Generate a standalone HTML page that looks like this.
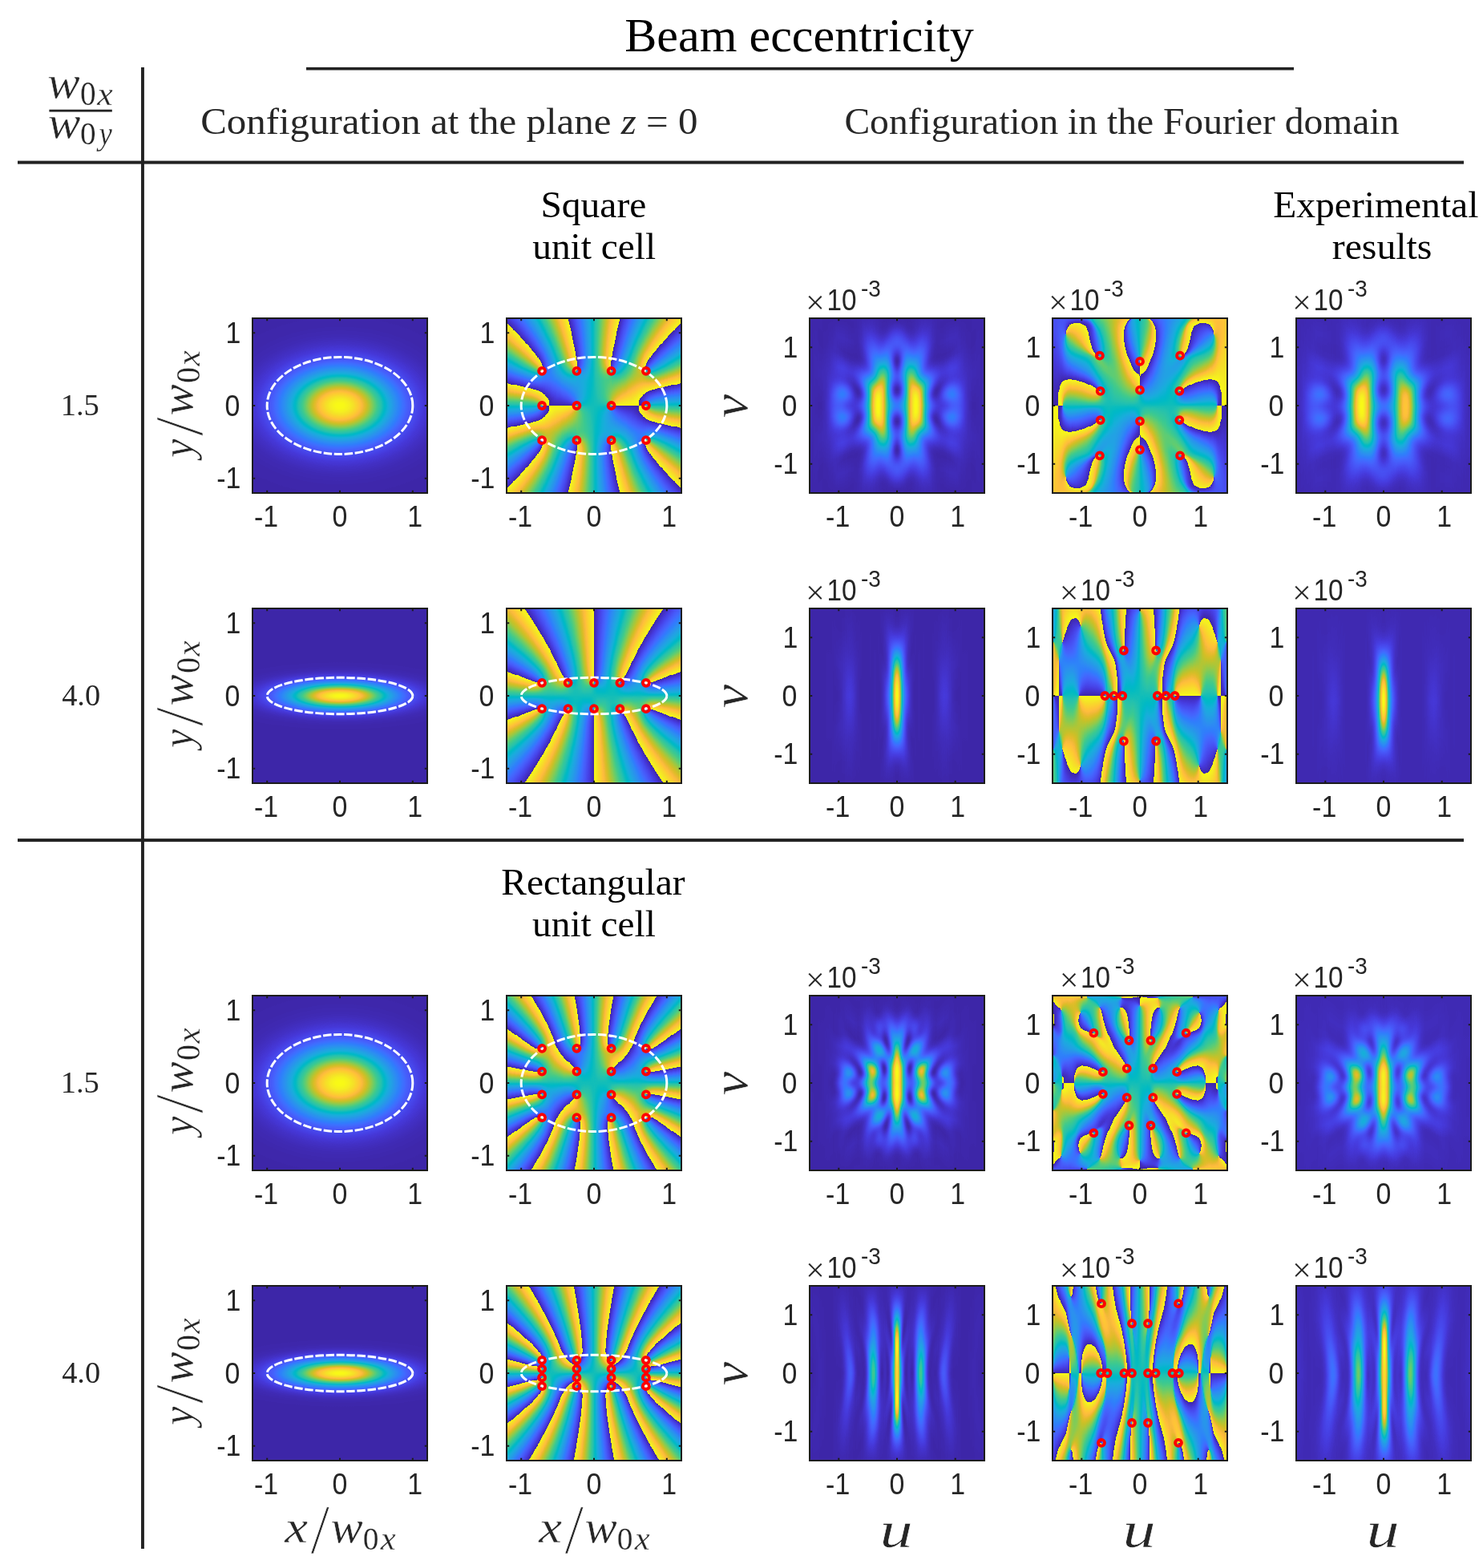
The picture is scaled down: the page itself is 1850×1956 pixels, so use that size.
<!DOCTYPE html><html><head><meta charset="utf-8"><title>Beam eccentricity</title><style>html,body{margin:0;padding:0;background:#fff}body{width:1850px;height:1956px;position:relative;overflow:hidden}.m{position:absolute;width:220px;height:220px;overflow:hidden;filter:url(#pa);background:#000}.m b{position:absolute;inset:0}.w{position:absolute;width:232px;height:232px}.m i{position:absolute;background-repeat:no-repeat}.v i{inset:0 1px;background-size:1px 50%;background-position:100% 0,0 100%,0 0,100% 100%;background-image:linear-gradient(0deg,var(--s)),linear-gradient(var(--s)),linear-gradient(0deg,var(--s)),linear-gradient(var(--s))}.h i{inset:1px 0;background-size:50% 1px;background-position:100% 0,0 100%,0 0,100% 100%;background-image:linear-gradient(90deg,var(--s)),linear-gradient(-90deg,var(--s)),linear-gradient(-90deg,var(--s)),linear-gradient(90deg,var(--s))}.m>i,.w>i{inset:0}.P i{background-color:#fff;background-blend-mode:normal,normal,difference,difference}#o{position:absolute;left:0;top:0}text{white-space:pre}</style></head><body><svg width="0" height="0" style="position:absolute"><filter id="pa" color-interpolation-filters="sRGB" x="0" y="0" width="1" height="1"><feColorMatrix values="0.94118 0.05882 0 0 0 0.94118 0.05882 0 0 0 0.94118 0.05882 0 0 0 0 0 0 1 0"/><feComponentTransfer><feFuncR type="table" tableValues=".242 .25 .258 .265 .271 .275 .278 .28 .281 .281 .28 .276 .27 .26 .244 .221 .196 .183 .179 .176 .169 .154 .146 .138 .125 .111 .095 .069 .03 .004 .007 .043 .096 .141 .172 .194 .216 .247 .291 .341 .391 .446 .504 .562 .617 .672 .724 .774 .82 .863 .903 .939 .973 .996 .997 .995 .989 .979 .968 .961 .96 .963 .969 .977"/><feFuncG type="table" tableValues=".15 .165 .182 .198 .215 .234 .256 .278 .301 .323 .345 .367 .389 .412 .436 .46 .485 .507 .529 .55 .57 .59 .609 .628 .646 .663 .68 .695 .708 .72 .731 .741 .75 .758 .767 .776 .784 .792 .797 .801 .803 .802 .799 .794 .788 .779 .77 .76 .75 .741 .733 .729 .73 .743 .766 .789 .814 .839 .864 .889 .913 .937 .961 .984"/><feFuncB type="table" tableValues=".66 .708 .751 .795 .836 .871 .899 .922 .941 .958 .972 .983 .991 .995 .999 .997 .989 .98 .968 .952 .936 .922 .908 .897 .888 .876 .86 .839 .816 .792 .766 .739 .712 .684 .655 .625 .592 .557 .519 .479 .435 .391 .348 .304 .261 .223 .191 .165 .153 .16 .177 .21 .239 .237 .22 .203 .189 .177 .164 .154 .142 .127 .106 .081"/></feComponentTransfer></filter></svg><div class="m" style="left:314px;top:396px"><b style="background:radial-gradient(181.67px 121.11px,#ff0 0%,#fd0 3.125%,#f70 6.375%,#ec0 9.75%,#dc0 13.5%,#c50 17.88%,#990 25.25%,#6c0 32.75%,#510 37.88%,#3c0 42.62%,#2a0 47.38%,#1d0 52.25%,#120 57.63%,#0a0 63.75%,#040 71.5%,#010 83.12%,#000 100%)"></b></div><div class="m P v" style="left:631px;top:396px"><i style="--s:#7f0,#000 30Q,#ff0 0,#ee0 34Q,#990 56Q,#5d0 74Q,#2b0 92Q,#000 111Q,#ff0 0,#fc0 112Q,#f30 116Q"><i style="--s:#7f0,#000 30Q,#ff0 0,#ed0 34Q,#970 56Q,#5b0 74Q,#290 92Q,#000 110Q,#ff0 0,#f90 112Q,#f10 116Q"><i style="--s:#7f0,#000 30Q,#ff0 0,#f00 33Q,#990 55Q,#620 71Q,#2e0 89Q,#000 108Q,#ff0 0,#fb0 110Q,#ef0 116Q"><i style="--s:#7f0,#000 29Q,#ff0 0,#ef0 33Q,#970 55Q,#600 71Q,#2b0 89Q,#000 107Q,#ff0 0,#f90 110Q,#ec0 116Q"><i style="--s:#7f0,#000 29Q,#ff0 0,#ed0 33Q,#950 55Q,#5d0 71Q,#290 89Q,#000 106Q,#ff0 0,#f60 110Q,#ea0 116Q"><i style="--s:#7f0,#000 29Q,#ff0 0,#ec0 33Q,#930 55Q,#5b0 71Q,#290 88Q,#000 105Q,#ff0 0,#fa0 107Q,#e70 116Q"><i style="--s:#7f0,#000 28Q,#ff0 0,#ef0 32Q,#990 53Q,#5c0 70Q,#290 87Q,#000 104Q,#ff0 0,#fa0 106Q,#e50 116Q"><i style="--s:#7f0,#000 28Q,#ff0 0,#ee0 32Q,#970 53Q,#5d0 69Q,#290 86Q,#000 103Q,#ff0 0,#f90 105Q,#e20 116Q"><i style="--s:#7f0,#000 28Q,#ff0 0,#f10 31Q,#990 52Q,#5e0 68Q,#2c0 84Q,#000 102Q,#ff0 0,#fb0 103Q,#e00 116Q"><i style="--s:#7f0,#000 28Q,#ff0 0,#f00 31Q,#960 52Q,#5b0 68Q,#2a0 84Q,#000 100Q,#ff0 0,#fb0 102Q,#dd0 116Q"><i style="--s:#7f0,#000 27Q,#ff0 0,#f30 30Q,#940 52Q,#590 68Q,#270 84Q,#000 99Q,#ff0 0,#f80 102Q,#db0 116Q"><i style="--s:#7f0,#000 27Q,#ff0 0,#f20 30Q,#920 52Q,#590 67Q,#270 83Q,#000 98Q,#ff0 0,#f80 101Q,#d80 116Q"><i style="--s:#7f0,#000 27Q,#ff0 0,#f50 29Q,#940 51Q,#5a0 66Q,#2a0 81Q,#000 97Q,#ff0 0,#fa0 99Q,#d60 116Q"><i style="--s:#7f0,#000 27Q,#ff0 0,#f90 28Q,#920 51Q,#580 66Q,#270 81Q,#000 96Q,#ff0 0,#fa0 98Q,#d30 116Q"><i style="--s:#7f0,#000 26Q,#ff0 0,#fc0 27Q,#900 51Q,#550 66Q,#240 81Q,#000 95Q,#ff0 0,#f70 98Q,#d00 116Q"><i style="--s:#7f0,#010 26Q,#000 0,#ff0 0,#8d0 51Q,#560 65Q,#250 80Q,#000 94Q,#ff0 0,#f60 97Q,#ce0 116Q"><i style="--s:#7f0,#040 25Q,#000 26Q,#ff0 0,#8b0 51Q,#530 65Q,#250 79Q,#000 93Q,#ff0 0,#f60 96Q,#cb0 116Q"><i style="--s:#7f0,#080 24Q,#000 26Q,#ff0 0,#890 51Q,#500 65Q,#220 79Q,#000 92Q,#ff0 0,#f30 96Q,#c80 116Q"><i style="--s:#7f0,#0c0 23Q,#000 25Q,#ff0 0,#860 51Q,#510 64Q,#220 78Q,#000 90Q,#ff0 0,#f50 94Q,#cb0 113Q,#c50 116Q"><i style="--s:#7f0,#0f0 22Q,#000 25Q,#ff0 0,#840 51Q,#4e0 64Q,#1f0 78Q,#000 89Q,#ff0 0,#f20 94Q,#c80 113Q,#c30 116Q"><i style="--s:#7f0,#130 21Q,#000 25Q,#ff0 0,#7d0 52Q,#470 65Q,#180 79Q,#000 88Q,#ff0 0,#ed0 95Q,#c20 115Q,#c00 116Q"><i style="--s:#7f0,#170 20Q,#000 25Q,#ff0 0,#7a0 52Q,#480 64Q,#1b0 77Q,#000 87Q,#ff0 0,#ee0 93Q,#c50 112Q,#bd0 116Q"><i style="--s:#7f0,#1b0 19Q,#000 24Q,#ff0 0,#730 53Q,#410 65Q,#150 78Q,#000 86Q,#ff0 0,#e90 94Q,#c00 113Q,#ba0 116Q"><i style="--s:#7f0,#240 17Q,#000 24Q,#ff0 0,#700 53Q,#3e0 65Q,#120 78Q,#000 85Q,#ff0 0,#e60 94Q,#bd0 113Q,#b70 116Q"><i style="--s:#7f0,#280 16Q,#000 24Q,#ff0 0,#640 55Q,#3a0 65Q,#0f0 78Q,#000 83Q,#ff0 0,#e30 94Q,#ba0 113Q,#b40 116Q"><i style="--s:#7f0,#2c0 15Q,#000 24Q,#ff0 0,#610 55Q,#370 65Q,#0b0 78Q,#000 82Q,#ff0 0,#df0 94Q,#b70 113Q,#b10 116Q"><i style="--s:#7f0,#310 14Q,#000 23Q,#ff0 0,#9b0 43Q,#590 56Q,#300 66Q,#050 79Q,#000 81Q,#ff0 0,#da0 95Q,#b00 115Q,#af0 116Q"><i style="--s:#7f0,#350 13Q,#000 23Q,#ff0 0,#a40 41Q,#5a0 55Q,#340 64Q,#0a0 76Q,#000 80Q,#ff0 0,#e30 90Q,#b70 110Q,#ac0 116Q"><i style="--s:#7f0,#390 12Q,#000 23Q,#ff0 0,#a70 40Q,#610 53Q,#340 63Q,#0a0 75Q,#000 79Q,#ff0 0,#e20 89Q,#b80 108Q,#a90 116Q"><i style="--s:#7f0,#3d0 11Q,#000 23Q,#ff0 0,#ea0 27Q,#a00 41Q,#5d0 53Q,#340 62Q,#100 72Q,#000 77Q,#ff0 0,#e30 87Q,#bb0 105Q,#a60 116Q"><i style="--s:#7f0,#420 10Q,#000 23Q,#ff0 0,#fd0 0,#af0 38Q,#5a0 53Q,#300 62Q,#0c0 72Q,#000 76Q,#ff0 0,#e00 87Q,#b70 105Q,#a30 116Q"><i style="--s:#7f0,#410 10Q,#010 22Q,#000 0,#ff0 0,#b40 37Q,#560 53Q,#2c0 62Q,#080 72Q,#000 75Q,#ff0 0,#dd0 87Q,#b40 105Q,#a00 116Q"><i style="--s:#7f0,#450 9Q,#0a0 20Q,#000 22Q,#ff0 0,#be0 35Q,#7c0 46Q,#480 55Q,#280 62Q,#040 72Q,#000 73Q,#ff0 0,#d90 87Q,#af0 106Q,#9d0 116Q"><i style="--s:#7f0,#4a0 8Q,#1d0 16Q,#000 22Q,#ff0 0,#bd0 35Q,#860 44Q,#540 52Q,#2c0 60Q,#0a0 69Q,#000 72Q,#ff0 0,#e00 83Q,#b60 101Q,#990 116Q"><i style="--s:#7f0,#480 8Q,#1b0 16Q,#000 21Q,#ff0 0,#c10 34Q,#920 42Q,#560 51Q,#310 58Q,#100 66Q,#000 71Q,#ff0 0,#e70 79Q,#bd0 96Q,#960 116Q"><i style="--s:#7f0,#4c0 7Q,#240 14Q,#000 21Q,#ff0 0,#c10 34Q,#970 41Q,#510 51Q,#2c0 58Q,#0c0 66Q,#000 70Q,#ff0 0,#e30 79Q,#b90 96Q,#930 116Q"><i style="--s:#7f0,#510 6Q,#2c0 12Q,#000 21Q,#ff0 0,#ec0 25Q,#bb0 35Q,#960 41Q,#4d0 51Q,#2c0 57Q,#0f0 64Q,#000 69Q,#ff0 0,#e70 76Q,#bf0 92Q,#970 112Q,#900 116Q"><i style="--s:#7f0,#560 5Q,#350 10Q,#070 19Q,#000 21Q,#ff0 0,#c00 34Q,#9c0 40Q,#760 45Q,#4f0 50Q,#2b0 56Q,#0e0 63Q,#000 67Q,#ff0 0,#e60 75Q,#c00 90Q,#950 111Q,#8d0 116Q"><i style="--s:#7f0,#530 5Q,#380 9Q,#140 16Q,#000 20Q,#ff0 0,#bf0 34Q,#9c0 40Q,#7d0 44Q,#510 49Q,#360 53Q,#180 59Q,#000 66Q,#ff0 0,#f70 68Q,#cf0 82Q,#a70 100Q,#8a0 116Q"><i style="--s:#7f0,#580 4Q,#420 7Q,#250 12Q,#000 20Q,#ff0 0,#e40 26Q,#ba0 35Q,#9d0 40Q,#850 43Q,#4c0 49Q,#360 52Q,#170 58Q,#000 64Q,#ff0 0,#f80 66Q,#d00 80Q,#a70 98Q,#860 116Q"><i style="--s:#7f0,#5e0 3Q,#450 6Q,#2c0 10Q,#000 20Q,#ff0 0,#fd0 0,#c00 34Q,#9e0 40Q,#860 43Q,#4f0 48Q,#360 51Q,#1a0 56Q,#000 63Q,#ff0 0,#fe0 0,#d60 76Q,#ae0 93Q,#870 114Q,#830 116Q"><i style="--s:#7f0,#5a0 3Q,#480 5Q,#340 8Q,#110 15Q,#000 19Q,#ff0 0,#bb0 35Q,#a00 40Q,#910 42Q,#7c0 44Q,#490 48Q,#360 50Q,#220 53Q,#040 60Q,#000 61Q,#ff0 0,#e00 71Q,#b50 88Q,#8d0 108Q,#800 116Q"><i style="--s:#7f0,#5f0 2Q,#530 3Q,#420 5Q,#2a0 9Q,#000 19Q,#ff0 0,#f90 20Q,#b30 37Q,#9c0 41Q,#8b0 43Q,#7f0 44Q,#5e0 46Q,#4d0 47Q,#400 48Q,#2d0 50Q,#1a0 53Q,#000 60Q,#ff0 0,#fa0 61Q,#d00 75Q,#a60 93Q,#800 114Q,#7d0 116Q"><i style="--s:#7d0,#560 2Q,#4a0 3Q,#3b0 5Q,#210 10Q,#000 18Q,#ff0 0,#cd0 31Q,#a60 40Q,#9a0 42Q,#910 43Q,#850 44Q,#720 45Q,#590 46Q,#430 47Q,#330 48Q,#290 49Q,#170 52Q,#000 58Q,#ff0 0,#f70 60Q,#cc0 75Q,#a30 93Q,#7d0 114Q,#790 116Q"><i style="--s:#6f0,#460 2Q,#3e0 3Q,#2e0 6Q,#000 18Q,#ff0 0,#ee0 22Q,#a60 41Q,#9b0 43Q,#920 44Q,#810 45Q,#4e0 46Q,#2e0 47Q,#220 48Q,#110 51Q,#000 56Q,#ff0 0,#eb0 62Q,#be0 79Q,#950 98Q,#760 116Q"><i style="--s:#1f0,#300 2Q,#2d0 4Q,#000 17Q,#ff0 0,#b20 39Q,#a80 43Q,#a80 44Q,#af0 45Q,#f00 46Q,#ff0 47Q,#000 0,#080 0,#0b0 48Q,#000 53Q,#000 0,#ff0 0,#c30 75Q,#990 94Q,#730 116Q"><i style="--s:#050,#1e0 2Q,#220 3Q,#220 5Q,#150 10Q,#000 16Q,#ff0 0,#c00 35Q,#b20 41Q,#b30 43Q,#b80 44Q,#c50 45Q,#dc0 46Q,#ee0 47Q,#f70 48Q,#fb0 50Q,#f00 56Q,#b30 80Q,#8a0 100Q,#6f0 116Q"><i style="--s:#010,#130 2Q,#180 3Q,#1a0 5Q,#130 9Q,#000 15Q,#ff0 0,#c10 35Q,#b70 40Q,#b80 42Q,#bb0 43Q,#c00 44Q,#ca0 45Q,#e20 47Q,#e90 48Q,#ef0 50Q,#eb0 55Q,#a40 85Q,#7c0 106Q,#6c0 116Q"><i style="--s:#000,#0d0 2Q,#130 4Q,#130 7Q,#050 13Q,#000 15Q,#ff0 0,#c70 33Q,#bb0 39Q,#bc0 42Q,#c30 44Q,#da0 47Q,#e30 49Q,#e70 52Q,#db0 59Q,#9d0 86Q,#770 107Q,#690 116Q"><i style="--s:#000,#0c0 3Q,#0f0 6Q,#090 10Q,#000 13Q,#ff0 0,#e60 22Q,#c50 34Q,#bd0 39Q,#be0 42Q,#c40 44Q,#d80 48Q,#de0 51Q,#db0 56Q,#bf0 69Q,#8d0 92Q,#680 114Q,#650 116Q"><i style="--s:#000,#0a0 4Q,#0a0 7Q,#010 12Q,#000 0,#ff0 0,#c70 33Q,#be0 39Q,#bf0 42Q,#c70 45Q,#d40 49Q,#d80 52Q,#d10 58Q,#890 92Q,#630 115Q,#620 116Q"><i style="--s:#000,#070 5Q,#040 9Q,#000 11Q,#ff0 0,#f10 17Q,#c90 32Q,#be0 39Q,#c10 43Q,#cf0 49Q,#d10 53Q,#c60 61Q,#850 92Q,#600 115Q,#5e0 116Q"><i style="--s:#000,#040 5Q,#000 10Q,#ff0 0,#ff0 0,#e70 20Q,#c60 33Q,#be0 39Q,#c00 43Q,#ca0 50Q,#c80 56Q,#b60 66Q,#7f0 93Q,#5b0 116Q"><i style="--s:#000,#020 6Q,#000 7Q,#ff0 0,#f80 12Q,#c60 33Q,#bd0 40Q,#c00 45Q,#c50 51Q,#c00 58Q,#9c0 76Q,#710 99Q,#570 116Q"><i style="--s:#000,#000 0,#ff0 0,#fe0 7Q,#f20 14Q,#c50 33Q,#bc0 40Q,#bf0 47Q,#bf0 53Q,#b40 62Q,#760 94Q,#540 116Q"><i style="--s:#000,#000 0,#ff0 0,#fc0 7Q,#ee0 15Q,#c40 33Q,#bb0 40Q,#ba0 53Q,#ae0 62Q,#700 95Q,#500 116Q"><i style="--s:#000,#000 0,#ff0 0,#f90 8Q,#e70 17Q,#c30 33Q,#b90 41Q,#b50 53Q,#a70 63Q,#6c0 95Q,#4d0 116Q"><i style="--s:#000,#000 0,#ff0 0,#f60 9Q,#dc0 21Q,#c00 34Q,#b60 42Q,#ae0 55Q,#9d0 66Q,#680 95Q,#490 116Q"><i style="--s:#000,#000 0,#ff0 0,#f20 10Q,#be0 34Q,#b30 43Q,#a80 56Q,#8e0 71Q,#610 97Q,#460 116Q"><i style="--s:#000,#000 0,#ff0 0,#ef0 11Q,#bd0 34Q,#b00 44Q,#a20 57Q,#5d0 97Q,#420 116Q"><i style="--s:#000,#000 0,#ff0 0,#eb0 12Q,#bb0 34Q,#ab0 46Q,#980 60Q,#5c0 95Q,#3f0 116Q"><i style="--s:#000,#000 0,#ff0 0,#e60 14Q,#b80 35Q,#900 62Q,#590 94Q,#3b0 116Q"><i style="--s:#000,#000 0,#ff0 0,#e00 16Q,#b20 37Q,#860 65Q,#550 94Q,#370 116Q"><i style="--s:#000,#000 0,#ff0 0,#d50 20Q,#ad0 39Q,#6d0 76Q,#470 101Q,#340 116Q"><i style="--s:#000,#000 0,#ff0 0,#a80 40Q,#580 86Q,#340 113Q,#300 116Q"><i style="--s:#000,#000 0,#ff0 0,#a40 41Q,#5f0 79Q,#3b0 104Q,#2c0 116Q"><i style="--s:#000,#000 0,#ff0 0,#a10 41Q,#6b0 69Q,#420 95Q,#290 116Q"><i style="--s:#ff0,#a80 37Q,#750 61Q,#4e0 84Q,#2b0 111Q,#250 116Q"><i style="--s:#ff0,#c10 25Q,#740 59Q,#4f0 80Q,#2c0 106Q,#210 116Q"><i style="--s:#ff0,#cb0 20Q,#6f0 59Q,#4e0 78Q,#2b0 104Q,#1e0 116Q"><i style="--s:#ff0,#d30 16Q,#940 42Q,#6c0 58Q,#4d0 75Q,#2b0 100Q,#1a0 116Q"><i style="--s:#ff0,#d70 14Q,#970 40Q,#6a0 57Q,#4f0 71Q,#2c0 96Q,#160 116Q"><i style="--s:#ff0,#da0 12Q,#980 39Q,#670 56Q,#4f0 68Q,#2f0 90Q,#130 116Q"><i style="--s:#ff0,#dc0 11Q,#980 38Q,#650 55Q,#4d0 66Q,#300 86Q,#100 115Q,#0f0 116Q"><i style="--s:#ff0,#dd0 10Q,#b80 25Q,#970 38Q,#600 55Q,#4a0 65Q,#2d0 84Q,#0e0 113Q,#0b0 116Q"><i style="--s:#ff0,#de0 9Q,#bf0 21Q,#9e0 35Q,#7c0 45Q,#5b0 55Q,#460 64Q,#2b0 82Q,#0c0 111Q,#070 116Q"><i style="--s:#ff0,#dd0 9Q,#c00 20Q,#9f0 34Q,#810 43Q,#5b0 53Q,#450 62Q,#2d0 77Q,#0e0 104Q,#030 116Q"><i style="--s:#ff0,#de0 8Q,#c70 16Q,#9d0 34Q,#820 42Q,#5a0 52Q,#440 60Q,#2f0 72Q,#100 98Q,#000 116Q,#ff0 0,#ff0 0"><i style="--s:#ff0,#e00 7Q,#ca0 14Q,#9c0 34Q,#850 41Q,#580 51Q,#420 58Q,#2f0 68Q,#140 90Q,#000 111Q,#ff0 0,#fb0 116Q"><i style="--s:#ff0,#e20 6Q,#cd0 12Q,#9b0 34Q,#830 41Q,#530 51Q,#3d0 58Q,#2a0 68Q,#0f0 90Q,#000 107Q,#ff0 0,#f70 116Q"><i style="--s:#ff0,#df0 6Q,#ce0 11Q,#b20 23Q,#9a0 34Q,#860 40Q,#6d0 45Q,#520 50Q,#3c0 56Q,#2b0 64Q,#130 82Q,#000 103Q,#ff0 0,#f50 114Q,#f30 116Q"><i style="--s:#ff0,#e10 5Q,#ce0 10Q,#b60 20Q,#990 34Q,#850 40Q,#700 44Q,#4c0 50Q,#380 55Q,#280 62Q,#130 78Q,#000 98Q,#ff0 0,#f50 108Q,#ef0 116Q"><i style="--s:#ff0,#e40 4Q,#d10 8Q,#c10 14Q,#990 34Q,#850 40Q,#750 43Q,#4b0 49Q,#3c0 52Q,#2a0 58Q,#190 68Q,#000 92Q,#ff0 0,#fd0 94Q,#eb0 116Q"><i style="--s:#ff0,#e00 4Q,#d10 7Q,#c20 12Q,#980 34Q,#850 40Q,#740 43Q,#4b0 48Q,#390 51Q,#280 56Q,#190 64Q,#020 85Q,#000 87Q,#ff0 0,#e80 116Q"><i style="--s:#ff0,#e20 3Q,#d60 5Q,#ca0 8Q,#b90 15Q,#980 34Q,#870 40Q,#750 43Q,#630 45Q,#440 48Q,#360 50Q,#290 53Q,#190 60Q,#040 77Q,#000 82Q,#ff0 0,#e80 110Q,#e40 116Q"><i style="--s:#fe0,#e60 2Q,#dc0 3Q,#d00 5Q,#c20 9Q,#ae0 20Q,#960 35Q,#890 40Q,#7f0 42Q,#6e0 44Q,#460 47Q,#3b0 48Q,#2d0 50Q,#210 53Q,#110 61Q,#000 77Q,#ff0 0,#fa0 82Q,#e00 116Q"><i style="--s:#fd0,#dd0 2Q,#d40 3Q,#c90 5Q,#be0 9Q,#a50 25Q,#910 38Q,#880 41Q,#7c0 43Q,#720 44Q,#630 45Q,#3c0 47Q,#2f0 48Q,#270 49Q,#1a0 52Q,#0c0 60Q,#000 72Q,#ff0 0,#f30 84Q,#dc0 116Q"><i style="--s:#f50,#cf0 2Q,#c80 3Q,#c10 5Q,#b30 13Q,#910 39Q,#890 42Q,#850 43Q,#7d0 44Q,#6c0 45Q,#450 46Q,#2a0 47Q,#1e0 48Q,#150 50Q,#070 58Q,#000 66Q,#ff0 0,#ec0 86Q,#d80 116Q"><i style="--s:#b30,#ba0 2Q,#b20 11Q,#910 43Q,#910 44Q,#950 45Q,#f70 46Q,#ff0 47Q,#000 0,#060 0,#050 53Q,#000 59Q,#ff0 0,#e20 94Q,#d40 116Q"><i style="--s:#860,#a60 2Q,#ac0 3Q,#b00 5Q,#ae0 11Q,#970 38Q,#990 42Q,#9c0 43Q,#a30 44Q,#b20 45Q,#d00 46Q,#e70 47Q,#f20 48Q,#f90 50Q,#f90 57Q,#d60 106Q,#d00 116Q"><i style="--s:#810,#9a0 2Q,#a10 3Q,#a80 5Q,#ab0 9Q,#a00 25Q,#990 37Q,#9c0 41Q,#a40 43Q,#ac0 44Q,#b80 45Q,#d80 47Q,#e20 48Q,#ec0 50Q,#f10 55Q,#ea0 69Q,#ce0 113Q,#cc0 116Q"><i style="--s:#800,#930 2Q,#9e0 4Q,#a50 7Q,#a60 13Q,#990 34Q,#9d0 40Q,#a30 42Q,#af0 44Q,#ce0 47Q,#dd0 49Q,#e70 52Q,#e90 59Q,#c90 116Q"><i style="--s:#800,#940 3Q,#9f0 6Q,#a30 10Q,#9f0 22Q,#990 34Q,#9f0 40Q,#aa0 43Q,#c00 46Q,#cf0 48Q,#d80 50Q,#e00 53Q,#e20 60Q,#c50 116Q"><i style="--s:#800,#940 4Q,#9c0 7Q,#a00 12Q,#990 34Q,#a00 40Q,#aa0 43Q,#cc0 49Q,#d60 52Q,#dc0 58Q,#d80 71Q,#c10 116Q"><i style="--s:#800,#910 4Q,#9a0 8Q,#9d0 14Q,#980 33Q,#9e0 39Q,#a60 42Q,#c60 49Q,#d10 53Q,#d60 60Q,#cf0 78Q,#bd0 116Q"><i style="--s:#800,#910 5Q,#990 10Q,#9a0 20Q,#980 33Q,#9d0 39Q,#a80 43Q,#c30 50Q,#ce0 56Q,#cf0 64Q,#b90 116Q"><i style="--s:#800,#910 6Q,#970 12Q,#970 33Q,#9e0 40Q,#ad0 45Q,#c00 51Q,#c80 57Q,#c90 67Q,#b50 116Q"><i style="--s:#800,#8e0 6Q,#950 12Q,#960 34Q,#9f0 41Q,#ba0 51Q,#c20 58Q,#c30 69Q,#b10 116Q"><i style="--s:#800,#8e0 7Q,#930 14Q,#940 33Q,#9c0 40Q,#b60 52Q,#bd0 60Q,#bb0 76Q,#ad0 116Q"><i style="--s:#800,#8d0 8Q,#920 17Q,#930 33Q,#9b0 41Q,#b10 52Q,#b80 61Q,#b40 80Q,#a90 116Q"><i style="--s:#800,#8d0 9Q,#900 20Q,#920 34Q,#9c0 43Q,#ad0 53Q,#b20 63Q,#ab0 95Q,#a50 116Q"><i style="--s:#800,#8c0 10Q,#8e0 25Q,#920 37Q,#a10 48Q,#ac0 58Q,#ac0 71Q,#a10 116Q"><i style="--s:#800,#8a0 11Q,#8f0 35Q,#9c0 47Q,#a60 58Q,#a70 74Q,#9d0 116Q"><i style="--s:#800,#890 12Q,#8e0 37Q,#a00 57Q,#a20 72Q,#990 116Q"><i style="--s:#800,#880 13Q,#8c0 37Q,#9c0 58Q,#9c0 78Q,#950 116Q"><i style="--s:#800,#870 15Q,#8a0 38Q,#970 59Q,#950 87Q,#910 116Q"><i style="--s:#800,#850 17Q,#890 40Q,#920 61Q,#8d0 116Q"><i style="--s:#800,#840 22Q,#880 44Q,#8d0 65Q,#890 116Q"><i style="--s:#800,#860 52Q,#860 106Q,#850 116Q"><i style="--s:#800,#820 100Q,#810 116Q"></i></i></i></i></i></i></i></i></i></i></i></i></i></i></i></i></i></i></i></i></i></i></i></i></i></i></i></i></i></i></i></i></i></i></i></i></i></i></i></i></i></i></i></i></i></i></i></i></i></i></i></i></i></i></i></i></i></i></i></i></i></i></i></i></i></i></i></i></i></i></i></i></i></i></i></i></i></i></i></i></i></i></i></i></i></i></i></i></i></i></i></i></i></i></i></i></i></i></i></i></i></i></i></i></i></i></i></i></i></i></div><div class="m v" style="left:1009px;top:396px"><i style="--s:#020,#010 116Q"><i style="--s:#030,#010 116Q"><i style="--s:#030,#010 116Q"><i style="--s:#030,#010 116Q"><i style="--s:#020,#010 100Q,#010 116Q"><i style="--s:#020,#020 75Q,#010 116Q"><i style="--s:#020,#020 59Q,#010 116Q"><i style="--s:#020,#030 53Q,#010 116Q"><i style="--s:#010,#030 49Q,#010 116Q"><i style="--s:#010,#030 47Q,#010 115Q,#010 116Q"><i style="--s:#010,#030 45Q,#010 101Q,#010 116Q"><i style="--s:#000,#040 44Q,#010 94Q,#010 116Q"><i style="--s:#000,#040 43Q,#000 89Q,#010 116Q"><i style="--s:#000,#040 43Q,#000 86Q,#010 116Q"><i style="--s:#000,#030 26Q,#040 45Q,#000 83Q,#010 116Q"><i style="--s:#000,#030 25Q,#040 43Q,#000 82Q,#010 116Q"><i style="--s:#010,#030 25Q,#050 43Q,#000 80Q,#010 116Q"><i style="--s:#020,#040 25Q,#050 43Q,#000 79Q,#000 116Q"><i style="--s:#030,#050 26Q,#050 44Q,#010 78Q,#000 116Q"><i style="--s:#040,#060 30Q,#050 48Q,#010 80Q,#000 116Q"><i style="--s:#060,#060 44Q,#010 79Q,#000 116Q"><i style="--s:#080,#060 45Q,#010 81Q,#000 116Q"><i style="--s:#0a0,#070 48Q,#010 83Q,#000 116Q"><i style="--s:#0d0,#0a0 29Q,#010 86Q,#000 116Q"><i style="--s:#0f0,#0d0 21Q,#080 47Q,#020 84Q,#000 116Q"><i style="--s:#120,#110 17Q,#0a0 40Q,#040 68Q,#000 115Q,#000 116Q"><i style="--s:#150,#150 16Q,#0b0 38Q,#070 62Q,#030 83Q,#000 116Q"><i style="--s:#190,#190 15Q,#110 27Q,#0c0 38Q,#080 60Q,#030 79Q,#000 116Q"><i style="--s:#1c0,#1d0 14Q,#170 23Q,#0e0 34Q,#0c0 45Q,#0a0 59Q,#040 77Q,#000 116Q"><i style="--s:#1f0,#210 14Q,#1b0 22Q,#100 33Q,#0d0 42Q,#0b0 57Q,#040 75Q,#010 104Q,#000 116Q"><i style="--s:#220,#250 14Q,#200 21Q,#110 33Q,#0e0 41Q,#0d0 55Q,#050 75Q,#020 100Q,#000 116Q"><i style="--s:#240,#290 14Q,#250 20Q,#120 33Q,#0e0 40Q,#0e0 55Q,#050 74Q,#030 98Q,#000 116Q"><i style="--s:#270,#2b0 9Q,#2d0 14Q,#280 20Q,#150 32Q,#100 38Q,#100 48Q,#0e0 57Q,#060 71Q,#050 85Q,#020 101Q,#000 116Q"><i style="--s:#290,#2c0 7Q,#300 13Q,#2f0 17Q,#270 23Q,#160 32Q,#100 38Q,#110 46Q,#100 55Q,#060 71Q,#050 83Q,#040 97Q,#000 115Q,#000 116Q"><i style="--s:#2a0,#2e0 6Q,#340 13Q,#330 17Q,#2c0 22Q,#180 31Q,#110 37Q,#110 43Q,#120 52Q,#0c0 61Q,#050 71Q,#050 82Q,#050 95Q,#000 114Q,#000 116Q"><i style="--s:#2c0,#2f0 5Q,#360 12Q,#370 16Q,#310 21Q,#190 31Q,#140 35Q,#110 41Q,#130 51Q,#0f0 59Q,#060 69Q,#040 78Q,#050 93Q,#000 114Q,#000 116Q"><i style="--s:#2c0,#300 5Q,#390 12Q,#3a0 16Q,#330 21Q,#1a0 31Q,#140 35Q,#120 41Q,#140 51Q,#0f0 59Q,#060 69Q,#040 78Q,#060 92Q,#000 114Q,#000 116Q"><i style="--s:#2d0,#2f0 4Q,#3b0 12Q,#3d0 15Q,#3a0 19Q,#310 23Q,#1d0 30Q,#160 34Q,#120 39Q,#150 51Q,#0f0 59Q,#060 68Q,#040 76Q,#060 92Q,#000 114Q,#000 116Q"><i style="--s:#2d0,#300 4Q,#3d0 12Q,#3f0 15Q,#3c0 19Q,#320 23Q,#1e0 30Q,#160 34Q,#120 39Q,#150 50Q,#110 57Q,#050 68Q,#030 76Q,#060 90Q,#000 114Q,#000 116Q"><i style="--s:#2c0,#2f0 4Q,#3f0 12Q,#410 15Q,#3d0 19Q,#330 23Q,#1e0 30Q,#160 34Q,#130 39Q,#150 50Q,#100 57Q,#050 67Q,#030 74Q,#060 90Q,#000 113Q,#000 116Q"><i style="--s:#2b0,#2f0 4Q,#3f0 12Q,#420 15Q,#3e0 19Q,#370 22Q,#1d0 30Q,#150 34Q,#130 39Q,#160 49Q,#120 55Q,#050 67Q,#020 74Q,#060 90Q,#000 113Q,#000 116Q"><i style="--s:#2a0,#2e0 4Q,#400 12Q,#420 15Q,#3f0 19Q,#370 22Q,#1d0 30Q,#160 33Q,#120 38Q,#160 49Q,#120 55Q,#050 66Q,#020 72Q,#060 89Q,#000 113Q,#000 116Q"><i style="--s:#280,#2c0 4Q,#3f0 12Q,#420 15Q,#3e0 19Q,#360 22Q,#1f0 29Q,#180 32Q,#130 35Q,#130 40Q,#160 48Q,#130 53Q,#040 66Q,#020 72Q,#060 89Q,#000 113Q,#000 116Q"><i style="--s:#260,#2b0 4Q,#3e0 12Q,#410 15Q,#3d0 19Q,#350 22Q,#1e0 29Q,#160 32Q,#130 35Q,#130 41Q,#150 48Q,#130 53Q,#040 65Q,#010 71Q,#060 88Q,#000 113Q,#000 116Q"><i style="--s:#240,#290 4Q,#3d0 12Q,#400 15Q,#3c0 19Q,#340 22Q,#1c0 29Q,#150 32Q,#120 35Q,#130 41Q,#150 48Q,#120 53Q,#030 65Q,#010 71Q,#060 88Q,#000 112Q,#000 116Q"><i style="--s:#220,#250 3Q,#2e0 7Q,#390 11Q,#3d0 14Q,#3d0 17Q,#340 21Q,#1a0 29Q,#140 32Q,#110 37Q,#140 47Q,#120 52Q,#030 64Q,#010 70Q,#050 88Q,#000 112Q,#000 116Q"><i style="--s:#200,#220 3Q,#2c0 7Q,#360 11Q,#3a0 14Q,#3a0 17Q,#310 21Q,#180 29Q,#120 32Q,#100 37Q,#140 46Q,#120 51Q,#030 64Q,#010 70Q,#050 87Q,#000 112Q,#000 116Q"><i style="--s:#1d0,#220 4Q,#330 11Q,#370 14Q,#360 17Q,#2e0 21Q,#180 28Q,#120 31Q,#0f0 35Q,#130 46Q,#110 51Q,#030 63Q,#010 69Q,#050 86Q,#000 112Q,#000 116Q"><i style="--s:#1b0,#200 4Q,#300 11Q,#330 14Q,#320 17Q,#2a0 21Q,#160 28Q,#100 31Q,#0e0 35Q,#130 45Q,#110 50Q,#020 63Q,#000 69Q,#050 86Q,#000 111Q,#000 116Q"><i style="--s:#190,#1d0 4Q,#2c0 11Q,#2f0 14Q,#2e0 17Q,#230 22Q,#130 28Q,#0e0 31Q,#0d0 35Q,#120 45Q,#100 50Q,#030 62Q,#000 68Q,#040 85Q,#000 110Q,#000 116Q"><i style="--s:#170,#1b0 4Q,#290 11Q,#2b0 14Q,#290 17Q,#1e0 22Q,#120 27Q,#0d0 31Q,#0d0 35Q,#120 44Q,#100 49Q,#020 62Q,#000 68Q,#040 85Q,#000 110Q,#000 116Q"><i style="--s:#160,#190 4Q,#250 11Q,#260 14Q,#240 17Q,#0f0 27Q,#0b0 31Q,#0e0 37Q,#120 44Q,#100 49Q,#020 61Q,#000 67Q,#040 84Q,#000 108Q,#000 116Q"><i style="--s:#140,#190 5Q,#210 11Q,#210 14Q,#1b0 19Q,#0e0 26Q,#0a0 30Q,#0c0 35Q,#120 43Q,#100 48Q,#020 61Q,#000 67Q,#030 84Q,#000 108Q,#000 116Q"><i style="--s:#130,#170 5Q,#1c0 11Q,#1c0 15Q,#110 22Q,#0a0 27Q,#090 31Q,#120 42Q,#110 47Q,#020 60Q,#000 66Q,#030 84Q,#000 107Q,#010 116Q"><i style="--s:#120,#160 7Q,#180 12Q,#160 16Q,#090 25Q,#080 29Q,#0d0 35Q,#120 42Q,#110 47Q,#020 60Q,#000 66Q,#030 84Q,#000 107Q,#010 116Q"><i style="--s:#120,#150 11Q,#110 16Q,#070 24Q,#060 28Q,#0c0 34Q,#130 41Q,#120 45Q,#0b0 52Q,#020 60Q,#000 67Q,#030 83Q,#000 107Q,#010 116Q"><i style="--s:#120,#120 10Q,#0c0 16Q,#050 23Q,#050 27Q,#0c0 33Q,#140 40Q,#140 44Q,#0d0 50Q,#020 59Q,#000 65Q,#020 84Q,#010 108Q,#010 116Q"><i style="--s:#120,#0f0 9Q,#040 21Q,#040 25Q,#090 30Q,#140 38Q,#160 42Q,#120 47Q,#030 58Q,#000 64Q,#020 85Q,#010 114Q,#010 116Q"><i style="--s:#120,#0f0 7Q,#030 19Q,#020 23Q,#060 27Q,#160 37Q,#170 41Q,#150 45Q,#030 58Q,#000 64Q,#020 86Q,#010 116Q"><i style="--s:#130,#100 6Q,#020 17Q,#010 22Q,#060 26Q,#160 35Q,#1a0 40Q,#170 44Q,#040 57Q,#000 63Q,#020 88Q,#010 116Q"><i style="--s:#140,#110 5Q,#020 15Q,#000 20Q,#040 24Q,#180 34Q,#1c0 39Q,#1a0 43Q,#0f0 50Q,#040 57Q,#000 63Q,#020 78Q,#020 116Q"><i style="--s:#160,#120 5Q,#030 14Q,#010 19Q,#030 22Q,#0d0 27Q,#1a0 33Q,#1f0 38Q,#1d0 42Q,#130 48Q,#050 56Q,#010 62Q,#010 71Q,#030 87Q,#020 116Q"><i style="--s:#190,#160 4Q,#050 13Q,#020 16Q,#030 20Q,#0a0 24Q,#1d0 32Q,#220 37Q,#200 41Q,#180 46Q,#070 55Q,#020 60Q,#010 67Q,#040 85Q,#020 116Q"><i style="--s:#1c0,#190 4Q,#070 13Q,#040 16Q,#070 20Q,#0f0 24Q,#200 31Q,#250 34Q,#260 38Q,#210 42Q,#0a0 53Q,#030 59Q,#010 65Q,#050 85Q,#020 116Q"><i style="--s:#200,#1c0 4Q,#0b0 12Q,#080 15Q,#0a0 19Q,#120 23Q,#240 30Q,#290 33Q,#2a0 37Q,#250 41Q,#0c0 52Q,#040 58Q,#020 64Q,#070 84Q,#020 116Q"><i style="--s:#250,#210 4Q,#100 12Q,#0d0 15Q,#100 19Q,#190 23Q,#290 29Q,#2e0 32Q,#2f0 35Q,#2b0 39Q,#200 44Q,#0f0 51Q,#060 57Q,#030 62Q,#060 72Q,#080 84Q,#020 116Q"><i style="--s:#2b0,#270 4Q,#160 12Q,#130 15Q,#170 19Q,#210 23Q,#2e0 28Q,#330 31Q,#350 34Q,#300 38Q,#250 43Q,#120 50Q,#080 56Q,#050 61Q,#060 69Q,#0a0 82Q,#060 100Q,#030 116Q"><i style="--s:#310,#2d0 4Q,#1f0 11Q,#1b0 14Q,#1d0 17Q,#270 22Q,#360 28Q,#3a0 31Q,#3a0 34Q,#340 38Q,#260 43Q,#150 49Q,#0a0 55Q,#060 60Q,#080 68Q,#0c0 80Q,#0a0 93Q,#030 116Q"><i style="--s:#390,#350 4Q,#270 11Q,#250 14Q,#260 17Q,#310 22Q,#3d0 27Q,#410 30Q,#400 33Q,#3a0 37Q,#2b0 42Q,#180 48Q,#0f0 52Q,#0a0 57Q,#090 62Q,#0f0 78Q,#0d0 88Q,#040 112Q,#030 116Q"><i style="--s:#420,#3e0 4Q,#310 11Q,#2f0 14Q,#310 17Q,#460 27Q,#480 30Q,#460 33Q,#3e0 37Q,#1c0 47Q,#130 51Q,#0c0 56Q,#0b0 61Q,#120 77Q,#100 86Q,#050 110Q,#030 116Q"><i style="--s:#4c0,#490 4Q,#3d0 11Q,#3b0 14Q,#3e0 17Q,#4f0 26Q,#510 29Q,#4e0 32Q,#470 35Q,#210 46Q,#160 50Q,#0f0 55Q,#0e0 60Q,#150 76Q,#120 85Q,#060 107Q,#030 116Q"><i style="--s:#580,#540 4Q,#4a0 11Q,#490 14Q,#4e0 19Q,#580 25Q,#590 28Q,#560 31Q,#4f0 34Q,#350 41Q,#220 46Q,#180 50Q,#120 55Q,#120 60Q,#180 74Q,#160 82Q,#070 105Q,#030 116Q"><i style="--s:#640,#600 5Q,#580 11Q,#570 14Q,#5c0 19Q,#620 24Q,#630 27Q,#5f0 30Q,#580 33Q,#400 39Q,#2b0 44Q,#1f0 48Q,#180 52Q,#160 58Q,#1c0 72Q,#190 81Q,#080 104Q,#030 116Q"><i style="--s:#710,#6d0 5Q,#670 11Q,#660 15Q,#6e0 24Q,#6d0 27Q,#670 30Q,#5d0 33Q,#310 43Q,#240 47Q,#1d0 51Q,#1a0 56Q,#1e0 65Q,#1f0 74Q,#1b0 82Q,#090 102Q,#030 116Q,#030 0"><i style="--s:#7f0,#7c0 5Q,#760 11Q,#760 15Q,#7a0 23Q,#770 26Q,#710 29Q,#660 32Q,#380 42Q,#2a0 46Q,#230 49Q,#1f0 53Q,#200 60Q,#230 69Q,#210 77Q,#150 89Q,#090 102Q,#040 115Q,#030 116Q"><i style="--s:#8e0,#8a0 6Q,#860 12Q,#860 22Q,#830 25Q,#7c0 28Q,#710 31Q,#3f0 41Q,#340 44Q,#2b0 47Q,#250 51Q,#240 57Q,#280 68Q,#240 76Q,#170 88Q,#0a0 101Q,#040 114Q,#030 116Q"><i style="--s:#9d0,#990 7Q,#950 13Q,#930 21Q,#8f0 24Q,#870 27Q,#7b0 30Q,#480 40Q,#3b0 43Q,#320 46Q,#2d0 49Q,#2a0 53Q,#2c0 67Q,#280 75Q,#180 88Q,#0b0 100Q,#040 112Q,#030 116Q"><i style="--s:#ac0,#a80 8Q,#a10 20Q,#9c0 23Q,#930 26Q,#870 29Q,#510 39Q,#440 42Q,#3a0 45Q,#340 48Q,#300 52Q,#300 66Q,#2b0 74Q,#0f0 96Q,#070 106Q,#030 116Q"><i style="--s:#bb0,#b70 8Q,#af0 19Q,#a90 22Q,#a00 25Q,#920 28Q,#710 34Q,#550 39Q,#490 42Q,#400 45Q,#390 49Q,#360 55Q,#350 65Q,#2f0 72Q,#110 94Q,#080 104Q,#030 116Q"><i style="--s:#c90,#c50 9Q,#bf0 16Q,#b60 21Q,#ac0 24Q,#9f0 27Q,#820 32Q,#600 38Q,#520 41Q,#480 44Q,#420 47Q,#3d0 52Q,#390 64Q,#320 71Q,#110 93Q,#090 102Q,#030 115Q,#030 116Q"><i style="--s:#d60,#d20 9Q,#cd0 15Q,#c30 20Q,#b90 23Q,#ab0 26Q,#8e0 31Q,#6b0 37Q,#5d0 40Q,#520 43Q,#490 47Q,#440 52Q,#3c0 64Q,#320 72Q,#160 89Q,#0a0 99Q,#040 110Q,#030 116Q"><i style="--s:#e20,#df0 8Q,#d90 14Q,#cf0 19Q,#c50 22Q,#b70 25Q,#9a0 30Q,#7c0 35Q,#680 39Q,#5c0 42Q,#520 46Q,#4c0 51Q,#400 63Q,#330 72Q,#160 88Q,#0b0 98Q,#050 108Q,#030 116Q"><i style="--s:#ec0,#e90 8Q,#e40 13Q,#dd0 17Q,#d00 21Q,#c30 24Q,#ad0 28Q,#830 35Q,#6b0 40Q,#5f0 44Q,#550 49Q,#430 63Q,#190 86Q,#0c0 96Q,#050 106Q,#020 116Q"><i style="--s:#f40,#f20 8Q,#ec0 13Q,#e40 17Q,#d70 21Q,#c40 25Q,#8a0 35Q,#730 40Q,#670 44Q,#5b0 50Q,#450 63Q,#1c0 83Q,#0e0 93Q,#060 102Q,#020 116Q,#020 0"><i style="--s:#fa0,#f80 8Q,#f20 13Q,#ea0 17Q,#dc0 21Q,#c90 25Q,#960 34Q,#7f0 39Q,#720 43Q,#630 49Q,#440 64Q,#210 80Q,#120 89Q,#080 98Q,#030 108Q,#020 116Q"><i style="--s:#fe0,#fc0 8Q,#f60 13Q,#ee0 17Q,#dc0 22Q,#c90 26Q,#9e0 34Q,#870 39Q,#770 44Q,#2a0 75Q,#180 84Q,#0c0 93Q,#050 102Q,#020 116Q"><i style="--s:#ff0,#fd0 9Q,#f70 14Q,#ea0 19Q,#db0 23Q,#be0 29Q,#a00 35Q,#880 41Q,#700 49Q,#350 70Q,#1e0 80Q,#110 88Q,#070 97Q,#030 107Q,#020 116Q"><i style="--s:#fe0,#fc0 9Q,#f70 14Q,#eb0 19Q,#dd0 23Q,#bd0 30Q,#9a0 38Q,#7f0 46Q,#430 65Q,#280 75Q,#160 84Q,#0a0 93Q,#040 101Q,#010 116Q"><i style="--s:#fb0,#f90 9Q,#f40 14Q,#ea0 19Q,#de0 23Q,#c10 30Q,#9d0 39Q,#4f0 61Q,#340 70Q,#1d0 80Q,#0f0 88Q,#050 97Q,#020 107Q,#010 116Q"><i style="--s:#f50,#f30 10Q,#ef0 15Q,#e30 21Q,#d30 26Q,#500 61Q,#370 69Q,#1e0 79Q,#100 87Q,#060 95Q,#020 104Q,#010 116Q"><i style="--s:#ee0,#ec0 11Q,#e80 16Q,#dd0 22Q,#cc0 28Q,#9e0 41Q,#540 60Q,#3b0 68Q,#210 78Q,#110 86Q,#070 94Q,#020 102Q,#010 116Q"><i style="--s:#e40,#e30 12Q,#dc0 19Q,#d10 25Q,#be0 32Q,#a00 41Q,#700 53Q,#4e0 62Q,#360 70Q,#1d0 80Q,#0e0 88Q,#050 96Q,#010 104Q,#010 116Q"><i style="--s:#da0,#d80 13Q,#d30 20Q,#c90 26Q,#b90 33Q,#a40 40Q,#850 48Q,#590 59Q,#420 66Q,#270 76Q,#130 85Q,#080 93Q,#020 100Q,#000 112Q,#010 116Q"><i style="--s:#ce0,#cc0 14Q,#c60 23Q,#bb0 30Q,#ab0 37Q,#980 43Q,#5a0 59Q,#400 67Q,#230 78Q,#120 86Q,#070 94Q,#020 101Q,#000 113Q,#000 116Q"><i style="--s:#c10,#bf0 15Q,#b80 26Q,#b00 32Q,#a40 38Q,#950 43Q,#560 60Q,#3e0 68Q,#200 80Q,#100 88Q,#060 96Q,#010 104Q,#000 116Q"><i style="--s:#b40,#b00 16Q,#aa0 29Q,#a30 35Q,#960 41Q,#830 47Q,#560 60Q,#3e0 68Q,#1d0 82Q,#0e0 90Q,#040 98Q,#010 106Q,#000 116Q"><i style="--s:#a60,#a30 10Q,#9e0 22Q,#9c0 32Q,#950 38Q,#8a0 43Q,#750 50Q,#510 61Q,#3a0 70Q,#190 85Q,#0a0 94Q,#030 101Q,#000 111Q,#000 116Q"><i style="--s:#990,#960 7Q,#8f0 17Q,#8e0 26Q,#8e0 34Q,#890 40Q,#7e0 45Q,#600 55Q,#4a0 63Q,#2d0 76Q,#110 90Q,#060 98Q,#010 105Q,#000 116Q"><i style="--s:#8c0,#890 6Q,#7e0 16Q,#7c0 23Q,#810 34Q,#7f0 40Q,#760 45Q,#640 52Q,#490 62Q,#350 72Q,#0e0 93Q,#050 100Q,#010 108Q,#000 116Q"><i style="--s:#800,#7d0 5Q,#6d0 16Q,#6a0 22Q,#6e0 28Q,#740 35Q,#740 40Q,#6f0 44Q,#650 49Q,#470 61Q,#380 69Q,#220 83Q,#0b0 96Q,#040 103Q,#000 112Q,#000 116Q"><i style="--s:#740,#720 4Q,#690 9Q,#5d0 15Q,#590 20Q,#590 24Q,#620 31Q,#680 37Q,#680 41Q,#640 45Q,#570 51Q,#420 60Q,#370 67Q,#280 80Q,#0a0 98Q,#030 105Q,#000 114Q,#000 116Q"><i style="--s:#6a0,#670 4Q,#5c0 9Q,#4e0 15Q,#480 20Q,#490 24Q,#500 29Q,#5a0 35Q,#5e0 40Q,#5b0 44Q,#520 49Q,#3c0 59Q,#340 65Q,#2a0 79Q,#1e0 87Q,#0a0 99Q,#030 106Q,#000 115Q,#000 116Q"><i style="--s:#600,#5d0 4Q,#530 8Q,#3f0 15Q,#390 19Q,#380 22Q,#3c0 26Q,#4e0 35Q,#530 40Q,#500 44Q,#480 49Q,#350 58Q,#2f0 63Q,#2c0 71Q,#2a0 79Q,#230 85Q,#0a0 100Q,#020 107Q,#000 116Q"><i style="--s:#580,#540 4Q,#490 8Q,#350 14Q,#2e0 17Q,#2a0 21Q,#2c0 24Q,#330 28Q,#430 35Q,#480 39Q,#480 42Q,#430 46Q,#2c0 57Q,#270 62Q,#270 68Q,#2a0 78Q,#270 83Q,#1d0 90Q,#090 101Q,#030 107Q,#000 116Q,#000 0"><i style="--s:#510,#4e0 3Q,#470 6Q,#2a0 14Q,#220 17Q,#1e0 21Q,#200 24Q,#280 28Q,#380 34Q,#3e0 38Q,#3f0 41Q,#3b0 45Q,#240 56Q,#1f0 60Q,#1f0 65Q,#290 77Q,#280 82Q,#230 87Q,#090 102Q,#020 108Q,#000 116Q"><i style="--s:#4b0,#480 3Q,#400 6Q,#210 14Q,#180 17Q,#140 21Q,#160 24Q,#200 28Q,#300 34Q,#360 38Q,#370 41Q,#330 44Q,#240 51Q,#180 57Q,#160 61Q,#180 65Q,#270 77Q,#280 82Q,#240 87Q,#080 103Q,#010 110Q,#000 116Q"><i style="--s:#470,#430 3Q,#3b0 6Q,#190 14Q,#100 17Q,#0c0 21Q,#0f0 24Q,#190 28Q,#2a0 34Q,#300 38Q,#300 41Q,#2c0 44Q,#120 55Q,#0e0 59Q,#100 63Q,#170 68Q,#250 76Q,#280 80Q,#280 84Q,#220 89Q,#090 103Q,#020 110Q,#000 116Q"><i style="--s:#430,#400 3Q,#370 6Q,#140 14Q,#0a0 17Q,#060 21Q,#090 24Q,#140 28Q,#230 33Q,#2a0 37Q,#2b0 40Q,#280 43Q,#1c0 48Q,#0f0 53Q,#080 58Q,#080 61Q,#0d0 65Q,#230 76Q,#280 80Q,#280 84Q,#230 89Q,#090 103Q,#020 110Q,#000 116Q"><i style="--s:#410,#3d0 3Q,#340 6Q,#100 14Q,#070 17Q,#020 21Q,#060 24Q,#100 28Q,#200 33Q,#270 37Q,#270 40Q,#240 43Q,#170 48Q,#0a0 53Q,#040 57Q,#030 60Q,#070 64Q,#150 70Q,#240 77Q,#280 81Q,#280 85Q,#220 90Q,#090 103Q,#020 110Q,#000 116Q"><i style="--s:#400,#3c0 3Q,#330 6Q,#0e0 14Q,#050 17Q,#000 21Q,#040 24Q,#0f0 28Q,#1e0 33Q,#250 37Q,#260 40Q,#210 43Q,#140 48Q,#070 53Q,#010 57Q,#010 60Q,#040 63Q,#0e0 68Q,#220 76Q,#280 80Q,#290 84Q,#260 88Q,#170 96Q,#080 104Q,#010 111Q,#000 116Q"></i></i></i></i></i></i></i></i></i></i></i></i></i></i></i></i></i></i></i></i></i></i></i></i></i></i></i></i></i></i></i></i></i></i></i></i></i></i></i></i></i></i></i></i></i></i></i></i></i></i></i></i></i></i></i></i></i></i></i></i></i></i></i></i></i></i></i></i></i></i></i></i></i></i></i></i></i></i></i></i></i></i></i></i></i></i></i></i></i></i></i></i></i></i></i></i></i></i></i></i></i></i></i></i></i></i></i></i></i></i></div><div class="m P v" style="left:1312px;top:396px"><i style="--s:#000,#000 0,#ff0 0,#fb0 23Q,#ee0 57Q,#e40 98Q,#df0 116Q"><i style="--s:#000,#000 0,#ff0 0,#fa0 24Q,#ed0 61Q,#de0 116Q"><i style="--s:#000,#000 0,#ff0 0,#f90 26Q,#e40 86Q,#dd0 116Q"><i style="--s:#000,#000 0,#ff0 0,#f90 27Q,#de0 101Q,#dd0 116Q"><i style="--s:#000,#000 0,#ff0 0,#f80 28Q,#dd0 97Q,#dc0 116Q"><i style="--s:#000,#000 0,#ff0 0,#f90 26Q,#dc0 93Q,#dc0 116Q"><i style="--s:#000,#000 0,#ff0 0,#fb0 23Q,#db0 89Q,#db0 113Q,#db0 116Q"><i style="--s:#000,#000 0,#ff0 0,#fd0 20Q,#e60 63Q,#da0 87Q,#d90 108Q,#da0 116Q"><i style="--s:#000,#010 15Q,#000 18Q,#ff0 0,#f20 43Q,#d90 82Q,#d70 100Q,#da0 116Q"><i style="--s:#000,#040 12Q,#000 21Q,#ff0 0,#fb0 29Q,#d70 79Q,#d50 94Q,#da0 116Q"><i style="--s:#000,#080 9Q,#050 20Q,#000 26Q,#ff0 0,#d40 77Q,#d20 89Q,#d90 116Q"><i style="--s:#000,#0c0 6Q,#0e0 12Q,#010 28Q,#000 29Q,#ff0 0,#d10 75Q,#ce0 85Q,#d90 112Q,#d90 116Q"><i style="--s:#000,#100 3Q,#170 6Q,#170 11Q,#000 31Q,#ff0 0,#cc0 74Q,#c80 83Q,#d00 95Q,#d80 107Q,#d80 116Q"><i style="--s:#200,#330 2Q,#320 4Q,#0b0 24Q,#000 32Q,#ff0 0,#c50 74Q,#c10 82Q,#c60 89Q,#d60 101Q,#d90 112Q,#d80 116Q"><i style="--s:#7f0,#600 3Q,#4a0 6Q,#360 10Q,#200 17Q,#060 29Q,#000 33Q,#ff0 0,#bb0 75Q,#b70 82Q,#bb0 87Q,#d30 98Q,#d90 105Q,#d80 116Q"><i style="--s:#7f0,#530 7Q,#3a0 12Q,#1e0 20Q,#060 30Q,#000 33Q,#ff0 0,#c40 65Q,#ae0 77Q,#aa0 83Q,#ae0 87Q,#b80 90Q,#d10 96Q,#d90 100Q,#dc0 107Q,#d70 116Q"><i style="--s:#7f0,#430 12Q,#230 20Q,#0a0 29Q,#000 34Q,#ff0 0,#c20 63Q,#a10 78Q,#990 84Q,#9a0 87Q,#9f0 89Q,#a30 90Q,#bd0 93Q,#cf0 95Q,#d90 97Q,#df0 100Q,#de0 107Q,#d70 116Q"><i style="--s:#800,#370 16Q,#180 25Q,#000 34Q,#ff0 0,#f60 38Q,#c10 61Q,#910 80Q,#800 89Q,#800 92Q,#890 93Q,#af0 94Q,#e50 95Q,#eb0 96Q,#eb0 99Q,#d70 116Q"><i style="--s:#800,#280 21Q,#080 31Q,#000 34Q,#ff0 0,#b90 62Q,#6f0 88Q,#5b0 92Q,#520 93Q,#460 94Q,#360 95Q,#140 97Q,#090 98Q,#000 99Q,#ff0 0,#fb0 100Q,#ed0 104Q,#d60 116Q"><i style="--s:#800,#240 23Q,#010 34Q,#000 0,#ff0 0,#b40 62Q,#670 87Q,#510 92Q,#3b0 95Q,#0d0 100Q,#000 102Q,#ff0 0,#fa0 103Q,#e80 108Q,#d60 116Q"><i style="--s:#800,#1b0 26Q,#000 35Q,#ff0 0,#ef0 40Q,#a90 64Q,#5c0 88Q,#410 94Q,#270 98Q,#050 103Q,#000 104Q,#ff0 0,#f10 107Q,#d80 115Q,#d60 116Q"><i style="--s:#800,#120 29Q,#000 35Q,#ff0 0,#d90 47Q,#920 70Q,#500 90Q,#300 97Q,#000 105Q,#ff0 0,#fb0 106Q,#e20 112Q,#d60 116Q"><i style="--s:#7f0,#050 33Q,#000 35Q,#ff0 0,#b20 59Q,#410 93Q,#220 100Q,#000 107Q,#ff0 0,#ed0 110Q,#d50 116Q"><i style="--s:#7f0,#000 35Q,#ff0 0,#e80 41Q,#3f0 93Q,#1f0 101Q,#000 107Q,#ff0 0,#dd0 114Q,#d50 116Q"><i style="--s:#7f0,#000 35Q,#ff0 0,#d50 46Q,#730 76Q,#240 100Q,#090 106Q,#000 108Q,#ff0 0,#d90 115Q,#d50 116Q"><i style="--s:#7f0,#000 34Q,#ff0 0,#f50 37Q,#c60 50Q,#780 74Q,#460 89Q,#210 101Q,#0c0 106Q,#000 108Q,#ff0 0,#d40 116Q"><i style="--s:#7f0,#360 20Q,#000 34Q,#ff0 0,#fc0 35Q,#ca0 48Q,#800 71Q,#4c0 86Q,#1d0 102Q,#090 107Q,#000 108Q,#ff0 0,#d40 116Q"><i style="--s:#7f0,#430 16Q,#0d0 31Q,#000 34Q,#ff0 0,#cb0 47Q,#7e0 71Q,#4c0 85Q,#190 103Q,#050 108Q,#000 109Q,#ff0 0,#d30 116Q"><i style="--s:#7f0,#4a0 14Q,#100 30Q,#000 34Q,#ff0 0,#cd0 46Q,#a00 60Q,#7c0 71Q,#4c0 84Q,#290 97Q,#120 105Q,#000 109Q,#ff0 0,#fa0 110Q,#d20 116Q"><i style="--s:#7f0,#4d0 13Q,#140 29Q,#000 34Q,#ff0 0,#cb0 46Q,#a10 59Q,#7d0 70Q,#4c0 83Q,#2e0 94Q,#150 104Q,#070 108Q,#000 109Q,#ff0 0,#ef0 112Q,#d10 116Q"><i style="--s:#7f0,#500 12Q,#130 29Q,#000 34Q,#ff0 0,#c90 46Q,#a30 58Q,#7f0 69Q,#490 83Q,#2e0 93Q,#150 104Q,#070 108Q,#000 109Q,#ff0 0,#ef0 112Q,#d10 116Q"><i style="--s:#7f0,#4f0 12Q,#130 29Q,#000 33Q,#ff0 0,#cb0 45Q,#aa0 55Q,#850 67Q,#490 82Q,#330 90Q,#110 105Q,#000 109Q,#ff0 0,#fc0 110Q,#e80 113Q,#cf0 116Q"><i style="--s:#7f0,#520 11Q,#120 29Q,#000 33Q,#ff0 0,#c90 45Q,#a80 55Q,#840 67Q,#460 82Q,#320 89Q,#100 105Q,#000 109Q,#ff0 0,#fc0 110Q,#e80 113Q,#ce0 116Q"><i style="--s:#7f0,#550 10Q,#110 29Q,#000 33Q,#ff0 0,#c70 45Q,#ac0 53Q,#860 66Q,#640 74Q,#460 81Q,#320 88Q,#0f0 105Q,#000 109Q,#ff0 0,#fc0 110Q,#e80 113Q,#cd0 116Q"><i style="--s:#7f0,#540 10Q,#100 29Q,#000 32Q,#ff0 0,#c90 44Q,#ae0 52Q,#880 65Q,#700 71Q,#470 80Q,#330 86Q,#1a0 99Q,#0b0 106Q,#000 109Q,#ff0 0,#fb0 110Q,#ef0 112Q,#d40 115Q,#cb0 116Q"><i style="--s:#7f0,#570 9Q,#0f0 29Q,#000 32Q,#ff0 0,#de0 39Q,#c30 45Q,#a90 53Q,#870 65Q,#6e0 71Q,#470 79Q,#350 84Q,#220 93Q,#0c0 105Q,#000 109Q,#ff0 0,#fa0 110Q,#ee0 112Q,#dd0 114Q,#c90 116Q"><i style="--s:#7f0,#560 9Q,#0e0 29Q,#000 32Q,#ff0 0,#e10 38Q,#c50 44Q,#ad0 51Q,#850 65Q,#700 70Q,#430 79Q,#320 84Q,#1f0 93Q,#0b0 105Q,#000 108Q,#ff0 0,#fa0 110Q,#ed0 112Q,#db0 114Q,#c70 116Q"><i style="--s:#7f0,#590 8Q,#310 19Q,#0d0 29Q,#000 32Q,#ff0 0,#df0 38Q,#c30 44Q,#ab0 51Q,#870 64Q,#730 69Q,#430 78Q,#310 83Q,#1e0 92Q,#090 105Q,#000 108Q,#ff0 0,#f80 110Q,#ec0 112Q,#d90 114Q,#c40 116Q"><i style="--s:#7f0,#580 8Q,#370 17Q,#0f0 28Q,#000 31Q,#ff0 0,#ed0 35Q,#c50 43Q,#ac0 50Q,#860 64Q,#710 69Q,#3e0 78Q,#300 82Q,#200 89Q,#080 105Q,#000 107Q,#ff0 0,#f70 110Q,#ea0 112Q,#d70 114Q,#c10 116Q"><i style="--s:#7f0,#570 8Q,#350 17Q,#0e0 28Q,#000 31Q,#ff0 0,#eb0 35Q,#c30 43Q,#ad0 49Q,#840 64Q,#740 68Q,#3e0 77Q,#2e0 81Q,#200 87Q,#060 105Q,#000 107Q,#ff0 0,#f50 110Q,#e90 112Q,#d50 114Q,#be0 116Q"><i style="--s:#7f0,#5b0 7Q,#3b0 15Q,#110 27Q,#000 31Q,#ff0 0,#f40 33Q,#c50 42Q,#ae0 48Q,#830 64Q,#720 68Q,#3e0 76Q,#300 79Q,#220 84Q,#110 95Q,#040 105Q,#000 106Q,#ff0 0,#f40 110Q,#e60 112Q,#d10 114Q,#ba0 116Q"><i style="--s:#7f0,#5a0 7Q,#3e0 14Q,#0f0 27Q,#000 30Q,#ff0 0,#f10 33Q,#c70 41Q,#af0 47Q,#810 64Q,#6f0 68Q,#380 76Q,#2b0 79Q,#1e0 84Q,#0e0 96Q,#020 105Q,#000 106Q,#ff0 0,#fa0 108Q,#eb0 111Q,#e30 112Q,#cd0 114Q,#b60 116Q"><i style="--s:#7f0,#590 7Q,#3c0 14Q,#0d0 27Q,#000 30Q,#ff0 0,#ef0 33Q,#c40 41Q,#ad0 47Q,#830 63Q,#720 67Q,#5e0 70Q,#380 75Q,#290 78Q,#1b0 83Q,#0d0 94Q,#000 105Q,#ff0 0,#ff0 0,#f70 108Q,#e90 111Q,#e00 112Q,#c80 114Q,#b10 116Q"><i style="--s:#7f0,#580 7Q,#3b0 14Q,#0c0 27Q,#000 29Q,#ff0 0,#ed0 33Q,#c10 41Q,#ae0 46Q,#910 57Q,#7d0 64Q,#6f0 67Q,#590 70Q,#370 74Q,#270 77Q,#1b0 81Q,#0e0 89Q,#000 103Q,#ff0 0,#fe0 104Q,#f50 108Q,#e50 111Q,#dc0 112Q,#c20 114Q,#b60 115Q,#ac0 116Q"><i style="--s:#7f0,#5c0 6Q,#410 12Q,#0e0 26Q,#000 29Q,#ff0 0,#f00 32Q,#c20 40Q,#ae0 45Q,#980 53Q,#7f0 63Q,#720 66Q,#650 68Q,#3f0 72Q,#290 75Q,#1d0 78Q,#120 83Q,#030 98Q,#000 100Q,#ff0 0,#f90 105Q,#f20 108Q,#e10 111Q,#d60 112Q,#af0 115Q,#a60 116Q"><i style="--s:#7f0,#5b0 6Q,#400 12Q,#0c0 26Q,#000 28Q,#ff0 0,#f20 31Q,#bf0 40Q,#ab0 45Q,#910 55Q,#7c0 63Q,#6f0 66Q,#600 68Q,#360 72Q,#220 75Q,#170 78Q,#0c0 84Q,#000 97Q,#ff0 0,#f80 104Q,#f20 107Q,#e40 110Q,#db0 111Q,#ce0 112Q,#b20 114Q,#a70 115Q,#9f0 116Q"><i style="--s:#7f0,#5b0 6Q,#3f0 12Q,#0a0 26Q,#000 28Q,#ff0 0,#ef0 31Q,#c00 39Q,#ab0 44Q,#950 52Q,#7d0 62Q,#710 65Q,#630 67Q,#4e0 69Q,#360 71Q,#1f0 74Q,#140 77Q,#090 83Q,#000 92Q,#ff0 0,#f50 104Q,#ee0 107Q,#dd0 110Q,#d20 111Q,#a80 114Q,#9f0 115Q,#990 116Q"><i style="--s:#7f0,#5a0 6Q,#3e0 12Q,#0c0 25Q,#000 27Q,#ff0 0,#f20 30Q,#bc0 39Q,#a80 44Q,#920 52Q,#7a0 62Q,#6d0 65Q,#5d0 67Q,#370 70Q,#2c0 71Q,#170 74Q,#0d0 77Q,#030 84Q,#000 87Q,#ff0 0,#f20 103Q,#ec0 106Q,#e40 108Q,#d40 110Q,#c60 111Q,#a80 113Q,#9e0 114Q,#970 115Q,#920 116Q"><i style="--s:#7f0,#590 6Q,#3d0 12Q,#0a0 25Q,#000 27Q,#ff0 0,#ee0 30Q,#bd0 38Q,#a70 43Q,#930 50Q,#7a0 61Q,#6e0 64Q,#600 66Q,#560 67Q,#390 69Q,#2b0 70Q,#210 71Q,#100 74Q,#050 78Q,#000 83Q,#ff0 0,#fa0 87Q,#ef0 102Q,#e60 106Q,#dc0 108Q,#c60 110Q,#a70 112Q,#9c0 113Q,#940 114Q,#8c0 116Q"><i style="--s:#7f0,#590 6Q,#3c0 12Q,#070 25Q,#000 26Q,#ff0 0,#ea0 30Q,#bd0 37Q,#ab0 41Q,#970 47Q,#760 61Q,#6a0 64Q,#630 65Q,#590 66Q,#4c0 67Q,#2c0 69Q,#200 70Q,#110 72Q,#030 76Q,#000 79Q,#ff0 0,#f90 83Q,#e90 102Q,#e20 105Q,#d80 107Q,#d00 108Q,#a50 111Q,#990 112Q,#910 113Q,#890 115Q,#860 116Q"><i style="--s:#7f0,#580 6Q,#3b0 12Q,#090 24Q,#000 26Q,#ff0 0,#ec0 29Q,#b80 37Q,#a20 42Q,#8e0 49Q,#720 61Q,#6a0 63Q,#650 64Q,#5c0 65Q,#510 66Q,#2f0 68Q,#200 69Q,#150 70Q,#090 72Q,#000 75Q,#ff0 0,#fb0 77Q,#ef0 88Q,#e40 101Q,#dc0 104Q,#d20 106Q,#c90 107Q,#a10 110Q,#960 111Q,#8e0 112Q,#850 114Q,#810 116Q"><i style="--s:#7f0,#580 6Q,#3a0 12Q,#0b0 23Q,#000 25Q,#ff0 0,#ee0 28Q,#be0 35Q,#a50 40Q,#920 46Q,#6e0 61Q,#650 63Q,#5f0 64Q,#550 65Q,#460 66Q,#220 68Q,#150 69Q,#060 71Q,#000 73Q,#ff0 0,#f70 76Q,#eb0 86Q,#df0 99Q,#d80 102Q,#d00 104Q,#c90 105Q,#c00 106Q,#920 110Q,#8b0 111Q,#820 113Q,#7c0 116Q"><i style="--s:#7f0,#580 6Q,#3a0 12Q,#080 23Q,#000 24Q,#ff0 0,#ef0 27Q,#bd0 34Q,#a40 39Q,#900 45Q,#6d0 60Q,#600 63Q,#580 64Q,#4c0 65Q,#270 67Q,#170 68Q,#0b0 69Q,#000 71Q,#ff0 0,#fe0 0,#f10 76Q,#e20 89Q,#d70 98Q,#cf0 101Q,#c60 103Q,#b60 105Q,#970 108Q,#830 111Q,#7b0 114Q,#780 116Q"><i style="--s:#7f0,#580 6Q,#350 13Q,#0b0 22Q,#000 24Q,#ff0 0,#f10 26Q,#c30 32Q,#a70 37Q,#940 42Q,#7b0 52Q,#680 60Q,#600 62Q,#5a0 63Q,#510 64Q,#440 65Q,#1b0 67Q,#0d0 68Q,#030 69Q,#000 70Q,#ff0 0,#f70 71Q,#e90 77Q,#d10 96Q,#c60 100Q,#bb0 102Q,#a30 105Q,#920 107Q,#810 110Q,#780 113Q,#740 116Q"><i style="--s:#7f0,#530 7Q,#0d0 21Q,#000 23Q,#ff0 0,#f20 25Q,#c20 31Q,#aa0 35Q,#930 41Q,#790 51Q,#640 60Q,#5b0 62Q,#550 63Q,#4b0 64Q,#3b0 65Q,#250 66Q,#110 67Q,#040 68Q,#000 0,#ff0 0,#fa0 69Q,#ed0 72Q,#dd0 81Q,#cb0 94Q,#bf0 98Q,#b10 101Q,#8e0 106Q,#7c0 110Q,#730 114Q,#700 116Q"><i style="--s:#7f0,#4f0 8Q,#100 20Q,#000 22Q,#ff0 0,#f30 24Q,#c00 30Q,#ad0 33Q,#940 39Q,#7c0 48Q,#600 60Q,#570 62Q,#510 63Q,#460 64Q,#350 65Q,#1c0 66Q,#080 67Q,#000 68Q,#ff0 0,#fa0 0,#ed0 70Q,#df0 75Q,#c40 92Q,#b50 97Q,#a20 101Q,#860 106Q,#750 111Q,#6d0 116Q"><i style="--s:#7f0,#4b0 9Q,#140 19Q,#000 22Q,#ff0 0,#fd0 0,#c40 28Q,#b00 31Q,#9d0 35Q,#840 43Q,#5c0 60Q,#540 62Q,#4e0 63Q,#440 64Q,#300 65Q,#140 66Q,#000 67Q,#ff0 0,#fd0 0,#f10 68Q,#e40 70Q,#d60 76Q,#be0 90Q,#ac0 96Q,#800 106Q,#700 112Q,#6a0 116Q"><i style="--s:#7f0,#270 16Q,#090 20Q,#000 21Q,#ff0 0,#e90 23Q,#c90 26Q,#b20 29Q,#9e0 33Q,#850 41Q,#570 61Q,#4e0 63Q,#450 64Q,#300 65Q,#0a0 66Q,#000 0,#ff0 0,#f00 67Q,#e50 68Q,#da0 70Q,#c80 79Q,#b50 89Q,#a00 96Q,#7b0 106Q,#6b0 113Q,#680 116Q"><i style="--s:#7f0,#360 14Q,#220 17Q,#030 20Q,#000 0,#ff0 0,#d80 23Q,#c20 25Q,#b30 27Q,#a00 31Q,#860 39Q,#6a0 51Q,#540 62Q,#4c0 64Q,#3d0 65Q,#000 66Q,#ff0 0,#f60 0,#dc0 67Q,#d10 69Q,#ad0 88Q,#930 97Q,#770 106Q,#670 114Q,#650 116Q"><i style="--s:#7f0,#420 13Q,#2f0 16Q,#260 17Q,#0a0 19Q,#000 0,#ff0 0,#f40 20Q,#de0 21Q,#cd0 22Q,#c10 23Q,#b20 25Q,#a00 29Q,#840 38Q,#690 50Q,#570 61Q,#560 63Q,#590 64Q,#670 65Q,#a40 66Q,#ba0 67Q,#c00 69Q,#b40 79Q,#9e0 90Q,#710 107Q,#630 116Q"><i style="--s:#7f0,#420 15Q,#370 17Q,#000 19Q,#ff0 0,#f50 0,#c20 20Q,#b70 21Q,#ad0 23Q,#930 31Q,#700 45Q,#5c0 56Q,#590 61Q,#5f0 63Q,#670 64Q,#7a0 65Q,#930 66Q,#a30 67Q,#ab0 68Q,#b10 70Q,#ac0 77Q,#970 89Q,#6c0 108Q,#610 116Q"><i style="--s:#7f0,#5b0 11Q,#560 14Q,#560 15Q,#5a0 16Q,#650 17Q,#910 19Q,#9c0 20Q,#a00 21Q,#a00 23Q,#8e0 31Q,#690 47Q,#5b0 56Q,#5b0 60Q,#610 62Q,#670 63Q,#700 64Q,#8c0 66Q,#960 67Q,#9d0 68Q,#a30 70Q,#a30 75Q,#960 85Q,#660 110Q,#5e0 116Q"><i style="--s:#7f0,#670 9Q,#630 12Q,#650 14Q,#690 15Q,#700 16Q,#8d0 19Q,#930 20Q,#970 22Q,#950 25Q,#650 48Q,#5b0 56Q,#5c0 59Q,#610 61Q,#6d0 63Q,#870 66Q,#930 68Q,#990 71Q,#970 78Q,#820 92Q,#610 112Q,#5c0 116Q"><i style="--s:#7f0,#6d0 8Q,#6b0 11Q,#6d0 13Q,#740 15Q,#8b0 19Q,#900 21Q,#910 24Q,#850 31Q,#640 47Q,#5c0 55Q,#5f0 59Q,#6a0 62Q,#830 66Q,#8e0 69Q,#910 74Q,#8a0 83Q,#5d0 114Q,#5b0 116Q"><i style="--s:#7f0,#710 8Q,#710 11Q,#770 14Q,#8b0 20Q,#8d0 23Q,#850 29Q,#630 47Q,#5c0 53Q,#600 58Q,#690 61Q,#800 66Q,#870 69Q,#8a0 75Q,#800 86Q,#5a0 115Q,#590 116Q"><i style="--s:#7f0,#750 8Q,#760 12Q,#880 20Q,#880 24Q,#7e0 31Q,#620 46Q,#5d0 52Q,#600 57Q,#6b0 61Q,#7d0 66Q,#830 70Q,#820 78Q,#6d0 97Q,#570 116Q"><i style="--s:#7f0,#770 8Q,#790 12Q,#850 20Q,#840 25Q,#740 35Q,#600 47Q,#5d0 53Q,#640 58Q,#7a0 66Q,#7e0 71Q,#7a0 81Q,#550 116Q"><i style="--s:#7f0,#790 8Q,#7c0 13Q,#830 21Q,#7f0 27Q,#610 45Q,#5d0 51Q,#640 57Q,#760 65Q,#7a0 71Q,#730 83Q,#530 116Q"><i style="--s:#7f0,#7a0 8Q,#810 21Q,#7a0 28Q,#600 45Q,#5e0 51Q,#650 57Q,#740 65Q,#760 72Q,#690 89Q,#520 116Q"><i style="--s:#7f0,#7b0 9Q,#7e0 21Q,#760 29Q,#600 44Q,#5e0 50Q,#660 57Q,#700 64Q,#720 71Q,#640 90Q,#500 116Q"><i style="--s:#7f0,#7b0 10Q,#7c0 21Q,#720 30Q,#610 43Q,#5f0 49Q,#670 57Q,#6e0 64Q,#6d0 74Q,#4f0 114Q,#4e0 116Q"><i style="--s:#7f0,#7b0 11Q,#790 22Q,#6a0 34Q,#5f0 44Q,#600 50Q,#6c0 63Q,#6a0 72Q,#4f0 111Q,#4d0 116Q"><i style="--s:#7f0,#7b0 13Q,#770 23Q,#600 42Q,#5f0 49Q,#690 62Q,#670 72Q,#4e0 107Q,#4b0 116Q"><i style="--s:#7f0,#740 23Q,#600 41Q,#5f0 48Q,#670 61Q,#630 72Q,#4d0 103Q,#490 116Q"><i style="--s:#7f0,#730 23Q,#600 40Q,#5f0 48Q,#650 61Q,#5d0 75Q,#4b0 101Q,#480 116Q"><i style="--s:#7f0,#710 23Q,#5f0 40Q,#5f0 48Q,#630 60Q,#590 75Q,#490 98Q,#460 115Q,#460 116Q"><i style="--s:#7f0,#6f0 23Q,#5f0 39Q,#5f0 48Q,#600 60Q,#510 80Q,#450 100Q,#440 116Q"><i style="--s:#7f0,#6c0 24Q,#5e0 39Q,#5e0 60Q,#440 94Q,#410 110Q,#420 116Q"><i style="--s:#7f0,#680 26Q,#5e0 39Q,#5c0 58Q,#410 92Q,#3e0 106Q,#410 116Q"><i style="--s:#7f0,#5e0 37Q,#590 58Q,#3e0 89Q,#3a0 103Q,#3f0 116Q"><i style="--s:#7f0,#5e0 34Q,#560 57Q,#3b0 87Q,#370 101Q,#3d0 116Q"><i style="--s:#7f0,#5e0 33Q,#530 57Q,#380 85Q,#330 99Q,#390 113Q,#3b0 116Q"><i style="--s:#7f0,#5e0 31Q,#500 56Q,#330 84Q,#2e0 97Q,#330 108Q,#3a0 116Q"><i style="--s:#7f0,#5d0 30Q,#4d0 55Q,#2f0 82Q,#2a0 95Q,#2d0 105Q,#380 116Q"><i style="--s:#7f0,#5e0 28Q,#4b0 53Q,#2b0 81Q,#250 93Q,#280 103Q,#360 116Q"><i style="--s:#7f0,#5d0 27Q,#470 53Q,#260 80Q,#1f0 92Q,#220 101Q,#340 116Q"><i style="--s:#7f0,#5e0 25Q,#440 52Q,#200 79Q,#190 90Q,#1c0 100Q,#320 116Q"><i style="--s:#7f0,#5d0 24Q,#410 51Q,#1b0 78Q,#120 89Q,#140 98Q,#1e0 106Q,#300 116Q"><i style="--s:#7f0,#5d0 23Q,#3e0 50Q,#140 78Q,#0b0 89Q,#0d0 98Q,#170 105Q,#2c0 115Q,#2e0 116Q"><i style="--s:#7f0,#5b0 23Q,#3a0 50Q,#0e0 77Q,#040 88Q,#040 97Q,#0c0 103Q,#280 114Q,#2c0 116Q"><i style="--s:#7f0,#5a0 23Q,#370 49Q,#080 76Q,#000 84Q,#ff0 0,#fb0 87Q,#fa0 96Q,#ff0 101Q,#ff0 0,#000 0,#0d0 106Q,#240 113Q,#2a0 116Q"><i style="--s:#7f0,#580 23Q,#320 49Q,#010 76Q,#000 77Q,#ff0 0,#f30 88Q,#f10 97Q,#f60 102Q,#ff0 105Q,#000 0,#040 106Q,#1e0 112Q,#270 116Q"><i style="--s:#7f0,#550 24Q,#2d0 49Q,#000 73Q,#ff0 0,#f90 76Q,#eb0 88Q,#e70 97Q,#eb0 102Q,#f30 105Q,#ff0 107Q,#000 0,#1a0 112Q,#230 115Q,#250 116Q"><i style="--s:#7f0,#510 25Q,#260 50Q,#000 69Q,#ff0 0,#f40 75Q,#e30 88Q,#dd0 98Q,#e00 103Q,#ea0 106Q,#f60 108Q,#ff0 109Q,#000 0,#150 112Q,#1e0 114Q,#230 116Q"><i style="--s:#7f0,#4b0 27Q,#1f0 51Q,#000 66Q,#ff0 0,#ed0 75Q,#da0 89Q,#d30 100Q,#d50 104Q,#da0 106Q,#de0 107Q,#e50 108Q,#ff0 111Q,#000 0,#0f0 112Q,#160 113Q,#1e0 115Q,#200 116Q"><i style="--s:#7f0,#410 31Q,#0f0 56Q,#000 63Q,#ff0 0,#e50 76Q,#d10 90Q,#c80 101Q,#c90 105Q,#ce0 107Q,#d20 108Q,#e50 110Q,#f40 111Q,#ff0 112Q,#000 0,#040 0,#100 113Q,#170 114Q,#1e0 116Q"><i style="--s:#800,#2c0 40Q,#000 61Q,#ff0 0,#e00 75Q,#cb0 89Q,#bf0 102Q,#bf0 106Q,#c20 108Q,#cd0 110Q,#db0 111Q,#f10 112Q,#ff0 113Q,#000 0,#060 0,#120 114Q,#180 115Q,#1b0 116Q"><i style="--s:#800,#1d0 45Q,#000 58Q,#ff0 0,#da0 75Q,#c40 89Q,#b60 104Q,#b50 108Q,#ba0 110Q,#c10 111Q,#d30 112Q,#ff0 114Q,#000 0,#0b0 0,#150 115Q,#190 116Q"><i style="--s:#800,#1e0 42Q,#000 56Q,#ff0 0,#d40 75Q,#be0 89Q,#ae0 105Q,#ae0 110Q,#b00 111Q,#b70 112Q,#cf0 113Q,#f90 114Q,#ff0 0,#000 0,#100 115Q,#160 116Q"><i style="--s:#800,#570 17Q,#250 37Q,#000 53Q,#ff0 0,#cd0 75Q,#b90 88Q,#a70 106Q,#a60 111Q,#a80 112Q,#b20 113Q,#d10 114Q,#ff0 115Q,#000 0,#070 0,#130 116Q"><i style="--s:#800,#5f0 14Q,#2a0 33Q,#000 51Q,#ff0 0,#e70 61Q,#c70 75Q,#b30 88Q,#a10 107Q,#a00 112Q,#a30 113Q,#b60 114Q,#ef0 115Q,#ff0 0,#000 0,#110 116Q"><i style="--s:#800,#640 12Q,#2b0 31Q,#000 49Q,#ff0 0,#e70 59Q,#c70 72Q,#b20 84Q,#a00 102Q,#9b0 112Q,#a10 114Q,#be0 115Q,#ff0 116Q,#000 0,#110 0"><i style="--s:#800,#670 11Q,#470 21Q,#2a0 30Q,#000 47Q,#ff0 0,#e80 57Q,#c20 71Q,#af0 82Q,#9e0 99Q,#970 113Q,#990 114Q,#ad0 115Q,#ff0 116Q,#000 0,#060 0"><i style="--s:#800,#680 11Q,#4d0 19Q,#2b0 28Q,#120 38Q,#000 46Q,#ff0 0,#f10 52Q,#be0 70Q,#ab0 80Q,#9c0 95Q,#930 113Q,#a00 115Q,#de0 116Q"><i style="--s:#800,#6d0 10Q,#5a0 16Q,#2a0 27Q,#170 34Q,#000 44Q,#ff0 0,#f10 51Q,#ce0 62Q,#b60 70Q,#a50 80Q,#970 96Q,#8f0 113Q,#940 115Q,#a70 116Q"><i style="--s:#800,#6f0 10Q,#600 15Q,#420 21Q,#290 26Q,#190 31Q,#000 43Q,#ff0 0,#f20 50Q,#d80 58Q,#b90 66Q,#aa0 72Q,#9c0 82Q,#900 101Q,#8d0 114Q,#8f0 115Q,#960 116Q"><i style="--s:#800,#710 10Q,#670 14Q,#5a0 17Q,#2d0 24Q,#1f0 27Q,#120 32Q,#000 42Q,#ff0 0,#f30 49Q,#e10 55Q,#b40 65Q,#a60 70Q,#990 79Q,#8e0 97Q,#890 114Q,#8b0 115Q,#8f0 116Q"><i style="--s:#800,#750 10Q,#6c0 14Q,#5f0 17Q,#480 20Q,#2c0 23Q,#200 25Q,#150 28Q,#090 35Q,#000 42Q,#ff0 0,#f60 48Q,#ea0 53Q,#d70 57Q,#b10 63Q,#a20 67Q,#960 74Q,#8d0 87Q,#870 114Q,#8a0 116Q"><i style="--s:#800,#780 11Q,#700 15Q,#680 17Q,#570 19Q,#4a0 20Q,#2c0 22Q,#220 23Q,#1b0 24Q,#120 26Q,#090 31Q,#000 41Q,#ff0 0,#f70 49Q,#ee0 53Q,#e00 56Q,#cf0 58Q,#b10 61Q,#a30 63Q,#980 66Q,#8f0 72Q,#870 89Q,#840 115Q,#850 116Q"><i style="--s:#800,#7b0 14Q,#760 17Q,#6a0 19Q,#540 20Q,#310 21Q,#170 22Q,#0e0 23Q,#080 25Q,#030 32Q,#000 39Q,#ff0 0,#fb0 51Q,#f40 55Q,#e80 57Q,#d80 58Q,#be0 59Q,#a50 60Q,#970 61Q,#910 62Q,#890 65Q,#840 76Q,#810 116Q"></i></i></i></i></i></i></i></i></i></i></i></i></i></i></i></i></i></i></i></i></i></i></i></i></i></i></i></i></i></i></i></i></i></i></i></i></i></i></i></i></i></i></i></i></i></i></i></i></i></i></i></i></i></i></i></i></i></i></i></i></i></i></i></i></i></i></i></i></i></i></i></i></i></i></i></i></i></i></i></i></i></i></i></i></i></i></i></i></i></i></i></i></i></i></i></i></i></i></i></i></i></i></i></i></i></i></i></i></i></i></div><div class="m v" style="left:1616px;top:396px"><div class="w" style="left:-6px;top:-5px"><i style="--s:#030,#050 51Q,#030 120Q,#030 123Q"><i style="--s:#030,#050 49Q,#030 108Q,#030 123Q"><i style="--s:#030,#050 49Q,#030 104Q,#030 123Q"><i style="--s:#030,#060 48Q,#030 100Q,#030 123Q"><i style="--s:#030,#060 47Q,#030 97Q,#030 123Q"><i style="--s:#040,#060 47Q,#030 95Q,#030 123Q"><i style="--s:#040,#060 47Q,#030 93Q,#030 123Q"><i style="--s:#040,#060 47Q,#030 92Q,#030 123Q"><i style="--s:#050,#070 47Q,#030 90Q,#030 123Q"><i style="--s:#060,#070 47Q,#030 90Q,#030 123Q"><i style="--s:#070,#070 48Q,#030 90Q,#030 123Q"><i style="--s:#080,#070 49Q,#030 92Q,#030 123Q"><i style="--s:#090,#070 51Q,#030 93Q,#030 123Q"><i style="--s:#0b0,#070 55Q,#040 95Q,#030 123Q"><i style="--s:#0c0,#0a0 31Q,#040 92Q,#030 123Q"><i style="--s:#0e0,#0d0 24Q,#040 86Q,#030 123Q"><i style="--s:#100,#0f0 21Q,#0a0 45Q,#040 90Q,#030 123Q"><i style="--s:#120,#110 19Q,#0a0 42Q,#050 90Q,#030 123Q"><i style="--s:#150,#140 17Q,#0b0 40Q,#070 67Q,#040 95Q,#030 123Q"><i style="--s:#170,#170 16Q,#0c0 39Q,#080 65Q,#050 86Q,#030 123Q"><i style="--s:#190,#1a0 16Q,#130 28Q,#0d0 39Q,#0a0 63Q,#060 82Q,#030 123Q"><i style="--s:#1b0,#1d0 15Q,#180 24Q,#0e0 37Q,#0c0 48Q,#0a0 63Q,#060 81Q,#030 123Q"><i style="--s:#1e0,#200 15Q,#1b0 23Q,#100 35Q,#0d0 45Q,#0c0 60Q,#060 79Q,#030 123Q"><i style="--s:#200,#230 15Q,#1e0 22Q,#110 35Q,#0e0 44Q,#0d0 59Q,#060 78Q,#040 113Q,#030 123Q"><i style="--s:#220,#260 14Q,#220 21Q,#120 34Q,#0e0 42Q,#0e0 58Q,#060 77Q,#040 107Q,#030 123Q"><i style="--s:#240,#290 14Q,#260 20Q,#1a0 29Q,#110 37Q,#0f0 44Q,#0f0 57Q,#060 77Q,#050 104Q,#030 123Q"><i style="--s:#250,#290 8Q,#2b0 14Q,#290 20Q,#1e0 27Q,#140 34Q,#100 41Q,#0f0 57Q,#070 76Q,#050 103Q,#030 123Q"><i style="--s:#260,#2a0 7Q,#2e0 14Q,#2b0 20Q,#220 26Q,#160 33Q,#100 40Q,#100 57Q,#070 75Q,#050 103Q,#030 123Q"><i style="--s:#280,#2b0 6Q,#300 13Q,#300 17Q,#290 23Q,#170 33Q,#110 39Q,#110 47Q,#100 57Q,#070 75Q,#060 102Q,#030 123Q"><i style="--s:#280,#2c0 6Q,#320 13Q,#330 17Q,#2d0 22Q,#170 33Q,#120 39Q,#110 47Q,#110 56Q,#070 74Q,#060 86Q,#060 101Q,#030 122Q,#030 123Q"><i style="--s:#290,#2c0 5Q,#340 13Q,#350 17Q,#2f0 22Q,#1a0 32Q,#120 38Q,#110 44Q,#120 55Q,#0b0 66Q,#060 76Q,#060 100Q,#030 121Q,#030 123Q"><i style="--s:#290,#2c0 5Q,#360 13Q,#370 17Q,#300 22Q,#1a0 32Q,#130 38Q,#120 44Q,#120 55Q,#0a0 66Q,#060 76Q,#070 99Q,#030 121Q,#030 123Q"><i style="--s:#290,#2d0 5Q,#370 13Q,#380 17Q,#320 22Q,#1a0 32Q,#130 38Q,#120 44Q,#130 53Q,#0e0 62Q,#060 72Q,#060 83Q,#070 98Q,#030 120Q,#030 123Q"><i style="--s:#290,#2d0 5Q,#380 13Q,#3a0 16Q,#360 20Q,#2e0 24Q,#1a0 32Q,#130 37Q,#120 42Q,#130 53Q,#0d0 62Q,#070 71Q,#050 81Q,#070 97Q,#030 120Q,#030 123Q"><i style="--s:#280,#2b0 4Q,#390 13Q,#3a0 16Q,#370 20Q,#2e0 24Q,#1c0 31Q,#150 35Q,#120 41Q,#130 52Q,#0f0 60Q,#070 70Q,#050 80Q,#070 97Q,#030 120Q,#030 123Q"><i style="--s:#270,#2a0 4Q,#390 13Q,#3b0 16Q,#370 20Q,#2e0 24Q,#1c0 31Q,#150 35Q,#120 41Q,#130 52Q,#0d0 61Q,#060 70Q,#050 80Q,#070 96Q,#030 120Q,#030 123Q"><i style="--s:#260,#290 4Q,#390 13Q,#3b0 16Q,#370 20Q,#2e0 24Q,#1c0 31Q,#150 35Q,#120 41Q,#130 52Q,#0d0 61Q,#060 70Q,#050 80Q,#070 96Q,#030 120Q,#030 123Q"><i style="--s:#250,#280 4Q,#380 13Q,#3a0 16Q,#370 20Q,#2d0 24Q,#1b0 31Q,#140 35Q,#110 41Q,#130 51Q,#0e0 59Q,#060 69Q,#040 78Q,#070 96Q,#030 120Q,#030 123Q"><i style="--s:#240,#270 4Q,#370 13Q,#390 16Q,#350 20Q,#2c0 24Q,#1a0 31Q,#140 35Q,#110 41Q,#130 51Q,#0e0 59Q,#060 69Q,#050 79Q,#070 95Q,#030 120Q,#030 123Q"><i style="--s:#220,#260 4Q,#350 12Q,#380 15Q,#360 19Q,#2e0 23Q,#1b0 30Q,#140 34Q,#110 40Q,#130 51Q,#0c0 60Q,#050 69Q,#040 79Q,#070 95Q,#030 119Q,#030 123Q"><i style="--s:#210,#240 4Q,#330 12Q,#360 15Q,#340 19Q,#2c0 23Q,#1a0 30Q,#130 34Q,#100 40Q,#120 50Q,#0e0 58Q,#050 68Q,#040 78Q,#060 95Q,#030 119Q,#030 123Q"><i style="--s:#1f0,#220 4Q,#310 12Q,#340 15Q,#320 19Q,#2a0 23Q,#180 30Q,#120 34Q,#100 40Q,#120 50Q,#0d0 58Q,#050 67Q,#040 76Q,#060 94Q,#030 119Q,#030 123Q"><i style="--s:#1d0,#210 4Q,#2f0 12Q,#310 15Q,#2f0 19Q,#270 23Q,#160 30Q,#110 34Q,#100 40Q,#120 49Q,#0d0 57Q,#050 67Q,#040 77Q,#060 94Q,#030 119Q,#030 123Q"><i style="--s:#1c0,#1f0 4Q,#2c0 12Q,#2f0 15Q,#2c0 19Q,#240 23Q,#150 30Q,#100 34Q,#0f0 40Q,#110 49Q,#0c0 57Q,#050 67Q,#040 77Q,#060 94Q,#030 119Q,#030 123Q"><i style="--s:#1a0,#1d0 4Q,#2a0 12Q,#2c0 15Q,#290 19Q,#1f0 24Q,#130 30Q,#0f0 34Q,#0f0 41Q,#110 49Q,#0b0 58Q,#050 67Q,#040 78Q,#060 94Q,#030 119Q,#030 123Q"><i style="--s:#190,#1d0 5Q,#270 12Q,#280 15Q,#240 20Q,#130 29Q,#0f0 33Q,#0f0 40Q,#110 48Q,#0c0 56Q,#050 66Q,#040 77Q,#060 93Q,#030 119Q,#030 123Q"><i style="--s:#170,#1b0 5Q,#240 12Q,#250 16Q,#1f0 21Q,#110 29Q,#0d0 34Q,#110 48Q,#0c0 56Q,#050 65Q,#040 75Q,#050 93Q,#030 119Q,#030 123Q"><i style="--s:#160,#190 5Q,#210 12Q,#210 16Q,#1a0 22Q,#0f0 29Q,#0d0 34Q,#110 47Q,#0c0 55Q,#050 65Q,#040 76Q,#050 93Q,#030 120Q,#030 123Q"><i style="--s:#150,#190 6Q,#1e0 12Q,#1e0 16Q,#150 23Q,#0d0 29Q,#0c0 34Q,#110 46Q,#0e0 52Q,#050 64Q,#040 74Q,#050 92Q,#030 120Q,#030 123Q"><i style="--s:#140,#180 7Q,#1b0 13Q,#170 19Q,#0d0 28Q,#0b0 33Q,#110 45Q,#0f0 51Q,#050 64Q,#040 75Q,#050 93Q,#030 121Q,#030 123Q"><i style="--s:#130,#180 12Q,#160 17Q,#0c0 27Q,#0b0 32Q,#110 44Q,#0f0 50Q,#050 63Q,#030 72Q,#050 92Q,#030 123Q"><i style="--s:#120,#150 12Q,#110 19Q,#0a0 27Q,#0a0 32Q,#110 43Q,#100 49Q,#050 63Q,#030 72Q,#040 93Q,#030 123Q"><i style="--s:#120,#130 12Q,#090 26Q,#0b0 32Q,#120 42Q,#110 47Q,#050 63Q,#040 74Q,#040 93Q,#040 123Q"><i style="--s:#120,#110 11Q,#080 24Q,#090 30Q,#130 42Q,#120 47Q,#050 62Q,#030 71Q,#040 93Q,#040 123Q"><i style="--s:#110,#0f0 10Q,#070 23Q,#090 29Q,#140 41Q,#130 46Q,#050 62Q,#030 71Q,#040 94Q,#040 123Q"><i style="--s:#120,#0f0 9Q,#070 21Q,#070 26Q,#0f0 34Q,#150 41Q,#140 46Q,#050 61Q,#030 69Q,#040 95Q,#040 123Q"><i style="--s:#120,#100 7Q,#060 19Q,#070 24Q,#0c0 30Q,#160 39Q,#160 44Q,#110 50Q,#060 60Q,#030 68Q,#040 96Q,#040 123Q"><i style="--s:#130,#0f0 7Q,#060 17Q,#060 23Q,#0c0 29Q,#170 38Q,#180 43Q,#130 49Q,#070 59Q,#040 66Q,#050 97Q,#040 123Q"><i style="--s:#140,#110 6Q,#070 16Q,#060 22Q,#0b0 27Q,#190 37Q,#1a0 41Q,#170 46Q,#070 59Q,#040 66Q,#050 97Q,#040 123Q"><i style="--s:#160,#130 5Q,#080 15Q,#070 21Q,#0c0 26Q,#1a0 35Q,#1d0 40Q,#190 45Q,#080 58Q,#040 65Q,#050 97Q,#040 123Q"><i style="--s:#180,#150 5Q,#090 14Q,#080 19Q,#0a0 23Q,#1c0 34Q,#1f0 39Q,#1d0 43Q,#120 51Q,#070 59Q,#040 66Q,#060 94Q,#040 123Q"><i style="--s:#1a0,#170 5Q,#0b0 14Q,#0a0 19Q,#0d0 23Q,#1e0 33Q,#220 38Q,#200 42Q,#170 48Q,#0a0 57Q,#050 63Q,#050 74Q,#070 92Q,#040 123Q"><i style="--s:#1d0,#190 5Q,#0e0 13Q,#0c0 17Q,#0f0 22Q,#230 33Q,#250 38Q,#220 42Q,#150 50Q,#0a0 57Q,#060 63Q,#060 74Q,#080 90Q,#040 123Q"><i style="--s:#210,#1d0 5Q,#110 13Q,#0f0 17Q,#140 22Q,#260 32Q,#290 37Q,#260 41Q,#1b0 47Q,#0d0 55Q,#070 61Q,#060 69Q,#090 88Q,#050 123Q"><i style="--s:#250,#210 5Q,#150 13Q,#140 17Q,#190 22Q,#2a0 31Q,#2d0 35Q,#2a0 40Q,#1f0 46Q,#100 53Q,#090 59Q,#070 66Q,#0a0 87Q,#050 123Q"><i style="--s:#2a0,#260 5Q,#1b0 12Q,#190 16Q,#1d0 21Q,#2e0 30Q,#310 34Q,#2e0 39Q,#250 44Q,#130 52Q,#0b0 58Q,#080 64Q,#0b0 87Q,#050 123Q"><i style="--s:#300,#2c0 5Q,#210 12Q,#1f0 16Q,#240 21Q,#330 29Q,#360 33Q,#330 38Q,#290 43Q,#160 51Q,#0c0 57Q,#090 63Q,#0c0 76Q,#0d0 88Q,#050 121Q,#050 123Q"><i style="--s:#360,#320 5Q,#280 12Q,#270 16Q,#2c0 21Q,#3a0 29Q,#3c0 32Q,#3b0 35Q,#320 40Q,#190 50Q,#0f0 56Q,#0b0 61Q,#0b0 69Q,#0f0 83Q,#0a0 100Q,#050 122Q,#050 123Q"><i style="--s:#3e0,#3a0 5Q,#300 12Q,#2f0 16Q,#340 21Q,#400 28Q,#420 31Q,#400 34Q,#370 39Q,#1c0 49Q,#110 55Q,#0d0 60Q,#0d0 67Q,#110 82Q,#0c0 97Q,#060 118Q,#050 123Q"><i style="--s:#460,#430 5Q,#390 12Q,#390 16Q,#3f0 22Q,#480 28Q,#480 31Q,#460 34Q,#3b0 39Q,#200 48Q,#150 53Q,#0f0 59Q,#0f0 66Q,#130 80Q,#100 92Q,#070 114Q,#050 123Q"><i style="--s:#500,#4c0 5Q,#430 12Q,#430 16Q,#4b0 23Q,#4f0 28Q,#4f0 31Q,#4b0 34Q,#3e0 39Q,#240 47Q,#190 52Q,#120 58Q,#110 64Q,#150 79Q,#120 90Q,#070 112Q,#050 123Q"><i style="--s:#5a0,#560 5Q,#4e0 12Q,#4e0 16Q,#570 26Q,#570 29Q,#540 32Q,#470 37Q,#260 47Q,#1c0 51Q,#150 57Q,#140 63Q,#180 78Q,#140 88Q,#080 110Q,#050 123Q"><i style="--s:#650,#610 5Q,#5a0 12Q,#5a0 16Q,#600 26Q,#5f0 29Q,#5a0 32Q,#4b0 37Q,#2b0 46Q,#200 50Q,#190 55Q,#170 60Q,#1a0 77Q,#160 87Q,#0a0 107Q,#050 123Q"><i style="--s:#700,#6c0 6Q,#670 12Q,#670 17Q,#6a0 25Q,#680 28Q,#630 31Q,#570 35Q,#300 45Q,#250 49Q,#1e0 53Q,#1a0 59Q,#1d0 76Q,#190 85Q,#0a0 106Q,#050 123Q"><i style="--s:#7c0,#790 6Q,#730 13Q,#740 24Q,#720 27Q,#6c0 30Q,#5f0 34Q,#360 44Q,#2a0 48Q,#220 52Q,#1e0 58Q,#200 75Q,#1b0 84Q,#0c0 104Q,#060 119Q,#050 123Q"><i style="--s:#890,#850 7Q,#800 14Q,#7f0 23Q,#7a0 27Q,#730 30Q,#640 34Q,#3d0 43Q,#300 47Q,#270 51Q,#220 57Q,#230 75Q,#1d0 84Q,#0c0 103Q,#060 117Q,#050 123Q"><i style="--s:#960,#920 7Q,#8e0 15Q,#8b0 22Q,#850 26Q,#7d0 29Q,#6d0 33Q,#440 42Q,#360 46Q,#2d0 50Q,#270 55Q,#260 62Q,#260 72Q,#200 82Q,#0d0 102Q,#070 115Q,#050 123Q"><i style="--s:#a30,#9f0 8Q,#970 21Q,#900 25Q,#880 28Q,#780 32Q,#4c0 41Q,#3d0 45Q,#330 49Q,#2d0 53Q,#2a0 60Q,#290 71Q,#220 81Q,#0f0 100Q,#070 113Q,#050 123Q"><i style="--s:#b00,#ac0 8Q,#a30 20Q,#9c0 24Q,#930 27Q,#820 31Q,#500 41Q,#410 45Q,#370 49Q,#320 53Q,#2f0 61Q,#2c0 71Q,#230 81Q,#0f0 99Q,#080 111Q,#050 123Q"><i style="--s:#bd0,#b90 8Q,#b20 17Q,#aa0 22Q,#a20 25Q,#920 29Q,#590 40Q,#490 44Q,#3e0 48Q,#380 52Q,#330 60Q,#2f0 70Q,#240 81Q,#110 97Q,#090 108Q,#050 123Q"><i style="--s:#c90,#c60 8Q,#bf0 16Q,#b60 21Q,#aa0 25Q,#980 29Q,#630 39Q,#520 43Q,#450 47Q,#3e0 51Q,#380 58Q,#330 69Q,#260 80Q,#120 96Q,#0a0 106Q,#050 121Q,#050 123Q"><i style="--s:#d40,#d10 8Q,#cb0 15Q,#c20 20Q,#b50 24Q,#a40 28Q,#680 39Q,#570 43Q,#4b0 47Q,#440 51Q,#3c0 60Q,#340 70Q,#120 95Q,#0a0 105Q,#050 119Q,#050 123Q"><i style="--s:#df0,#dc0 8Q,#d60 14Q,#cd0 19Q,#c10 23Q,#af0 27Q,#720 38Q,#610 42Q,#540 46Q,#4b0 50Q,#420 58Q,#370 69Q,#140 93Q,#0b0 103Q,#060 116Q,#050 123Q"><i style="--s:#e80,#e50 8Q,#df0 14Q,#d50 19Q,#c80 23Q,#b50 27Q,#780 38Q,#670 42Q,#5a0 46Q,#4f0 51Q,#380 69Q,#190 89Q,#0d0 100Q,#060 112Q,#050 123Q"><i style="--s:#f00,#ed0 8Q,#e70 14Q,#dc0 19Q,#ce0 23Q,#bb0 27Q,#7e0 38Q,#6d0 42Q,#600 46Q,#550 51Q,#380 70Q,#1b0 87Q,#0f0 97Q,#080 107Q,#040 123Q"><i style="--s:#f60,#f40 8Q,#ef0 13Q,#e70 17Q,#d70 22Q,#c50 26Q,#8a0 37Q,#780 41Q,#6a0 45Q,#5d0 50Q,#1d0 85Q,#100 95Q,#090 104Q,#050 118Q,#040 123Q"><i style="--s:#fb0,#f90 8Q,#f40 13Q,#ec0 17Q,#dc0 22Q,#ca0 26Q,#900 37Q,#7e0 41Q,#6d0 46Q,#5c0 53Q,#230 81Q,#150 90Q,#0b0 100Q,#060 112Q,#040 123Q"><i style="--s:#fe0,#fc0 8Q,#f70 13Q,#ef0 17Q,#df0 22Q,#ce0 26Q,#960 37Q,#810 42Q,#710 47Q,#530 59Q,#2a0 77Q,#180 87Q,#0c0 97Q,#070 107Q,#040 123Q"><i style="--s:#ff0,#fc0 9Q,#f70 14Q,#ec0 19Q,#de0 23Q,#c80 28Q,#970 38Q,#840 43Q,#6e0 50Q,#3c0 69Q,#240 80Q,#150 89Q,#0a0 99Q,#050 110Q,#040 123Q"><i style="--s:#fe0,#fc0 9Q,#f70 14Q,#ec0 19Q,#df0 23Q,#ca0 28Q,#9d0 38Q,#860 44Q,#600 56Q,#3c0 69Q,#230 80Q,#140 89Q,#0a0 98Q,#050 108Q,#040 123Q"><i style="--s:#fc0,#fa0 9Q,#f50 14Q,#ec0 19Q,#e00 23Q,#c80 29Q,#9a0 40Q,#7a0 49Q,#4a0 64Q,#300 74Q,#1d0 83Q,#100 92Q,#080 100Q,#040 112Q,#040 123Q"><i style="--s:#f80,#f60 10Q,#f10 15Q,#e40 21Q,#d50 26Q,#930 43Q,#550 61Q,#3a0 70Q,#230 80Q,#150 88Q,#0a0 97Q,#050 106Q,#040 123Q"><i style="--s:#f20,#f00 10Q,#ec0 15Q,#e10 21Q,#d30 26Q,#a90 38Q,#560 61Q,#3d0 69Q,#250 79Q,#140 88Q,#0a0 97Q,#050 106Q,#040 123Q"><i style="--s:#eb0,#e90 11Q,#e40 17Q,#d80 23Q,#c80 29Q,#9c0 42Q,#530 62Q,#3b0 70Q,#230 80Q,#130 89Q,#090 98Q,#050 107Q,#040 123Q"><i style="--s:#e30,#e10 11Q,#dc0 17Q,#d10 24Q,#c00 31Q,#a10 41Q,#780 52Q,#500 63Q,#390 71Q,#210 81Q,#130 89Q,#090 98Q,#040 107Q,#040 123Q"><i style="--s:#d90,#d70 12Q,#d00 20Q,#c50 27Q,#b50 34Q,#9d0 42Q,#790 52Q,#540 62Q,#3c0 70Q,#240 80Q,#140 89Q,#090 98Q,#040 107Q,#030 123Q"><i style="--s:#cf0,#cd0 12Q,#c60 21Q,#bc0 28Q,#ae0 35Q,#980 43Q,#780 52Q,#540 62Q,#3c0 70Q,#250 80Q,#140 89Q,#090 98Q,#040 107Q,#030 123Q"><i style="--s:#c40,#c10 12Q,#ba0 23Q,#b00 31Q,#a30 38Q,#920 44Q,#730 53Q,#500 63Q,#3a0 71Q,#210 82Q,#100 92Q,#080 100Q,#040 110Q,#030 123Q"><i style="--s:#b80,#b60 11Q,#ab0 28Q,#a20 35Q,#940 42Q,#820 48Q,#530 62Q,#3c0 70Q,#220 82Q,#100 93Q,#080 101Q,#040 111Q,#030 123Q"><i style="--s:#ad0,#a90 10Q,#9c0 33Q,#930 40Q,#870 45Q,#6e0 53Q,#4e0 63Q,#3a0 71Q,#1f0 84Q,#0e0 95Q,#070 103Q,#030 114Q,#030 123Q"><i style="--s:#a10,#9e0 8Q,#960 21Q,#920 34Q,#8b0 40Q,#820 45Q,#6e0 52Q,#4d0 63Q,#390 71Q,#1b0 87Q,#0d0 97Q,#060 105Q,#030 117Q,#030 123Q"><i style="--s:#950,#920 7Q,#880 19Q,#870 27Q,#870 35Q,#820 41Q,#790 46Q,#660 53Q,#4a0 63Q,#380 71Q,#150 92Q,#0a0 101Q,#040 111Q,#030 123Q"><i style="--s:#8a0,#870 6Q,#7a0 19Q,#790 25Q,#7c0 37Q,#780 42Q,#700 47Q,#560 57Q,#420 65Q,#300 75Q,#0f0 97Q,#070 105Q,#030 115Q,#030 123Q"><i style="--s:#7f0,#7d0 5Q,#6d0 17Q,#6a0 23Q,#6d0 30Q,#710 38Q,#6f0 43Q,#670 48Q,#420 63Q,#350 71Q,#0c0 100Q,#060 108Q,#030 120Q,#030 123Q"><i style="--s:#750,#720 5Q,#5f0 17Q,#5c0 23Q,#5f0 29Q,#670 38Q,#670 42Q,#610 47Q,#4d0 56Q,#3c0 64Q,#310 72Q,#210 86Q,#0c0 101Q,#050 110Q,#030 121Q,#030 123Q"><i style="--s:#6c0,#680 5Q,#530 16Q,#4e0 21Q,#4f0 25Q,#570 32Q,#5e0 39Q,#5d0 43Q,#570 48Q,#3a0 62Q,#310 69Q,#240 84Q,#0b0 103Q,#050 112Q,#030 123Q"><i style="--s:#630,#600 4Q,#560 9Q,#470 16Q,#410 21Q,#420 25Q,#4a0 31Q,#530 38Q,#550 42Q,#520 46Q,#470 52Q,#350 61Q,#2e0 67Q,#250 83Q,#1b0 92Q,#0b0 104Q,#040 113Q,#030 123Q"><i style="--s:#5b0,#580 4Q,#4f0 8Q,#3e0 15Q,#360 20Q,#360 24Q,#3c0 29Q,#4a0 38Q,#4c0 42Q,#490 46Q,#3f0 52Q,#300 60Q,#290 66Q,#270 76Q,#250 84Q,#1c0 92Q,#0a0 105Q,#040 114Q,#030 123Q"><i style="--s:#540,#500 4Q,#470 8Q,#340 15Q,#2c0 20Q,#2b0 23Q,#2f0 27Q,#420 38Q,#440 42Q,#410 46Q,#370 52Q,#280 60Q,#240 65Q,#240 72Q,#250 82Q,#220 88Q,#120 100Q,#080 108Q,#040 117Q,#030 123Q"><i style="--s:#4e0,#4a0 4Q,#400 8Q,#2b0 15Q,#240 19Q,#220 22Q,#230 25Q,#2c0 30Q,#390 37Q,#3c0 41Q,#3b0 45Q,#330 50Q,#230 59Q,#1e0 64Q,#1f0 70Q,#250 81Q,#230 87Q,#1a0 95Q,#0b0 106Q,#050 114Q,#030 123Q"><i style="--s:#490,#440 4Q,#3a0 8Q,#240 15Q,#1c0 19Q,#1a0 22Q,#1c0 25Q,#240 30Q,#330 37Q,#360 41Q,#340 45Q,#2c0 50Q,#1d0 58Q,#190 63Q,#190 68Q,#240 81Q,#240 86Q,#1e0 93Q,#0a0 107Q,#040 115Q,#030 123Q"><i style="--s:#440,#400 4Q,#350 8Q,#1e0 15Q,#160 19Q,#140 22Q,#160 25Q,#1c0 29Q,#2d0 37Q,#300 41Q,#2e0 45Q,#240 51Q,#170 58Q,#140 63Q,#150 68Q,#230 81Q,#240 86Q,#200 92Q,#0b0 107Q,#040 115Q,#030 123Q"><i style="--s:#410,#3e0 3Q,#370 6Q,#190 15Q,#110 19Q,#0f0 22Q,#110 25Q,#180 29Q,#290 37Q,#2c0 41Q,#2a0 45Q,#1f0 51Q,#120 58Q,#0f0 62Q,#110 67Q,#1e0 77Q,#240 83Q,#240 88Q,#1d0 95Q,#0b0 107Q,#040 115Q,#030 123Q"><i style="--s:#3e0,#3b0 3Q,#340 6Q,#180 14Q,#110 17Q,#0c0 21Q,#0c0 24Q,#120 28Q,#260 37Q,#280 40Q,#280 43Q,#230 47Q,#100 57Q,#0c0 61Q,#0c0 65Q,#110 70Q,#220 81Q,#250 86Q,#210 92Q,#140 101Q,#080 110Q,#040 117Q,#030 123Q"><i style="--s:#3d0,#3a0 3Q,#320 6Q,#160 14Q,#0e0 17Q,#090 21Q,#0a0 24Q,#100 28Q,#240 37Q,#260 40Q,#260 43Q,#200 47Q,#0d0 57Q,#0a0 61Q,#0a0 65Q,#100 70Q,#210 81Q,#250 86Q,#220 92Q,#160 100Q,#0a0 108Q,#040 116Q,#030 123Q"><i style="--s:#3c0,#390 3Q,#320 6Q,#150 14Q,#0d0 17Q,#080 21Q,#090 24Q,#0f0 28Q,#220 37Q,#250 40Q,#240 43Q,#1f0 47Q,#0d0 56Q,#090 60Q,#080 64Q,#0d0 69Q,#210 81Q,#250 86Q,#220 92Q,#160 100Q,#0a0 108Q,#040 116Q,#030 123Q"></i></i></i></i></i></i></i></i></i></i></i></i></i></i></i></i></i></i></i></i></i></i></i></i></i></i></i></i></i></i></i></i></i></i></i></i></i></i></i></i></i></i></i></i></i></i></i></i></i></i></i></i></i></i></i></i></i></i></i></i></i></i></i></i></i></i></i></i></i></i></i></i></i></i></i></i></i></i></i></i></i></i></i></i></i></i></i></i></i></i></i></i></i></i></i></i></i></i></i></i></i></i></i></i></i></i></i></i></i></i></i></i></i></i></i></i></div><b style="background:linear-gradient(90deg,#0000 46%,#0002 56%)"></b></div><div class="m" style="left:314px;top:758px"><b style="background:radial-gradient(181.67px 45.42px,#ff0 0%,#fd0 3.125%,#f70 6.375%,#ec0 9.75%,#dc0 13.5%,#c50 17.88%,#990 25.25%,#6c0 32.75%,#510 37.88%,#3c0 42.62%,#2a0 47.38%,#1d0 52.25%,#120 57.63%,#0a0 63.75%,#040 71.5%,#010 83.12%,#000 100%)"></b></div><div class="m P v" style="left:631px;top:758px"><i style="--s:#7f0,#170 26Q,#000 33Q,#ff0 0,#d70 44Q,#a10 62Q,#700 82Q,#440 104Q,#300 116Q"><i style="--s:#7f0,#160 26Q,#000 32Q,#ff0 0,#d50 44Q,#9f0 62Q,#700 81Q,#440 103Q,#2e0 116Q"><i style="--s:#7f0,#150 26Q,#000 32Q,#ff0 0,#d70 43Q,#a30 60Q,#730 79Q,#460 101Q,#2c0 116Q"><i style="--s:#7f0,#140 26Q,#000 31Q,#ff0 0,#d50 43Q,#a10 60Q,#710 79Q,#440 101Q,#2a0 116Q"><i style="--s:#7f0,#160 25Q,#000 31Q,#ff0 0,#d60 42Q,#a10 59Q,#710 78Q,#450 99Q,#280 116Q"><i style="--s:#7f0,#150 25Q,#000 31Q,#ff0 0,#d40 42Q,#9f0 59Q,#6f0 78Q,#430 99Q,#260 116Q"><i style="--s:#7f0,#140 25Q,#000 30Q,#ff0 0,#d60 41Q,#a30 57Q,#740 75Q,#470 96Q,#240 116Q"><i style="--s:#7f0,#120 25Q,#000 30Q,#ff0 0,#d40 41Q,#a10 57Q,#710 75Q,#440 96Q,#220 116Q"><i style="--s:#7f0,#150 24Q,#000 29Q,#ff0 0,#d60 40Q,#a20 56Q,#710 74Q,#460 94Q,#200 116Q"><i style="--s:#7f0,#140 24Q,#000 29Q,#ff0 0,#d40 40Q,#9f0 56Q,#6f0 74Q,#440 94Q,#1e0 116Q"><i style="--s:#7f0,#120 24Q,#000 29Q,#ff0 0,#d50 39Q,#a60 53Q,#770 70Q,#4a0 90Q,#1f0 114Q,#1b0 116Q"><i style="--s:#7f0,#110 24Q,#000 28Q,#ff0 0,#d30 39Q,#a40 53Q,#740 70Q,#470 90Q,#1c0 114Q,#190 116Q"><i style="--s:#7f0,#0f0 24Q,#000 28Q,#ff0 0,#d10 39Q,#a20 53Q,#720 70Q,#450 90Q,#1a0 114Q,#170 116Q"><i style="--s:#7f0,#0e0 24Q,#000 27Q,#ff0 0,#d30 38Q,#a20 52Q,#720 69Q,#470 88Q,#1b0 112Q,#150 116Q"><i style="--s:#7f0,#110 23Q,#000 27Q,#ff0 0,#d50 37Q,#a60 50Q,#770 66Q,#4b0 85Q,#210 107Q,#130 116Q"><i style="--s:#7f0,#0f0 23Q,#000 27Q,#ff0 0,#d20 37Q,#a40 50Q,#750 66Q,#480 85Q,#1f0 107Q,#100 116Q"><i style="--s:#7f0,#0d0 23Q,#000 26Q,#ff0 0,#d00 37Q,#a10 50Q,#720 66Q,#460 85Q,#1d0 107Q,#0e0 116Q"><i style="--s:#7f0,#0c0 23Q,#000 26Q,#ff0 0,#d60 35Q,#a20 49Q,#730 65Q,#470 83Q,#1f0 104Q,#0c0 116Q"><i style="--s:#7f0,#0a0 23Q,#000 25Q,#ff0 0,#d30 35Q,#a30 48Q,#750 63Q,#490 81Q,#200 102Q,#0a0 116Q"><i style="--s:#7f0,#080 23Q,#000 25Q,#ff0 0,#d10 35Q,#a00 48Q,#730 63Q,#470 81Q,#1e0 102Q,#070 116Q"><i style="--s:#800,#010 24Q,#000 0,#ff0 0,#cf0 35Q,#9e0 48Q,#700 63Q,#440 81Q,#1b0 102Q,#050 116Q"><i style="--s:#800,#000 24Q,#ff0 0,#fe0 0,#cc0 35Q,#9b0 48Q,#6d0 63Q,#420 81Q,#190 102Q,#030 116Q"><i style="--s:#800,#000 24Q,#ff0 0,#fc0 0,#c90 35Q,#9c0 47Q,#6d0 62Q,#430 79Q,#1a0 100Q,#000 116Q"><i style="--s:#800,#000 23Q,#ff0 0,#fa0 24Q,#cb0 34Q,#9c0 46Q,#700 60Q,#450 77Q,#1d0 97Q,#000 115Q,#ff0 0,#fd0 116Q"><i style="--s:#800,#000 23Q,#ff0 0,#f80 24Q,#c80 34Q,#990 46Q,#6d0 60Q,#420 77Q,#1a0 97Q,#000 113Q,#ff0 0,#fb0 116Q"><i style="--s:#800,#000 22Q,#ff0 0,#f60 24Q,#ca0 33Q,#9a0 45Q,#6d0 59Q,#420 76Q,#190 96Q,#000 112Q,#ff0 0,#f80 116Q"><i style="--s:#800,#000 22Q,#ff0 0,#ee0 25Q,#c20 34Q,#930 46Q,#670 60Q,#3d0 77Q,#150 97Q,#000 110Q,#ff0 0,#f60 116Q"><i style="--s:#800,#000 22Q,#ff0 0,#ec0 25Q,#bf0 34Q,#940 45Q,#670 59Q,#3c0 76Q,#140 96Q,#000 109Q,#ff0 0,#f30 116Q"><i style="--s:#800,#000 21Q,#ff0 0,#e90 25Q,#c10 33Q,#940 44Q,#6a0 57Q,#430 72Q,#190 92Q,#000 107Q,#ff0 0,#f20 115Q,#f10 116Q"><i style="--s:#800,#1d0 16Q,#000 21Q,#ff0 0,#e00 26Q,#b90 34Q,#8d0 45Q,#610 59Q,#360 76Q,#0f0 96Q,#000 106Q,#ff0 0,#ef0 116Q"><i style="--s:#800,#290 14Q,#000 21Q,#ff0 0,#e30 25Q,#ba0 33Q,#8d0 44Q,#630 57Q,#3d0 72Q,#130 92Q,#000 104Q,#ff0 0,#ee0 115Q,#ec0 116Q"><i style="--s:#800,#350 12Q,#000 20Q,#ff0 0,#e60 24Q,#c00 31Q,#950 41Q,#6c0 53Q,#410 69Q,#180 88Q,#000 103Q,#ff0 0,#ef0 112Q,#ea0 116Q"><i style="--s:#800,#3b0 11Q,#000 20Q,#ff0 0,#e30 24Q,#bc0 31Q,#910 41Q,#690 53Q,#3e0 69Q,#150 88Q,#000 101Q,#ff0 0,#ed0 112Q,#e70 116Q"><i style="--s:#800,#410 10Q,#000 19Q,#ff0 0,#df0 24Q,#be0 30Q,#950 39Q,#6f0 50Q,#440 65Q,#1c0 83Q,#000 99Q,#ff0 0,#f50 105Q,#e50 116Q"><i style="--s:#800,#410 10Q,#000 19Q,#ff0 0,#e20 23Q,#bf0 29Q,#960 38Q,#6e0 49Q,#440 64Q,#1b0 82Q,#000 97Q,#ff0 0,#f50 103Q,#e20 116Q"><i style="--s:#800,#480 9Q,#140 16Q,#000 19Q,#ff0 0,#de0 23Q,#c00 28Q,#9e0 35Q,#740 46Q,#4b0 60Q,#220 77Q,#000 95Q,#ff0 0,#fa0 98Q,#e00 116Q"><i style="--s:#800,#480 9Q,#230 14Q,#000 18Q,#ff0 0,#e10 22Q,#c10 27Q,#9e0 34Q,#740 45Q,#4a0 59Q,#210 76Q,#000 94Q,#ff0 0,#fb0 96Q,#dd0 116Q"><i style="--s:#800,#490 9Q,#230 14Q,#000 18Q,#ff0 0,#dd0 22Q,#c20 26Q,#a30 32Q,#7b0 42Q,#510 55Q,#2b0 70Q,#050 89Q,#000 92Q,#ff0 0,#de0 113Q,#da0 116Q"><i style="--s:#800,#4a0 9Q,#2b0 13Q,#000 18Q,#ff0 0,#e00 21Q,#c30 25Q,#a80 30Q,#810 39Q,#590 51Q,#2f0 67Q,#070 86Q,#000 91Q,#ff0 0,#e00 110Q,#d80 116Q"><i style="--s:#800,#510 8Q,#350 12Q,#1a0 15Q,#000 18Q,#ff0 0,#db0 21Q,#c40 24Q,#a70 29Q,#810 38Q,#590 50Q,#2e0 66Q,#060 85Q,#000 89Q,#ff0 0,#e10 107Q,#d50 116Q"><i style="--s:#800,#4c0 9Q,#370 12Q,#1a0 15Q,#000 17Q,#ff0 0,#df0 20Q,#c50 23Q,#ac0 27Q,#8c0 34Q,#610 46Q,#370 61Q,#0e0 79Q,#000 87Q,#ff0 0,#e90 100Q,#d30 116Q"><i style="--s:#800,#4e0 9Q,#390 12Q,#270 14Q,#0f0 16Q,#000 17Q,#ff0 0,#d80 20Q,#c60 22Q,#b10 25Q,#930 31Q,#6a0 42Q,#400 56Q,#190 72Q,#000 86Q,#ff0 0,#f10 93Q,#d00 116Q"><i style="--s:#800,#510 9Q,#3d0 12Q,#2b0 14Q,#1f0 15Q,#000 17Q,#ff0 0,#dc0 19Q,#d00 20Q,#bd0 22Q,#aa0 25Q,#8e0 31Q,#620 43Q,#370 58Q,#0e0 76Q,#000 84Q,#ff0 0,#e80 97Q,#cd0 116Q"><i style="--s:#800,#4e0 10Q,#3b0 13Q,#320 14Q,#260 15Q,#150 16Q,#000 17Q,#ff0 0,#fd0 0,#d10 19Q,#c40 20Q,#bb0 21Q,#a80 24Q,#880 31Q,#5b0 44Q,#310 59Q,#090 77Q,#000 82Q,#ff0 0,#e30 98Q,#cb0 116Q"><i style="--s:#800,#480 12Q,#3c0 14Q,#330 15Q,#240 16Q,#000 17Q,#ff0 0,#fd0 0,#bf0 19Q,#b50 20Q,#a40 23Q,#7f0 32Q,#500 46Q,#250 62Q,#000 80Q,#ff0 0,#fd0 81Q,#d90 103Q,#c80 116Q"><i style="--s:#7f0,#4a0 13Q,#450 15Q,#490 16Q,#710 17Q,#a40 19Q,#a30 20Q,#8f0 26Q,#580 42Q,#2b0 58Q,#040 76Q,#000 78Q,#ff0 0,#df0 97Q,#c50 116Q"><i style="--s:#7f0,#590 10Q,#520 13Q,#520 14Q,#540 15Q,#5d0 16Q,#6f0 17Q,#8f0 19Q,#930 20Q,#920 22Q,#810 28Q,#480 46Q,#1e0 62Q,#000 77Q,#ff0 0,#f60 81Q,#d30 103Q,#c20 116Q"><i style="--s:#7f0,#5f0 9Q,#590 12Q,#590 14Q,#5d0 15Q,#640 16Q,#820 19Q,#860 20Q,#880 22Q,#800 26Q,#3b0 49Q,#110 66Q,#000 75Q,#ff0 0,#ea0 86Q,#c60 111Q,#c00 116Q"><i style="--s:#7f0,#620 9Q,#5d0 12Q,#5e0 14Q,#660 16Q,#790 19Q,#7f0 21Q,#7d0 24Q,#6e0 30Q,#340 50Q,#0b0 67Q,#000 73Q,#ff0 0,#e50 87Q,#c20 112Q,#bd0 116Q"><i style="--s:#7f0,#660 8Q,#5f0 12Q,#610 14Q,#750 20Q,#770 23Q,#6e0 28Q,#2a0 52Q,#010 70Q,#000 71Q,#ff0 0,#da0 92Q,#ba0 116Q"><i style="--s:#7f0,#670 8Q,#610 12Q,#630 15Q,#700 21Q,#6f0 24Q,#630 30Q,#240 53Q,#000 69Q,#ff0 0,#fb0 71Q,#d50 93Q,#b70 116Q"><i style="--s:#7f0,#690 8Q,#620 12Q,#640 16Q,#6b0 21Q,#680 25Q,#550 33Q,#1a0 55Q,#000 68Q,#ff0 0,#f10 74Q,#ce0 96Q,#b50 116Q"><i style="--s:#7f0,#670 9Q,#620 13Q,#650 22Q,#5e0 27Q,#120 57Q,#000 66Q,#ff0 0,#ea0 76Q,#c80 98Q,#b20 116Q"><i style="--s:#7f0,#680 9Q,#620 14Q,#5f0 23Q,#540 29Q,#100 56Q,#000 64Q,#ff0 0,#e80 75Q,#c60 97Q,#af0 116Q"><i style="--s:#7f0,#680 9Q,#600 15Q,#590 24Q,#480 32Q,#0c0 56Q,#000 62Q,#ff0 0,#e50 75Q,#c20 98Q,#ac0 116Q"><i style="--s:#7f0,#660 10Q,#5a0 19Q,#500 26Q,#050 57Q,#000 60Q,#ff0 0,#de0 77Q,#bc0 100Q,#a90 116Q"><i style="--s:#7f0,#650 10Q,#4b0 26Q,#010 57Q,#000 0,#ff0 0,#da0 77Q,#b90 100Q,#a60 116Q"><i style="--s:#7f0,#630 11Q,#420 28Q,#010 55Q,#000 0,#ff0 0,#da0 75Q,#b80 98Q,#a40 116Q"><i style="--s:#7f0,#5d0 13Q,#380 30Q,#010 53Q,#000 0,#ff0 0,#d80 74Q,#b60 97Q,#a10 116Q"><i style="--s:#7f0,#570 15Q,#000 51Q,#ff0 0,#fd0 52Q,#d70 72Q,#b40 96Q,#9e0 116Q"><i style="--s:#7f0,#450 21Q,#070 46Q,#000 49Q,#ff0 0,#dd0 66Q,#bb0 88Q,#9b0 116Q"><i style="--s:#7f0,#2e0 28Q,#000 47Q,#ff0 0,#ff0 0,#d80 67Q,#b50 90Q,#980 116Q"><i style="--s:#800,#290 28Q,#000 45Q,#ff0 0,#fe0 0,#d70 65Q,#b40 88Q,#950 116Q"><i style="--s:#800,#480 17Q,#210 29Q,#000 43Q,#ff0 0,#f90 45Q,#d30 65Q,#b10 88Q,#920 116Q"><i style="--s:#800,#540 13Q,#250 26Q,#030 39Q,#000 40Q,#ff0 0,#db0 58Q,#b80 80Q,#990 106Q,#8f0 116Q"><i style="--s:#800,#5b0 11Q,#240 25Q,#070 35Q,#000 38Q,#ff0 0,#df0 53Q,#ba0 76Q,#9b0 101Q,#8c0 116Q"><i style="--s:#800,#5a0 11Q,#220 24Q,#090 32Q,#000 36Q,#ff0 0,#e40 48Q,#c00 69Q,#9e0 95Q,#890 116Q"><i style="--s:#800,#5d0 10Q,#1d0 24Q,#060 31Q,#000 34Q,#ff0 0,#e50 45Q,#c00 66Q,#a00 90Q,#860 116Q"><i style="--s:#800,#610 9Q,#450 15Q,#1c0 23Q,#070 29Q,#000 32Q,#ff0 0,#e80 41Q,#c40 61Q,#a20 85Q,#850 114Q,#830 116Q"><i style="--s:#800,#610 9Q,#490 14Q,#1c0 22Q,#070 27Q,#000 30Q,#ff0 0,#f00 35Q,#cd0 53Q,#a90 77Q,#8b0 104Q,#800 116Q"><i style="--s:#800,#620 9Q,#4e0 13Q,#160 22Q,#010 27Q,#000 0,#ff0 0,#ea0 35Q,#c80 53Q,#a50 77Q,#870 104Q,#7d0 116Q"><i style="--s:#800,#620 9Q,#4f0 13Q,#160 21Q,#020 25Q,#000 26Q,#ff0 0,#ee0 31Q,#d10 45Q,#ac0 68Q,#8d0 95Q,#7a0 116Q"><i style="--s:#800,#670 8Q,#550 12Q,#410 15Q,#160 20Q,#040 23Q,#000 24Q,#ff0 0,#f30 27Q,#df0 35Q,#bb0 55Q,#9a0 79Q,#7e0 107Q,#770 116Q"><i style="--s:#800,#650 9Q,#570 12Q,#4a0 14Q,#2d0 17Q,#100 20Q,#020 22Q,#000 0,#ff0 0,#f30 25Q,#e20 31Q,#c30 47Q,#a00 71Q,#820 99Q,#740 116Q"><i style="--s:#800,#670 9Q,#5a0 12Q,#4d0 14Q,#440 15Q,#110 19Q,#070 20Q,#000 21Q,#ff0 0,#f80 22Q,#eb0 25Q,#d90 32Q,#b70 51Q,#950 77Q,#790 106Q,#710 116Q"><i style="--s:#800,#660 10Q,#590 13Q,#520 14Q,#490 15Q,#3b0 16Q,#070 19Q,#000 20Q,#ff0 0,#fb0 0,#ee0 22Q,#e00 26Q,#c70 38Q,#a40 61Q,#850 88Q,#6e0 116Q"><i style="--s:#800,#660 11Q,#5a0 14Q,#520 15Q,#430 16Q,#280 17Q,#000 19Q,#ff0 0,#f60 0,#ed0 20Q,#e30 22Q,#d40 28Q,#b20 48Q,#8f0 75Q,#740 104Q,#6b0 116Q"><i style="--s:#7f0,#620 15Q,#5f0 16Q,#1c0 17Q,#000 18Q,#ff0 0,#de0 19Q,#c70 31Q,#9f0 58Q,#810 85Q,#680 116Q"><i style="--s:#7f0,#6f0 11Q,#6f0 14Q,#730 15Q,#7e0 16Q,#980 17Q,#c40 19Q,#c90 20Q,#cb0 22Q,#c40 29Q,#980 60Q,#7a0 88Q,#640 116Q"><i style="--s:#7f0,#730 10Q,#750 13Q,#780 14Q,#7d0 15Q,#880 16Q,#b30 19Q,#ba0 20Q,#c00 22Q,#c00 26Q,#8b0 67Q,#6e0 98Q,#610 116Q"><i style="--s:#7f0,#760 9Q,#770 12Q,#7d0 14Q,#830 15Q,#a90 19Q,#af0 20Q,#b60 22Q,#b80 25Q,#b10 33Q,#880 66Q,#6b0 97Q,#5e0 116Q"><i style="--s:#7f0,#780 9Q,#7a0 12Q,#800 14Q,#8c0 16Q,#a60 20Q,#ad0 22Q,#b00 25Q,#ac0 32Q,#800 69Q,#650 101Q,#5b0 116Q"><i style="--s:#7f0,#790 8Q,#7c0 12Q,#860 15Q,#9f0 20Q,#a70 23Q,#a90 27Q,#9f0 38Q,#7b0 70Q,#600 103Q,#580 116Q"><i style="--s:#7f0,#7a0 8Q,#7e0 12Q,#860 15Q,#9c0 21Q,#a20 25Q,#9f0 32Q,#740 72Q,#5b0 106Q,#550 116Q"><i style="--s:#7f0,#7b0 9Q,#800 13Q,#980 22Q,#9c0 27Q,#930 38Q,#700 72Q,#570 107Q,#520 116Q"><i style="--s:#7f0,#7c0 9Q,#810 14Q,#920 22Q,#950 27Q,#8e0 38Q,#6a0 74Q,#520 110Q,#4f0 116Q"><i style="--s:#7f0,#7c0 9Q,#800 14Q,#8e0 23Q,#8f0 29Q,#7d0 49Q,#600 82Q,#4b0 116Q"><i style="--s:#7f0,#7c0 10Q,#850 19Q,#8a0 25Q,#860 34Q,#600 76Q,#490 114Q,#480 116Q"><i style="--s:#7f0,#7b0 10Q,#840 25Q,#7f0 35Q,#5c0 76Q,#460 115Q,#450 116Q"><i style="--s:#7f0,#7b0 11Q,#7f0 26Q,#740 41Q,#560 78Q,#420 116Q"><i style="--s:#7f0,#790 12Q,#790 27Q,#510 80Q,#3f0 116Q"><i style="--s:#7f0,#770 14Q,#720 30Q,#4f0 76Q,#3c0 116Q"><i style="--s:#7f0,#720 21Q,#4a0 77Q,#380 116Q"><i style="--s:#7f0,#520 58Q,#3c0 99Q,#350 116Q"><i style="--s:#800,#5d0 35Q,#430 75Q,#320 116Q"><i style="--s:#800,#680 19Q,#590 33Q,#420 69Q,#2f0 116Q"><i style="--s:#800,#6d0 14Q,#580 28Q,#470 50Q,#330 94Q,#2c0 116Q"><i style="--s:#800,#6f0 12Q,#550 26Q,#480 40Q,#340 81Q,#280 116Q"><i style="--s:#800,#700 11Q,#510 25Q,#460 35Q,#340 70Q,#250 116Q"><i style="--s:#800,#710 10Q,#4c0 25Q,#410 34Q,#310 66Q,#220 116Q"><i style="--s:#800,#730 9Q,#630 15Q,#4b0 23Q,#3f0 30Q,#340 47Q,#220 99Q,#1f0 116Q"><i style="--s:#800,#730 9Q,#650 14Q,#450 23Q,#3a0 29Q,#300 43Q,#200 95Q,#1b0 116Q"><i style="--s:#800,#730 9Q,#640 14Q,#430 22Q,#370 27Q,#2d0 37Q,#200 78Q,#180 116Q"><i style="--s:#800,#730 9Q,#680 13Q,#3d0 22Q,#320 26Q,#290 34Q,#1e0 69Q,#150 116Q"><i style="--s:#800,#760 8Q,#6c0 12Q,#5e0 15Q,#3a0 21Q,#300 24Q,#270 29Q,#1f0 43Q,#130 110Q,#120 116Q"><i style="--s:#800,#750 9Q,#6d0 12Q,#5e0 15Q,#380 20Q,#2b0 23Q,#230 27Q,#1b0 38Q,#100 101Q,#0f0 116Q"><i style="--s:#800,#770 9Q,#700 12Q,#660 14Q,#560 16Q,#380 19Q,#2b0 21Q,#200 24Q,#180 30Q,#120 55Q,#0b0 116Q"><i style="--s:#800,#790 9Q,#730 12Q,#6a0 14Q,#620 15Q,#570 16Q,#2f0 19Q,#270 20Q,#1d0 22Q,#160 25Q,#100 34Q,#080 116Q"><i style="--s:#800,#7b0 10Q,#750 13Q,#710 14Q,#690 15Q,#5c0 16Q,#480 17Q,#220 19Q,#1a0 20Q,#120 22Q,#0d0 26Q,#080 46Q,#050 116Q"><i style="--s:#800,#7d0 12Q,#7a0 14Q,#770 15Q,#6d0 16Q,#460 17Q,#0e0 19Q,#090 20Q,#050 24Q,#020 89Q,#020 116Q"></i></i></i></i></i></i></i></i></i></i></i></i></i></i></i></i></i></i></i></i></i></i></i></i></i></i></i></i></i></i></i></i></i></i></i></i></i></i></i></i></i></i></i></i></i></i></i></i></i></i></i></i></i></i></i></i></i></i></i></i></i></i></i></i></i></i></i></i></i></i></i></i></i></i></i></i></i></i></i></i></i></i></i></i></i></i></i></i></i></i></i></i></i></i></i></i></i></i></i></i></i></i></i></i></i></i></i></i></i></i></div><div class="m v" style="left:1009px;top:758px"><i style="--s:#000,#000 116Q"><i style="--s:#000,#000 116Q"><i style="--s:#000,#000 116Q"><i style="--s:#000,#000 116Q"><i style="--s:#000,#000 116Q"><i style="--s:#000,#000 116Q"><i style="--s:#000,#000 116Q"><i style="--s:#000,#000 116Q"><i style="--s:#000,#000 116Q"><i style="--s:#000,#000 116Q"><i style="--s:#000,#000 116Q"><i style="--s:#000,#000 116Q"><i style="--s:#000,#000 116Q"><i style="--s:#000,#000 116Q"><i style="--s:#000,#000 116Q"><i style="--s:#000,#000 116Q"><i style="--s:#000,#000 116Q"><i style="--s:#000,#000 116Q"><i style="--s:#000,#000 116Q"><i style="--s:#000,#000 116Q"><i style="--s:#000,#000 116Q"><i style="--s:#000,#000 116Q"><i style="--s:#010,#000 116Q"><i style="--s:#010,#000 116Q"><i style="--s:#010,#000 116Q"><i style="--s:#010,#000 116Q"><i style="--s:#010,#000 116Q"><i style="--s:#010,#000 116Q"><i style="--s:#010,#000 116Q"><i style="--s:#010,#010 82Q,#000 116Q"><i style="--s:#000,#010 65Q,#000 116Q"><i style="--s:#000,#010 58Q,#000 116Q"><i style="--s:#000,#020 52Q,#000 116Q"><i style="--s:#000,#020 49Q,#000 105Q,#000 116Q"><i style="--s:#000,#030 47Q,#000 99Q,#000 116Q"><i style="--s:#000,#030 45Q,#000 96Q,#000 116Q"><i style="--s:#010,#040 44Q,#000 93Q,#000 116Q"><i style="--s:#010,#040 43Q,#000 92Q,#000 116Q"><i style="--s:#020,#050 42Q,#000 90Q,#000 116Q"><i style="--s:#030,#050 42Q,#000 89Q,#000 116Q"><i style="--s:#040,#060 41Q,#000 88Q,#000 116Q"><i style="--s:#060,#060 41Q,#010 88Q,#000 116Q"><i style="--s:#080,#070 41Q,#010 89Q,#000 116Q"><i style="--s:#0a0,#080 40Q,#010 89Q,#000 116Q"><i style="--s:#0b0,#080 39Q,#010 90Q,#000 116Q"><i style="--s:#0d0,#0a0 34Q,#020 89Q,#010 116Q"><i style="--s:#0f0,#0b0 29Q,#020 86Q,#010 116Q"><i style="--s:#110,#0d0 25Q,#030 77Q,#010 116Q"><i style="--s:#120,#0e0 22Q,#060 63Q,#010 111Q,#010 116Q"><i style="--s:#120,#0f0 21Q,#060 58Q,#010 108Q,#010 116Q"><i style="--s:#130,#0f0 20Q,#070 55Q,#010 108Q,#010 116Q"><i style="--s:#130,#0f0 20Q,#070 55Q,#010 110Q,#010 116Q"><i style="--s:#120,#0f0 21Q,#060 56Q,#010 111Q,#010 116Q"><i style="--s:#110,#0e0 22Q,#060 58Q,#010 114Q,#010 116Q"><i style="--s:#100,#0c0 24Q,#050 62Q,#000 116Q"><i style="--s:#0e0,#0b0 26Q,#040 66Q,#000 116Q"><i style="--s:#0c0,#090 29Q,#030 70Q,#000 116Q"><i style="--s:#0a0,#070 32Q,#020 74Q,#000 116Q"><i style="--s:#080,#060 34Q,#020 76Q,#000 116Q"><i style="--s:#060,#050 35Q,#010 78Q,#000 116Q"><i style="--s:#040,#040 37Q,#010 80Q,#000 116Q"><i style="--s:#030,#030 38Q,#010 85Q,#000 116Q"><i style="--s:#020,#020 40Q,#000 112Q,#000 116Q"><i style="--s:#010,#020 41Q,#000 116Q"><i style="--s:#000,#010 44Q,#000 116Q"><i style="--s:#000,#010 50Q,#000 116Q"><i style="--s:#000,#000 99Q,#000 116Q"><i style="--s:#000,#000 116Q"><i style="--s:#000,#000 116Q"><i style="--s:#000,#000 116Q"><i style="--s:#000,#000 116Q"><i style="--s:#000,#000 116Q"><i style="--s:#000,#000 116Q"><i style="--s:#000,#000 116Q"><i style="--s:#000,#000 60Q,#000 116Q"><i style="--s:#000,#000 52Q,#000 116Q"><i style="--s:#000,#010 49Q,#000 116Q"><i style="--s:#000,#000 49Q,#000 116Q"><i style="--s:#000,#000 50Q,#000 116Q"><i style="--s:#000,#000 116Q"><i style="--s:#000,#000 116Q"><i style="--s:#010,#000 116Q"><i style="--s:#010,#000 116Q"><i style="--s:#010,#000 116Q"><i style="--s:#000,#000 116Q"><i style="--s:#000,#000 116Q"><i style="--s:#000,#000 116Q"><i style="--s:#000,#010 44Q,#000 116Q"><i style="--s:#000,#010 39Q,#000 70Q,#000 116Q"><i style="--s:#010,#020 34Q,#000 64Q,#010 104Q,#010 116Q"><i style="--s:#030,#030 31Q,#000 60Q,#020 99Q,#010 116Q"><i style="--s:#050,#050 28Q,#000 56Q,#020 94Q,#010 116Q"><i style="--s:#080,#070 25Q,#010 51Q,#030 90Q,#010 116Q"><i style="--s:#0c0,#0a0 21Q,#020 47Q,#030 69Q,#030 93Q,#010 116Q"><i style="--s:#110,#0f0 16Q,#040 43Q,#040 59Q,#060 82Q,#010 116Q"><i style="--s:#170,#140 13Q,#060 40Q,#050 53Q,#070 78Q,#010 116Q"><i style="--s:#1e0,#1b0 11Q,#0a0 37Q,#080 49Q,#0a0 75Q,#010 116Q,#010 0"><i style="--s:#250,#220 10Q,#100 34Q,#0c0 46Q,#0d0 71Q,#020 111Q,#010 116Q"><i style="--s:#2e0,#2b0 9Q,#160 33Q,#120 45Q,#110 68Q,#030 105Q,#010 116Q"><i style="--s:#380,#350 8Q,#280 22Q,#1e0 34Q,#1a0 47Q,#150 66Q,#050 99Q,#010 116Q"><i style="--s:#440,#410 8Q,#340 22Q,#290 34Q,#1b0 65Q,#070 93Q,#020 110Q,#010 116Q"><i style="--s:#530,#500 8Q,#440 21Q,#360 35Q,#230 61Q,#0c0 86Q,#040 100Q,#010 116Q"><i style="--s:#650,#620 8Q,#570 20Q,#2d0 58Q,#120 80Q,#070 93Q,#020 107Q,#010 116Q"><i style="--s:#7b0,#780 8Q,#6e0 19Q,#4f0 42Q,#2e0 62Q,#170 76Q,#0c0 86Q,#040 98Q,#010 115Q,#010 116Q"><i style="--s:#940,#910 8Q,#890 17Q,#760 30Q,#5b0 44Q,#260 68Q,#150 78Q,#0a0 87Q,#040 98Q,#010 115Q,#000 116Q"><i style="--s:#af0,#ac0 8Q,#a50 16Q,#950 26Q,#7d0 37Q,#590 50Q,#300 65Q,#1c0 74Q,#0f0 82Q,#060 92Q,#020 103Q,#000 116Q"><i style="--s:#ca0,#c70 8Q,#c00 15Q,#b10 24Q,#9d0 32Q,#7f0 42Q,#3f0 61Q,#280 69Q,#170 77Q,#0b0 85Q,#040 95Q,#010 108Q,#000 116Q"><i style="--s:#e30,#df0 8Q,#d70 15Q,#c80 23Q,#b50 30Q,#970 39Q,#460 60Q,#2f0 67Q,#1b0 75Q,#0f0 82Q,#060 90Q,#010 101Q,#000 116Q"><i style="--s:#f50,#f20 7Q,#ea0 14Q,#dd0 21Q,#cd0 27Q,#b50 34Q,#8c0 44Q,#500 58Q,#370 65Q,#250 71Q,#150 78Q,#0b0 85Q,#030 94Q,#000 106Q,#000 116Q"><i style="--s:#ff0,#fc0 7Q,#f60 13Q,#e80 20Q,#d80 26Q,#c00 33Q,#9a0 42Q,#560 57Q,#3b0 64Q,#280 70Q,#170 77Q,#0c0 84Q,#040 93Q,#000 105Q,#000 116Q"></i></i></i></i></i></i></i></i></i></i></i></i></i></i></i></i></i></i></i></i></i></i></i></i></i></i></i></i></i></i></i></i></i></i></i></i></i></i></i></i></i></i></i></i></i></i></i></i></i></i></i></i></i></i></i></i></i></i></i></i></i></i></i></i></i></i></i></i></i></i></i></i></i></i></i></i></i></i></i></i></i></i></i></i></i></i></i></i></i></i></i></i></i></i></i></i></i></i></i></i></i></i></i></i></i></i></i></i></i></i></div><div class="m P v" style="left:1312px;top:758px"><i style="--s:#7f0,#650 5Q,#550 10Q,#460 19Q,#230 56Q,#160 63Q,#080 67Q,#000 69Q,#ff0 0,#f20 71Q,#d50 76Q,#c60 80Q,#b90 86Q,#ac0 99Q,#a20 116Q"><i style="--s:#7f0,#680 2Q,#5f0 3Q,#540 5Q,#490 9Q,#3e0 19Q,#250 58Q,#1c0 64Q,#130 67Q,#070 69Q,#000 70Q,#ff0 0,#fd0 0,#ce0 74Q,#c00 76Q,#b60 79Q,#ad0 85Q,#a20 104Q,#9e0 116Q"><i style="--s:#080,#2a0 2Q,#300 3Q,#350 5Q,#380 12Q,#2a0 63Q,#2c0 67Q,#2e0 68Q,#330 69Q,#430 70Q,#6f0 71Q,#900 72Q,#9c0 74Q,#9f0 78Q,#9b0 116Q"><i style="--s:#000,#180 4Q,#220 7Q,#2a0 12Q,#2f0 24Q,#2f0 53Q,#360 61Q,#3e0 64Q,#470 66Q,#560 68Q,#710 71Q,#820 74Q,#8b0 77Q,#910 83Q,#950 105Q,#970 116Q"><i style="--s:#000,#150 7Q,#210 14Q,#290 27Q,#300 49Q,#390 57Q,#470 62Q,#700 71Q,#800 77Q,#880 85Q,#920 116Q"><i style="--s:#000,#150 12Q,#220 26Q,#2f0 46Q,#390 53Q,#4c0 60Q,#680 68Q,#770 75Q,#800 85Q,#8c0 116Q"><i style="--s:#000,#160 21Q,#290 42Q,#350 49Q,#510 58Q,#650 65Q,#720 74Q,#7a0 88Q,#830 115Q,#840 116Q"><i style="--s:#000,#160 33Q,#230 42Q,#320 47Q,#590 57Q,#650 62Q,#6d0 70Q,#730 90Q,#780 115Q,#780 116Q"><i style="--s:#ff0,#ff0 0,#000 0,#060 32Q,#0e0 40Q,#170 43Q,#220 45Q,#330 47Q,#470 49Q,#560 51Q,#640 55Q,#6a0 60Q,#6d0 74Q,#680 116Q"><i style="--s:#000,#000 0,#ff0 0,#f00 31Q,#e70 39Q,#df0 42Q,#d50 44Q,#cd0 45Q,#c10 46Q,#a30 48Q,#970 49Q,#8e0 50Q,#830 52Q,#780 57Q,#6d0 69Q,#560 116Q"><i style="--s:#000,#000 0,#ff0 0,#dc0 30Q,#c90 40Q,#b80 46Q,#870 58Q,#770 64Q,#660 75Q,#540 97Q,#460 116Q"><i style="--s:#ff0,#e20 14Q,#c80 33Q,#b30 48Q,#a00 56Q,#860 63Q,#6d0 70Q,#5a0 78Q,#4c0 90Q,#3b0 116Q"><i style="--s:#ff0,#e60 5Q,#d70 10Q,#ca0 19Q,#b10 53Q,#a60 60Q,#990 64Q,#870 67Q,#660 71Q,#520 75Q,#490 79Q,#3f0 88Q,#340 114Q,#330 116Q"><i style="--s:#aa0,#ba0 2Q,#bd0 6Q,#b70 61Q,#ba0 66Q,#c00 68Q,#c80 69Q,#de0 70Q,#ff0 71Q,#000 0,#010 0,#1a0 72Q,#270 74Q,#2c0 77Q,#2e0 94Q,#2e0 116Q"><i style="--s:#800,#970 4Q,#a40 8Q,#ad0 14Q,#b40 29Q,#bb0 53Q,#c40 61Q,#cd0 65Q,#da0 68Q,#ff0 74Q,#000 0,#060 75Q,#110 78Q,#1a0 83Q,#230 95Q,#290 116Q"><i style="--s:#800,#960 7Q,#a30 14Q,#af0 27Q,#bd0 51Q,#c90 60Q,#d80 66Q,#ff0 77Q,#000 0,#000 0,#0d0 83Q,#190 94Q,#260 116Q"><i style="--s:#800,#980 11Q,#a80 23Q,#bf0 51Q,#cf0 61Q,#fc0 79Q,#ff0 81Q,#000 0,#0d0 89Q,#230 116Q"><i style="--s:#800,#990 14Q,#ad0 32Q,#c10 51Q,#d60 63Q,#f90 80Q,#ff0 84Q,#000 0,#0c0 94Q,#210 116Q"><i style="--s:#800,#9e0 20Q,#c10 50Q,#e40 70Q,#fe0 86Q,#ff0 87Q,#000 0,#1f0 116Q"><i style="--s:#800,#a40 27Q,#c30 51Q,#f20 80Q,#ff0 91Q,#000 0,#1d0 116Q"><i style="--s:#800,#c00 48Q,#ec0 77Q,#ff0 93Q,#000 0,#1c0 116Q"><i style="--s:#800,#b70 42Q,#e60 74Q,#ff0 95Q,#000 0,#140 112Q,#1a0 116Q"><i style="--s:#7f0,#b00 37Q,#de0 69Q,#ff0 97Q,#000 0,#0d0 108Q,#190 116Q"><i style="--s:#7f0,#aa0 33Q,#d90 66Q,#ff0 99Q,#000 0,#070 105Q,#180 116Q"><i style="--s:#7f0,#ac0 34Q,#d70 65Q,#ff0 101Q,#000 0,#030 103Q,#170 116Q"><i style="--s:#7f0,#d40 64Q,#fc0 100Q,#ff0 102Q,#000 0,#170 116Q"><i style="--s:#7f0,#c80 55Q,#f80 98Q,#ff0 102Q,#000 0,#160 116Q"><i style="--s:#800,#ab0 31Q,#f00 93Q,#ff0 102Q,#000 0,#110 113Q,#160 116Q"><i style="--s:#800,#9f0 20Q,#bb0 45Q,#e00 82Q,#fd0 102Q,#ff0 103Q,#000 0,#160 116Q"><i style="--s:#800,#9b0 14Q,#ae0 30Q,#d10 72Q,#e90 90Q,#ff0 103Q,#000 0,#160 116Q"><i style="--s:#800,#990 10Q,#a90 21Q,#b80 43Q,#cb0 69Q,#dd0 84Q,#ff0 103Q,#000 0,#150 115Q,#170 116Q"><i style="--s:#800,#960 6Q,#a40 12Q,#af0 23Q,#c30 65Q,#d10 79Q,#e50 90Q,#ff0 102Q,#000 0,#0a0 107Q,#170 116Q"><i style="--s:#800,#9a0 4Q,#a50 7Q,#ad0 12Q,#b40 25Q,#bd0 62Q,#c70 76Q,#d60 85Q,#ff0 101Q,#000 0,#050 103Q,#160 114Q,#180 116Q"><i style="--s:#880,#aa0 2Q,#b00 3Q,#b50 5Q,#b90 12Q,#b70 58Q,#be0 74Q,#c90 82Q,#d80 88Q,#ff0 99Q,#ff0 0,#000 0,#0e0 106Q,#190 116Q"><i style="--s:#fe0,#e50 2Q,#dd0 3Q,#d20 5Q,#c80 9Q,#bf0 20Q,#b50 48Q,#b50 69Q,#bb0 80Q,#c50 85Q,#d00 88Q,#fb0 96Q,#ff0 97Q,#000 0,#0a0 100Q,#130 106Q,#1a0 116Q"><i style="--s:#ff0,#e70 4Q,#d70 8Q,#cb0 14Q,#bd0 28Q,#b00 56Q,#ae0 77Q,#b30 84Q,#ba0 87Q,#c40 89Q,#cd0 90Q,#f30 93Q,#fd0 94Q,#ff0 0,#000 0,#050 95Q,#0e0 97Q,#160 101Q,#1b0 113Q,#1b0 116Q"><i style="--s:#ff0,#e30 7Q,#d40 13Q,#c40 24Q,#b30 45Q,#9e0 85Q,#9a0 88Q,#970 89Q,#900 90Q,#5a0 92Q,#380 93Q,#2d0 94Q,#290 95Q,#230 99Q,#1c0 116Q"><i style="--s:#ff0,#e20 9Q,#ce0 19Q,#bc0 33Q,#970 78Q,#8d0 84Q,#830 87Q,#780 89Q,#440 95Q,#390 97Q,#2f0 100Q,#250 106Q,#1d0 116Q"><i style="--s:#ff0,#df0 12Q,#c70 25Q,#b00 46Q,#940 74Q,#860 82Q,#770 87Q,#580 93Q,#400 98Q,#310 103Q,#220 112Q,#1e0 116Q"><i style="--s:#ff0,#dd0 14Q,#c30 29Q,#9f0 60Q,#8a0 76Q,#790 84Q,#5d0 92Q,#3e0 100Q,#2d0 107Q,#1f0 116Q"><i style="--s:#ff0,#d90 17Q,#bb0 35Q,#870 74Q,#730 84Q,#520 95Q,#370 104Q,#220 115Q,#200 116Q"><i style="--s:#ff0,#d10 22Q,#ad0 45Q,#800 75Q,#670 87Q,#320 107Q,#210 116Q"><i style="--s:#ff0,#cb0 26Q,#970 58Q,#730 80Q,#4f0 96Q,#270 113Q,#210 116Q"><i style="--s:#ff0,#c20 31Q,#6c0 82Q,#3e0 103Q,#210 116Q"><i style="--s:#ff0,#b10 40Q,#5d0 88Q,#210 116Q"><i style="--s:#ff0,#9e0 50Q,#4e0 95Q,#210 116Q"><i style="--s:#000,#000 0,#ff0 0,#8d0 58Q,#420 100Q,#200 116Q"><i style="--s:#000,#000 0,#ff0 0,#850 61Q,#3b0 103Q,#1f0 116Q"><i style="--s:#000,#000 0,#ff0 0,#810 62Q,#350 105Q,#1e0 116Q"><i style="--s:#000,#000 0,#ff0 0,#7d0 63Q,#300 107Q,#1d0 116Q"><i style="--s:#000,#000 0,#ff0 0,#7b0 63Q,#280 110Q,#1c0 116Q"><i style="--s:#000,#000 0,#ff0 0,#780 63Q,#3e0 97Q,#1a0 116Q"><i style="--s:#000,#000 0,#ff0 0,#760 63Q,#460 90Q,#1a0 115Q,#180 116Q"><i style="--s:#000,#000 0,#ff0 0,#730 63Q,#460 88Q,#160 116Q"><i style="--s:#000,#000 0,#ff0 0,#710 63Q,#440 87Q,#140 116Q"><i style="--s:#ff0,#6e0 63Q,#440 85Q,#110 116Q"><i style="--s:#ff0,#710 60Q,#450 82Q,#0e0 116Q"><i style="--s:#ff0,#a20 38Q,#4f0 74Q,#2b0 94Q,#0b0 116Q"><i style="--s:#ff0,#b70 28Q,#460 76Q,#260 94Q,#070 116Q"><i style="--s:#ff0,#c00 23Q,#3e0 77Q,#210 93Q,#020 116Q"><i style="--s:#ff0,#c70 19Q,#610 60Q,#340 78Q,#1a0 93Q,#000 114Q,#ff0 0,#fc0 116Q"><i style="--s:#ff0,#cf0 15Q,#9e0 34Q,#670 56Q,#330 75Q,#1b0 87Q,#030 105Q,#000 108Q,#ff0 0,#f60 116Q"><i style="--s:#ff0,#d40 12Q,#ad0 26Q,#6e0 51Q,#2c0 74Q,#150 85Q,#000 100Q,#ff0 0,#fe0 101Q,#ef0 116Q"><i style="--s:#ff0,#d90 9Q,#b90 19Q,#6d0 49Q,#290 71Q,#110 82Q,#000 94Q,#ff0 0,#fa0 97Q,#e70 116Q"><i style="--s:#ff0,#da0 7Q,#c30 13Q,#a20 25Q,#6e0 46Q,#3d0 61Q,#1f0 71Q,#050 83Q,#000 87Q,#ff0 0,#ed0 100Q,#dd0 116Q"><i style="--s:#ff0,#de0 4Q,#ce0 7Q,#bb0 12Q,#970 26Q,#6a0 44Q,#3f0 57Q,#1c0 68Q,#030 79Q,#000 81Q,#ff0 0,#ea0 95Q,#d30 116Q"><i style="--s:#f00,#ca0 2Q,#c30 3Q,#b90 6Q,#700 38Q,#4f0 49Q,#1a0 65Q,#000 76Q,#ff0 0,#ff0 0,#e80 90Q,#c90 116Q"><i style="--s:#800,#910 3Q,#980 6Q,#990 10Q,#8d0 19Q,#700 33Q,#4d0 46Q,#130 64Q,#000 72Q,#ff0 0,#f60 76Q,#dc0 92Q,#bf0 116Q"><i style="--s:#800,#880 7Q,#860 13Q,#760 24Q,#580 38Q,#2f0 52Q,#060 66Q,#000 69Q,#ff0 0,#e90 79Q,#cd0 97Q,#b60 116Q"><i style="--s:#800,#7c0 11Q,#6d0 22Q,#4e0 37Q,#260 52Q,#000 66Q,#ff0 0,#f80 68Q,#db0 82Q,#c00 101Q,#ae0 116Q"><i style="--s:#800,#6c0 16Q,#4d0 33Q,#270 49Q,#000 63Q,#ff0 0,#ea0 71Q,#ce0 85Q,#b30 105Q,#a60 116Q"><i style="--s:#7f0,#3b0 37Q,#180 52Q,#000 61Q,#ff0 0,#dc0 74Q,#c40 86Q,#ac0 104Q,#a00 116Q"><i style="--s:#7f0,#5d0 15Q,#230 45Q,#020 58Q,#000 59Q,#ff0 0,#d10 75Q,#bb0 86Q,#a50 103Q,#990 116Q"><i style="--s:#7f0,#600 10Q,#470 22Q,#1e0 45Q,#000 57Q,#ff0 0,#ff0 0,#cb0 74Q,#b50 84Q,#a20 99Q,#930 116Q"><i style="--s:#7f0,#640 6Q,#520 12Q,#3b0 24Q,#180 45Q,#000 55Q,#000 0,#ff0 0,#c60 72Q,#b10 81Q,#9e0 94Q,#8f0 113Q,#8d0 116Q"><i style="--s:#7f0,#630 4Q,#550 7Q,#470 12Q,#2f0 27Q,#130 45Q,#000 53Q,#000 0,#ff0 0,#e40 61Q,#c10 70Q,#ac0 78Q,#9c0 88Q,#8d0 105Q,#870 116Q"><i style="--s:#7d0,#5c0 2Q,#530 3Q,#490 5Q,#3e0 10Q,#150 41Q,#030 50Q,#000 51Q,#ff0 0,#eb0 57Q,#bb0 68Q,#a60 75Q,#970 84Q,#880 100Q,#810 116Q"><i style="--s:#020,#1e0 2Q,#250 3Q,#2c0 5Q,#2e0 9Q,#260 22Q,#100 40Q,#000 49Q,#ff0 0,#fe0 0,#eb0 55Q,#d20 60Q,#b80 65Q,#a60 70Q,#950 78Q,#850 92Q,#7b0 112Q,#7a0 116Q"><i style="--s:#000,#150 4Q,#1d0 7Q,#210 12Q,#1d0 23Q,#0b0 39Q,#000 45Q,#ff0 0,#fc0 47Q,#ed0 52Q,#d40 57Q,#b00 63Q,#a00 67Q,#900 74Q,#820 85Q,#760 104Q,#720 116Q"><i style="--s:#000,#100 6Q,#160 12Q,#150 22Q,#090 35Q,#000 41Q,#ff0 0,#f80 45Q,#e90 50Q,#db0 53Q,#a80 61Q,#980 65Q,#8a0 71Q,#7a0 84Q,#6d0 104Q,#6a0 116Q"><i style="--s:#000,#0c0 9Q,#0d0 19Q,#050 31Q,#000 34Q,#ff0 0,#f40 42Q,#e70 47Q,#da0 50Q,#bb0 55Q,#a10 59Q,#910 63Q,#830 69Q,#730 82Q,#650 103Q,#610 116Q"><i style="--s:#000,#060 12Q,#020 24Q,#000 25Q,#ff0 0,#f50 35Q,#e50 43Q,#d70 47Q,#c20 51Q,#9d0 57Q,#8c0 61Q,#7e0 67Q,#6c0 80Q,#5d0 101Q,#570 116Q"><i style="--s:#000,#000 0,#ff0 0,#fd0 15Q,#f20 28Q,#e20 38Q,#d10 44Q,#bb0 49Q,#950 56Q,#830 61Q,#740 68Q,#620 82Q,#510 105Q,#4c0 116Q"><i style="--s:#000,#000 0,#ff0 0,#ef0 20Q,#dd0 33Q,#c80 42Q,#b10 48Q,#890 57Q,#760 63Q,#650 72Q,#520 89Q,#420 115Q,#420 116Q"><i style="--s:#ff0,#d00 32Q,#ba0 42Q,#a30 49Q,#780 60Q,#660 67Q,#530 79Q,#410 98Q,#380 116Q"><i style="--s:#ff0,#e50 10Q,#cd0 24Q,#b40 40Q,#a00 48Q,#7a0 58Q,#620 65Q,#4f0 74Q,#400 87Q,#320 108Q,#2f0 116Q"><i style="--s:#ff0,#e40 4Q,#d80 7Q,#cd0 12Q,#aa0 41Q,#9c0 48Q,#8c0 53Q,#5c0 64Q,#4b0 70Q,#3b0 80Q,#2d0 97Q,#270 116Q"><i style="--s:#820,#a00 2Q,#a70 3Q,#af0 5Q,#b40 9Q,#b20 22Q,#a70 39Q,#9b0 48Q,#8d0 53Q,#790 57Q,#530 63Q,#430 67Q,#350 74Q,#290 86Q,#200 107Q,#200 116Q"><i style="--s:#800,#940 5Q,#a00 10Q,#a70 19Q,#a60 33Q,#9c0 47Q,#940 52Q,#840 56Q,#7c0 57Q,#710 58Q,#4c0 61Q,#430 62Q,#370 64Q,#2c0 68Q,#220 78Q,#190 99Q,#190 116Q"><i style="--s:#800,#940 9Q,#9d0 17Q,#a10 31Q,#9f0 56Q,#a20 57Q,#c10 58Q,#ff0 59Q,#000 0,#060 0,#140 60Q,#170 63Q,#110 101Q,#140 116Q"><i style="--s:#800,#920 12Q,#9b0 25Q,#a20 46Q,#a90 51Q,#b00 53Q,#c70 56Q,#e70 59Q,#f50 61Q,#ff0 64Q,#ff0 0,#000 0,#060 70Q,#0c0 111Q,#0f0 116Q"><i style="--s:#800,#920 16Q,#a30 43Q,#ab0 48Q,#b50 51Q,#d10 56Q,#e60 60Q,#f10 64Q,#f90 71Q,#ff0 89Q,#000 0,#070 112Q,#0a0 116Q"><i style="--s:#800,#930 22Q,#a00 39Q,#aa0 45Q,#b90 50Q,#dd0 59Q,#e80 64Q,#f20 74Q,#ff0 107Q,#000 0,#020 111Q,#050 116Q"><i style="--s:#800,#9d0 35Q,#ac0 44Q,#d80 59Q,#e40 66Q,#ed0 80Q,#f90 108Q,#ff0 114Q,#000 0,#010 116Q"><i style="--s:#800,#990 31Q,#a80 41Q,#d20 58Q,#de0 67Q,#e90 87Q,#f60 110Q,#fc0 116Q"><i style="--s:#7f0,#950 27Q,#a70 39Q,#cc0 57Q,#d90 68Q,#ee0 106Q,#f90 116Q"><i style="--s:#7f0,#930 25Q,#a60 38Q,#c70 56Q,#d30 68Q,#e90 105Q,#f50 116Q"><i style="--s:#7f0,#930 24Q,#a90 39Q,#c20 55Q,#ce0 69Q,#e20 103Q,#f20 116Q"><i style="--s:#7f0,#920 23Q,#ae0 43Q,#c10 59Q,#d10 84Q,#de0 104Q,#ee0 116Q"><i style="--s:#7f0,#940 24Q,#b90 55Q,#c80 78Q,#d70 101Q,#e70 114Q,#eb0 116Q"><i style="--s:#7f0,#960 26Q,#b40 55Q,#d00 99Q,#e00 112Q,#e80 116Q"><i style="--s:#7f0,#9a0 31Q,#b10 57Q,#c80 96Q,#d60 108Q,#e50 116Q"><i style="--s:#7f0,#ab0 56Q,#c10 94Q,#ce0 106Q,#e20 116Q"><i style="--s:#7f0,#a50 55Q,#b90 92Q,#c60 104Q,#d80 113Q,#e00 116Q"><i style="--s:#7f0,#9f0 53Q,#b00 89Q,#bd0 102Q,#cf0 111Q,#de0 116Q"><i style="--s:#7f0,#990 53Q,#a80 88Q,#b30 100Q,#c00 107Q,#d90 115Q,#dd0 116Q"><i style="--s:#800,#950 57Q,#a00 88Q,#ab0 100Q,#b60 106Q,#cb0 112Q,#dd0 116Q"><i style="--s:#800,#910 68Q,#9a0 93Q,#a40 102Q,#b00 107Q,#c70 112Q,#df0 116Q"><i style="--s:#800,#8f0 90Q,#960 101Q,#9f0 106Q,#a60 108Q,#ba0 111Q,#df0 115Q,#e60 116Q"><i style="--s:#800,#860 98Q,#8b0 106Q,#900 108Q,#9a0 110Q,#a80 111Q,#be0 112Q,#d80 113Q,#e80 114Q,#f00 115Q,#f50 116Q"></i></i></i></i></i></i></i></i></i></i></i></i></i></i></i></i></i></i></i></i></i></i></i></i></i></i></i></i></i></i></i></i></i></i></i></i></i></i></i></i></i></i></i></i></i></i></i></i></i></i></i></i></i></i></i></i></i></i></i></i></i></i></i></i></i></i></i></i></i></i></i></i></i></i></i></i></i></i></i></i></i></i></i></i></i></i></i></i></i></i></i></i></i></i></i></i></i></i></i></i></i></i></i></i></i></i></i></i></i></i></div><div class="m v" style="left:1616px;top:758px"><div class="w" style="left:-6px;top:0px"><i style="--s:#030,#030 123Q"><i style="--s:#030,#030 123Q"><i style="--s:#030,#030 123Q"><i style="--s:#030,#030 123Q"><i style="--s:#030,#030 123Q"><i style="--s:#030,#030 123Q"><i style="--s:#030,#030 123Q"><i style="--s:#030,#030 123Q"><i style="--s:#030,#030 123Q"><i style="--s:#030,#030 123Q"><i style="--s:#030,#030 123Q"><i style="--s:#030,#030 123Q"><i style="--s:#030,#030 123Q"><i style="--s:#030,#030 123Q"><i style="--s:#030,#030 123Q"><i style="--s:#030,#030 123Q"><i style="--s:#030,#030 123Q"><i style="--s:#030,#030 123Q"><i style="--s:#030,#030 123Q"><i style="--s:#030,#030 123Q"><i style="--s:#030,#030 123Q"><i style="--s:#030,#030 123Q"><i style="--s:#030,#030 123Q"><i style="--s:#030,#030 123Q"><i style="--s:#030,#030 123Q"><i style="--s:#030,#030 123Q"><i style="--s:#030,#030 123Q"><i style="--s:#040,#030 123Q"><i style="--s:#040,#030 123Q"><i style="--s:#030,#030 123Q"><i style="--s:#030,#030 123Q"><i style="--s:#030,#030 123Q"><i style="--s:#030,#030 95Q,#030 123Q"><i style="--s:#030,#040 69Q,#030 123Q"><i style="--s:#030,#040 61Q,#030 123Q"><i style="--s:#030,#040 57Q,#030 123Q"><i style="--s:#030,#050 52Q,#030 121Q,#030 123Q"><i style="--s:#030,#050 50Q,#030 108Q,#030 123Q"><i style="--s:#030,#050 48Q,#030 102Q,#030 123Q"><i style="--s:#040,#050 47Q,#030 98Q,#030 123Q"><i style="--s:#040,#060 46Q,#030 96Q,#030 123Q"><i style="--s:#050,#060 45Q,#030 94Q,#030 123Q"><i style="--s:#060,#070 45Q,#030 93Q,#030 123Q"><i style="--s:#070,#070 44Q,#030 93Q,#030 123Q"><i style="--s:#080,#070 44Q,#030 93Q,#030 123Q"><i style="--s:#090,#080 44Q,#030 93Q,#030 123Q"><i style="--s:#0b0,#080 44Q,#040 94Q,#030 123Q"><i style="--s:#0c0,#090 44Q,#040 95Q,#030 123Q"><i style="--s:#0d0,#090 41Q,#040 95Q,#030 123Q"><i style="--s:#0f0,#0b0 35Q,#040 92Q,#030 123Q"><i style="--s:#100,#0c0 29Q,#050 83Q,#030 123Q"><i style="--s:#110,#0d0 26Q,#060 72Q,#030 123Q"><i style="--s:#110,#0e0 24Q,#070 64Q,#030 118Q,#030 123Q"><i style="--s:#120,#0e0 24Q,#070 61Q,#030 117Q,#030 123Q"><i style="--s:#110,#0e0 23Q,#070 60Q,#030 117Q,#030 123Q"><i style="--s:#110,#0d0 24Q,#070 61Q,#030 120Q,#030 123Q"><i style="--s:#100,#0d0 25Q,#060 63Q,#030 123Q"><i style="--s:#0f0,#0c0 27Q,#060 67Q,#030 123Q"><i style="--s:#0e0,#0a0 30Q,#050 72Q,#030 123Q"><i style="--s:#0d0,#090 34Q,#040 80Q,#030 123Q"><i style="--s:#0b0,#080 38Q,#040 85Q,#030 123Q"><i style="--s:#0a0,#070 40Q,#040 90Q,#030 123Q"><i style="--s:#080,#060 41Q,#030 97Q,#030 123Q"><i style="--s:#070,#060 42Q,#030 110Q,#030 123Q"><i style="--s:#060,#050 43Q,#030 123Q"><i style="--s:#050,#040 45Q,#030 123Q"><i style="--s:#040,#040 48Q,#030 123Q"><i style="--s:#040,#040 56Q,#030 123Q"><i style="--s:#030,#030 123Q"><i style="--s:#030,#030 123Q"><i style="--s:#030,#030 123Q"><i style="--s:#030,#030 123Q"><i style="--s:#030,#030 123Q"><i style="--s:#030,#030 123Q"><i style="--s:#030,#030 123Q"><i style="--s:#030,#030 123Q"><i style="--s:#030,#030 123Q"><i style="--s:#030,#030 123Q"><i style="--s:#030,#030 123Q"><i style="--s:#030,#030 123Q"><i style="--s:#030,#030 123Q"><i style="--s:#030,#030 123Q"><i style="--s:#030,#030 123Q"><i style="--s:#030,#030 123Q"><i style="--s:#030,#030 123Q"><i style="--s:#030,#030 123Q"><i style="--s:#030,#030 123Q"><i style="--s:#030,#030 123Q"><i style="--s:#030,#030 123Q"><i style="--s:#030,#030 123Q"><i style="--s:#030,#030 123Q"><i style="--s:#030,#030 123Q"><i style="--s:#030,#030 123Q"><i style="--s:#030,#040 44Q,#030 123Q"><i style="--s:#040,#040 39Q,#040 75Q,#030 123Q"><i style="--s:#050,#050 34Q,#030 65Q,#040 110Q,#030 123Q"><i style="--s:#070,#060 31Q,#030 59Q,#040 100Q,#030 123Q"><i style="--s:#090,#070 27Q,#040 53Q,#050 95Q,#030 123Q"><i style="--s:#0c0,#0a0 23Q,#040 48Q,#060 90Q,#030 123Q"><i style="--s:#100,#0d0 19Q,#060 44Q,#070 70Q,#050 100Q,#030 123Q"><i style="--s:#150,#120 15Q,#080 40Q,#070 57Q,#080 81Q,#030 123Q"><i style="--s:#1a0,#170 12Q,#0a0 38Q,#090 52Q,#0a0 77Q,#040 118Q,#030 123Q"><i style="--s:#210,#1e0 11Q,#0f0 35Q,#0c0 49Q,#0c0 74Q,#040 112Q,#030 123Q"><i style="--s:#280,#250 10Q,#140 33Q,#100 46Q,#0e0 71Q,#050 105Q,#030 123Q"><i style="--s:#310,#2e0 9Q,#1b0 33Q,#160 47Q,#120 69Q,#060 100Q,#030 123Q"><i style="--s:#3b0,#380 9Q,#230 33Q,#1d0 48Q,#150 68Q,#080 94Q,#040 114Q,#030 123Q"><i style="--s:#480,#460 8Q,#390 22Q,#2b0 37Q,#1a0 66Q,#0a0 88Q,#050 105Q,#030 123Q"><i style="--s:#580,#550 8Q,#4a0 20Q,#370 39Q,#200 64Q,#0e0 83Q,#070 97Q,#030 117Q,#030 123Q"><i style="--s:#6b0,#690 8Q,#5e0 19Q,#2e0 57Q,#150 76Q,#0b0 87Q,#050 101Q,#030 123Q"><i style="--s:#820,#7f0 8Q,#760 17Q,#5d0 34Q,#370 56Q,#1e0 70Q,#100 81Q,#080 92Q,#040 106Q,#030 123Q"><i style="--s:#9a0,#980 8Q,#900 16Q,#7e0 27Q,#640 40Q,#2c0 64Q,#190 74Q,#0e0 83Q,#070 94Q,#040 110Q,#030 123Q"><i style="--s:#b50,#b20 8Q,#a90 16Q,#990 25Q,#840 34Q,#5d0 48Q,#340 62Q,#220 70Q,#130 79Q,#0a0 87Q,#050 99Q,#030 123Q"><i style="--s:#ce0,#cc0 7Q,#c50 14Q,#b60 22Q,#a30 30Q,#830 40Q,#410 59Q,#2a0 67Q,#190 75Q,#0f0 82Q,#070 92Q,#040 105Q,#030 123Q"><i style="--s:#e50,#e20 7Q,#da0 14Q,#ca0 22Q,#b70 29Q,#970 38Q,#4c0 57Q,#340 64Q,#210 71Q,#120 79Q,#0a0 87Q,#040 98Q,#030 123Q"><i style="--s:#f60,#f30 7Q,#ec0 13Q,#de0 20Q,#ce0 26Q,#b50 33Q,#8c0 43Q,#530 56Q,#390 63Q,#270 69Q,#170 76Q,#0d0 83Q,#060 92Q,#030 105Q,#030 123Q"><i style="--s:#ff0,#fc0 7Q,#f50 13Q,#e60 20Q,#d50 26Q,#bc0 33Q,#900 43Q,#550 56Q,#3a0 63Q,#270 69Q,#170 76Q,#0d0 83Q,#060 92Q,#030 105Q,#030 123Q"></i></i></i></i></i></i></i></i></i></i></i></i></i></i></i></i></i></i></i></i></i></i></i></i></i></i></i></i></i></i></i></i></i></i></i></i></i></i></i></i></i></i></i></i></i></i></i></i></i></i></i></i></i></i></i></i></i></i></i></i></i></i></i></i></i></i></i></i></i></i></i></i></i></i></i></i></i></i></i></i></i></i></i></i></i></i></i></i></i></i></i></i></i></i></i></i></i></i></i></i></i></i></i></i></i></i></i></i></i></i></i></i></i></i></i></i></div></div><div class="m" style="left:314px;top:1241px"><b style="background:radial-gradient(181.67px 121.11px,#ff0 0%,#fd0 3.125%,#f70 6.375%,#ec0 9.75%,#dc0 13.5%,#c50 17.88%,#990 25.25%,#6c0 32.75%,#510 37.88%,#3c0 42.62%,#2a0 47.38%,#1d0 52.25%,#120 57.63%,#0a0 63.75%,#040 71.5%,#010 83.12%,#000 100%)"></b></div><div class="m P v" style="left:631px;top:1241px"><i style="--s:#7f0,#000 22Q,#ff0 0,#d50 29Q,#740 47Q,#270 63Q,#000 72Q,#ff0 0,#e70 78Q,#ae0 94Q,#780 112Q,#6d0 116Q"><i style="--s:#7f0,#000 22Q,#ff0 0,#d30 29Q,#720 47Q,#240 63Q,#000 72Q,#ff0 0,#e40 78Q,#ab0 94Q,#750 112Q,#6a0 116Q"><i style="--s:#7f0,#000 21Q,#ff0 0,#d20 29Q,#6f0 47Q,#260 62Q,#000 71Q,#ff0 0,#e50 77Q,#ab0 93Q,#740 111Q,#670 116Q"><i style="--s:#7f0,#000 21Q,#ff0 0,#d00 29Q,#6d0 47Q,#230 62Q,#000 70Q,#ff0 0,#e20 77Q,#a80 93Q,#710 111Q,#640 116Q"><i style="--s:#7f0,#000 21Q,#ff0 0,#cf0 29Q,#6a0 47Q,#200 62Q,#000 69Q,#ff0 0,#df0 77Q,#a50 93Q,#6e0 111Q,#600 116Q"><i style="--s:#7f0,#000 21Q,#ff0 0,#d30 28Q,#6d0 46Q,#210 61Q,#000 69Q,#ff0 0,#e30 75Q,#af0 89Q,#790 106Q,#5d0 116Q"><i style="--s:#7f0,#000 21Q,#ff0 0,#d10 28Q,#700 45Q,#230 60Q,#000 68Q,#ff0 0,#e40 74Q,#af0 88Q,#780 105Q,#5a0 116Q"><i style="--s:#7f0,#000 20Q,#ff0 0,#cf0 28Q,#6d0 45Q,#200 60Q,#000 67Q,#ff0 0,#e00 74Q,#ab0 88Q,#750 105Q,#560 116Q"><i style="--s:#7f0,#000 20Q,#ff0 0,#ce0 28Q,#6b0 45Q,#210 59Q,#000 66Q,#ff0 0,#e50 72Q,#ab0 87Q,#740 104Q,#530 116Q"><i style="--s:#7f0,#000 20Q,#ff0 0,#cc0 28Q,#680 45Q,#1e0 59Q,#000 66Q,#ff0 0,#e20 72Q,#a80 87Q,#710 104Q,#500 116Q"><i style="--s:#7f0,#000 20Q,#ff0 0,#ca0 28Q,#650 45Q,#1b0 59Q,#000 65Q,#ff0 0,#e30 71Q,#ab0 85Q,#760 101Q,#4c0 116Q"><i style="--s:#7f0,#000 20Q,#ff0 0,#c90 28Q,#620 45Q,#180 59Q,#000 64Q,#ff0 0,#df0 71Q,#a80 85Q,#730 101Q,#490 116Q"><i style="--s:#7f0,#000 19Q,#ff0 0,#c70 28Q,#600 45Q,#140 59Q,#000 63Q,#ff0 0,#db0 71Q,#a40 85Q,#6f0 101Q,#450 116Q"><i style="--s:#7f0,#000 19Q,#ff0 0,#c50 28Q,#5d0 45Q,#160 58Q,#000 63Q,#ff0 0,#dc0 70Q,#a40 84Q,#6e0 100Q,#420 116Q"><i style="--s:#7f0,#000 19Q,#ff0 0,#c30 28Q,#5a0 45Q,#120 58Q,#000 62Q,#ff0 0,#d80 70Q,#a00 84Q,#6b0 100Q,#3e0 116Q"><i style="--s:#7f0,#000 19Q,#ff0 0,#c10 28Q,#570 45Q,#0f0 58Q,#000 61Q,#ff0 0,#d90 69Q,#a00 83Q,#6a0 99Q,#3b0 116Q"><i style="--s:#7f0,#000 19Q,#ff0 0,#c60 27Q,#5a0 44Q,#100 57Q,#000 60Q,#ff0 0,#d90 68Q,#a30 81Q,#700 96Q,#3f0 113Q,#370 116Q"><i style="--s:#7f0,#000 18Q,#ff0 0,#c40 27Q,#570 44Q,#0d0 57Q,#000 60Q,#ff0 0,#d50 68Q,#a00 81Q,#6c0 96Q,#3b0 113Q,#330 116Q"><i style="--s:#800,#000 18Q,#ff0 0,#c20 27Q,#540 44Q,#090 57Q,#000 59Q,#ff0 0,#d10 68Q,#9b0 81Q,#680 96Q,#370 113Q,#300 116Q"><i style="--s:#800,#000 18Q,#ff0 0,#c00 27Q,#510 44Q,#0a0 56Q,#000 58Q,#ff0 0,#d20 67Q,#9b0 80Q,#670 95Q,#360 112Q,#2c0 116Q"><i style="--s:#800,#000 18Q,#ff0 0,#be0 27Q,#4e0 44Q,#070 56Q,#000 57Q,#ff0 0,#d20 66Q,#9f0 78Q,#6d0 92Q,#3d0 108Q,#280 116Q"><i style="--s:#800,#000 18Q,#ff0 0,#bc0 27Q,#4b0 44Q,#030 56Q,#000 0,#ff0 0,#ce0 66Q,#9b0 78Q,#690 92Q,#390 108Q,#250 116Q"><i style="--s:#800,#000 18Q,#ff0 0,#ba0 27Q,#410 45Q,#000 56Q,#ff0 0,#fd0 0,#ca0 66Q,#960 78Q,#640 92Q,#350 108Q,#210 116Q"><i style="--s:#800,#000 17Q,#ff0 0,#b80 27Q,#3d0 45Q,#000 55Q,#ff0 0,#f90 56Q,#c50 66Q,#920 78Q,#600 92Q,#310 108Q,#1d0 116Q"><i style="--s:#800,#000 17Q,#ff0 0,#b60 27Q,#330 46Q,#000 54Q,#ff0 0,#ef0 57Q,#c10 66Q,#8d0 78Q,#5c0 92Q,#2e0 108Q,#190 116Q"><i style="--s:#800,#000 17Q,#ff0 0,#b30 27Q,#290 47Q,#000 54Q,#ff0 0,#eb0 57Q,#bc0 66Q,#890 78Q,#580 92Q,#2a0 108Q,#150 116Q"><i style="--s:#800,#000 17Q,#ff0 0,#b10 27Q,#250 47Q,#000 53Q,#ff0 0,#e60 57Q,#b80 66Q,#840 78Q,#540 92Q,#260 108Q,#110 116Q"><i style="--s:#800,#000 17Q,#ff0 0,#b60 26Q,#1b0 48Q,#000 52Q,#ff0 0,#e20 57Q,#b30 66Q,#800 78Q,#4f0 92Q,#210 108Q,#0e0 116Q"><i style="--s:#800,#000 16Q,#ff0 0,#b40 26Q,#100 49Q,#000 52Q,#ff0 0,#d70 58Q,#a90 67Q,#770 79Q,#480 93Q,#180 110Q,#0a0 116Q"><i style="--s:#800,#010 16Q,#000 0,#ff0 0,#a30 28Q,#050 50Q,#000 51Q,#ff0 0,#cd0 59Q,#a00 68Q,#6f0 80Q,#3d0 95Q,#0f0 112Q,#060 116Q"><i style="--s:#800,#180 13Q,#000 16Q,#ff0 0,#b70 25Q,#000 50Q,#000 0,#ff0 0,#cd0 58Q,#a40 66Q,#750 77Q,#480 90Q,#180 107Q,#020 116Q"><i style="--s:#800,#200 12Q,#000 16Q,#ff0 0,#bc0 24Q,#000 49Q,#ff0 0,#f40 51Q,#c20 59Q,#9a0 67Q,#690 79Q,#370 94Q,#090 111Q,#000 115Q,#ff0 0,#fd0 116Q"><i style="--s:#800,#280 11Q,#000 16Q,#ff0 0,#c10 23Q,#150 46Q,#000 49Q,#ff0 0,#e10 53Q,#b20 61Q,#870 70Q,#560 83Q,#270 98Q,#000 113Q,#ff0 0,#f90 116Q"><i style="--s:#800,#300 10Q,#000 16Q,#ff0 0,#bf0 23Q,#280 43Q,#000 48Q,#ff0 0,#e90 51Q,#bd0 58Q,#940 66Q,#660 77Q,#3a0 90Q,#0b0 107Q,#000 112Q,#ff0 0,#f40 116Q"><i style="--s:#800,#380 9Q,#000 15Q,#ff0 0,#c40 22Q,#870 30Q,#350 41Q,#000 48Q,#ff0 0,#e40 51Q,#b70 58Q,#8e0 66Q,#5e0 78Q,#2d0 93Q,#000 110Q,#ff0 0,#fe0 0,#f00 116Q"><i style="--s:#800,#380 9Q,#000 15Q,#ff0 0,#c10 22Q,#8b0 29Q,#3a0 40Q,#000 47Q,#ff0 0,#e60 50Q,#bc0 56Q,#970 63Q,#670 74Q,#3a0 87Q,#0a0 104Q,#000 108Q,#ff0 0,#ec0 116Q"><i style="--s:#800,#410 8Q,#140 13Q,#000 15Q,#ff0 0,#c60 21Q,#970 27Q,#400 39Q,#0d0 45Q,#000 46Q,#ff0 0,#d80 51Q,#b00 57Q,#8c0 64Q,#5e0 75Q,#320 88Q,#030 105Q,#000 106Q,#ff0 0,#e80 116Q"><i style="--s:#800,#420 8Q,#140 13Q,#000 15Q,#ff0 0,#cc0 20Q,#a20 25Q,#3e0 39Q,#120 44Q,#000 46Q,#ff0 0,#da0 50Q,#b60 55Q,#940 61Q,#6c0 70Q,#3d0 83Q,#0e0 99Q,#000 105Q,#ff0 0,#e40 116Q"><i style="--s:#800,#430 8Q,#1e0 12Q,#000 15Q,#ff0 0,#c80 20Q,#a60 24Q,#3c0 39Q,#190 43Q,#000 45Q,#ff0 0,#dc0 49Q,#bc0 53Q,#980 59Q,#720 67Q,#420 80Q,#110 96Q,#000 103Q,#ff0 0,#e40 114Q,#e00 116Q"><i style="--s:#800,#4d0 7Q,#2a0 11Q,#000 15Q,#ff0 0,#fc0 0,#ce0 19Q,#b20 22Q,#8d0 27Q,#420 38Q,#210 42Q,#000 45Q,#ff0 0,#f50 46Q,#d50 49Q,#bb0 52Q,#960 58Q,#710 66Q,#400 79Q,#0f0 95Q,#000 101Q,#ff0 0,#e20 113Q,#db0 116Q"><i style="--s:#800,#4f0 7Q,#350 10Q,#150 13Q,#000 15Q,#ff0 0,#e00 17Q,#b60 21Q,#970 25Q,#410 38Q,#290 41Q,#0a0 44Q,#000 45Q,#ff0 0,#d80 48Q,#bb0 51Q,#990 56Q,#770 63Q,#480 75Q,#1b0 89Q,#000 99Q,#ff0 0,#eb0 107Q,#d70 116Q"><i style="--s:#800,#490 8Q,#2f0 11Q,#180 13Q,#000 15Q,#ff0 0,#db0 17Q,#b90 20Q,#a00 23Q,#730 30Q,#390 39Q,#200 42Q,#090 44Q,#000 45Q,#ff0 0,#cf0 48Q,#ba0 50Q,#a30 53Q,#7e0 60Q,#540 70Q,#250 84Q,#000 97Q,#ff0 0,#f50 101Q,#d30 116Q"><i style="--s:#800,#4c0 8Q,#340 11Q,#290 12Q,#1c0 13Q,#0c0 14Q,#000 15Q,#ff0 0,#e60 16Q,#d50 17Q,#b10 20Q,#9a0 23Q,#6a0 31Q,#3a0 39Q,#210 42Q,#170 43Q,#090 44Q,#000 45Q,#ff0 0,#e50 46Q,#d30 47Q,#c50 48Q,#af0 50Q,#9a0 53Q,#760 60Q,#4b0 71Q,#1a0 86Q,#000 96Q,#ff0 0,#eb0 103Q,#ce0 116Q"><i style="--s:#800,#490 9Q,#3a0 11Q,#300 12Q,#240 13Q,#130 14Q,#000 15Q,#ff0 0,#df0 16Q,#cb0 17Q,#b20 19Q,#a10 21Q,#7d0 27Q,#340 40Q,#250 42Q,#1b0 43Q,#0e0 44Q,#000 45Q,#ff0 0,#f90 0,#de0 46Q,#c70 47Q,#b70 48Q,#ab0 49Q,#950 52Q,#6f0 60Q,#410 72Q,#0f0 88Q,#000 94Q,#ff0 0,#e00 106Q,#ca0 116Q"><i style="--s:#800,#480 10Q,#3a0 12Q,#310 13Q,#230 14Q,#000 15Q,#ff0 0,#fc0 0,#d10 16Q,#b90 17Q,#9f0 20Q,#730 28Q,#2b0 42Q,#190 44Q,#060 45Q,#000 0,#ff0 0,#d10 46Q,#b10 47Q,#a30 48Q,#950 50Q,#700 58Q,#3f0 71Q,#0c0 87Q,#000 92Q,#ff0 0,#dd0 105Q,#c60 116Q"><i style="--s:#7f0,#4a0 11Q,#430 13Q,#440 14Q,#680 15Q,#900 16Q,#9e0 17Q,#8c0 22Q,#390 40Q,#2e0 43Q,#2d0 44Q,#330 45Q,#720 46Q,#890 47Q,#8b0 48Q,#730 55Q,#380 71Q,#070 87Q,#000 90Q,#ff0 0,#d90 105Q,#c10 116Q"><i style="--s:#7f0,#580 9Q,#520 11Q,#500 12Q,#520 13Q,#590 14Q,#7d0 16Q,#890 17Q,#8d0 19Q,#840 22Q,#3e0 39Q,#370 42Q,#370 43Q,#3b0 44Q,#470 45Q,#5d0 46Q,#6e0 47Q,#760 48Q,#770 50Q,#660 56Q,#220 76Q,#000 88Q,#ff0 0,#f10 93Q,#c50 112Q,#bd0 116Q"><i style="--s:#7f0,#5f0 8Q,#580 11Q,#580 12Q,#5b0 13Q,#610 14Q,#750 16Q,#7d0 17Q,#820 19Q,#800 21Q,#6f0 26Q,#420 38Q,#3b0 41Q,#3d0 43Q,#410 44Q,#4a0 45Q,#600 47Q,#660 48Q,#6a0 50Q,#610 55Q,#100 80Q,#000 86Q,#ff0 0,#df0 98Q,#b80 116Q"><i style="--s:#7f0,#620 8Q,#5d0 11Q,#600 13Q,#750 17Q,#7a0 20Q,#740 23Q,#410 38Q,#3d0 41Q,#3f0 43Q,#480 45Q,#560 47Q,#5e0 49Q,#5e0 52Q,#4c0 59Q,#050 82Q,#000 84Q,#ff0 0,#d60 100Q,#b40 116Q"><i style="--s:#7f0,#670 7Q,#610 10Q,#610 12Q,#690 15Q,#740 19Q,#710 22Q,#600 28Q,#430 37Q,#3d0 41Q,#3f0 43Q,#510 48Q,#550 51Q,#4d0 56Q,#000 82Q,#ff0 0,#f60 85Q,#c80 104Q,#af0 116Q"><i style="--s:#7f0,#690 7Q,#630 11Q,#660 14Q,#6e0 19Q,#6c0 22Q,#5c0 28Q,#410 37Q,#3c0 41Q,#3f0 44Q,#4b0 49Q,#4b0 52Q,#3d0 59Q,#000 80Q,#ff0 0,#f00 85Q,#c30 104Q,#ab0 116Q"><i style="--s:#7f0,#6b0 7Q,#650 11Q,#690 20Q,#630 24Q,#3e0 38Q,#3a0 42Q,#440 50Q,#3f0 55Q,#2a0 63Q,#000 78Q,#ff0 0,#e80 86Q,#bc0 105Q,#a60 116Q"><i style="--s:#7f0,#6a0 8Q,#650 12Q,#650 20Q,#5d0 25Q,#3b0 38Q,#380 42Q,#3c0 50Q,#350 56Q,#180 67Q,#000 76Q,#ff0 0,#de0 88Q,#b10 108Q,#a20 116Q"><i style="--s:#7f0,#6a0 8Q,#650 13Q,#600 21Q,#540 27Q,#390 38Q,#350 43Q,#350 51Q,#290 58Q,#000 73Q,#ff0 0,#d60 89Q,#a80 110Q,#9d0 116Q"><i style="--s:#7f0,#6b0 8Q,#630 14Q,#5b0 22Q,#430 32Q,#330 40Q,#300 48Q,#280 55Q,#130 64Q,#000 71Q,#ff0 0,#d30 88Q,#a70 108Q,#980 116Q"><i style="--s:#7f0,#690 9Q,#560 23Q,#310 39Q,#2a0 47Q,#210 55Q,#0a0 65Q,#000 69Q,#ff0 0,#cb0 89Q,#9f0 110Q,#940 116Q"><i style="--s:#7f0,#690 9Q,#510 24Q,#2e0 39Q,#1a0 55Q,#000 66Q,#000 0,#ff0 0,#c50 89Q,#980 111Q,#8f0 116Q"><i style="--s:#7f0,#670 10Q,#4b0 25Q,#2a0 39Q,#120 56Q,#000 63Q,#ff0 0,#e90 72Q,#b40 94Q,#8c0 115Q,#8a0 116Q"><i style="--s:#7f0,#640 11Q,#460 26Q,#250 40Q,#0b0 56Q,#000 61Q,#ff0 0,#b30 92Q,#8b0 113Q,#860 116Q"><i style="--s:#7f0,#610 12Q,#400 27Q,#1f0 41Q,#020 57Q,#000 58Q,#ff0 0,#b20 90Q,#880 112Q,#810 116Q"><i style="--s:#7f0,#5e0 13Q,#320 31Q,#170 43Q,#000 54Q,#ff0 0,#f60 59Q,#b10 88Q,#860 110Q,#7c0 116Q"><i style="--s:#7f0,#580 15Q,#140 42Q,#000 51Q,#ff0 0,#eb0 61Q,#ab0 88Q,#7f0 111Q,#770 116Q"><i style="--s:#7f0,#490 20Q,#100 42Q,#000 49Q,#ff0 0,#d80 66Q,#a30 89Q,#790 112Q,#730 116Q"><i style="--s:#7f0,#200 34Q,#000 47Q,#ff0 0,#b10 80Q,#850 102Q,#6e0 116Q"><i style="--s:#7f0,#140 37Q,#000 45Q,#ff0 0,#b30 76Q,#870 98Q,#690 116Q"><i style="--s:#7f0,#0d0 38Q,#000 43Q,#ff0 0,#c40 66Q,#940 88Q,#6a0 112Q,#640 116Q"><i style="--s:#7f0,#120 35Q,#000 41Q,#ff0 0,#cf0 59Q,#9e0 80Q,#750 102Q,#5f0 116Q"><i style="--s:#800,#140 33Q,#000 40Q,#ff0 0,#cd0 57Q,#9e0 77Q,#740 99Q,#5a0 116Q"><i style="--s:#800,#140 32Q,#000 38Q,#ff0 0,#ca0 56Q,#a30 72Q,#770 94Q,#550 116Q"><i style="--s:#800,#130 31Q,#000 37Q,#ff0 0,#c60 55Q,#a30 69Q,#790 90Q,#520 115Q,#510 116Q"><i style="--s:#800,#130 30Q,#000 36Q,#ff0 0,#c00 55Q,#9e0 68Q,#760 88Q,#500 113Q,#4c0 116Q"><i style="--s:#800,#130 29Q,#000 35Q,#ff0 0,#b90 55Q,#9a0 67Q,#740 86Q,#4d0 111Q,#470 116Q"><i style="--s:#800,#410 16Q,#0c0 30Q,#000 33Q,#ff0 0,#b30 55Q,#950 66Q,#710 84Q,#4c0 108Q,#420 116Q"><i style="--s:#800,#480 14Q,#130 27Q,#000 32Q,#ff0 0,#cc0 46Q,#a90 56Q,#8c0 67Q,#680 86Q,#430 111Q,#3d0 116Q"><i style="--s:#800,#4f0 12Q,#180 25Q,#000 31Q,#ff0 0,#d30 43Q,#ac0 53Q,#8f0 63Q,#6e0 79Q,#4a0 102Q,#380 116Q"><i style="--s:#800,#530 11Q,#180 24Q,#000 30Q,#ff0 0,#d30 42Q,#a50 53Q,#8a0 62Q,#6d0 76Q,#480 99Q,#330 116Q"><i style="--s:#800,#570 10Q,#190 23Q,#000 29Q,#ff0 0,#d20 41Q,#a20 52Q,#880 60Q,#6d0 72Q,#4a0 94Q,#2e0 116Q"><i style="--s:#800,#5b0 9Q,#160 23Q,#000 29Q,#ff0 0,#d30 40Q,#9b0 52Q,#810 60Q,#680 71Q,#450 93Q,#290 116Q"><i style="--s:#800,#5b0 9Q,#160 22Q,#000 28Q,#ff0 0,#f60 30Q,#cf0 40Q,#980 51Q,#7f0 58Q,#690 67Q,#490 86Q,#270 113Q,#240 116Q"><i style="--s:#800,#600 8Q,#3f0 14Q,#180 21Q,#000 27Q,#ff0 0,#fd0 0,#d00 39Q,#b10 45Q,#910 51Q,#770 58Q,#620 67Q,#430 86Q,#210 114Q,#1f0 116Q"><i style="--s:#800,#600 8Q,#450 13Q,#190 20Q,#020 25Q,#000 0,#ff0 0,#cd0 39Q,#b20 44Q,#8e0 50Q,#750 56Q,#610 64Q,#440 81Q,#230 107Q,#1a0 116Q"><i style="--s:#800,#610 8Q,#4b0 12Q,#150 20Q,#010 24Q,#000 0,#ff0 0,#ce0 38Q,#ba0 42Q,#860 50Q,#700 55Q,#5d0 62Q,#430 77Q,#230 102Q,#140 116Q"><i style="--s:#800,#670 7Q,#520 11Q,#350 15Q,#100 20Q,#000 23Q,#ff0 0,#fc0 24Q,#cc0 38Q,#b70 42Q,#840 49Q,#730 52Q,#5f0 58Q,#4a0 68Q,#2b0 90Q,#0f0 116Q"><i style="--s:#800,#680 7Q,#5a0 10Q,#450 13Q,#110 19Q,#000 22Q,#000 0,#ff0 0,#ec0 27Q,#ca0 38Q,#bb0 41Q,#a60 44Q,#820 48Q,#6f0 51Q,#5c0 56Q,#4a0 64Q,#2e0 83Q,#0d0 113Q,#0a0 116Q"><i style="--s:#800,#660 8Q,#570 11Q,#470 13Q,#1c0 17Q,#040 20Q,#000 21Q,#ff0 0,#f50 23Q,#e00 30Q,#c80 38Q,#ba0 41Q,#ac0 43Q,#990 45Q,#790 48Q,#6a0 50Q,#5c0 53Q,#490 60Q,#300 76Q,#100 104Q,#050 116Q"><i style="--s:#800,#690 8Q,#5b0 11Q,#4a0 13Q,#310 15Q,#220 16Q,#160 17Q,#000 20Q,#ff0 0,#fc0 0,#ef0 23Q,#d70 32Q,#c30 39Q,#b40 42Q,#a20 44Q,#790 47Q,#6e0 48Q,#5f0 50Q,#520 53Q,#3f0 61Q,#240 80Q,#050 110Q,#000 116Q"><i style="--s:#800,#6c0 8Q,#600 11Q,#5a0 12Q,#510 13Q,#430 14Q,#1c0 16Q,#0c0 17Q,#000 18Q,#ff0 0,#f90 19Q,#ef0 21Q,#e10 26Q,#c30 39Q,#b60 42Q,#af0 43Q,#a50 44Q,#950 45Q,#6d0 47Q,#600 48Q,#580 49Q,#4a0 52Q,#380 60Q,#1c0 81Q,#000 110Q,#ff0 0,#fc0 113Q,#fa0 116Q"><i style="--s:#800,#6a0 10Q,#630 12Q,#5c0 13Q,#500 14Q,#320 15Q,#100 16Q,#000 17Q,#ff0 0,#fb0 0,#e90 20Q,#db0 26Q,#c10 40Q,#b60 43Q,#ad0 44Q,#9c0 45Q,#750 46Q,#590 47Q,#4d0 48Q,#430 50Q,#330 58Q,#150 82Q,#000 105Q,#ff0 0,#f60 115Q,#f50 116Q"><i style="--s:#7f0,#6d0 13Q,#6e0 14Q,#a60 15Q,#d50 16Q,#dd0 21Q,#bf0 43Q,#bf0 44Q,#c30 45Q,#ff0 46Q,#000 0,#250 0,#330 47Q,#300 53Q,#090 87Q,#000 98Q,#ff0 0,#f00 116Q"><i style="--s:#7f0,#770 9Q,#790 12Q,#7d0 13Q,#880 14Q,#9f0 15Q,#b90 16Q,#c90 17Q,#d30 19Q,#d40 22Q,#c40 40Q,#c60 42Q,#c80 43Q,#cf0 44Q,#de0 45Q,#fb0 46Q,#ff0 0,#000 0,#130 47Q,#1d0 48Q,#230 50Q,#210 57Q,#000 91Q,#ff0 0,#f70 99Q,#ea0 116Q"><i style="--s:#7f0,#7b0 8Q,#7e0 11Q,#810 12Q,#870 13Q,#910 14Q,#af0 16Q,#bb0 17Q,#c80 19Q,#cc0 21Q,#cb0 26Q,#c40 38Q,#c70 41Q,#ce0 43Q,#d50 44Q,#e20 45Q,#ff0 47Q,#000 0,#020 0,#0b0 48Q,#150 50Q,#190 55Q,#0d0 69Q,#000 84Q,#ff0 0,#ec0 106Q,#e50 116Q"><i style="--s:#7f0,#7e0 8Q,#830 11Q,#8d0 13Q,#b30 17Q,#c20 20Q,#c60 23Q,#c30 38Q,#c80 41Q,#d00 43Q,#d70 44Q,#f50 47Q,#ff0 48Q,#000 0,#040 49Q,#0d0 52Q,#0e0 59Q,#000 76Q,#ff0 0,#e30 111Q,#e00 116Q"><i style="--s:#7f0,#7f0 7Q,#840 10Q,#8b0 12Q,#9e0 15Q,#ad0 17Q,#bb0 20Q,#c00 23Q,#c10 31Q,#c20 38Q,#c70 41Q,#cf0 43Q,#e40 46Q,#f30 48Q,#fc0 50Q,#ff0 51Q,#000 0,#040 53Q,#050 60Q,#000 66Q,#ff0 0,#dc0 115Q,#db0 116Q"><i style="--s:#7f0,#810 7Q,#860 10Q,#910 13Q,#b10 19Q,#b90 22Q,#bd0 27Q,#c00 38Q,#c60 41Q,#d20 44Q,#ea0 48Q,#f50 51Q,#fb0 56Q,#f90 65Q,#d60 115Q,#d60 116Q"><i style="--s:#7f0,#830 7Q,#8b0 11Q,#9b0 15Q,#af0 20Q,#b60 24Q,#be0 38Q,#c70 42Q,#e60 49Q,#f00 53Q,#f30 60Q,#e70 80Q,#d10 116Q"><i style="--s:#7f0,#850 8Q,#8e0 12Q,#ab0 20Q,#b30 25Q,#bb0 38Q,#c40 42Q,#e00 50Q,#ea0 56Q,#ea0 64Q,#cb0 116Q"><i style="--s:#7f0,#860 8Q,#910 13Q,#a90 21Q,#b00 27Q,#b80 38Q,#c30 43Q,#d90 50Q,#e10 56Q,#e20 64Q,#c60 116Q"><i style="--s:#7f0,#860 8Q,#930 14Q,#a70 22Q,#ae0 30Q,#b60 39Q,#c40 45Q,#d30 51Q,#da0 58Q,#d90 69Q,#c10 116Q"><i style="--s:#7f0,#880 9Q,#a30 22Q,#ab0 32Q,#b40 40Q,#cd0 52Q,#d30 60Q,#ce0 76Q,#bc0 116Q"><i style="--s:#7f0,#870 9Q,#a00 23Q,#b00 40Q,#c60 52Q,#cc0 61Q,#c50 81Q,#b60 116Q"><i style="--s:#7f0,#880 10Q,#9e0 24Q,#ac0 40Q,#c00 53Q,#c40 63Q,#b10 116Q"><i style="--s:#7f0,#890 11Q,#9b0 25Q,#a80 41Q,#ba0 55Q,#bd0 65Q,#ac0 116Q"><i style="--s:#7f0,#890 12Q,#990 26Q,#a50 42Q,#b30 55Q,#b50 66Q,#a70 116Q"><i style="--s:#7f0,#8a0 14Q,#960 28Q,#a10 43Q,#ac0 56Q,#ad0 70Q,#a20 116Q"><i style="--s:#7f0,#8a0 16Q,#9f0 46Q,#a60 59Q,#a40 82Q,#9c0 116Q"><i style="--s:#7f0,#9f0 59Q,#9c0 88Q,#970 116Q"><i style="--s:#7f0,#980 60Q,#920 116Q"><i style="--s:#7f0,#910 61Q,#8d0 116Q"><i style="--s:#7f0,#8a0 65Q,#870 116Q"><i style="--s:#7f0,#830 84Q,#820 116Q"></i></i></i></i></i></i></i></i></i></i></i></i></i></i></i></i></i></i></i></i></i></i></i></i></i></i></i></i></i></i></i></i></i></i></i></i></i></i></i></i></i></i></i></i></i></i></i></i></i></i></i></i></i></i></i></i></i></i></i></i></i></i></i></i></i></i></i></i></i></i></i></i></i></i></i></i></i></i></i></i></i></i></i></i></i></i></i></i></i></i></i></i></i></i></i></i></i></i></i></i></i></i></i></i></i></i></i></i></i></i></div><div class="m v" style="left:1009px;top:1241px"><i style="--s:#000,#020 21Q,#000 40Q,#010 61Q,#010 83Q,#000 116Q"><i style="--s:#000,#020 21Q,#000 40Q,#010 61Q,#010 85Q,#000 116Q"><i style="--s:#000,#020 22Q,#000 41Q,#010 62Q,#000 116Q"><i style="--s:#000,#010 22Q,#000 42Q,#000 67Q,#000 116Q"><i style="--s:#000,#010 23Q,#010 44Q,#000 116Q"><i style="--s:#000,#010 26Q,#000 116Q"><i style="--s:#000,#000 116Q"><i style="--s:#000,#000 116Q"><i style="--s:#000,#000 116Q"><i style="--s:#000,#000 93Q,#000 116Q"><i style="--s:#000,#000 55Q,#000 116Q"><i style="--s:#000,#010 51Q,#000 116Q"><i style="--s:#000,#010 49Q,#000 116Q"><i style="--s:#000,#010 48Q,#000 116Q"><i style="--s:#000,#010 47Q,#000 111Q,#000 116Q"><i style="--s:#000,#010 47Q,#000 116Q"><i style="--s:#010,#010 47Q,#000 116Q"><i style="--s:#010,#010 48Q,#000 116Q"><i style="--s:#010,#010 49Q,#000 116Q"><i style="--s:#020,#010 53Q,#000 116Q"><i style="--s:#020,#020 53Q,#000 116Q"><i style="--s:#020,#020 41Q,#000 116Q"><i style="--s:#020,#030 32Q,#000 116Q"><i style="--s:#020,#030 29Q,#000 116Q"><i style="--s:#010,#030 28Q,#000 116Q"><i style="--s:#010,#040 27Q,#030 48Q,#010 89Q,#000 116Q"><i style="--s:#000,#040 27Q,#030 45Q,#030 62Q,#010 82Q,#000 116Q"><i style="--s:#000,#020 14Q,#050 27Q,#030 44Q,#030 59Q,#010 78Q,#000 116Q"><i style="--s:#000,#010 13Q,#050 26Q,#040 43Q,#040 57Q,#010 75Q,#000 116Q"><i style="--s:#000,#010 13Q,#060 26Q,#040 43Q,#040 56Q,#010 72Q,#000 116Q"><i style="--s:#010,#010 12Q,#070 26Q,#050 42Q,#050 55Q,#000 70Q,#000 116Q"><i style="--s:#030,#010 12Q,#080 25Q,#050 42Q,#060 53Q,#000 69Q,#000 116Q"><i style="--s:#050,#020 12Q,#090 25Q,#070 33Q,#060 42Q,#060 52Q,#010 67Q,#000 116Q"><i style="--s:#090,#040 12Q,#080 20Q,#0b0 26Q,#060 40Q,#070 51Q,#010 66Q,#000 116Q"><i style="--s:#0d0,#090 7Q,#060 12Q,#0a0 19Q,#0d0 25Q,#0b0 31Q,#070 39Q,#080 51Q,#010 65Q,#010 85Q,#000 116Q"><i style="--s:#120,#0e0 6Q,#090 12Q,#0b0 17Q,#0f0 24Q,#0e0 29Q,#080 38Q,#090 51Q,#010 65Q,#010 82Q,#000 98Q,#000 116Q"><i style="--s:#170,#140 5Q,#0e0 11Q,#0d0 15Q,#120 24Q,#100 29Q,#090 37Q,#090 44Q,#0a0 51Q,#020 64Q,#020 82Q,#000 97Q,#000 116Q"><i style="--s:#1d0,#1a0 5Q,#130 11Q,#120 15Q,#150 24Q,#120 29Q,#0a0 37Q,#0a0 43Q,#0b0 50Q,#020 64Q,#020 81Q,#000 96Q,#000 116Q"><i style="--s:#240,#200 5Q,#180 11Q,#180 16Q,#190 23Q,#150 28Q,#0c0 35Q,#0a0 41Q,#0c0 49Q,#060 58Q,#030 65Q,#030 81Q,#000 96Q,#000 116Q"><i style="--s:#2a0,#260 5Q,#1f0 11Q,#1d0 16Q,#1d0 23Q,#170 28Q,#0e0 34Q,#0b0 40Q,#0d0 49Q,#080 57Q,#030 64Q,#030 82Q,#010 97Q,#000 116Q"><i style="--s:#2f0,#2c0 5Q,#250 12Q,#220 22Q,#1b0 27Q,#100 33Q,#0c0 38Q,#0e0 49Q,#090 57Q,#040 64Q,#030 83Q,#010 102Q,#000 116Q"><i style="--s:#340,#2f0 7Q,#2b0 14Q,#280 21Q,#210 25Q,#120 32Q,#0d0 37Q,#0d0 42Q,#0f0 49Q,#0a0 57Q,#040 64Q,#000 116Q,#000 0"><i style="--s:#370,#310 17Q,#2b0 22Q,#130 32Q,#0d0 37Q,#0e0 42Q,#100 48Q,#0c0 55Q,#050 64Q,#030 76Q,#000 116Q"><i style="--s:#3a0,#3a0 14Q,#350 19Q,#2c0 23Q,#150 31Q,#100 34Q,#0d0 39Q,#110 48Q,#0f0 53Q,#050 64Q,#030 74Q,#000 116Q"><i style="--s:#3b0,#3f0 8Q,#410 13Q,#3f0 16Q,#380 20Q,#2c0 24Q,#170 30Q,#110 33Q,#0d0 37Q,#0f0 42Q,#120 48Q,#0f0 53Q,#050 64Q,#020 72Q,#020 95Q,#000 116Q"><i style="--s:#3b0,#3e0 5Q,#460 11Q,#460 14Q,#430 17Q,#380 21Q,#1a0 29Q,#120 32Q,#0e0 35Q,#0e0 40Q,#120 47Q,#110 52Q,#040 64Q,#020 71Q,#030 92Q,#000 116Q,#000 0"><i style="--s:#390,#3d0 4Q,#4a0 11Q,#4b0 14Q,#480 17Q,#3b0 21Q,#1c0 28Q,#130 31Q,#0e0 34Q,#0e0 39Q,#130 47Q,#110 52Q,#040 64Q,#010 71Q,#030 89Q,#000 115Q,#000 116Q"><i style="--s:#370,#3a0 3Q,#440 7Q,#4d0 11Q,#4f0 13Q,#4f0 15Q,#4b0 17Q,#3c0 21Q,#1f0 27Q,#140 30Q,#0e0 33Q,#0d0 37Q,#130 46Q,#120 51Q,#030 64Q,#010 70Q,#040 88Q,#000 114Q,#000 116Q"><i style="--s:#330,#370 3Q,#400 6Q,#4d0 10Q,#510 12Q,#520 14Q,#4f0 16Q,#450 19Q,#310 23Q,#1d0 27Q,#130 30Q,#0d0 33Q,#0d0 37Q,#130 46Q,#110 51Q,#030 63Q,#010 69Q,#040 87Q,#000 113Q,#000 116Q"><i style="--s:#2f0,#340 3Q,#3e0 6Q,#4d0 10Q,#520 12Q,#530 14Q,#500 16Q,#440 19Q,#290 24Q,#1b0 27Q,#110 30Q,#0c0 33Q,#0e0 38Q,#130 45Q,#120 50Q,#020 63Q,#000 69Q,#040 86Q,#000 112Q,#000 116Q"><i style="--s:#2b0,#300 3Q,#3c0 6Q,#4c0 10Q,#510 12Q,#520 14Q,#4e0 16Q,#420 19Q,#1c0 26Q,#110 29Q,#0c0 32Q,#0b0 35Q,#130 44Q,#130 48Q,#0b0 55Q,#020 62Q,#000 68Q,#040 85Q,#000 111Q,#000 116Q"><i style="--s:#270,#2c0 3Q,#380 6Q,#4a0 10Q,#4f0 12Q,#4f0 14Q,#4c0 16Q,#3f0 19Q,#1d0 25Q,#110 28Q,#0b0 31Q,#0a0 34Q,#130 43Q,#130 47Q,#0d0 53Q,#020 61Q,#000 67Q,#050 84Q,#000 110Q,#000 116Q"><i style="--s:#220,#280 3Q,#350 6Q,#430 9Q,#490 11Q,#4c0 13Q,#4a0 15Q,#440 17Q,#290 22Q,#190 25Q,#110 27Q,#0c0 29Q,#090 32Q,#0e0 37Q,#130 42Q,#130 46Q,#0d0 52Q,#020 60Q,#000 66Q,#050 83Q,#000 108Q,#000 116Q"><i style="--s:#1f0,#240 3Q,#310 6Q,#3e0 9Q,#450 11Q,#470 13Q,#440 15Q,#3e0 17Q,#190 24Q,#0e0 27Q,#0a0 29Q,#090 32Q,#130 41Q,#140 45Q,#0f0 50Q,#020 59Q,#000 65Q,#050 82Q,#000 107Q,#000 116Q"><i style="--s:#1b0,#210 3Q,#2c0 6Q,#390 9Q,#3f0 11Q,#400 13Q,#3e0 15Q,#370 17Q,#140 24Q,#0d0 26Q,#090 28Q,#080 31Q,#140 40Q,#150 44Q,#0f0 49Q,#030 58Q,#000 63Q,#050 81Q,#000 105Q,#000 116Q"><i style="--s:#190,#1d0 3Q,#280 6Q,#330 9Q,#380 11Q,#390 13Q,#360 15Q,#260 19Q,#130 23Q,#0a0 26Q,#080 28Q,#090 31Q,#150 39Q,#160 42Q,#130 46Q,#040 56Q,#000 61Q,#020 69Q,#050 80Q,#000 104Q,#000 116Q"><i style="--s:#170,#1b0 3Q,#2d0 9Q,#310 11Q,#310 13Q,#2d0 15Q,#1e0 19Q,#0f0 23Q,#080 26Q,#080 29Q,#0e0 33Q,#160 38Q,#170 41Q,#140 45Q,#040 55Q,#000 60Q,#010 67Q,#050 79Q,#000 103Q,#010 116Q"><i style="--s:#150,#190 3Q,#270 9Q,#290 11Q,#280 13Q,#210 16Q,#0d0 22Q,#070 25Q,#070 28Q,#0e0 32Q,#180 37Q,#190 40Q,#170 43Q,#060 53Q,#000 59Q,#010 66Q,#040 78Q,#000 102Q,#010 116Q"><i style="--s:#150,#190 4Q,#200 9Q,#200 12Q,#1b0 15Q,#090 22Q,#060 25Q,#090 28Q,#180 35Q,#1c0 39Q,#190 42Q,#0e0 48Q,#050 53Q,#000 59Q,#020 68Q,#040 79Q,#000 101Q,#010 116Q"><i style="--s:#160,#1a0 9Q,#180 12Q,#110 16Q,#070 21Q,#060 24Q,#090 27Q,#1a0 34Q,#1e0 38Q,#1c0 41Q,#120 46Q,#070 51Q,#010 57Q,#010 63Q,#040 77Q,#000 101Q,#010 116Q"><i style="--s:#170,#150 8Q,#0f0 13Q,#050 20Q,#050 23Q,#0a0 26Q,#1d0 33Q,#220 37Q,#1f0 40Q,#170 44Q,#080 50Q,#020 55Q,#000 60Q,#030 77Q,#000 101Q,#010 116Q"><i style="--s:#190,#160 5Q,#050 16Q,#030 20Q,#070 23Q,#120 27Q,#210 32Q,#250 35Q,#230 39Q,#1a0 43Q,#0a0 49Q,#030 53Q,#000 59Q,#030 78Q,#000 101Q,#010 116Q"><i style="--s:#1d0,#190 4Q,#060 12Q,#020 15Q,#020 19Q,#080 22Q,#140 26Q,#220 30Q,#280 33Q,#280 37Q,#220 40Q,#0b0 48Q,#040 52Q,#000 58Q,#030 78Q,#000 101Q,#010 116Q"><i style="--s:#220,#1e0 3Q,#150 6Q,#060 11Q,#010 14Q,#010 17Q,#090 21Q,#1b0 26Q,#260 29Q,#2d0 32Q,#2e0 35Q,#260 39Q,#0d0 47Q,#050 51Q,#010 57Q,#040 79Q,#000 101Q,#010 116Q"><i style="--s:#280,#230 3Q,#180 6Q,#090 10Q,#030 12Q,#010 14Q,#020 16Q,#0c0 20Q,#2b0 28Q,#320 31Q,#330 33Q,#2d0 37Q,#200 41Q,#0f0 46Q,#070 50Q,#020 55Q,#020 63Q,#040 78Q,#010 102Q,#010 116Q"><i style="--s:#2f0,#2a0 3Q,#1d0 6Q,#0b0 10Q,#060 12Q,#040 14Q,#060 16Q,#130 20Q,#2e0 26Q,#370 29Q,#390 31Q,#380 33Q,#2f0 37Q,#120 45Q,#080 49Q,#030 53Q,#030 61Q,#060 77Q,#010 102Q,#010 116Q"><i style="--s:#390,#350 2Q,#2e0 4Q,#150 9Q,#0e0 11Q,#0b0 13Q,#0c0 15Q,#110 17Q,#280 22Q,#350 25Q,#3c0 27Q,#3f0 29Q,#3f0 31Q,#3d0 33Q,#300 37Q,#150 44Q,#0c0 47Q,#060 51Q,#040 57Q,#070 75Q,#010 102Q,#010 116Q"><i style="--s:#430,#3f0 2Q,#380 4Q,#1e0 9Q,#160 11Q,#140 13Q,#160 15Q,#1c0 17Q,#3d0 24Q,#440 26Q,#470 28Q,#470 30Q,#430 32Q,#390 35Q,#170 43Q,#0e0 46Q,#090 49Q,#060 53Q,#090 74Q,#050 88Q,#010 104Q,#010 116Q"><i style="--s:#4f0,#4b0 2Q,#430 4Q,#290 9Q,#220 11Q,#200 13Q,#230 15Q,#2a0 17Q,#470 23Q,#4e0 25Q,#500 27Q,#4f0 29Q,#4b0 31Q,#3f0 34Q,#1e0 41Q,#140 44Q,#0d0 47Q,#080 51Q,#090 59Q,#0b0 71Q,#080 84Q,#020 101Q,#010 116Q"><i style="--s:#5b0,#580 2Q,#500 4Q,#360 9Q,#300 11Q,#2f0 13Q,#330 15Q,#450 19Q,#530 22Q,#590 24Q,#5b0 26Q,#590 28Q,#530 30Q,#460 33Q,#220 40Q,#170 43Q,#0f0 46Q,#0b0 50Q,#0b0 57Q,#0e0 68Q,#0b0 81Q,#020 100Q,#010 116Q"><i style="--s:#680,#650 2Q,#5e0 4Q,#460 9Q,#410 11Q,#410 13Q,#460 15Q,#600 21Q,#650 23Q,#670 25Q,#630 27Q,#5c0 29Q,#4d0 32Q,#2a0 38Q,#1d0 41Q,#140 44Q,#0f0 47Q,#0d0 51Q,#110 65Q,#0d0 79Q,#020 100Q,#010 116Q"><i style="--s:#760,#700 3Q,#630 6Q,#570 9Q,#530 11Q,#540 13Q,#5a0 15Q,#6e0 20Q,#730 22Q,#740 24Q,#6f0 26Q,#670 28Q,#4e0 32Q,#2f0 37Q,#210 40Q,#180 43Q,#130 46Q,#110 50Q,#150 62Q,#0f0 76Q,#020 101Q,#010 116Q"><i style="--s:#820,#7d0 3Q,#690 9Q,#670 11Q,#690 13Q,#730 16Q,#810 20Q,#830 22Q,#800 24Q,#780 26Q,#6c0 28Q,#400 34Q,#290 38Q,#1e0 41Q,#170 44Q,#150 47Q,#190 60Q,#140 70Q,#030 101Q,#010 116Q"><i style="--s:#8e0,#8a0 3Q,#7d0 8Q,#7a0 10Q,#7c0 12Q,#840 15Q,#910 19Q,#920 21Q,#910 22Q,#8e0 23Q,#850 25Q,#770 27Q,#460 33Q,#2e0 37Q,#220 40Q,#1b0 43Q,#190 46Q,#1d0 58Q,#1a0 64Q,#100 76Q,#020 102Q,#010 116Q"><i style="--s:#970,#930 4Q,#8d0 8Q,#8c0 10Q,#8f0 12Q,#9e0 17Q,#a10 20Q,#a00 21Q,#9d0 22Q,#980 23Q,#8b0 25Q,#710 28Q,#550 31Q,#450 33Q,#380 35Q,#290 38Q,#210 41Q,#1e0 44Q,#200 49Q,#230 56Q,#1f0 61Q,#130 71Q,#020 102Q,#010 116Q"><i style="--s:#9e0,#9b0 8Q,#9e0 11Q,#ad0 16Q,#b00 19Q,#ae0 20Q,#ab0 21Q,#a60 22Q,#a00 23Q,#8f0 25Q,#5e0 30Q,#4c0 32Q,#3d0 34Q,#2e0 37Q,#280 39Q,#240 42Q,#240 46Q,#280 53Q,#260 58Q,#150 69Q,#0f0 77Q,#020 103Q,#000 116Q"><i style="--s:#a20,#a40 6Q,#a80 9Q,#b40 13Q,#ba0 15Q,#bd0 17Q,#bb0 19Q,#b80 20Q,#b30 21Q,#ad0 22Q,#9c0 24Q,#5c0 30Q,#4b0 32Q,#3d0 34Q,#300 37Q,#2b0 39Q,#280 42Q,#2a0 46Q,#2e0 51Q,#2c0 56Q,#230 61Q,#170 67Q,#110 72Q,#080 90Q,#020 103Q,#000 116Q"><i style="--s:#a40,#a60 4Q,#ac0 7Q,#b50 10Q,#c30 14Q,#c70 16Q,#c70 17Q,#c30 19Q,#be0 20Q,#b80 21Q,#b00 22Q,#9c0 24Q,#640 29Q,#520 31Q,#430 33Q,#390 35Q,#300 38Q,#2e0 41Q,#310 45Q,#350 50Q,#340 53Q,#2b0 58Q,#190 65Q,#130 69Q,#0e0 76Q,#090 87Q,#020 101Q,#000 116Q"><i style="--s:#a20,#a50 3Q,#ac0 6Q,#bb0 10Q,#c80 13Q,#cd0 15Q,#ce0 16Q,#cd0 17Q,#c70 19Q,#c10 20Q,#b90 21Q,#a60 23Q,#6c0 28Q,#590 30Q,#490 32Q,#3e0 34Q,#350 37Q,#330 39Q,#350 42Q,#3b0 48Q,#3c0 51Q,#350 55Q,#260 60Q,#180 65Q,#110 69Q,#0e0 77Q,#090 87Q,#020 100Q,#000 116Q"><i style="--s:#9d0,#a10 3Q,#aa0 6Q,#c70 12Q,#ce0 14Q,#cf0 15Q,#d00 16Q,#ce0 17Q,#c60 19Q,#bf0 20Q,#b60 21Q,#a20 23Q,#730 27Q,#5f0 29Q,#4f0 31Q,#440 33Q,#3d0 35Q,#390 38Q,#3a0 41Q,#430 47Q,#430 50Q,#3e0 53Q,#2d0 58Q,#1c0 63Q,#140 66Q,#100 70Q,#0c0 82Q,#030 96Q,#000 113Q,#000 116Q"><i style="--s:#950,#9a0 3Q,#a10 5Q,#b00 8Q,#c50 12Q,#cc0 14Q,#cd0 15Q,#cd0 16Q,#cb0 17Q,#c10 19Q,#b90 20Q,#a60 22Q,#6f0 27Q,#5c0 29Q,#4e0 31Q,#450 33Q,#3f0 35Q,#3e0 38Q,#420 41Q,#4a0 46Q,#4a0 49Q,#450 52Q,#320 57Q,#1d0 62Q,#150 65Q,#110 68Q,#0d0 81Q,#030 94Q,#000 110Q,#000 116Q"><i style="--s:#8b0,#910 3Q,#990 5Q,#af0 9Q,#bf0 12Q,#c50 14Q,#c60 15Q,#c50 16Q,#c30 17Q,#b80 19Q,#b00 20Q,#9d0 22Q,#730 26Q,#610 28Q,#530 30Q,#490 32Q,#440 34Q,#420 37Q,#470 40Q,#510 45Q,#520 47Q,#500 49Q,#4c0 51Q,#3b0 55Q,#240 60Q,#190 63Q,#130 66Q,#100 70Q,#100 78Q,#030 93Q,#000 105Q,#000 116Q"><i style="--s:#800,#830 2Q,#890 4Q,#990 7Q,#b10 11Q,#b80 13Q,#ba0 14Q,#bb0 15Q,#b90 16Q,#b60 17Q,#ac0 19Q,#9b0 21Q,#6c0 26Q,#5c0 28Q,#500 30Q,#490 32Q,#460 34Q,#470 37Q,#500 41Q,#570 44Q,#590 46Q,#570 48Q,#530 50Q,#460 53Q,#270 59Q,#1b0 62Q,#140 65Q,#120 69Q,#120 77Q,#0c0 83Q,#030 92Q,#000 101Q,#000 116Q"><i style="--s:#730,#760 2Q,#7d0 4Q,#8d0 7Q,#9e0 10Q,#a70 12Q,#aa0 13Q,#ac0 14Q,#ac0 15Q,#aa0 16Q,#a70 17Q,#950 20Q,#630 26Q,#560 28Q,#4d0 30Q,#490 32Q,#480 34Q,#4e0 38Q,#5c0 43Q,#5f0 45Q,#5e0 47Q,#5a0 49Q,#520 51Q,#260 59Q,#1b0 62Q,#150 65Q,#140 69Q,#140 76Q,#0f0 81Q,#040 89Q,#010 96Q,#000 116Q"><i style="--s:#660,#6c0 3Q,#740 5Q,#8f0 10Q,#970 12Q,#9a0 14Q,#9a0 15Q,#980 16Q,#8b0 19Q,#760 22Q,#610 25Q,#550 27Q,#4d0 29Q,#480 31Q,#480 33Q,#500 37Q,#600 42Q,#640 44Q,#640 46Q,#600 48Q,#580 50Q,#3b0 55Q,#290 58Q,#1d0 61Q,#170 64Q,#160 67Q,#170 75Q,#140 79Q,#040 89Q,#000 96Q,#000 116Q"><i style="--s:#5a0,#5f0 3Q,#6b0 6Q,#7e0 10Q,#840 12Q,#870 14Q,#840 16Q,#780 19Q,#550 25Q,#4d0 27Q,#470 29Q,#450 31Q,#470 33Q,#530 37Q,#630 41Q,#670 43Q,#690 45Q,#650 47Q,#5e0 49Q,#4d0 52Q,#2d0 57Q,#240 59Q,#1d0 61Q,#180 64Q,#180 68Q,#1a0 74Q,#170 78Q,#060 88Q,#010 94Q,#000 116Q"><i style="--s:#4e0,#530 3Q,#5d0 6Q,#6c0 10Q,#710 12Q,#720 14Q,#6f0 16Q,#600 20Q,#4d0 24Q,#430 27Q,#410 29Q,#420 31Q,#460 33Q,#560 37Q,#660 41Q,#6b0 43Q,#6b0 45Q,#660 47Q,#5d0 49Q,#440 53Q,#2b0 57Q,#220 59Q,#1c0 61Q,#190 64Q,#1c0 74Q,#180 78Q,#060 88Q,#010 94Q,#000 116Q"><i style="--s:#440,#470 3Q,#520 7Q,#5a0 10Q,#5d0 12Q,#5d0 14Q,#5a0 16Q,#490 21Q,#3f0 24Q,#3a0 27Q,#3a0 29Q,#3d0 31Q,#480 34Q,#650 40Q,#6b0 42Q,#6c0 44Q,#690 46Q,#600 48Q,#4e0 51Q,#2e0 56Q,#240 58Q,#1d0 60Q,#1a0 62Q,#190 65Q,#1e0 72Q,#1b0 77Q,#060 88Q,#010 94Q,#000 116Q"><i style="--s:#3b0,#3f0 4Q,#490 10Q,#4a0 13Q,#460 16Q,#330 23Q,#300 26Q,#310 28Q,#350 30Q,#420 33Q,#620 39Q,#690 41Q,#6b0 43Q,#690 45Q,#620 47Q,#500 50Q,#2f0 55Q,#250 57Q,#1e0 59Q,#1a0 61Q,#180 64Q,#1e0 71Q,#1d0 76Q,#140 81Q,#070 88Q,#020 94Q,#000 114Q,#000 116Q"><i style="--s:#340,#3a0 10Q,#380 13Q,#2c0 19Q,#250 23Q,#250 26Q,#290 28Q,#300 30Q,#3f0 33Q,#5d0 38Q,#650 40Q,#680 42Q,#670 44Q,#610 46Q,#560 48Q,#2a0 55Q,#200 57Q,#1a0 59Q,#170 61Q,#170 64Q,#1e0 71Q,#1c0 76Q,#150 81Q,#080 88Q,#020 95Q,#000 115Q,#000 116Q"><i style="--s:#2f0,#2e0 8Q,#2a0 12Q,#190 21Q,#190 24Q,#1c0 26Q,#220 28Q,#2b0 30Q,#560 37Q,#5f0 39Q,#640 41Q,#630 43Q,#5e0 45Q,#540 47Q,#2e0 53Q,#1f0 56Q,#180 58Q,#140 60Q,#140 63Q,#1c0 71Q,#1c0 76Q,#150 81Q,#080 89Q,#020 97Q,#000 115Q,#000 116Q"><i style="--s:#2c0,#290 5Q,#220 10Q,#0f0 19Q,#0d0 22Q,#100 24Q,#150 26Q,#1d0 28Q,#2e0 31Q,#490 35Q,#580 38Q,#5e0 40Q,#5e0 42Q,#590 44Q,#500 46Q,#250 53Q,#180 56Q,#120 58Q,#0f0 61Q,#110 64Q,#1a0 71Q,#1b0 76Q,#150 81Q,#080 90Q,#020 99Q,#000 114Q,#000 116Q"><i style="--s:#2b0,#270 4Q,#200 8Q,#0a0 16Q,#050 20Q,#060 22Q,#0a0 24Q,#110 26Q,#210 29Q,#420 34Q,#510 37Q,#570 39Q,#580 41Q,#530 43Q,#4b0 45Q,#330 49Q,#210 52Q,#110 56Q,#0c0 58Q,#0b0 61Q,#0f0 65Q,#180 71Q,#1a0 76Q,#160 81Q,#080 92Q,#020 101Q,#000 115Q,#000 116Q"><i style="--s:#2b0,#270 4Q,#1d0 8Q,#090 14Q,#030 17Q,#010 21Q,#050 23Q,#0c0 25Q,#1c0 28Q,#3c0 33Q,#470 35Q,#500 38Q,#510 40Q,#4d0 42Q,#450 44Q,#2e0 48Q,#1d0 51Q,#0c0 55Q,#080 57Q,#070 60Q,#090 63Q,#170 71Q,#1a0 76Q,#160 81Q,#070 94Q,#020 103Q,#000 116Q"><i style="--s:#2d0,#2a0 3Q,#230 6Q,#080 14Q,#020 17Q,#010 20Q,#050 22Q,#0b0 24Q,#1a0 27Q,#390 32Q,#420 34Q,#4a0 37Q,#4a0 39Q,#460 41Q,#3e0 43Q,#180 50Q,#0b0 53Q,#030 57Q,#040 60Q,#090 64Q,#160 71Q,#1a0 76Q,#170 81Q,#060 96Q,#010 105Q,#000 116Q"><i style="--s:#320,#2e0 3Q,#270 6Q,#0f0 13Q,#080 16Q,#060 19Q,#090 21Q,#0f0 23Q,#1c0 26Q,#370 31Q,#400 33Q,#450 35Q,#450 38Q,#400 40Q,#330 43Q,#140 49Q,#080 52Q,#010 56Q,#010 59Q,#080 63Q,#160 70Q,#1b0 75Q,#190 80Q,#0e0 90Q,#040 100Q,#000 111Q,#000 116Q"><i style="--s:#380,#350 3Q,#2e0 6Q,#170 13Q,#110 16Q,#100 19Q,#140 21Q,#1e0 24Q,#390 30Q,#3f0 32Q,#430 34Q,#410 37Q,#3b0 39Q,#2e0 42Q,#150 47Q,#090 50Q,#020 53Q,#010 57Q,#060 61Q,#170 69Q,#1c0 74Q,#1c0 78Q,#170 84Q,#070 96Q,#020 104Q,#000 116Q"><i style="--s:#410,#3c0 4Q,#310 8Q,#230 13Q,#1f0 16Q,#210 20Q,#290 23Q,#3e0 29Q,#420 31Q,#430 33Q,#410 35Q,#340 39Q,#130 46Q,#080 49Q,#030 52Q,#030 56Q,#090 60Q,#190 68Q,#1e0 72Q,#1f0 77Q,#1b0 82Q,#080 96Q,#020 104Q,#000 116Q"><i style="--s:#4c0,#480 4Q,#3a0 10Q,#320 14Q,#300 17Q,#350 21Q,#450 28Q,#470 31Q,#450 33Q,#380 37Q,#170 44Q,#0d0 47Q,#070 50Q,#060 53Q,#0c0 58Q,#1e0 67Q,#230 71Q,#230 76Q,#1e0 81Q,#090 95Q,#030 102Q,#000 113Q,#010 116Q"><i style="--s:#5a0,#570 4Q,#470 13Q,#450 16Q,#490 21Q,#500 26Q,#4f0 29Q,#4a0 32Q,#3f0 35Q,#1e0 42Q,#130 45Q,#0d0 48Q,#0c0 51Q,#120 56Q,#230 65Q,#280 69Q,#280 74Q,#230 79Q,#0a0 94Q,#030 101Q,#010 112Q,#010 116Q"><i style="--s:#6a0,#670 5Q,#5d0 13Q,#5c0 17Q,#5f0 24Q,#5d0 27Q,#560 30Q,#4a0 33Q,#280 40Q,#1d0 43Q,#160 46Q,#140 49Q,#180 53Q,#2a0 63Q,#2e0 67Q,#2e0 71Q,#280 77Q,#0c0 92Q,#040 99Q,#010 108Q,#010 116Q"><i style="--s:#7c0,#780 7Q,#740 14Q,#720 22Q,#6f0 25Q,#660 28Q,#5a0 31Q,#320 39Q,#270 42Q,#210 45Q,#200 48Q,#230 52Q,#330 62Q,#360 66Q,#340 70Q,#2c0 76Q,#100 89Q,#060 96Q,#020 103Q,#010 116Q"><i style="--s:#900,#890 20Q,#840 23Q,#7c0 26Q,#6f0 29Q,#450 37Q,#390 40Q,#310 43Q,#2e0 46Q,#300 50Q,#3c0 60Q,#3d0 65Q,#3a0 69Q,#300 75Q,#130 87Q,#080 94Q,#020 101Q,#010 115Q,#010 116Q"><i style="--s:#a40,#a30 16Q,#9d0 21Q,#950 24Q,#880 27Q,#5d0 35Q,#4c0 39Q,#440 42Q,#400 45Q,#400 49Q,#460 60Q,#440 65Q,#3c0 70Q,#260 79Q,#140 86Q,#080 93Q,#030 99Q,#010 111Q,#010 116Q"><i style="--s:#b90,#ba0 14Q,#b60 19Q,#af0 22Q,#a40 25Q,#900 29Q,#700 35Q,#600 39Q,#580 42Q,#520 46Q,#4e0 60Q,#480 65Q,#3b0 71Q,#170 84Q,#0b0 90Q,#030 97Q,#010 106Q,#010 116Q"><i style="--s:#cc0,#cf0 14Q,#ca0 19Q,#c30 22Q,#b80 25Q,#a00 30Q,#870 35Q,#740 40Q,#6a0 44Q,#600 50Q,#530 60Q,#470 66Q,#2e0 75Q,#180 83Q,#0b0 89Q,#030 96Q,#010 104Q,#010 116Q"><i style="--s:#dd0,#e10 14Q,#dc0 19Q,#d50 22Q,#c70 26Q,#960 37Q,#840 42Q,#730 48Q,#4d0 64Q,#180 82Q,#0b0 88Q,#030 95Q,#000 103Q,#010 116Q"><i style="--s:#ea0,#ef0 14Q,#ec0 19Q,#e30 23Q,#d50 27Q,#930 43Q,#730 52Q,#1f0 79Q,#100 85Q,#070 90Q,#010 97Q,#000 108Q,#010 116Q"><i style="--s:#f40,#f80 9Q,#fa0 15Q,#f50 20Q,#ed0 24Q,#dc0 29Q,#b70 38Q,#7d0 51Q,#5a0 60Q,#290 75Q,#150 82Q,#090 88Q,#020 95Q,#000 103Q,#010 116Q"><i style="--s:#f90,#fd0 9Q,#ff0 15Q,#fb0 20Q,#f40 24Q,#e40 29Q,#cd0 35Q,#770 53Q,#570 61Q,#340 71Q,#1a0 80Q,#0c0 86Q,#030 93Q,#000 100Q,#010 116Q"></i></i></i></i></i></i></i></i></i></i></i></i></i></i></i></i></i></i></i></i></i></i></i></i></i></i></i></i></i></i></i></i></i></i></i></i></i></i></i></i></i></i></i></i></i></i></i></i></i></i></i></i></i></i></i></i></i></i></i></i></i></i></i></i></i></i></i></i></i></i></i></i></i></i></i></i></i></i></i></i></i></i></i></i></i></i></i></i></i></i></i></i></i></i></i></i></i></i></i></i></i></i></i></i></i></i></i></i></i></i></div><div class="m P v" style="left:1312px;top:1241px"><i style="--s:#fb0,#d70 2Q,#cd0 3Q,#c00 5Q,#af0 10Q,#790 30Q,#6d0 33Q,#660 34Q,#5a0 35Q,#070 38Q,#000 39Q,#ff0 0,#fb0 0,#ef0 41Q,#de0 47Q,#bf0 62Q,#b70 68Q,#b70 70Q,#bb0 71Q,#c60 72Q,#ff0 74Q,#000 0,#050 0,#130 75Q,#170 76Q,#170 79Q,#000 97Q,#ff0 0,#f80 102Q,#f70 107Q,#fe0 110Q,#ff0 0,#000 0,#060 111Q,#100 112Q,#2a0 114Q,#340 115Q,#3b0 116Q"><i style="--s:#de0,#c20 2Q,#ba0 4Q,#8d0 23Q,#740 33Q,#710 34Q,#6a0 35Q,#000 37Q,#ff0 0,#fc0 0,#f10 38Q,#e70 41Q,#c90 56Q,#be0 64Q,#be0 67Q,#c10 69Q,#c60 70Q,#ce0 71Q,#f80 74Q,#ff0 75Q,#000 0,#030 0,#080 76Q,#0c0 78Q,#0c0 83Q,#000 95Q,#ff0 0,#f80 102Q,#f90 106Q,#fc0 108Q,#ff0 0,#000 0,#0d0 111Q,#290 114Q,#360 116Q"><i style="--s:#8b0,#a90 2Q,#ad0 3Q,#ad0 6Q,#910 21Q,#800 31Q,#800 33Q,#830 34Q,#950 35Q,#d60 37Q,#de0 38Q,#e00 40Q,#d10 50Q,#c20 61Q,#c20 65Q,#c70 68Q,#d10 70Q,#f40 74Q,#fe0 76Q,#ff0 0,#000 0,#050 79Q,#040 85Q,#000 91Q,#ff0 0,#f80 101Q,#fa0 105Q,#ff0 107Q,#000 0,#020 108Q,#140 111Q,#290 114Q,#320 116Q"><i style="--s:#810,#9a0 2Q,#a00 3Q,#a50 5Q,#a30 9Q,#870 28Q,#870 31Q,#8a0 32Q,#8f0 33Q,#990 34Q,#ab0 35Q,#cb0 37Q,#d20 38Q,#d70 40Q,#d50 44Q,#c40 59Q,#c40 64Q,#ca0 67Q,#d90 70Q,#f10 74Q,#fb0 77Q,#fe0 81Q,#f80 100Q,#fb0 104Q,#ff0 106Q,#000 0,#040 107Q,#280 114Q,#2f0 116Q"><i style="--s:#800,#910 2Q,#9b0 4Q,#9f0 7Q,#9b0 13Q,#8c0 26Q,#8c0 29Q,#910 31Q,#960 32Q,#9e0 33Q,#b40 35Q,#c60 37Q,#ce0 39Q,#d10 42Q,#c40 59Q,#c70 64Q,#cf0 67Q,#ef0 74Q,#f70 78Q,#f90 85Q,#f60 98Q,#fc0 103Q,#ff0 104Q,#000 0,#050 106Q,#240 113Q,#2d0 116Q"><i style="--s:#800,#910 3Q,#980 6Q,#9a0 10Q,#8f0 25Q,#920 28Q,#970 30Q,#a20 32Q,#b80 35Q,#c60 38Q,#ca0 41Q,#c80 48Q,#c30 58Q,#c80 63Q,#d40 67Q,#e70 72Q,#f10 77Q,#f40 84Q,#f40 97Q,#fb0 102Q,#ff0 103Q,#000 0,#0a0 106Q,#220 112Q,#2a0 116Q"><i style="--s:#800,#8f0 4Q,#960 8Q,#940 16Q,#930 24Q,#970 27Q,#a10 30Q,#ba0 35Q,#c40 39Q,#c50 45Q,#c20 57Q,#c70 62Q,#d70 67Q,#e70 72Q,#ee0 78Q,#f00 95Q,#f80 100Q,#ff0 102Q,#000 0,#070 104Q,#1e0 110Q,#280 115Q,#290 116Q"><i style="--s:#800,#8d0 5Q,#930 10Q,#950 22Q,#9c0 26Q,#b90 34Q,#c10 39Q,#c00 48Q,#bf0 57Q,#c50 61Q,#e20 70Q,#e90 76Q,#ea0 93Q,#f00 97Q,#fe0 101Q,#ff0 0,#000 0,#150 106Q,#220 111Q,#270 116Q"><i style="--s:#800,#8d0 7Q,#960 20Q,#a20 25Q,#b50 31Q,#bd0 37Q,#bc0 46Q,#bb0 56Q,#c10 60Q,#df0 69Q,#e50 75Q,#e30 90Q,#e90 95Q,#f30 98Q,#ff0 100Q,#000 0,#140 104Q,#1d0 107Q,#250 113Q,#250 116Q"><i style="--s:#800,#8e0 12Q,#9a0 19Q,#b50 28Q,#bb0 33Q,#ba0 43Q,#b60 53Q,#bb0 59Q,#c80 63Q,#d80 67Q,#df0 71Q,#df0 79Q,#db0 89Q,#e20 94Q,#e90 96Q,#f60 98Q,#ff0 99Q,#000 0,#0e0 101Q,#180 103Q,#200 106Q,#240 113Q,#240 116Q"><i style="--s:#7f0,#8c0 11Q,#990 16Q,#b30 23Q,#bb0 27Q,#bd0 33Q,#b10 53Q,#b40 58Q,#bb0 61Q,#d30 67Q,#d90 70Q,#d90 77Q,#d10 88Q,#d50 93Q,#df0 95Q,#e70 96Q,#ff0 98Q,#000 0,#0d0 99Q,#160 100Q,#1f0 102Q,#250 106Q,#230 116Q"><i style="--s:#7f0,#830 7Q,#8a0 10Q,#990 13Q,#ad0 16Q,#bd0 20Q,#c10 24Q,#be0 32Q,#ac0 53Q,#ae0 59Q,#b60 62Q,#ca0 67Q,#d10 70Q,#d00 76Q,#c00 90Q,#c30 94Q,#cd0 95Q,#ea0 96Q,#ff0 0,#000 0,#190 97Q,#260 98Q,#290 99Q,#2a0 103Q,#220 116Q"><i style="--s:#7f0,#750 5Q,#760 7Q,#7f0 8Q,#a70 9Q,#cc0 10Q,#d40 11Q,#d60 14Q,#a80 52Q,#a60 59Q,#ad0 63Q,#bf0 69Q,#c10 74Q,#b70 82Q,#aa0 88Q,#9a0 92Q,#910 93Q,#840 94Q,#720 95Q,#5e0 96Q,#4f0 97Q,#440 98Q,#390 100Q,#2f0 104Q,#210 116Q"><i style="--s:#000,#060 4Q,#040 7Q,#000 8Q,#ff0 0,#f70 11Q,#d90 20Q,#c70 28Q,#a70 50Q,#9f0 59Q,#a10 64Q,#ab0 71Q,#a80 77Q,#9d0 84Q,#910 88Q,#7e0 92Q,#650 95Q,#4c0 98Q,#3c0 101Q,#300 105Q,#220 114Q,#200 116Q"><i style="--s:#000,#010 6Q,#000 7Q,#ff0 0,#f90 11Q,#cd0 26Q,#b50 39Q,#990 59Q,#960 66Q,#960 75Q,#8e0 82Q,#800 88Q,#6b0 93Q,#440 100Q,#350 104Q,#250 111Q,#1f0 116Q"><i style="--s:#000,#000 0,#ff0 0,#fd0 7Q,#f30 13Q,#c80 29Q,#ac0 44Q,#910 62Q,#850 79Q,#7a0 86Q,#680 92Q,#390 103Q,#270 110Q,#1e0 116Q"><i style="--s:#000,#000 0,#ff0 0,#fb0 8Q,#ee0 15Q,#c20 32Q,#9e0 51Q,#8a0 65Q,#7a0 81Q,#6a0 89Q,#510 97Q,#340 105Q,#220 113Q,#1d0 116Q"><i style="--s:#000,#000 0,#ff0 0,#f80 9Q,#e90 17Q,#bb0 35Q,#950 56Q,#7d0 74Q,#6b0 86Q,#550 95Q,#2f0 107Q,#1c0 116Q"><i style="--s:#000,#000 0,#ff0 0,#f50 10Q,#e10 20Q,#b10 40Q,#8e0 59Q,#660 86Q,#4c0 97Q,#260 111Q,#1b0 116Q"><i style="--s:#000,#000 0,#ff0 0,#f10 12Q,#d70 24Q,#a80 44Q,#870 63Q,#5b0 89Q,#3d0 102Q,#1d0 115Q,#1b0 116Q"><i style="--s:#000,#000 0,#ff0 0,#ec0 14Q,#ce0 28Q,#a30 46Q,#550 90Q,#380 104Q,#1a0 116Q"><i style="--s:#000,#000 0,#ff0 0,#e60 17Q,#ca0 30Q,#a20 46Q,#700 74Q,#4b0 94Q,#350 105Q,#190 116Q"><i style="--s:#000,#000 0,#ff0 0,#dd0 22Q,#c40 33Q,#9f0 47Q,#760 70Q,#540 86Q,#370 104Q,#180 116Q"><i style="--s:#ff0,#da0 24Q,#c50 33Q,#a00 46Q,#890 59Q,#740 70Q,#540 84Q,#350 105Q,#200 113Q,#170 116Q"><i style="--s:#ff0,#d90 25Q,#c60 33Q,#9f0 46Q,#8b0 57Q,#770 68Q,#530 82Q,#440 92Q,#370 104Q,#270 111Q,#160 116Q"><i style="--s:#ff0,#db0 25Q,#cb0 32Q,#9e0 46Q,#8b0 56Q,#770 67Q,#500 81Q,#450 88Q,#380 104Q,#2b0 110Q,#150 116Q"><i style="--s:#ff0,#e10 23Q,#cf0 31Q,#9c0 46Q,#8a0 55Q,#770 66Q,#5f0 74Q,#4c0 80Q,#420 86Q,#380 104Q,#2c0 110Q,#140 116Q"><i style="--s:#000,#000 0,#ff0 0,#fa0 7Q,#e10 24Q,#d10 31Q,#b00 40Q,#9b0 46Q,#880 55Q,#740 66Q,#600 72Q,#470 79Q,#3e0 84Q,#3b0 93Q,#390 103Q,#320 108Q,#210 113Q,#130 116Q"><i style="--s:#820,#580 2Q,#240 4Q,#170 5Q,#100 6Q,#060 8Q,#000 11Q,#ff0 0,#f70 14Q,#db0 28Q,#c80 34Q,#9f0 44Q,#8f0 50Q,#730 65Q,#620 70Q,#440 77Q,#3a0 81Q,#360 86Q,#3b0 102Q,#360 107Q,#2b0 111Q,#120 116Q"><i style="--s:#800,#6f0 3Q,#680 4Q,#5d0 5Q,#4e0 6Q,#2a0 8Q,#1d0 9Q,#140 10Q,#080 12Q,#000 14Q,#ff0 0,#f70 17Q,#da0 29Q,#c50 35Q,#9e0 44Q,#8c0 50Q,#710 64Q,#640 68Q,#3b0 76Q,#320 79Q,#2e0 83Q,#320 90Q,#3b0 100Q,#3a0 105Q,#300 110Q,#220 113Q,#110 116Q"><i style="--s:#800,#6d0 4Q,#5f0 6Q,#550 7Q,#3b0 9Q,#220 11Q,#110 13Q,#020 16Q,#000 17Q,#ff0 0,#d50 31Q,#b70 38Q,#9c0 44Q,#890 50Q,#6b0 64Q,#600 67Q,#4f0 70Q,#2f0 75Q,#260 78Q,#220 82Q,#270 87Q,#3b0 98Q,#3d0 103Q,#3a0 107Q,#2d0 111Q,#1c0 114Q,#0f0 116Q"><i style="--s:#800,#690 5Q,#5c0 7Q,#490 9Q,#280 12Q,#170 14Q,#060 17Q,#000 19Q,#ff0 0,#e40 27Q,#ce0 33Q,#990 44Q,#860 50Q,#680 63Q,#5b0 66Q,#480 69Q,#300 72Q,#1c0 76Q,#160 79Q,#160 83Q,#1d0 87Q,#380 96Q,#3f0 101Q,#3f0 105Q,#3a0 108Q,#290 112Q,#0d0 116Q"><i style="--s:#800,#640 6Q,#4f0 9Q,#200 14Q,#0c0 17Q,#000 20Q,#ff0 0,#f00 24Q,#d30 32Q,#970 44Q,#830 50Q,#640 62Q,#570 65Q,#410 68Q,#270 71Q,#150 74Q,#0d0 77Q,#090 81Q,#0c0 85Q,#140 88Q,#360 95Q,#3f0 98Q,#430 102Q,#400 106Q,#350 110Q,#230 113Q,#0b0 116Q"><i style="--s:#800,#640 6Q,#510 9Q,#1f0 15Q,#070 19Q,#000 21Q,#ff0 0,#ee0 25Q,#d30 32Q,#950 44Q,#7f0 50Q,#600 61Q,#520 64Q,#3b0 67Q,#210 70Q,#0b0 74Q,#010 78Q,#000 80Q,#ff0 0,#fd0 83Q,#ff0 85Q,#000 0,#010 86Q,#060 88Q,#110 90Q,#330 94Q,#3e0 96Q,#460 99Q,#470 103Q,#420 107Q,#320 111Q,#230 113Q,#090 116Q"><i style="--s:#800,#640 6Q,#4a0 10Q,#1c0 16Q,#010 21Q,#000 0,#ff0 0,#d30 32Q,#920 44Q,#7c0 50Q,#5d0 60Q,#4f0 63Q,#380 66Q,#1e0 69Q,#0b0 72Q,#000 76Q,#ff0 0,#fa0 77Q,#f30 83Q,#f30 87Q,#f80 89Q,#fd0 90Q,#ff0 0,#000 0,#160 92Q,#380 94Q,#420 95Q,#470 96Q,#4c0 98Q,#4c0 102Q,#470 106Q,#3a0 110Q,#2d0 112Q,#070 116Q"><i style="--s:#800,#5e0 7Q,#3c0 12Q,#190 17Q,#000 22Q,#ff0 0,#fa0 23Q,#d30 32Q,#940 43Q,#7f0 48Q,#5b0 59Q,#4c0 62Q,#370 65Q,#160 69Q,#050 72Q,#000 74Q,#ff0 0,#f40 77Q,#e70 85Q,#e40 90Q,#ee0 92Q,#ff0 0,#000 0,#1b0 93Q,#540 94Q,#580 95Q,#550 100Q,#4b0 106Q,#3c0 110Q,#2e0 112Q,#040 116Q"><i style="--s:#800,#5d0 7Q,#360 13Q,#0f0 19Q,#000 22Q,#ff0 0,#ee0 26Q,#cd0 33Q,#910 43Q,#7c0 48Q,#550 59Q,#450 62Q,#270 66Q,#110 69Q,#010 72Q,#000 0,#ff0 0,#ed0 78Q,#d90 87Q,#d20 89Q,#cd0 90Q,#b50 92Q,#9e0 93Q,#850 94Q,#740 95Q,#6c0 96Q,#620 98Q,#4c0 107Q,#3f0 110Q,#2f0 112Q,#180 114Q,#010 116Q"><i style="--s:#800,#560 8Q,#110 19Q,#000 23Q,#ff0 0,#e50 28Q,#c60 34Q,#8e0 43Q,#780 48Q,#4f0 59Q,#380 63Q,#0d0 69Q,#000 72Q,#ff0 0,#f40 74Q,#de0 82Q,#cf0 87Q,#c50 89Q,#be0 90Q,#aa0 92Q,#820 95Q,#790 96Q,#6c0 98Q,#5d0 102Q,#4b0 108Q,#3a0 111Q,#310 112Q,#250 113Q,#090 115Q,#000 116Q,#ff0 0,#fc0 0"><i style="--s:#800,#550 8Q,#110 19Q,#000 23Q,#ff0 0,#d00 32Q,#8b0 43Q,#750 48Q,#4a0 59Q,#330 63Q,#090 69Q,#000 71Q,#ff0 0,#f00 74Q,#ca0 86Q,#bb0 89Q,#9a0 93Q,#7f0 96Q,#6e0 99Q,#4f0 108Q,#3d0 111Q,#320 112Q,#250 113Q,#050 115Q,#000 0,#ff0 0,#f80 116Q"><i style="--s:#800,#4e0 9Q,#120 19Q,#000 22Q,#ff0 0,#cf0 32Q,#880 43Q,#6d0 49Q,#450 59Q,#2e0 63Q,#060 69Q,#000 70Q,#ff0 0,#ed0 74Q,#c30 86Q,#b30 89Q,#7c0 97Q,#6a0 101Q,#520 108Q,#400 111Q,#350 112Q,#250 113Q,#010 115Q,#000 0,#ff0 0,#f30 116Q"><i style="--s:#800,#400 11Q,#0c0 20Q,#000 22Q,#ff0 0,#d30 31Q,#9e0 39Q,#800 44Q,#620 51Q,#410 59Q,#240 64Q,#000 70Q,#ff0 0,#fd0 0,#e10 76Q,#bb0 86Q,#9a0 92Q,#7e0 97Q,#690 102Q,#550 108Q,#430 111Q,#370 112Q,#250 113Q,#0e0 114Q,#000 115Q,#ff0 0,#fa0 0,#ee0 116Q"><i style="--s:#800,#110 19Q,#000 22Q,#ff0 0,#d70 30Q,#b70 35Q,#870 42Q,#6e0 47Q,#3d0 59Q,#210 64Q,#000 69Q,#ff0 0,#f40 71Q,#d50 78Q,#b00 87Q,#7a0 98Q,#4f0 110Q,#470 111Q,#3b0 112Q,#250 113Q,#090 114Q,#000 0,#ff0 0,#f30 115Q,#e70 116Q"><i style="--s:#800,#210 16Q,#000 22Q,#ff0 0,#d50 30Q,#a50 37Q,#840 42Q,#6a0 47Q,#350 60Q,#180 65Q,#000 69Q,#ff0 0,#ec0 72Q,#c70 80Q,#7a0 98Q,#530 110Q,#4c0 111Q,#400 112Q,#250 113Q,#000 114Q,#ff0 0,#fe0 0,#e90 115Q,#e00 116Q"><i style="--s:#7f0,#2a0 14Q,#000 22Q,#ff0 0,#da0 29Q,#b80 34Q,#860 41Q,#6b0 46Q,#320 60Q,#160 65Q,#000 69Q,#ff0 0,#dc0 74Q,#bc0 81Q,#800 96Q,#650 105Q,#530 111Q,#490 112Q,#280 113Q,#000 114Q,#ff0 0,#eb0 0,#dd0 115Q,#d80 116Q"><i style="--s:#7f0,#3a0 11Q,#000 22Q,#ff0 0,#d80 29Q,#b50 34Q,#820 41Q,#670 46Q,#2a0 61Q,#0e0 66Q,#000 68Q,#ff0 0,#d70 74Q,#bd0 79Q,#950 89Q,#730 100Q,#5d0 110Q,#5e0 112Q,#7f0 113Q,#cf0 114Q,#cf0 116Q"><i style="--s:#7f0,#440 9Q,#0d0 19Q,#000 21Q,#ff0 0,#dc0 28Q,#b90 33Q,#840 40Q,#6d0 44Q,#4f0 51Q,#280 61Q,#130 65Q,#000 68Q,#ff0 0,#f50 69Q,#d00 74Q,#b90 78Q,#a10 84Q,#7f0 95Q,#6a0 104Q,#630 110Q,#670 111Q,#750 112Q,#970 113Q,#bc0 114Q,#c50 115Q,#c70 116Q"><i style="--s:#7f0,#480 8Q,#1b0 16Q,#000 21Q,#ff0 0,#df0 27Q,#bd0 32Q,#860 39Q,#6e0 43Q,#530 49Q,#260 61Q,#110 65Q,#000 67Q,#ff0 0,#fa0 68Q,#c70 74Q,#b50 77Q,#a00 82Q,#810 93Q,#6c0 103Q,#670 107Q,#6a0 110Q,#710 111Q,#820 112Q,#b20 114Q,#bc0 115Q,#c00 116Q"><i style="--s:#7f0,#4d0 7Q,#240 14Q,#000 21Q,#ff0 0,#e30 26Q,#c90 30Q,#810 39Q,#690 43Q,#4f0 49Q,#200 62Q,#100 65Q,#010 67Q,#000 0,#ff0 0,#cc0 72Q,#b50 75Q,#a60 78Q,#920 84Q,#750 97Q,#6a0 105Q,#6a0 108Q,#710 110Q,#7b0 111Q,#8a0 112Q,#9d0 113Q,#ac0 114Q,#b50 115Q,#b90 116Q"><i style="--s:#7f0,#520 6Q,#2d0 12Q,#000 20Q,#ff0 0,#e10 26Q,#c50 30Q,#820 38Q,#6a0 42Q,#4f0 48Q,#1e0 62Q,#0f0 65Q,#000 67Q,#ff0 0,#fe0 0,#e50 69Q,#c90 71Q,#ae0 74Q,#9f0 77Q,#8e0 83Q,#740 96Q,#6b0 104Q,#6c0 107Q,#780 110Q,#820 111Q,#9e0 113Q,#a80 114Q,#af0 115Q,#b40 116Q"><i style="--s:#7f0,#500 6Q,#2b0 12Q,#000 20Q,#ff0 0,#e40 25Q,#c90 29Q,#840 37Q,#6f0 40Q,#570 45Q,#340 55Q,#180 63Q,#0e0 65Q,#060 66Q,#000 67Q,#ff0 0,#fa0 0,#eb0 68Q,#d70 69Q,#c40 70Q,#b60 71Q,#a00 74Q,#920 78Q,#7d0 88Q,#6d0 100Q,#6c0 105Q,#6f0 107Q,#7f0 110Q,#930 112Q,#a50 114Q,#af0 116Q"><i style="--s:#7f0,#550 5Q,#340 10Q,#000 19Q,#ff0 0,#e10 25Q,#c40 29Q,#8d0 35Q,#6f0 39Q,#5a0 43Q,#400 50Q,#180 63Q,#0e0 65Q,#060 66Q,#000 0,#ff0 0,#f50 67Q,#d60 68Q,#b90 69Q,#a80 70Q,#9a0 72Q,#890 78Q,#730 92Q,#6b0 101Q,#6d0 105Q,#720 107Q,#840 110Q,#9d0 113Q,#a80 115Q,#ab0 116Q"><i style="--s:#7f0,#530 5Q,#320 10Q,#000 19Q,#ff0 0,#e40 24Q,#c80 28Q,#850 35Q,#690 39Q,#510 44Q,#360 52Q,#140 64Q,#100 65Q,#080 66Q,#000 0,#ff0 0,#cf0 67Q,#a50 68Q,#960 69Q,#880 74Q,#740 87Q,#6a0 98Q,#6b0 103Q,#720 106Q,#7b0 108Q,#9d0 113Q,#a70 116Q"><i style="--s:#7f0,#520 5Q,#360 9Q,#000 19Q,#ff0 0,#e00 24Q,#cb0 27Q,#ae0 30Q,#860 34Q,#680 38Q,#540 42Q,#3a0 49Q,#200 59Q,#190 63Q,#190 64Q,#1d0 65Q,#590 66Q,#7d0 67Q,#850 68Q,#6b0 90Q,#670 99Q,#6b0 103Q,#750 106Q,#980 112Q,#a20 115Q,#a40 116Q"><i style="--s:#7f0,#590 4Q,#3a0 8Q,#120 15Q,#000 18Q,#ff0 0,#e30 23Q,#cd0 26Q,#b00 29Q,#860 33Q,#670 37Q,#530 41Q,#390 48Q,#210 57Q,#1c0 61Q,#1c0 62Q,#1f0 63Q,#2a0 64Q,#540 65Q,#700 66Q,#790 67Q,#7c0 69Q,#650 90Q,#630 98Q,#690 102Q,#730 105Q,#950 111Q,#9e0 114Q,#a10 116Q"><i style="--s:#7f0,#580 4Q,#390 8Q,#0f0 15Q,#000 18Q,#ff0 0,#df0 23Q,#c70 26Q,#a70 29Q,#850 32Q,#6d0 35Q,#510 40Q,#370 47Q,#200 56Q,#1b0 60Q,#1d0 61Q,#210 62Q,#2f0 63Q,#520 64Q,#6a0 65Q,#720 66Q,#760 68Q,#600 89Q,#5f0 97Q,#650 101Q,#720 104Q,#930 110Q,#9b0 113Q,#9f0 116Q"><i style="--s:#7f0,#570 4Q,#380 8Q,#070 16Q,#000 17Q,#ff0 0,#e10 22Q,#c90 25Q,#a70 28Q,#840 31Q,#6b0 34Q,#500 39Q,#360 46Q,#1e0 55Q,#1a0 59Q,#1b0 60Q,#210 61Q,#300 62Q,#4f0 63Q,#650 64Q,#6d0 65Q,#710 67Q,#660 77Q,#5a0 89Q,#590 96Q,#5e0 99Q,#690 102Q,#890 107Q,#970 111Q,#9d0 116Q"><i style="--s:#7f0,#570 4Q,#370 8Q,#040 16Q,#000 17Q,#ff0 0,#dc0 22Q,#c00 25Q,#830 30Q,#710 32Q,#5d0 35Q,#420 41Q,#280 49Q,#180 56Q,#190 59Q,#1e0 60Q,#2c0 61Q,#480 62Q,#600 63Q,#690 64Q,#6d0 66Q,#640 74Q,#540 87Q,#520 94Q,#570 98Q,#5f0 100Q,#6c0 102Q,#830 105Q,#8e0 107Q,#980 111Q,#9b0 116Q"><i style="--s:#7f0,#4e0 5Q,#2f0 9Q,#000 16Q,#ff0 0,#e50 20Q,#cb0 23Q,#b40 25Q,#8d0 28Q,#780 30Q,#620 33Q,#450 39Q,#290 47Q,#160 55Q,#150 58Q,#190 59Q,#250 60Q,#3e0 61Q,#590 62Q,#650 63Q,#680 64Q,#680 67Q,#4d0 86Q,#490 94Q,#4e0 97Q,#560 99Q,#5d0 100Q,#7c0 103Q,#8b0 105Q,#950 108Q,#990 115Q,#990 116Q"><i style="--s:#7f0,#4f0 5Q,#280 10Q,#000 16Q,#ff0 0,#e70 19Q,#cb0 22Q,#b20 24Q,#8b0 27Q,#770 29Q,#610 32Q,#440 38Q,#270 46Q,#150 53Q,#110 57Q,#140 58Q,#1d0 59Q,#310 60Q,#4e0 61Q,#5d0 62Q,#630 63Q,#650 65Q,#530 76Q,#420 88Q,#400 95Q,#440 97Q,#480 98Q,#500 99Q,#5d0 100Q,#7f0 102Q,#8a0 103Q,#940 105Q,#990 110Q,#980 116Q"><i style="--s:#7f0,#480 6Q,#120 13Q,#000 15Q,#ff0 0,#e00 19Q,#ca0 21Q,#880 26Q,#750 28Q,#600 31Q,#430 37Q,#260 45Q,#130 52Q,#0e0 56Q,#100 57Q,#160 58Q,#240 59Q,#510 61Q,#5b0 62Q,#5e0 63Q,#5d0 66Q,#3a0 86Q,#310 95Q,#320 97Q,#350 98Q,#400 99Q,#6b0 100Q,#8d0 101Q,#970 102Q,#9b0 104Q,#960 116Q"><i style="--s:#7f0,#220 11Q,#000 15Q,#ff0 0,#f60 16Q,#d60 19Q,#ba0 21Q,#900 24Q,#7c0 26Q,#650 29Q,#4b0 34Q,#280 43Q,#120 51Q,#0c0 55Q,#110 57Q,#1a0 58Q,#2b0 59Q,#3f0 60Q,#4d0 61Q,#540 62Q,#570 64Q,#4f0 69Q,#280 89Q,#1c0 95Q,#120 97Q,#070 98Q,#000 0,#ff0 0,#ec0 99Q,#c50 100Q,#b30 101Q,#ab0 102Q,#a10 105Q,#960 115Q,#950 116Q"><i style="--s:#800,#250 11Q,#090 14Q,#000 15Q,#ff0 0,#f10 16Q,#c40 19Q,#a40 21Q,#8b0 23Q,#790 25Q,#5f0 29Q,#420 35Q,#210 44Q,#0f0 51Q,#0c0 55Q,#0f0 56Q,#140 57Q,#1f0 58Q,#3c0 60Q,#450 61Q,#4a0 62Q,#4c0 64Q,#450 69Q,#120 92Q,#050 95Q,#000 96Q,#ff0 0,#fd0 0,#f40 97Q,#e80 98Q,#c90 100Q,#bc0 101Q,#b40 102Q,#a90 104Q,#9e0 108Q,#940 116Q"><i style="--s:#800,#3d0 9Q,#230 12Q,#0c0 14Q,#000 15Q,#ff0 0,#fb0 0,#e70 16Q,#d00 17Q,#a70 19Q,#990 20Q,#850 22Q,#700 25Q,#540 30Q,#320 38Q,#180 46Q,#0d0 51Q,#0e0 55Q,#120 56Q,#180 57Q,#360 60Q,#3c0 61Q,#400 63Q,#3d0 67Q,#0b0 89Q,#000 92Q,#ff0 0,#f80 94Q,#ec0 96Q,#d10 99Q,#bf0 101Q,#b10 103Q,#a40 106Q,#960 113Q,#920 116Q"><i style="--s:#800,#390 11Q,#2a0 13Q,#200 14Q,#000 15Q,#ff0 0,#f50 0,#bb0 16Q,#9d0 17Q,#790 22Q,#540 29Q,#2e0 38Q,#150 46Q,#0c0 51Q,#0c0 53Q,#150 56Q,#2e0 60Q,#340 62Q,#340 65Q,#220 74Q,#000 88Q,#ff0 0,#fd0 89Q,#eb0 94Q,#da0 97Q,#b80 102Q,#a90 105Q,#980 111Q,#910 116Q"><i style="--s:#7f0,#510 9Q,#4a0 11Q,#4a0 12Q,#4e0 13Q,#5c0 14Q,#6f0 15Q,#7b0 16Q,#800 17Q,#790 20Q,#3a0 34Q,#1a0 43Q,#0f0 48Q,#0c0 51Q,#130 55Q,#270 60Q,#2a0 63Q,#230 68Q,#000 83Q,#ff0 0,#f20 89Q,#dd0 95Q,#ae0 104Q,#9f0 108Q,#910 115Q,#900 116Q"><i style="--s:#7f0,#600 7Q,#580 10Q,#590 11Q,#5b0 12Q,#6f0 15Q,#740 16Q,#740 19Q,#660 23Q,#320 35Q,#180 43Q,#0e0 48Q,#0d0 51Q,#150 55Q,#200 59Q,#220 62Q,#190 68Q,#000 79Q,#ff0 0,#e60 90Q,#ce0 97Q,#a60 106Q,#960 112Q,#8f0 116Q"><i style="--s:#7f0,#650 7Q,#600 10Q,#630 12Q,#6e0 15Q,#700 17Q,#680 21Q,#240 38Q,#140 44Q,#0e0 48Q,#100 52Q,#1b0 58Q,#1a0 62Q,#0c0 70Q,#000 75Q,#ff0 0,#d90 92Q,#c10 99Q,#a30 107Q,#910 114Q,#8d0 116Q"><i style="--s:#7f0,#6a0 6Q,#650 9Q,#660 12Q,#6c0 16Q,#660 20Q,#500 26Q,#220 38Q,#120 44Q,#0f0 48Q,#180 58Q,#130 63Q,#000 72Q,#ff0 0,#cd0 94Q,#b00 103Q,#940 112Q,#8c0 116Q"><i style="--s:#7f0,#6c0 6Q,#670 9Q,#690 16Q,#5e0 21Q,#1f0 38Q,#130 43Q,#0f0 47Q,#150 57Q,#0d0 63Q,#000 69Q,#ff0 0,#be0 98Q,#910 113Q,#8b0 116Q"><i style="--s:#7f0,#6d0 6Q,#680 10Q,#660 16Q,#570 22Q,#200 37Q,#140 42Q,#100 46Q,#120 56Q,#0a0 62Q,#000 66Q,#ff0 0,#d10 87Q,#b30 101Q,#8b0 115Q,#890 116Q"><i style="--s:#7f0,#6c0 7Q,#610 17Q,#4d0 24Q,#1e0 37Q,#130 42Q,#100 47Q,#100 55Q,#050 62Q,#000 64Q,#ff0 0,#d10 84Q,#ac0 103Q,#880 116Q"><i style="--s:#7f0,#6c0 7Q,#5e0 17Q,#4a0 24Q,#1d0 37Q,#130 42Q,#0d0 55Q,#000 62Q,#ff0 0,#fd0 63Q,#ce0 82Q,#a80 104Q,#860 116Q"><i style="--s:#7f0,#6c0 7Q,#5b0 17Q,#430 25Q,#210 35Q,#130 41Q,#0c0 53Q,#000 60Q,#ff0 0,#fb0 62Q,#ca0 81Q,#b80 92Q,#a60 104Q,#940 111Q,#840 116Q"><i style="--s:#7f0,#6a0 8Q,#530 19Q,#2f0 30Q,#180 38Q,#100 44Q,#0a0 52Q,#000 57Q,#ff0 0,#f60 62Q,#c60 80Q,#b60 89Q,#a50 104Q,#970 110Q,#820 116Q"><i style="--s:#7f0,#690 8Q,#510 19Q,#1e0 35Q,#110 42Q,#060 52Q,#000 55Q,#ff0 0,#f10 62Q,#c10 79Q,#b30 87Q,#a40 104Q,#960 110Q,#800 116Q"><i style="--s:#7f0,#680 8Q,#4b0 20Q,#1f0 34Q,#110 41Q,#020 52Q,#000 53Q,#ff0 0,#e90 63Q,#bb0 78Q,#ae0 85Q,#a70 96Q,#a30 104Q,#9c0 108Q,#7e0 116Q"><i style="--s:#7f0,#640 9Q,#460 21Q,#1d0 34Q,#0d0 43Q,#000 50Q,#ff0 0,#f70 55Q,#e00 64Q,#b60 77Q,#aa0 83Q,#a30 92Q,#a20 104Q,#9c0 108Q,#890 113Q,#7b0 116Q"><i style="--s:#7f0,#630 9Q,#3d0 23Q,#1c0 34Q,#000 48Q,#ff0 0,#ed0 57Q,#d60 65Q,#af0 76Q,#a30 82Q,#9e0 89Q,#a10 104Q,#9c0 108Q,#8c0 112Q,#780 116Q"><i style="--s:#7f0,#620 9Q,#320 26Q,#130 37Q,#000 46Q,#ff0 0,#e50 58Q,#ce0 65Q,#a80 75Q,#9d0 80Q,#970 86Q,#9a0 95Q,#a10 103Q,#9e0 107Q,#910 111Q,#750 116Q"><i style="--s:#7f0,#600 9Q,#0f0 38Q,#000 44Q,#ff0 0,#de0 58Q,#ca0 64Q,#a10 74Q,#940 79Q,#8f0 85Q,#930 93Q,#a00 103Q,#a00 106Q,#960 110Q,#840 113Q,#720 116Q"><i style="--s:#7f0,#620 8Q,#010 42Q,#000 43Q,#ff0 0,#d80 58Q,#c10 64Q,#9d0 72Q,#8c0 78Q,#860 84Q,#880 90Q,#970 98Q,#a00 103Q,#a10 106Q,#9e0 108Q,#900 111Q,#740 115Q,#6e0 116Q"><i style="--s:#7f0,#600 8Q,#000 41Q,#ff0 0,#f40 45Q,#d00 58Q,#bc0 63Q,#960 71Q,#840 77Q,#7d0 83Q,#7e0 89Q,#8a0 95Q,#a00 102Q,#a40 105Q,#a00 108Q,#910 111Q,#700 115Q,#6a0 116Q"><i style="--s:#7f0,#5f0 8Q,#140 33Q,#000 40Q,#ff0 0,#ec0 46Q,#cc0 57Q,#b80 62Q,#8f0 70Q,#7c0 76Q,#740 82Q,#730 88Q,#7b0 93Q,#860 96Q,#9e0 101Q,#a60 104Q,#a60 107Q,#990 110Q,#870 112Q,#730 114Q,#650 116Q"><i style="--s:#7f0,#5e0 8Q,#180 31Q,#000 38Q,#ff0 0,#ee0 43Q,#c80 56Q,#b30 61Q,#890 69Q,#750 75Q,#6c0 81Q,#690 88Q,#6f0 93Q,#760 95Q,#830 97Q,#9c0 100Q,#a80 102Q,#ad0 104Q,#ae0 106Q,#a90 108Q,#9d0 110Q,#930 111Q,#6e0 114Q,#660 115Q,#610 116Q"><i style="--s:#7f0,#5d0 8Q,#1b0 29Q,#000 37Q,#ff0 0,#ec0 42Q,#c10 56Q,#aa0 61Q,#840 68Q,#6f0 74Q,#630 81Q,#5d0 89Q,#610 94Q,#6b0 96Q,#740 97Q,#840 98Q,#980 99Q,#a70 100Q,#b00 101Q,#b70 103Q,#b70 106Q,#b20 108Q,#a30 110Q,#960 111Q,#730 113Q,#670 114Q,#600 115Q,#5b0 116Q"><i style="--s:#7f0,#600 7Q,#420 16Q,#1f0 27Q,#000 35Q,#ff0 0,#ec0 40Q,#bd0 55Q,#a60 60Q,#800 67Q,#6c0 72Q,#5c0 80Q,#480 96Q,#430 97Q,#2e0 98Q,#000 99Q,#ff0 0,#de0 0,#d10 100Q,#c90 103Q,#c10 107Q,#be0 108Q,#af0 110Q,#9c0 111Q,#6b0 113Q,#5f0 114Q,#590 115Q,#550 116Q"><i style="--s:#7f0,#5f0 7Q,#3e0 17Q,#1f0 26Q,#000 34Q,#ff0 0,#e90 39Q,#b60 55Q,#9e0 60Q,#770 67Q,#650 72Q,#520 81Q,#430 90Q,#370 94Q,#290 96Q,#1e0 97Q,#000 99Q,#ff0 0,#fd0 0,#ef0 100Q,#e60 101Q,#da0 103Q,#c20 110Q,#ac0 111Q,#810 112Q,#5d0 113Q,#550 114Q,#4f0 116Q"><i style="--s:#7f0,#5b0 8Q,#230 24Q,#000 32Q,#ff0 0,#ea0 37Q,#b60 53Q,#9b0 59Q,#730 66Q,#600 71Q,#4c0 80Q,#3a0 89Q,#2c0 93Q,#1a0 96Q,#000 99Q,#ff0 0,#f60 100Q,#e90 102Q,#dd0 105Q,#d60 110Q,#e10 111Q,#ff0 112Q,#000 0,#0d0 0,#460 113Q,#490 114Q,#490 116Q"><i style="--s:#7f0,#5b0 8Q,#240 23Q,#000 31Q,#ff0 0,#ee0 34Q,#cf0 43Q,#af0 53Q,#930 59Q,#6f0 65Q,#5e0 69Q,#490 77Q,#320 88Q,#210 93Q,#0a0 97Q,#000 99Q,#ff0 0,#f20 101Q,#e60 104Q,#e00 107Q,#e30 110Q,#f00 111Q,#ff0 112Q,#000 0,#0d0 0,#2f0 113Q,#3c0 114Q,#400 115Q,#420 116Q"><i style="--s:#7f0,#550 10Q,#290 21Q,#000 29Q,#ff0 0,#ef0 32Q,#d20 40Q,#ad0 52Q,#900 58Q,#670 65Q,#560 69Q,#410 77Q,#290 88Q,#130 94Q,#000 98Q,#ff0 0,#ef0 102Q,#e50 106Q,#e40 108Q,#ea0 110Q,#f50 111Q,#ff0 112Q,#000 0,#090 0,#210 113Q,#310 114Q,#380 115Q,#3c0 116Q"><i style="--s:#7f0,#3a0 17Q,#190 23Q,#000 27Q,#ff0 0,#f40 29Q,#de0 34Q,#aa0 51Q,#940 56Q,#5d0 65Q,#4d0 69Q,#360 78Q,#200 88Q,#010 97Q,#000 0,#ff0 0,#ec0 103Q,#e70 106Q,#e80 108Q,#ee0 110Q,#f70 111Q,#ff0 112Q,#000 0,#070 0,#270 114Q,#300 115Q,#350 116Q"><i style="--s:#7f0,#4a0 14Q,#2f0 19Q,#000 25Q,#ff0 0,#f90 26Q,#e40 30Q,#c90 38Q,#a70 50Q,#920 55Q,#7a0 59Q,#580 64Q,#470 68Q,#310 76Q,#140 89Q,#000 96Q,#ff0 0,#ee0 102Q,#e90 106Q,#ea0 108Q,#f10 110Q,#f90 111Q,#ff0 112Q,#000 0,#050 0,#200 114Q,#290 115Q,#2f0 116Q"><i style="--s:#800,#590 12Q,#4c0 15Q,#3f0 17Q,#220 20Q,#000 23Q,#ff0 0,#ff0 0,#ef0 25Q,#e00 28Q,#ca0 35Q,#a50 49Q,#960 53Q,#7f0 57Q,#520 63Q,#430 66Q,#330 71Q,#030 93Q,#000 94Q,#ff0 0,#ed0 102Q,#e90 106Q,#eb0 108Q,#f20 110Q,#f90 111Q,#ff0 112Q,#000 0,#040 0,#1b0 114Q,#230 115Q,#2a0 116Q"><i style="--s:#800,#610 13Q,#550 16Q,#4e0 17Q,#2d0 19Q,#000 21Q,#ff0 0,#f70 0,#eb0 22Q,#e40 23Q,#d80 26Q,#a00 49Q,#910 53Q,#770 57Q,#4a0 62Q,#390 65Q,#2a0 70Q,#000 92Q,#ff0 0,#ed0 101Q,#e90 106Q,#ec0 108Q,#f90 111Q,#ff0 112Q,#000 0,#0d0 113Q,#1e0 115Q,#240 116Q"><i style="--s:#7f0,#710 11Q,#700 14Q,#740 16Q,#7b0 17Q,#9f0 19Q,#b50 20Q,#c10 21Q,#c60 22Q,#c90 24Q,#c40 29Q,#a30 46Q,#960 51Q,#810 55Q,#780 56Q,#6d0 57Q,#470 60Q,#360 62Q,#290 65Q,#1b0 71Q,#000 88Q,#ff0 0,#eb0 101Q,#e90 106Q,#ec0 108Q,#f90 111Q,#ff0 112Q,#000 0,#1a0 115Q,#200 116Q"><i style="--s:#7f0,#7a0 9Q,#7e0 13Q,#840 15Q,#900 17Q,#af0 21Q,#b70 23Q,#bb0 26Q,#b70 32Q,#9a0 49Q,#920 52Q,#800 55Q,#710 56Q,#590 57Q,#400 58Q,#300 59Q,#270 60Q,#1e0 62Q,#120 68Q,#000 82Q,#ff0 0,#e90 100Q,#e80 105Q,#ec0 108Q,#f90 111Q,#ff0 112Q,#000 0,#160 115Q,#1c0 116Q"><i style="--s:#7f0,#800 9Q,#870 13Q,#960 17Q,#ab0 22Q,#b00 25Q,#b10 30Q,#9c0 50Q,#9c0 52Q,#9d0 53Q,#b70 55Q,#df0 56Q,#fd0 57Q,#ff0 0,#000 0,#050 58Q,#080 60Q,#010 71Q,#000 72Q,#ff0 0,#e60 100Q,#e70 105Q,#ec0 108Q,#ff0 112Q,#000 0,#010 0,#130 115Q,#180 116Q"><i style="--s:#7f0,#850 9Q,#8e0 14Q,#a40 22Q,#aa0 27Q,#a70 35Q,#a10 45Q,#a40 49Q,#ac0 51Q,#b30 52Q,#e20 56Q,#ea0 57Q,#f10 59Q,#f60 63Q,#f20 75Q,#e30 100Q,#e60 105Q,#ec0 108Q,#ff0 112Q,#ff0 0,#000 0,#150 116Q"><i style="--s:#7f0,#880 10Q,#a10 23Q,#a40 29Q,#a20 42Q,#a60 46Q,#b10 49Q,#d80 55Q,#e30 58Q,#e80 62Q,#e90 72Q,#e00 99Q,#e30 104Q,#e90 107Q,#ff0 112Q,#ff0 0,#000 0,#120 116Q"><i style="--s:#7f0,#8b0 11Q,#9d0 23Q,#a00 32Q,#a20 41Q,#aa0 45Q,#ba0 49Q,#cc0 53Q,#d90 58Q,#df0 64Q,#de0 81Q,#dc0 98Q,#e10 104Q,#ec0 108Q,#ff0 112Q,#000 0,#0c0 115Q,#0f0 116Q"><i style="--s:#7f0,#9a0 24Q,#a10 39Q,#ab0 44Q,#c80 53Q,#d30 60Q,#d70 71Q,#d60 96Q,#dc0 102Q,#e50 106Q,#ff0 112Q,#000 0,#0a0 115Q,#0d0 116Q"><i style="--s:#7f0,#960 23Q,#9f0 37Q,#aa0 43Q,#c10 52Q,#cb0 60Q,#ce0 76Q,#d00 95Q,#d70 101Q,#e10 105Q,#ff0 113Q,#000 0,#060 114Q,#0b0 116Q"><i style="--s:#7f0,#940 23Q,#9c0 35Q,#ac0 44Q,#bb0 52Q,#c40 62Q,#c90 93Q,#d00 99Q,#d90 103Q,#ff0 113Q,#000 0,#020 0,#090 116Q"><i style="--s:#7f0,#910 23Q,#9a0 35Q,#b40 52Q,#bc0 64Q,#c00 90Q,#c90 98Q,#d30 102Q,#fa0 111Q,#ff0 113Q,#000 0,#060 115Q,#080 116Q"><i style="--s:#800,#910 26Q,#9c0 38Q,#ad0 52Q,#b40 66Q,#b80 89Q,#c10 97Q,#cc0 101Q,#f80 110Q,#ff0 113Q,#000 0,#030 114Q,#060 116Q"><i style="--s:#800,#940 34Q,#a70 55Q,#ac0 74Q,#b00 90Q,#b90 97Q,#c30 100Q,#d30 103Q,#ec0 107Q,#fb0 111Q,#ff0 113Q,#000 0,#050 116Q"><i style="--s:#800,#910 35Q,#a00 57Q,#a60 89Q,#ae0 96Q,#b80 99Q,#c30 101Q,#e30 105Q,#ef0 107Q,#fc0 111Q,#ff0 113Q,#000 0,#040 116Q"><i style="--s:#800,#8f0 39Q,#980 63Q,#9c0 89Q,#a40 96Q,#ae0 99Q,#bd0 101Q,#de0 104Q,#ed0 106Q,#fb0 110Q,#ff0 114Q,#000 0,#030 116Q"><i style="--s:#800,#8f0 68Q,#920 92Q,#990 97Q,#a00 99Q,#a70 100Q,#b30 101Q,#d70 103Q,#e50 104Q,#ee0 105Q,#f70 107Q,#ff0 113Q,#000 0,#000 0,#020 116Q"><i style="--s:#800,#870 95Q,#8c0 99Q,#900 100Q,#9b0 101Q,#c30 102Q,#e60 103Q,#f40 104Q,#fb0 106Q,#ff0 115Q,#000 0,#000 116Q"></i></i></i></i></i></i></i></i></i></i></i></i></i></i></i></i></i></i></i></i></i></i></i></i></i></i></i></i></i></i></i></i></i></i></i></i></i></i></i></i></i></i></i></i></i></i></i></i></i></i></i></i></i></i></i></i></i></i></i></i></i></i></i></i></i></i></i></i></i></i></i></i></i></i></i></i></i></i></i></i></i></i></i></i></i></i></i></i></i></i></i></i></i></i></i></i></i></i></i></i></i></i></i></i></i></i></i></i></i></i></div><div class="m v" style="left:1616px;top:1241px"><div class="w" style="left:-6px;top:-1px"><i style="--s:#040,#050 26Q,#040 123Q"><i style="--s:#040,#040 31Q,#040 123Q"><i style="--s:#040,#040 123Q"><i style="--s:#040,#040 123Q"><i style="--s:#040,#040 123Q"><i style="--s:#040,#040 65Q,#040 123Q"><i style="--s:#040,#040 59Q,#040 123Q"><i style="--s:#040,#040 56Q,#040 123Q"><i style="--s:#040,#050 53Q,#040 123Q"><i style="--s:#040,#050 51Q,#040 123Q"><i style="--s:#040,#050 50Q,#040 123Q"><i style="--s:#040,#050 50Q,#040 123Q"><i style="--s:#040,#050 50Q,#040 123Q"><i style="--s:#050,#050 50Q,#040 123Q"><i style="--s:#050,#050 51Q,#040 123Q"><i style="--s:#050,#050 52Q,#040 123Q"><i style="--s:#050,#050 53Q,#040 123Q"><i style="--s:#050,#060 49Q,#040 123Q"><i style="--s:#050,#060 40Q,#040 123Q"><i style="--s:#050,#070 34Q,#040 123Q"><i style="--s:#050,#070 31Q,#040 123Q"><i style="--s:#050,#070 30Q,#040 123Q"><i style="--s:#050,#080 29Q,#060 70Q,#040 123Q"><i style="--s:#050,#080 29Q,#070 51Q,#050 86Q,#040 123Q"><i style="--s:#050,#070 16Q,#080 29Q,#080 48Q,#060 66Q,#040 123Q"><i style="--s:#050,#060 15Q,#090 28Q,#080 46Q,#070 61Q,#050 80Q,#040 123Q"><i style="--s:#050,#060 14Q,#0a0 27Q,#080 45Q,#080 59Q,#050 77Q,#040 123Q"><i style="--s:#060,#060 13Q,#0a0 27Q,#080 44Q,#080 58Q,#050 75Q,#040 123Q"><i style="--s:#070,#060 13Q,#0b0 27Q,#090 44Q,#090 57Q,#050 72Q,#040 123Q"><i style="--s:#080,#070 13Q,#0c0 26Q,#090 43Q,#090 56Q,#050 71Q,#040 123Q"><i style="--s:#0b0,#080 13Q,#0e0 26Q,#0a0 43Q,#0a0 55Q,#050 70Q,#040 123Q"><i style="--s:#0d0,#0a0 13Q,#0f0 26Q,#0b0 42Q,#0b0 53Q,#050 69Q,#040 123Q"><i style="--s:#110,#0c0 13Q,#110 26Q,#0b0 41Q,#0c0 53Q,#050 68Q,#040 123Q"><i style="--s:#150,#110 8Q,#0f0 14Q,#130 25Q,#100 32Q,#0c0 41Q,#0c0 53Q,#050 68Q,#040 90Q,#040 123Q"><i style="--s:#190,#150 7Q,#120 13Q,#150 25Q,#110 32Q,#0d0 40Q,#0d0 52Q,#060 67Q,#050 88Q,#040 123Q"><i style="--s:#1e0,#1b0 6Q,#160 13Q,#180 25Q,#130 32Q,#0e0 39Q,#0e0 52Q,#060 67Q,#050 87Q,#040 122Q,#040 123Q"><i style="--s:#230,#200 6Q,#1b0 13Q,#1b0 24Q,#160 30Q,#0f0 38Q,#0f0 45Q,#0f0 52Q,#070 67Q,#060 86Q,#040 110Q,#040 123Q"><i style="--s:#280,#250 6Q,#200 13Q,#1e0 24Q,#160 31Q,#100 38Q,#100 45Q,#100 52Q,#070 66Q,#060 87Q,#040 120Q,#040 123Q"><i style="--s:#2d0,#290 7Q,#250 14Q,#220 23Q,#1b0 29Q,#130 35Q,#100 41Q,#110 51Q,#070 67Q,#060 88Q,#040 123Q"><i style="--s:#320,#2e0 8Q,#270 22Q,#1e0 28Q,#150 34Q,#100 40Q,#120 51Q,#080 67Q,#050 93Q,#040 123Q"><i style="--s:#360,#2d0 20Q,#260 25Q,#170 33Q,#120 38Q,#120 44Q,#130 51Q,#080 67Q,#040 122Q,#040 123Q"><i style="--s:#390,#360 16Q,#2f0 22Q,#170 33Q,#120 38Q,#130 44Q,#130 51Q,#0c0 61Q,#080 68Q,#040 123Q"><i style="--s:#3c0,#3c0 14Q,#380 19Q,#300 23Q,#190 32Q,#130 37Q,#120 42Q,#140 50Q,#0f0 58Q,#080 67Q,#070 81Q,#040 122Q,#040 123Q"><i style="--s:#3e0,#420 13Q,#400 17Q,#360 22Q,#1c0 31Q,#150 35Q,#120 40Q,#150 50Q,#110 57Q,#090 66Q,#070 76Q,#060 99Q,#040 123Q"><i style="--s:#3f0,#420 6Q,#470 12Q,#460 15Q,#410 19Q,#350 23Q,#1e0 30Q,#160 34Q,#120 39Q,#160 49Q,#120 56Q,#080 66Q,#060 75Q,#060 95Q,#040 120Q,#040 123Q"><i style="--s:#3f0,#420 5Q,#4a0 11Q,#4b0 14Q,#480 17Q,#3e0 21Q,#210 29Q,#190 32Q,#140 35Q,#130 40Q,#160 49Q,#120 56Q,#080 66Q,#060 75Q,#070 94Q,#040 119Q,#040 123Q"><i style="--s:#3e0,#410 4Q,#4d0 11Q,#4e0 14Q,#4b0 17Q,#400 21Q,#200 29Q,#180 32Q,#140 35Q,#130 40Q,#160 48Q,#150 53Q,#080 66Q,#060 74Q,#070 92Q,#040 118Q,#040 123Q"><i style="--s:#3c0,#400 4Q,#4f0 11Q,#510 14Q,#4d0 17Q,#410 21Q,#230 28Q,#190 31Q,#140 34Q,#130 39Q,#170 48Q,#150 53Q,#080 65Q,#050 72Q,#070 92Q,#040 117Q,#040 123Q"><i style="--s:#3a0,#3d0 3Q,#470 7Q,#500 11Q,#520 14Q,#500 16Q,#450 20Q,#210 28Q,#180 31Q,#130 34Q,#130 39Q,#170 47Q,#150 52Q,#070 65Q,#050 72Q,#080 90Q,#040 116Q,#040 123Q"><i style="--s:#370,#3b0 3Q,#450 7Q,#500 11Q,#520 13Q,#520 15Q,#4e0 17Q,#3f0 21Q,#230 27Q,#190 30Q,#130 33Q,#120 38Q,#170 46Q,#160 51Q,#070 65Q,#050 72Q,#080 89Q,#040 116Q,#040 123Q"><i style="--s:#340,#380 3Q,#400 6Q,#4d0 10Q,#510 12Q,#520 14Q,#4f0 16Q,#420 20Q,#210 27Q,#170 30Q,#120 33Q,#120 38Q,#170 46Q,#150 51Q,#070 64Q,#050 71Q,#080 88Q,#040 115Q,#040 123Q"><i style="--s:#310,#350 3Q,#3e0 6Q,#4b0 10Q,#4f0 12Q,#500 14Q,#4d0 16Q,#3f0 20Q,#220 26Q,#180 29Q,#120 32Q,#110 35Q,#170 45Q,#160 50Q,#070 63Q,#050 69Q,#080 88Q,#040 114Q,#040 123Q"><i style="--s:#2d0,#310 3Q,#3a0 6Q,#480 10Q,#4c0 12Q,#4c0 14Q,#490 16Q,#3b0 20Q,#1f0 26Q,#160 29Q,#110 32Q,#120 37Q,#170 44Q,#160 49Q,#070 62Q,#050 68Q,#080 87Q,#040 113Q,#040 123Q"><i style="--s:#2a0,#2e0 3Q,#370 6Q,#440 10Q,#480 12Q,#480 14Q,#450 16Q,#370 20Q,#200 25Q,#160 28Q,#110 31Q,#110 34Q,#180 43Q,#170 48Q,#070 62Q,#050 68Q,#080 86Q,#040 112Q,#040 123Q"><i style="--s:#270,#2b0 3Q,#370 7Q,#400 10Q,#430 12Q,#430 14Q,#400 16Q,#310 20Q,#1c0 25Q,#140 28Q,#100 31Q,#120 35Q,#180 42Q,#180 46Q,#110 52Q,#070 61Q,#050 67Q,#080 85Q,#040 111Q,#040 123Q"><i style="--s:#240,#280 3Q,#330 7Q,#3b0 10Q,#3d0 12Q,#3d0 14Q,#3a0 16Q,#2c0 20Q,#190 25Q,#120 28Q,#100 31Q,#150 37Q,#190 42Q,#180 46Q,#070 60Q,#050 66Q,#080 84Q,#040 110Q,#040 123Q"><i style="--s:#220,#250 3Q,#350 10Q,#370 12Q,#370 14Q,#300 17Q,#180 24Q,#120 27Q,#100 30Q,#130 34Q,#1a0 40Q,#1a0 44Q,#140 49Q,#080 58Q,#050 64Q,#080 84Q,#040 108Q,#040 123Q"><i style="--s:#200,#240 4Q,#300 10Q,#310 13Q,#2c0 16Q,#150 24Q,#100 27Q,#100 30Q,#1b0 39Q,#1b0 43Q,#160 48Q,#080 57Q,#050 63Q,#080 83Q,#040 107Q,#040 123Q"><i style="--s:#1e0,#220 4Q,#2a0 10Q,#2a0 13Q,#250 16Q,#140 23Q,#100 26Q,#110 29Q,#1d0 38Q,#1d0 42Q,#190 46Q,#090 56Q,#050 61Q,#050 69Q,#080 82Q,#040 106Q,#040 123Q"><i style="--s:#1e0,#220 6Q,#250 10Q,#230 13Q,#1d0 17Q,#110 23Q,#100 26Q,#120 29Q,#1e0 37Q,#200 40Q,#1c0 44Q,#090 55Q,#050 60Q,#050 67Q,#080 81Q,#040 106Q,#040 123Q"><i style="--s:#1e0,#1f0 10Q,#1c0 14Q,#100 22Q,#100 25Q,#150 29Q,#200 35Q,#220 39Q,#200 42Q,#150 48Q,#090 55Q,#050 60Q,#050 68Q,#080 81Q,#040 105Q,#040 123Q"><i style="--s:#1f0,#1d0 8Q,#150 15Q,#0f0 21Q,#100 24Q,#160 28Q,#220 34Q,#250 38Q,#230 41Q,#190 46Q,#0d0 52Q,#060 58Q,#050 64Q,#080 80Q,#040 105Q,#050 123Q"><i style="--s:#200,#1d0 6Q,#100 16Q,#0f0 21Q,#120 24Q,#250 33Q,#280 37Q,#260 40Q,#1e0 44Q,#0e0 51Q,#060 57Q,#050 63Q,#080 80Q,#040 105Q,#050 123Q"><i style="--s:#230,#200 4Q,#100 13Q,#0d0 17Q,#100 21Q,#170 25Q,#260 31Q,#2b0 34Q,#2b0 38Q,#260 41Q,#100 50Q,#070 56Q,#050 62Q,#080 80Q,#040 105Q,#050 123Q"><i style="--s:#270,#230 4Q,#110 12Q,#0d0 15Q,#0f0 19Q,#140 22Q,#2a0 30Q,#2f0 33Q,#2e0 37Q,#290 40Q,#0f0 50Q,#080 55Q,#060 60Q,#080 81Q,#040 105Q,#050 123Q"><i style="--s:#2c0,#280 3Q,#1e0 7Q,#130 11Q,#0f0 14Q,#0f0 17Q,#170 21Q,#2e0 29Q,#330 32Q,#340 35Q,#2d0 39Q,#110 49Q,#0a0 53Q,#060 59Q,#090 80Q,#040 105Q,#050 123Q"><i style="--s:#320,#2e0 3Q,#250 6Q,#180 10Q,#120 13Q,#120 16Q,#1a0 20Q,#310 27Q,#370 30Q,#390 33Q,#340 37Q,#290 41Q,#160 47Q,#0d0 51Q,#080 57Q,#080 66Q,#0a0 80Q,#050 105Q,#050 123Q"><i style="--s:#390,#350 3Q,#2b0 6Q,#1d0 10Q,#180 12Q,#160 14Q,#180 16Q,#220 20Q,#360 26Q,#3d0 29Q,#3f0 32Q,#3b0 35Q,#2d0 40Q,#190 46Q,#0f0 50Q,#090 55Q,#090 61Q,#0b0 78Q,#050 105Q,#050 123Q"><i style="--s:#410,#3d0 3Q,#320 6Q,#240 10Q,#1f0 12Q,#1e0 14Q,#200 16Q,#2b0 20Q,#3d0 25Q,#440 28Q,#450 31Q,#410 34Q,#310 39Q,#1c0 45Q,#110 49Q,#0c0 53Q,#0a0 60Q,#0c0 77Q,#050 105Q,#050 123Q"><i style="--s:#4b0,#460 3Q,#3b0 6Q,#2c0 10Q,#280 12Q,#270 14Q,#2a0 16Q,#3a0 21Q,#480 25Q,#4c0 28Q,#4b0 31Q,#440 34Q,#1f0 44Q,#140 48Q,#0e0 52Q,#0c0 59Q,#0e0 76Q,#050 105Q,#050 123Q"><i style="--s:#550,#500 3Q,#460 6Q,#3a0 9Q,#350 11Q,#330 13Q,#340 15Q,#400 19Q,#4e0 23Q,#540 26Q,#550 28Q,#500 31Q,#470 34Q,#220 43Q,#170 47Q,#110 51Q,#0e0 57Q,#100 74Q,#0b0 89Q,#050 106Q,#050 123Q"><i style="--s:#600,#5c0 3Q,#510 6Q,#460 9Q,#410 11Q,#400 13Q,#420 15Q,#520 20Q,#5b0 23Q,#5e0 25Q,#5e0 27Q,#5b0 29Q,#520 32Q,#2a0 41Q,#1c0 45Q,#160 48Q,#120 52Q,#120 72Q,#0b0 90Q,#050 106Q,#050 123Q"><i style="--s:#6c0,#670 3Q,#5a0 7Q,#510 10Q,#4f0 12Q,#500 14Q,#570 17Q,#660 22Q,#690 24Q,#680 26Q,#650 28Q,#5a0 31Q,#2e0 40Q,#230 43Q,#1b0 46Q,#160 50Q,#140 57Q,#150 68Q,#0d0 88Q,#060 105Q,#050 123Q"><i style="--s:#770,#730 3Q,#620 9Q,#5f0 11Q,#5f0 13Q,#650 16Q,#720 21Q,#750 23Q,#740 25Q,#6f0 27Q,#630 30Q,#370 38Q,#2a0 41Q,#210 44Q,#1b0 47Q,#180 51Q,#180 65Q,#0a0 94Q,#050 108Q,#050 123Q"><i style="--s:#820,#7f0 3Q,#710 9Q,#6f0 11Q,#700 13Q,#780 17Q,#810 21Q,#810 23Q,#7e0 25Q,#760 27Q,#660 30Q,#3c0 37Q,#2e0 40Q,#240 43Q,#1f0 46Q,#1c0 50Q,#1c0 62Q,#060 104Q,#050 123Q"><i style="--s:#8d0,#880 4Q,#7f0 9Q,#7f0 12Q,#840 15Q,#8e0 20Q,#8e0 22Q,#8a0 24Q,#820 26Q,#700 29Q,#4e0 34Q,#370 38Q,#2b0 41Q,#240 44Q,#200 48Q,#200 60Q,#130 80Q,#060 104Q,#040 121Q,#050 123Q"><i style="--s:#960,#910 5Q,#8d0 9Q,#8f0 12Q,#9c0 19Q,#9b0 21Q,#970 23Q,#8e0 25Q,#820 27Q,#550 33Q,#3c0 37Q,#300 40Q,#280 43Q,#250 46Q,#240 59Q,#150 76Q,#060 104Q,#040 121Q,#050 123Q"><i style="--s:#9d0,#9a0 8Q,#9c0 11Q,#a70 17Q,#a80 20Q,#a30 22Q,#9a0 24Q,#8d0 26Q,#5d0 32Q,#480 35Q,#350 39Q,#2d0 42Q,#2a0 45Q,#290 57Q,#230 63Q,#180 72Q,#060 104Q,#040 121Q,#040 123Q"><i style="--s:#a30,#a30 7Q,#a70 10Q,#b30 16Q,#b40 19Q,#af0 21Q,#a60 23Q,#980 25Q,#760 29Q,#5c0 32Q,#4e0 34Q,#3e0 37Q,#370 39Q,#300 42Q,#2e0 45Q,#2f0 55Q,#2a0 60Q,#1a0 70Q,#130 79Q,#060 104Q,#040 121Q,#040 123Q"><i style="--s:#a60,#a90 6Q,#b00 10Q,#bc0 15Q,#be0 17Q,#b90 20Q,#b00 22Q,#a30 24Q,#880 27Q,#640 31Q,#550 33Q,#480 35Q,#3c0 38Q,#350 41Q,#330 44Q,#350 52Q,#310 57Q,#1b0 69Q,#140 76Q,#0a0 95Q,#050 108Q,#040 123Q"><i style="--s:#a70,#aa0 4Q,#b20 8Q,#c20 14Q,#c50 16Q,#c20 19Q,#b90 21Q,#ac0 23Q,#9b0 25Q,#6c0 30Q,#5b0 32Q,#4e0 34Q,#410 37Q,#3c0 39Q,#390 42Q,#3b0 51Q,#370 56Q,#290 62Q,#1c0 68Q,#150 74Q,#0c0 92Q,#060 104Q,#040 122Q,#040 123Q"><i style="--s:#a60,#aa0 4Q,#b10 7Q,#c50 13Q,#c90 15Q,#c90 17Q,#c00 20Q,#b40 22Q,#a30 24Q,#730 29Q,#620 31Q,#540 33Q,#4a0 35Q,#410 38Q,#3e0 41Q,#400 46Q,#410 50Q,#3f0 53Q,#350 58Q,#1f0 66Q,#190 70Q,#130 78Q,#0d0 90Q,#060 102Q,#040 120Q,#040 123Q"><i style="--s:#a20,#a50 3Q,#ad0 6Q,#c30 12Q,#c90 14Q,#ca0 16Q,#c40 19Q,#b90 21Q,#a90 23Q,#710 29Q,#610 31Q,#540 33Q,#4b0 35Q,#440 38Q,#430 41Q,#480 48Q,#470 51Q,#400 55Q,#300 60Q,#210 65Q,#190 69Q,#140 76Q,#0f0 86Q,#070 99Q,#040 116Q,#040 123Q"><i style="--s:#9d0,#a00 3Q,#a90 6Q,#c20 12Q,#c70 14Q,#c80 16Q,#c70 17Q,#bb0 20Q,#ad0 22Q,#920 25Q,#760 28Q,#660 30Q,#590 32Q,#4f0 34Q,#480 37Q,#470 40Q,#4e0 47Q,#4d0 50Q,#480 53Q,#380 58Q,#260 63Q,#1c0 67Q,#170 71Q,#110 84Q,#070 97Q,#040 112Q,#040 123Q"><i style="--s:#950,#990 3Q,#a30 6Q,#b90 11Q,#c00 13Q,#c30 15Q,#c10 17Q,#b40 20Q,#a60 22Q,#710 28Q,#630 30Q,#570 32Q,#500 34Q,#4b0 37Q,#4c0 40Q,#530 46Q,#540 49Q,#4f0 52Q,#420 56Q,#290 62Q,#200 65Q,#1a0 68Q,#170 74Q,#130 82Q,#070 96Q,#040 108Q,#040 123Q"><i style="--s:#8c0,#910 3Q,#9b0 6Q,#b10 11Q,#b80 13Q,#ba0 15Q,#b80 17Q,#ab0 20Q,#9d0 22Q,#6c0 28Q,#5f0 30Q,#560 32Q,#500 34Q,#4e0 37Q,#510 40Q,#590 45Q,#5a0 48Q,#550 51Q,#470 55Q,#290 62Q,#200 65Q,#1b0 68Q,#180 75Q,#150 81Q,#070 95Q,#050 105Q,#040 123Q"><i style="--s:#820,#870 3Q,#910 6Q,#a70 11Q,#ad0 13Q,#af0 15Q,#ac0 17Q,#9f0 20Q,#920 22Q,#6d0 27Q,#600 29Q,#570 31Q,#520 33Q,#500 35Q,#530 39Q,#5d0 44Q,#5f0 47Q,#5d0 49Q,#550 52Q,#3e0 57Q,#2c0 61Q,#220 64Q,#1c0 67Q,#1a0 71Q,#180 79Q,#100 86Q,#070 95Q,#040 104Q,#040 123Q"><i style="--s:#780,#7c0 3Q,#860 6Q,#9b0 11Q,#a00 13Q,#a10 15Q,#9e0 17Q,#920 20Q,#7f0 23Q,#650 27Q,#5b0 29Q,#540 31Q,#510 33Q,#500 35Q,#570 39Q,#620 44Q,#640 46Q,#620 48Q,#5e0 50Q,#520 53Q,#2f0 60Q,#240 63Q,#1e0 66Q,#1b0 70Q,#1a0 78Q,#140 84Q,#080 93Q,#050 100Q,#040 123Q"><i style="--s:#6d0,#710 3Q,#7a0 6Q,#8d0 11Q,#910 13Q,#920 15Q,#8f0 17Q,#830 20Q,#5d0 27Q,#550 29Q,#500 31Q,#4f0 33Q,#550 37Q,#650 43Q,#670 45Q,#660 47Q,#630 49Q,#570 52Q,#330 59Q,#270 62Q,#1f0 65Q,#1c0 68Q,#1c0 78Q,#140 84Q,#080 93Q,#050 100Q,#040 123Q"><i style="--s:#620,#660 3Q,#6e0 6Q,#7e0 11Q,#810 13Q,#810 15Q,#7e0 17Q,#6f0 21Q,#570 26Q,#510 28Q,#4d0 30Q,#4c0 32Q,#510 35Q,#660 42Q,#690 44Q,#690 46Q,#660 48Q,#600 50Q,#520 53Q,#310 59Q,#250 62Q,#1f0 65Q,#1d0 69Q,#1e0 77Q,#180 82Q,#090 92Q,#050 98Q,#040 122Q,#040 123Q"><i style="--s:#580,#5b0 3Q,#650 7Q,#6f0 11Q,#710 14Q,#6f0 16Q,#640 20Q,#500 25Q,#490 28Q,#470 30Q,#490 32Q,#500 35Q,#650 41Q,#690 43Q,#6b0 45Q,#690 47Q,#630 49Q,#550 52Q,#340 58Q,#270 61Q,#200 64Q,#1e0 67Q,#1f0 76Q,#1b0 81Q,#0a0 92Q,#050 98Q,#040 120Q,#040 123Q"><i style="--s:#4f0,#530 4Q,#5e0 10Q,#610 13Q,#5e0 16Q,#500 21Q,#450 25Q,#410 28Q,#420 30Q,#480 33Q,#660 41Q,#6a0 43Q,#6b0 45Q,#680 47Q,#610 49Q,#520 52Q,#310 58Q,#250 61Q,#1f0 64Q,#1d0 67Q,#200 76Q,#1d0 80Q,#0a0 92Q,#060 98Q,#040 118Q,#040 123Q"><i style="--s:#470,#4b0 5Q,#510 10Q,#510 13Q,#4e0 16Q,#3b0 24Q,#390 27Q,#3a0 29Q,#420 32Q,#630 40Q,#680 42Q,#6a0 44Q,#680 46Q,#620 48Q,#530 51Q,#320 57Q,#250 60Q,#1e0 63Q,#1c0 66Q,#210 75Q,#1f0 79Q,#140 86Q,#0a0 93Q,#060 100Q,#040 120Q,#040 123Q"><i style="--s:#400,#440 10Q,#420 14Q,#310 23Q,#300 26Q,#350 29Q,#3f0 32Q,#5e0 39Q,#640 41Q,#670 43Q,#660 45Q,#610 47Q,#540 50Q,#2d0 57Q,#220 60Q,#1c0 63Q,#1b0 66Q,#210 75Q,#1f0 79Q,#160 85Q,#0b0 93Q,#060 100Q,#040 118Q,#040 123Q"><i style="--s:#3b0,#3a0 9Q,#350 14Q,#290 21Q,#270 24Q,#2a0 27Q,#330 30Q,#460 34Q,#5c0 39Q,#620 41Q,#630 43Q,#610 45Q,#5b0 47Q,#4d0 50Q,#2c0 56Q,#200 59Q,#1a0 62Q,#190 65Q,#200 75Q,#1f0 79Q,#170 85Q,#0b0 94Q,#060 102Q,#040 119Q,#040 123Q"><i style="--s:#370,#340 7Q,#2d0 12Q,#200 20Q,#1f0 23Q,#230 26Q,#2c0 29Q,#3f0 33Q,#570 38Q,#5d0 40Q,#5f0 42Q,#5d0 44Q,#580 46Q,#4b0 49Q,#2b0 55Q,#1f0 58Q,#180 61Q,#160 64Q,#1a0 69Q,#200 75Q,#1f0 79Q,#180 85Q,#0c0 94Q,#060 102Q,#040 117Q,#040 123Q"><i style="--s:#350,#320 5Q,#2a0 10Q,#1c0 17Q,#180 21Q,#1b0 24Q,#220 27Q,#2f0 30Q,#480 35Q,#570 39Q,#5a0 41Q,#590 43Q,#540 45Q,#480 48Q,#240 55Q,#190 58Q,#140 61Q,#140 64Q,#1f0 75Q,#1f0 79Q,#180 85Q,#0c0 95Q,#060 104Q,#040 119Q,#040 123Q"><i style="--s:#350,#320 4Q,#290 9Q,#190 16Q,#150 20Q,#170 23Q,#1e0 26Q,#2a0 29Q,#470 35Q,#510 38Q,#540 40Q,#540 42Q,#4f0 44Q,#440 47Q,#260 53Q,#170 57Q,#120 60Q,#110 63Q,#170 68Q,#1f0 75Q,#1f0 79Q,#190 85Q,#0c0 96Q,#060 105Q,#040 119Q,#040 123Q"><i style="--s:#360,#330 4Q,#2b0 8Q,#190 15Q,#140 19Q,#160 22Q,#1c0 25Q,#280 28Q,#430 34Q,#4d0 37Q,#4f0 39Q,#4f0 41Q,#4b0 43Q,#400 46Q,#1f0 53Q,#130 57Q,#0f0 60Q,#0f0 63Q,#1e0 74Q,#200 78Q,#1d0 83Q,#0c0 97Q,#060 106Q,#040 120Q,#040 123Q"><i style="--s:#390,#360 4Q,#2d0 8Q,#1d0 14Q,#180 17Q,#180 21Q,#1e0 24Q,#280 27Q,#410 33Q,#4a0 37Q,#4b0 39Q,#490 41Q,#400 44Q,#1d0 52Q,#110 56Q,#0e0 59Q,#0e0 62Q,#170 68Q,#1f0 74Q,#200 78Q,#1e0 83Q,#0b0 98Q,#060 107Q,#040 121Q,#040 123Q"><i style="--s:#3f0,#3b0 4Q,#320 8Q,#220 14Q,#1e0 17Q,#1e0 21Q,#240 24Q,#360 29Q,#430 33Q,#480 37Q,#470 39Q,#400 42Q,#300 46Q,#1c0 51Q,#110 55Q,#0d0 58Q,#0e0 61Q,#150 66Q,#1f0 72Q,#220 78Q,#1f0 83Q,#0b0 99Q,#060 108Q,#040 123Q"><i style="--s:#460,#420 4Q,#370 9Q,#2b0 14Q,#270 17Q,#280 21Q,#2e0 24Q,#420 31Q,#470 34Q,#450 38Q,#3e0 41Q,#2a0 46Q,#1b0 50Q,#130 53Q,#0f0 57Q,#0f0 60Q,#160 65Q,#200 71Q,#240 77Q,#210 82Q,#0b0 99Q,#060 107Q,#040 121Q,#040 123Q"><i style="--s:#4f0,#4c0 4Q,#410 9Q,#360 14Q,#330 17Q,#350 21Q,#3c0 25Q,#470 30Q,#490 33Q,#460 37Q,#3d0 40Q,#1f0 48Q,#170 51Q,#110 55Q,#120 58Q,#180 63Q,#230 70Q,#260 76Q,#240 81Q,#0c0 98Q,#060 106Q,#040 119Q,#050 123Q"><i style="--s:#5a0,#570 4Q,#450 14Q,#420 17Q,#450 22Q,#4e0 29Q,#4e0 32Q,#4b0 35Q,#3f0 39Q,#220 47Q,#1a0 50Q,#160 53Q,#170 58Q,#210 65Q,#280 71Q,#290 77Q,#240 82Q,#0d0 97Q,#070 105Q,#040 117Q,#050 123Q"><i style="--s:#670,#630 5Q,#550 14Q,#530 19Q,#580 28Q,#560 31Q,#510 34Q,#400 39Q,#290 45Q,#210 48Q,#1d0 51Q,#1c0 56Q,#230 62Q,#2c0 69Q,#2d0 75Q,#290 80Q,#0f0 96Q,#080 103Q,#050 114Q,#050 123Q"><i style="--s:#760,#730 5Q,#680 14Q,#660 20Q,#660 26Q,#630 29Q,#5d0 32Q,#4b0 37Q,#340 43Q,#2b0 46Q,#250 49Q,#230 52Q,#250 57Q,#310 67Q,#320 72Q,#2d0 78Q,#1d0 87Q,#0e0 96Q,#080 103Q,#050 114Q,#050 123Q"><i style="--s:#860,#830 6Q,#7b0 15Q,#770 24Q,#710 28Q,#690 31Q,#520 37Q,#3e0 42Q,#350 45Q,#2f0 48Q,#2c0 52Q,#310 59Q,#370 66Q,#370 71Q,#310 77Q,#100 94Q,#090 101Q,#050 111Q,#050 123Q"><i style="--s:#970,#930 8Q,#8b0 22Q,#850 26Q,#7c0 29Q,#6d0 33Q,#4a0 41Q,#410 44Q,#3b0 47Q,#380 51Q,#3a0 58Q,#3e0 65Q,#3c0 70Q,#340 76Q,#130 92Q,#0b0 98Q,#060 105Q,#050 122Q,#050 123Q"><i style="--s:#a80,#a30 16Q,#9e0 22Q,#950 26Q,#870 30Q,#5a0 40Q,#4d0 44Q,#460 48Q,#440 53Q,#450 64Q,#410 69Q,#360 76Q,#180 89Q,#0c0 96Q,#070 103Q,#050 116Q,#050 123Q"><i style="--s:#b90,#b70 15Q,#b20 21Q,#a90 25Q,#9a0 29Q,#6c0 39Q,#5e0 43Q,#560 47Q,#500 52Q,#4b0 64Q,#430 70Q,#320 78Q,#190 88Q,#0d0 95Q,#070 101Q,#050 112Q,#050 123Q"><i style="--s:#ca0,#ca0 15Q,#c50 20Q,#bc0 24Q,#ae0 28Q,#7c0 39Q,#6e0 43Q,#640 47Q,#5c0 53Q,#500 64Q,#450 70Q,#290 81Q,#180 88Q,#0c0 95Q,#070 101Q,#050 112Q,#050 123Q"><i style="--s:#d90,#da0 14Q,#d70 19Q,#cf0 23Q,#c20 27Q,#a70 33Q,#880 40Q,#780 45Q,#6c0 50Q,#520 65Q,#3c0 74Q,#1b0 86Q,#0e0 93Q,#070 99Q,#050 107Q,#050 123Q"><i style="--s:#e60,#e80 14Q,#e50 19Q,#dd0 23Q,#d00 27Q,#b60 33Q,#940 41Q,#820 46Q,#700 53Q,#4c0 68Q,#1c0 85Q,#0e0 92Q,#070 98Q,#040 106Q,#050 123Q"><i style="--s:#f00,#f30 14Q,#f00 19Q,#e80 23Q,#dc0 27Q,#c30 33Q,#9c0 42Q,#830 49Q,#600 61Q,#1e0 84Q,#110 90Q,#080 97Q,#050 104Q,#050 123Q"><i style="--s:#f70,#fb0 14Q,#f80 19Q,#f00 23Q,#e40 27Q,#cc0 33Q,#990 45Q,#750 55Q,#250 81Q,#160 87Q,#0a0 94Q,#060 100Q,#040 112Q,#050 123Q"><i style="--s:#fb0,#ff0 14Q,#fc0 19Q,#f50 23Q,#e90 27Q,#d10 33Q,#950 47Q,#700 57Q,#2d0 78Q,#1a0 85Q,#0d0 92Q,#070 98Q,#040 106Q,#050 123Q"></i></i></i></i></i></i></i></i></i></i></i></i></i></i></i></i></i></i></i></i></i></i></i></i></i></i></i></i></i></i></i></i></i></i></i></i></i></i></i></i></i></i></i></i></i></i></i></i></i></i></i></i></i></i></i></i></i></i></i></i></i></i></i></i></i></i></i></i></i></i></i></i></i></i></i></i></i></i></i></i></i></i></i></i></i></i></i></i></i></i></i></i></i></i></i></i></i></i></i></i></i></i></i></i></i></i></i></i></i></i></i></i></i></i></i></i></div><b style="background:linear-gradient(90deg,#0000 46%,#0001 56%)"></b></div><div class="m" style="left:314px;top:1603px"><b style="background:radial-gradient(181.67px 45.42px,#ff0 0%,#fd0 3.125%,#f70 6.375%,#ec0 9.75%,#dc0 13.5%,#c50 17.88%,#990 25.25%,#6c0 32.75%,#510 37.88%,#3c0 42.62%,#2a0 47.38%,#1d0 52.25%,#120 57.63%,#0a0 63.75%,#040 71.5%,#010 83.12%,#000 100%)"></b></div><div class="m P v" style="left:631px;top:1603px"><i style="--s:#7f0,#000 19Q,#ff0 0,#f70 20Q,#a60 33Q,#600 46Q,#1d0 60Q,#000 67Q,#ff0 0,#e00 75Q,#a50 92Q,#6f0 111Q,#620 116Q"><i style="--s:#7f0,#000 19Q,#ff0 0,#f50 20Q,#a40 33Q,#5c0 46Q,#1a0 60Q,#000 66Q,#ff0 0,#dc0 75Q,#a20 92Q,#6b0 111Q,#5e0 116Q"><i style="--s:#7f0,#000 18Q,#ff0 0,#fa0 19Q,#ad0 31Q,#640 44Q,#240 57Q,#000 66Q,#ff0 0,#e80 71Q,#af0 87Q,#780 105Q,#5b0 116Q"><i style="--s:#7f0,#000 18Q,#ff0 0,#f80 19Q,#ab0 31Q,#610 44Q,#210 57Q,#000 65Q,#ff0 0,#e90 70Q,#af0 86Q,#780 104Q,#580 116Q"><i style="--s:#7f0,#000 18Q,#ff0 0,#f60 19Q,#a80 31Q,#630 43Q,#220 56Q,#000 64Q,#ff0 0,#e90 69Q,#ae0 85Q,#770 103Q,#550 116Q"><i style="--s:#7f0,#000 17Q,#ff0 0,#f40 19Q,#a50 31Q,#600 43Q,#1e0 56Q,#000 63Q,#ff0 0,#e50 69Q,#ab0 85Q,#740 103Q,#510 116Q"><i style="--s:#7f0,#010 17Q,#000 0,#ff0 0,#a90 30Q,#620 42Q,#200 55Q,#000 62Q,#ff0 0,#e60 68Q,#ab0 84Q,#730 102Q,#4e0 116Q"><i style="--s:#7f0,#000 17Q,#ff0 0,#fe0 0,#ac0 29Q,#640 41Q,#2a0 52Q,#000 61Q,#ff0 0,#ea0 66Q,#b10 81Q,#7b0 98Q,#4b0 116Q"><i style="--s:#7f0,#000 17Q,#ff0 0,#fc0 0,#a90 29Q,#600 41Q,#270 52Q,#000 61Q,#ff0 0,#eb0 65Q,#b10 80Q,#7a0 97Q,#470 116Q"><i style="--s:#7f0,#030 16Q,#000 0,#ff0 0,#ad0 28Q,#680 39Q,#2d0 50Q,#000 60Q,#ff0 0,#f00 63Q,#b50 78Q,#7d0 95Q,#490 114Q,#440 116Q"><i style="--s:#7f0,#010 16Q,#000 0,#ff0 0,#aa0 28Q,#650 39Q,#290 50Q,#000 59Q,#ff0 0,#ec0 63Q,#b10 78Q,#790 95Q,#450 114Q,#400 116Q"><i style="--s:#7f0,#000 16Q,#ff0 0,#fe0 0,#ae0 27Q,#670 38Q,#2a0 49Q,#000 58Q,#ff0 0,#ec0 62Q,#b40 76Q,#7f0 92Q,#4c0 110Q,#3d0 116Q"><i style="--s:#7f0,#000 16Q,#ff0 0,#fc0 0,#ab0 27Q,#640 38Q,#2c0 48Q,#000 57Q,#ff0 0,#ed0 61Q,#b40 75Q,#810 90Q,#4e0 108Q,#3a0 116Q"><i style="--s:#7f0,#030 15Q,#000 0,#ff0 0,#ae0 26Q,#660 37Q,#2d0 47Q,#000 56Q,#ff0 0,#f10 59Q,#bb0 72Q,#840 88Q,#4f0 106Q,#360 116Q"><i style="--s:#7f0,#010 15Q,#000 0,#ff0 0,#ab0 26Q,#6f0 35Q,#2e0 46Q,#000 55Q,#ff0 0,#f20 58Q,#bb0 71Q,#830 87Q,#4e0 105Q,#320 116Q"><i style="--s:#7f0,#000 15Q,#ff0 0,#fd0 0,#a80 26Q,#6b0 35Q,#2a0 46Q,#000 55Q,#ff0 0,#ee0 58Q,#b70 71Q,#7f0 87Q,#4a0 105Q,#2f0 116Q"><i style="--s:#7f0,#000 15Q,#ff0 0,#fb0 0,#ac0 25Q,#6d0 34Q,#310 44Q,#000 54Q,#ff0 0,#f30 56Q,#bf0 68Q,#880 83Q,#540 100Q,#2b0 116Q"><i style="--s:#7f0,#020 14Q,#000 0,#ff0 0,#b00 24Q,#700 33Q,#320 43Q,#000 53Q,#ff0 0,#fd0 0,#c30 66Q,#8b0 81Q,#560 98Q,#280 116Q"><i style="--s:#7f0,#000 14Q,#ff0 0,#ff0 0,#ac0 24Q,#720 32Q,#340 42Q,#000 52Q,#ff0 0,#fd0 0,#c30 65Q,#8a0 80Q,#550 97Q,#240 116Q"><i style="--s:#7f0,#000 14Q,#ff0 0,#fd0 0,#a90 24Q,#6e0 32Q,#2f0 42Q,#000 51Q,#ff0 0,#f90 52Q,#be0 65Q,#890 79Q,#570 95Q,#250 114Q,#200 116Q"><i style="--s:#7f0,#000 13Q,#ff0 0,#fa0 14Q,#ad0 23Q,#710 31Q,#310 41Q,#000 50Q,#ff0 0,#f90 51Q,#c20 63Q,#8c0 77Q,#590 93Q,#290 111Q,#1d0 116Q"><i style="--s:#7f0,#020 13Q,#000 0,#ff0 0,#b10 22Q,#740 30Q,#380 39Q,#050 48Q,#000 49Q,#ff0 0,#cb0 60Q,#930 74Q,#610 89Q,#2f0 107Q,#190 116Q"><i style="--s:#7f0,#000 13Q,#ff0 0,#fe0 0,#ae0 22Q,#6f0 30Q,#330 39Q,#000 48Q,#000 0,#ff0 0,#c60 60Q,#8e0 74Q,#5c0 89Q,#2b0 107Q,#150 116Q"><i style="--s:#7f0,#000 13Q,#ff0 0,#fb0 0,#aa0 22Q,#720 29Q,#350 38Q,#010 47Q,#000 0,#ff0 0,#c60 59Q,#950 71Q,#610 86Q,#2e0 104Q,#110 116Q"><i style="--s:#7f0,#000 12Q,#ff0 0,#f90 13Q,#a50 22Q,#6d0 29Q,#300 38Q,#000 46Q,#ff0 0,#fb0 47Q,#c10 59Q,#900 71Q,#5d0 86Q,#2a0 104Q,#0e0 116Q"><i style="--s:#7f0,#000 12Q,#ff0 0,#f60 13Q,#aa0 21Q,#700 28Q,#3e0 35Q,#070 44Q,#000 45Q,#ff0 0,#ce0 55Q,#9b0 67Q,#650 82Q,#330 99Q,#0a0 116Q"><i style="--s:#7f0,#000 12Q,#ff0 0,#fd0 0,#af0 20Q,#730 27Q,#3f0 34Q,#070 43Q,#000 44Q,#ff0 0,#d30 53Q,#9a0 66Q,#640 81Q,#320 98Q,#060 116Q"><i style="--s:#7f0,#000 12Q,#ff0 0,#fa0 0,#aa0 20Q,#750 26Q,#410 33Q,#080 42Q,#000 43Q,#ff0 0,#d70 51Q,#a10 63Q,#6d0 77Q,#3b0 93Q,#0b0 112Q,#020 116Q"><i style="--s:#7f0,#000 11Q,#ff0 0,#f70 12Q,#a50 20Q,#700 26Q,#3b0 33Q,#020 42Q,#000 0,#ff0 0,#d20 51Q,#9c0 63Q,#680 77Q,#370 93Q,#070 112Q,#000 115Q,#ff0 0,#fd0 116Q"><i style="--s:#7f0,#000 11Q,#ff0 0,#f40 12Q,#a10 20Q,#6b0 26Q,#3c0 32Q,#080 40Q,#000 42Q,#ff0 0,#d60 49Q,#a00 61Q,#6b0 75Q,#3b0 90Q,#0c0 108Q,#000 113Q,#ff0 0,#f90 116Q"><i style="--s:#7f0,#000 11Q,#ff0 0,#f10 12Q,#9b0 20Q,#650 26Q,#360 32Q,#030 40Q,#000 0,#ff0 0,#d10 49Q,#9b0 61Q,#660 75Q,#370 90Q,#080 108Q,#000 112Q,#ff0 0,#f50 116Q"><i style="--s:#7f0,#000 11Q,#ff0 0,#ed0 12Q,#a00 19Q,#700 24Q,#3f0 30Q,#090 38Q,#000 40Q,#ff0 0,#d50 47Q,#9e0 59Q,#6b0 72Q,#380 88Q,#090 106Q,#000 110Q,#ff0 0,#f10 116Q"><i style="--s:#7f0,#000 10Q,#ff0 0,#ea0 12Q,#9b0 19Q,#6a0 24Q,#400 29Q,#150 35Q,#000 39Q,#ff0 0,#df0 44Q,#aa0 55Q,#790 67Q,#460 82Q,#160 99Q,#000 108Q,#ff0 0,#ed0 116Q"><i style="--s:#7f0,#000 10Q,#ff0 0,#f20 11Q,#950 19Q,#630 24Q,#390 29Q,#0f0 35Q,#000 38Q,#ff0 0,#d90 44Q,#a40 55Q,#740 67Q,#410 82Q,#110 99Q,#000 107Q,#ff0 0,#e90 116Q"><i style="--s:#800,#000 10Q,#ff0 0,#ef0 11Q,#8f0 19Q,#5c0 24Q,#320 29Q,#080 35Q,#000 36Q,#ff0 0,#d30 44Q,#9e0 55Q,#6e0 67Q,#3c0 82Q,#0d0 99Q,#000 105Q,#ff0 0,#e50 116Q"><i style="--s:#800,#000 9Q,#ff0 0,#eb0 11Q,#890 19Q,#5e0 23Q,#330 28Q,#080 34Q,#000 35Q,#ff0 0,#d20 43Q,#a20 53Q,#6d0 66Q,#3a0 81Q,#0b0 98Q,#000 103Q,#ff0 0,#e10 116Q"><i style="--s:#800,#000 9Q,#ff0 0,#e70 11Q,#820 19Q,#570 23Q,#330 27Q,#0e0 32Q,#000 34Q,#ff0 0,#dc0 40Q,#ae0 49Q,#7a0 61Q,#480 75Q,#1c0 90Q,#000 101Q,#ff0 0,#ea0 110Q,#dd0 116Q"><i style="--s:#800,#000 9Q,#ff0 0,#e30 11Q,#7a0 19Q,#4e0 23Q,#2b0 27Q,#060 32Q,#000 33Q,#ff0 0,#d50 40Q,#a30 50Q,#6d0 63Q,#3a0 78Q,#0a0 95Q,#000 99Q,#ff0 0,#db0 115Q,#d90 116Q"><i style="--s:#800,#000 9Q,#ff0 0,#ec0 10Q,#660 20Q,#460 23Q,#220 27Q,#000 32Q,#ff0 0,#fd0 0,#c90 41Q,#990 51Q,#640 64Q,#320 79Q,#030 96Q,#000 97Q,#ff0 0,#d50 116Q"><i style="--s:#800,#350 5Q,#000 8Q,#ff0 0,#f60 9Q,#5d0 20Q,#3c0 23Q,#190 27Q,#000 31Q,#ff0 0,#ef0 33Q,#bd0 42Q,#8a0 53Q,#540 67Q,#210 83Q,#000 96Q,#ff0 0,#f10 101Q,#d10 116Q"><i style="--s:#800,#440 4Q,#020 8Q,#000 0,#ff0 0,#c80 12Q,#8e0 16Q,#530 20Q,#3c0 22Q,#200 25Q,#000 29Q,#ff0 0,#fa0 30Q,#cb0 38Q,#990 48Q,#640 61Q,#300 76Q,#010 93Q,#000 0,#ff0 0,#d20 113Q,#cc0 116Q"><i style="--s:#800,#550 3Q,#320 5Q,#000 8Q,#ff0 0,#fb0 0,#d00 11Q,#a80 14Q,#770 17Q,#480 20Q,#300 22Q,#150 25Q,#000 28Q,#ff0 0,#f10 30Q,#be0 39Q,#8a0 50Q,#530 64Q,#220 79Q,#000 92Q,#ff0 0,#f10 97Q,#c80 116Q"><i style="--s:#800,#570 3Q,#460 4Q,#320 5Q,#070 7Q,#000 0,#ff0 0,#f40 8Q,#d70 10Q,#a50 14Q,#960 15Q,#490 19Q,#3a0 20Q,#230 22Q,#0a0 25Q,#000 27Q,#ff0 0,#e20 31Q,#ad0 41Q,#7b0 52Q,#460 66Q,#140 82Q,#000 90Q,#ff0 0,#e60 100Q,#c40 116Q"><i style="--s:#800,#5c0 3Q,#4c0 4Q,#350 5Q,#000 7Q,#ff0 0,#fd0 0,#ea0 8Q,#db0 9Q,#a50 14Q,#960 15Q,#830 16Q,#690 17Q,#390 19Q,#2a0 20Q,#1e0 21Q,#050 24Q,#000 25Q,#ff0 0,#df0 30Q,#a50 41Q,#710 53Q,#3d0 67Q,#0c0 83Q,#000 88Q,#ff0 0,#df0 101Q,#c00 116Q"><i style="--s:#800,#650 3Q,#580 4Q,#3f0 5Q,#100 6Q,#000 0,#ff0 0,#e90 7Q,#da0 8Q,#c70 10Q,#a70 14Q,#9c0 15Q,#8b0 16Q,#620 17Q,#210 19Q,#150 20Q,#060 22Q,#000 23Q,#ff0 0,#e00 28Q,#a30 40Q,#6e0 52Q,#3b0 66Q,#0a0 82Q,#000 86Q,#ff0 0,#dc0 100Q,#bb0 116Q"><i style="--s:#7f0,#6f0 4Q,#7c0 5Q,#ab0 6Q,#c70 7Q,#c70 8Q,#ab0 14Q,#a70 15Q,#a90 16Q,#d00 17Q,#ff0 19Q,#000 0,#010 0,#000 0,#ff0 0,#fd0 20Q,#e00 26Q,#970 41Q,#5c0 55Q,#2b0 69Q,#000 84Q,#ff0 0,#f90 86Q,#cd0 105Q,#b70 116Q"><i style="--s:#7f0,#7b0 3Q,#7f0 4Q,#8a0 5Q,#af0 7Q,#b50 8Q,#b60 9Q,#ad0 14Q,#af0 15Q,#b70 16Q,#c80 17Q,#e50 19Q,#e80 20Q,#e50 22Q,#d00 27Q,#7e0 45Q,#470 59Q,#130 75Q,#000 82Q,#ff0 0,#e30 93Q,#b80 113Q,#b30 116Q"><i style="--s:#7f0,#810 3Q,#860 4Q,#8e0 5Q,#a30 7Q,#a90 8Q,#ad0 10Q,#ac0 13Q,#ad0 14Q,#b10 15Q,#b70 16Q,#d20 19Q,#d60 20Q,#d60 22Q,#c90 26Q,#6a0 48Q,#330 63Q,#020 79Q,#000 80Q,#ff0 0,#d50 97Q,#ae0 116Q"><i style="--s:#7f0,#850 3Q,#8f0 5Q,#a10 8Q,#a60 10Q,#ab0 14Q,#b30 16Q,#c50 19Q,#c90 21Q,#c50 24Q,#af0 30Q,#5c0 50Q,#270 65Q,#000 78Q,#ff0 0,#f40 82Q,#c70 101Q,#aa0 116Q"><i style="--s:#7f0,#890 4Q,#9b0 8Q,#a30 12Q,#aa0 15Q,#bb0 20Q,#bc0 22Q,#b60 25Q,#9d0 32Q,#510 51Q,#1a0 67Q,#000 76Q,#ff0 0,#ea0 84Q,#be0 103Q,#a60 116Q"><i style="--s:#7f0,#8c0 5Q,#990 9Q,#a40 15Q,#b00 20Q,#b00 23Q,#a60 27Q,#790 39Q,#380 56Q,#080 71Q,#000 74Q,#ff0 0,#d80 89Q,#ac0 110Q,#a10 116Q"><i style="--s:#7f0,#980 11Q,#a60 20Q,#a50 23Q,#9c0 27Q,#750 38Q,#320 56Q,#030 71Q,#000 72Q,#ff0 0,#d30 89Q,#a70 110Q,#9d0 116Q"><i style="--s:#7f0,#940 12Q,#9d0 20Q,#9a0 24Q,#8d0 29Q,#280 57Q,#000 70Q,#ff0 0,#f30 74Q,#c70 92Q,#9e0 113Q,#980 116Q"><i style="--s:#7f0,#900 13Q,#950 20Q,#910 24Q,#810 30Q,#1e0 58Q,#000 68Q,#ff0 0,#eb0 75Q,#be0 94Q,#960 115Q,#940 116Q"><i style="--s:#7f0,#8c0 14Q,#8c0 21Q,#830 26Q,#6b0 34Q,#1a0 57Q,#000 66Q,#ff0 0,#e80 74Q,#bb0 93Q,#930 114Q,#8f0 116Q"><i style="--s:#7f0,#860 14Q,#830 21Q,#780 27Q,#550 38Q,#110 58Q,#000 64Q,#ff0 0,#df0 75Q,#b30 94Q,#8b0 116Q"><i style="--s:#7f0,#800 15Q,#7a0 22Q,#6d0 28Q,#3b0 43Q,#010 61Q,#000 0,#ff0 0,#cf0 79Q,#a40 99Q,#860 116Q"><i style="--s:#7f0,#7b0 15Q,#700 23Q,#5f0 30Q,#000 59Q,#000 0,#ff0 0,#cf0 77Q,#a30 97Q,#820 116Q"><i style="--s:#800,#750 15Q,#670 24Q,#4d0 33Q,#000 57Q,#ff0 0,#fc0 58Q,#cb0 76Q,#a00 96Q,#7d0 116Q"><i style="--s:#800,#6e0 16Q,#5c0 25Q,#380 37Q,#000 55Q,#ff0 0,#f20 59Q,#c30 77Q,#990 97Q,#790 116Q"><i style="--s:#800,#660 17Q,#4f0 27Q,#000 53Q,#ff0 0,#eb0 59Q,#bd0 77Q,#940 97Q,#740 116Q"><i style="--s:#800,#5c0 19Q,#3f0 30Q,#000 50Q,#ff0 0,#ea0 57Q,#bc0 75Q,#920 95Q,#6f0 116Q"><i style="--s:#800,#530 20Q,#2a0 34Q,#000 48Q,#ff0 0,#e30 57Q,#b30 76Q,#8b0 96Q,#6b0 116Q"><i style="--s:#800,#440 23Q,#000 45Q,#ff0 0,#e20 55Q,#b20 74Q,#890 94Q,#660 116Q"><i style="--s:#800,#2d0 28Q,#000 43Q,#ff0 0,#e30 52Q,#b20 71Q,#880 92Q,#630 115Q,#610 116Q"><i style="--s:#7f0,#000 40Q,#ff0 0,#f00 45Q,#bc0 64Q,#910 84Q,#6b0 106Q,#5d0 116Q"><i style="--s:#7f0,#170 30Q,#000 38Q,#ff0 0,#dc0 49Q,#ac0 68Q,#820 89Q,#5c0 113Q,#580 116Q"><i style="--s:#7f0,#270 23Q,#000 35Q,#ff0 0,#ef0 40Q,#be0 58Q,#910 78Q,#6a0 100Q,#530 116Q"><i style="--s:#7f0,#2c0 20Q,#000 32Q,#ff0 0,#fc0 33Q,#cb0 50Q,#9d0 69Q,#750 90Q,#500 115Q,#4f0 116Q"><i style="--s:#7f0,#290 19Q,#000 30Q,#ff0 0,#fe0 0,#d10 45Q,#a20 64Q,#780 85Q,#520 110Q,#4a0 116Q"><i style="--s:#7f0,#300 16Q,#020 27Q,#000 28Q,#ff0 0,#d70 40Q,#ab0 57Q,#800 77Q,#5a0 100Q,#450 116Q"><i style="--s:#7f0,#2a0 16Q,#000 26Q,#ff0 0,#fd0 0,#d80 37Q,#af0 52Q,#840 72Q,#5c0 95Q,#400 116Q"><i style="--s:#7f0,#2a0 15Q,#000 24Q,#ff0 0,#fd0 0,#dc0 33Q,#b40 47Q,#890 66Q,#620 88Q,#3e0 114Q,#3b0 116Q"><i style="--s:#7f0,#2a0 14Q,#000 22Q,#ff0 0,#fa0 23Q,#da0 31Q,#b60 43Q,#8c0 61Q,#640 83Q,#400 108Q,#370 116Q"><i style="--s:#7f0,#240 14Q,#000 21Q,#ff0 0,#f70 22Q,#d90 29Q,#b90 39Q,#920 55Q,#690 76Q,#450 100Q,#320 116Q"><i style="--s:#7f0,#1f0 14Q,#000 19Q,#ff0 0,#ef0 22Q,#d40 28Q,#b60 37Q,#930 51Q,#6a0 72Q,#440 97Q,#2d0 116Q"><i style="--s:#800,#200 13Q,#000 18Q,#ff0 0,#ec0 21Q,#cf0 27Q,#b30 35Q,#900 49Q,#680 69Q,#420 94Q,#280 116Q"><i style="--s:#800,#1b0 13Q,#000 17Q,#ff0 0,#e40 21Q,#cb0 26Q,#b10 33Q,#910 45Q,#6b0 64Q,#460 87Q,#240 115Q,#230 116Q"><i style="--s:#800,#150 13Q,#000 16Q,#ff0 0,#e20 20Q,#c60 25Q,#ae0 31Q,#900 42Q,#6b0 60Q,#460 83Q,#230 111Q,#1e0 116Q"><i style="--s:#800,#180 12Q,#000 15Q,#ff0 0,#da0 20Q,#c20 24Q,#ac0 29Q,#910 38Q,#700 53Q,#480 77Q,#270 103Q,#190 116Q"><i style="--s:#800,#130 12Q,#000 14Q,#ff0 0,#d10 20Q,#b80 24Q,#a20 29Q,#880 38Q,#690 53Q,#420 77Q,#200 104Q,#150 116Q"><i style="--s:#800,#160 11Q,#000 14Q,#ff0 0,#c70 20Q,#b30 23Q,#a00 27Q,#890 34Q,#6a0 48Q,#450 70Q,#230 97Q,#100 116Q"><i style="--s:#800,#430 6Q,#1a0 10Q,#000 13Q,#ff0 0,#bd0 20Q,#a80 23Q,#960 27Q,#800 34Q,#600 49Q,#3c0 72Q,#1a0 100Q,#0b0 116Q"><i style="--s:#800,#570 4Q,#1e0 9Q,#000 12Q,#ff0 0,#e50 15Q,#b20 20Q,#9d0 23Q,#8b0 27Q,#760 34Q,#570 50Q,#310 75Q,#110 103Q,#060 116Q"><i style="--s:#800,#570 4Q,#230 8Q,#060 11Q,#000 12Q,#ff0 0,#ea0 14Q,#a50 20Q,#960 22Q,#870 25Q,#740 31Q,#570 45Q,#320 69Q,#110 98Q,#010 116Q"><i style="--s:#800,#640 3Q,#580 4Q,#390 6Q,#290 7Q,#1c0 8Q,#080 10Q,#000 11Q,#ff0 0,#e60 14Q,#db0 15Q,#a20 19Q,#970 20Q,#880 22Q,#7b0 25Q,#6a0 31Q,#4b0 47Q,#280 72Q,#080 102Q,#000 111Q,#ff0 0,#fb0 116Q"><i style="--s:#800,#680 3Q,#5c0 4Q,#4b0 5Q,#210 7Q,#120 8Q,#080 9Q,#000 10Q,#ff0 0,#e40 14Q,#d90 15Q,#ca0 16Q,#b60 17Q,#920 19Q,#870 20Q,#7f0 21Q,#710 24Q,#5f0 31Q,#3f0 50Q,#1b0 77Q,#000 105Q,#ff0 0,#fd0 107Q,#f60 116Q"><i style="--s:#800,#700 3Q,#660 4Q,#520 5Q,#2e0 6Q,#100 7Q,#030 8Q,#000 9Q,#ff0 0,#f60 10Q,#e40 14Q,#dd0 15Q,#ce0 16Q,#af0 17Q,#7b0 19Q,#720 20Q,#690 22Q,#5a0 28Q,#380 49Q,#150 77Q,#000 99Q,#ff0 0,#f70 108Q,#f10 116Q"><i style="--s:#7f0,#7b0 4Q,#8f0 5Q,#d50 6Q,#ee0 7Q,#eb0 11Q,#e60 15Q,#e70 16Q,#ff0 0,#000 0,#230 17Q,#5b0 19Q,#530 25Q,#250 57Q,#050 86Q,#000 92Q,#ff0 0,#ec0 116Q"><i style="--s:#7f0,#860 3Q,#8e0 4Q,#9e0 5Q,#ba0 6Q,#d20 7Q,#dc0 8Q,#e30 10Q,#ea0 14Q,#ef0 15Q,#fb0 16Q,#ff0 0,#000 0,#140 17Q,#3d0 19Q,#430 20Q,#470 22Q,#430 28Q,#120 67Q,#000 86Q,#ff0 0,#f30 99Q,#e70 116Q"><i style="--s:#7f0,#8d0 3Q,#960 4Q,#a40 5Q,#c40 7Q,#ce0 8Q,#da0 10Q,#e50 13Q,#ea0 14Q,#f10 15Q,#fc0 16Q,#ff0 0,#000 0,#280 19Q,#300 20Q,#370 22Q,#390 26Q,#2c0 39Q,#060 72Q,#000 79Q,#ff0 0,#e90 106Q,#e20 116Q"><i style="--s:#7f0,#910 3Q,#a40 5Q,#bc0 7Q,#cd0 9Q,#e70 14Q,#f80 16Q,#ff0 17Q,#000 0,#180 19Q,#1f0 20Q,#280 22Q,#2c0 25Q,#2a0 32Q,#000 72Q,#ff0 0,#fa0 77Q,#df0 112Q,#dd0 116Q"><i style="--s:#7f0,#9a0 4Q,#be0 8Q,#d20 11Q,#e30 14Q,#ff0 18Q,#000 0,#120 20Q,#1a0 22Q,#200 25Q,#200 31Q,#000 65Q,#ff0 0,#ef0 82Q,#d80 116Q"><i style="--s:#7f0,#9a0 4Q,#c00 9Q,#e40 15Q,#ff0 19Q,#000 0,#060 20Q,#110 23Q,#160 27Q,#140 35Q,#000 57Q,#ff0 0,#e90 82Q,#d30 116Q"><i style="--s:#7f0,#a70 6Q,#c70 11Q,#fa0 20Q,#ff0 22Q,#000 0,#050 23Q,#0b0 27Q,#0b0 34Q,#000 47Q,#ff0 0,#df0 87Q,#ce0 116Q"><i style="--s:#7f0,#c10 11Q,#f00 20Q,#fb0 24Q,#ff0 27Q,#000 0,#020 29Q,#000 33Q,#ff0 0,#fd0 40Q,#d90 86Q,#c90 116Q"><i style="--s:#7f0,#c10 12Q,#e60 20Q,#f10 24Q,#f70 29Q,#f40 39Q,#d10 89Q,#c40 116Q"><i style="--s:#7f0,#c00 13Q,#dd0 20Q,#e90 25Q,#ed0 31Q,#e90 44Q,#cb0 90Q,#bf0 116Q"><i style="--s:#7f0,#bb0 13Q,#d70 21Q,#e10 26Q,#e40 33Q,#dc0 51Q,#c20 96Q,#ba0 116Q"><i style="--s:#7f0,#b50 13Q,#cf0 21Q,#d80 27Q,#db0 35Q,#ba0 102Q,#b50 116Q"><i style="--s:#7f0,#b30 14Q,#c80 22Q,#d00 28Q,#d10 38Q,#b40 102Q,#b00 116Q"><i style="--s:#800,#ad0 14Q,#c00 22Q,#c80 29Q,#c80 41Q,#ae0 103Q,#ab0 116Q"><i style="--s:#800,#aa0 15Q,#bb0 24Q,#c00 32Q,#bc0 50Q,#a80 107Q,#a60 116Q"><i style="--s:#800,#a40 15Q,#b30 24Q,#b70 33Q,#b10 59Q,#a00 116Q"><i style="--s:#800,#a00 16Q,#ac0 26Q,#af0 38Q,#9b0 116Q"><i style="--s:#800,#9b0 17Q,#a50 28Q,#a50 45Q,#960 116Q"><i style="--s:#800,#970 19Q,#9d0 31Q,#980 68Q,#910 116Q"><i style="--s:#800,#910 21Q,#950 37Q,#8c0 116Q"><i style="--s:#800,#8b0 25Q,#8b0 63Q,#870 116Q"><i style="--s:#800,#840 39Q,#820 116Q"></i></i></i></i></i></i></i></i></i></i></i></i></i></i></i></i></i></i></i></i></i></i></i></i></i></i></i></i></i></i></i></i></i></i></i></i></i></i></i></i></i></i></i></i></i></i></i></i></i></i></i></i></i></i></i></i></i></i></i></i></i></i></i></i></i></i></i></i></i></i></i></i></i></i></i></i></i></i></i></i></i></i></i></i></i></i></i></i></i></i></i></i></i></i></i></i></i></i></i></i></i></i></i></i></i></i></i></i></i></i></div><div class="m v" style="left:1009px;top:1603px"><i style="--s:#000,#010 97Q,#000 116Q"><i style="--s:#000,#010 93Q,#000 116Q"><i style="--s:#000,#020 88Q,#010 116Q"><i style="--s:#000,#020 85Q,#010 116Q"><i style="--s:#000,#020 81Q,#010 116Q"><i style="--s:#000,#030 78Q,#010 116Q"><i style="--s:#000,#030 75Q,#010 116Q"><i style="--s:#010,#030 71Q,#010 116Q"><i style="--s:#010,#030 67Q,#010 116Q"><i style="--s:#020,#030 63Q,#010 116Q"><i style="--s:#020,#030 57Q,#010 116Q"><i style="--s:#020,#030 51Q,#010 116Q"><i style="--s:#030,#030 49Q,#010 116Q"><i style="--s:#030,#020 68Q,#000 116Q"><i style="--s:#030,#000 116Q"><i style="--s:#030,#000 116Q"><i style="--s:#020,#000 116Q"><i style="--s:#020,#000 116Q"><i style="--s:#020,#000 116Q"><i style="--s:#010,#000 116Q"><i style="--s:#010,#000 116Q"><i style="--s:#000,#000 116Q"><i style="--s:#000,#000 116Q"><i style="--s:#000,#000 116Q"><i style="--s:#000,#000 116Q"><i style="--s:#000,#000 116Q"><i style="--s:#000,#000 116Q"><i style="--s:#000,#000 116Q"><i style="--s:#000,#000 116Q"><i style="--s:#000,#000 116Q"><i style="--s:#000,#010 92Q,#010 116Q"><i style="--s:#000,#010 88Q,#010 116Q"><i style="--s:#000,#020 88Q,#010 116Q"><i style="--s:#000,#020 87Q,#010 116Q"><i style="--s:#000,#030 58Q,#020 106Q,#010 116Q"><i style="--s:#000,#020 46Q,#030 85Q,#010 116Q"><i style="--s:#000,#020 41Q,#050 77Q,#010 116Q"><i style="--s:#000,#020 35Q,#060 70Q,#010 116Q"><i style="--s:#000,#020 31Q,#070 66Q,#040 96Q,#010 116Q"><i style="--s:#000,#020 28Q,#090 61Q,#070 85Q,#020 116Q"><i style="--s:#010,#030 25Q,#0a0 57Q,#090 79Q,#020 116Q"><i style="--s:#020,#040 23Q,#0c0 52Q,#0b0 72Q,#020 116Q"><i style="--s:#030,#070 21Q,#0e0 48Q,#0d0 67Q,#020 114Q,#020 116Q"><i style="--s:#060,#0a0 19Q,#100 43Q,#0f0 61Q,#030 110Q,#020 116Q"><i style="--s:#0a0,#0d0 16Q,#130 38Q,#110 56Q,#040 104Q,#020 116Q"><i style="--s:#0e0,#120 16Q,#160 33Q,#130 52Q,#050 98Q,#020 116Q"><i style="--s:#140,#190 28Q,#160 45Q,#050 92Q,#020 116Q"><i style="--s:#1a0,#1d0 25Q,#180 41Q,#080 81Q,#020 108Q,#020 116Q"><i style="--s:#200,#210 22Q,#1c0 35Q,#0e0 62Q,#050 90Q,#020 116Q"><i style="--s:#250,#240 19Q,#1e0 31Q,#100 52Q,#060 81Q,#020 110Q,#010 116Q"><i style="--s:#290,#270 15Q,#1f0 28Q,#100 48Q,#070 71Q,#020 98Q,#010 116Q"><i style="--s:#2b0,#280 12Q,#1e0 26Q,#100 44Q,#080 63Q,#020 90Q,#010 116Q"><i style="--s:#2a0,#280 10Q,#1c0 25Q,#0e0 42Q,#070 60Q,#020 89Q,#010 116Q"><i style="--s:#280,#250 9Q,#0e0 37Q,#070 55Q,#020 84Q,#010 116Q"><i style="--s:#230,#200 8Q,#0f0 30Q,#070 50Q,#020 79Q,#010 116Q"><i style="--s:#1d0,#1a0 8Q,#0d0 26Q,#050 52Q,#010 85Q,#000 116Q"><i style="--s:#160,#130 9Q,#0a0 24Q,#020 63Q,#000 116Q"><i style="--s:#0f0,#0c0 10Q,#070 23Q,#040 47Q,#010 70Q,#000 116Q"><i style="--s:#090,#040 22Q,#040 40Q,#010 61Q,#000 116Q"><i style="--s:#050,#030 20Q,#050 35Q,#010 57Q,#010 85Q,#000 116Q"><i style="--s:#020,#020 19Q,#040 33Q,#010 53Q,#020 78Q,#000 106Q,#010 116Q"><i style="--s:#000,#020 17Q,#040 31Q,#010 51Q,#020 72Q,#000 100Q,#010 116Q"><i style="--s:#000,#030 19Q,#040 31Q,#010 48Q,#030 69Q,#000 96Q,#010 116Q"><i style="--s:#000,#030 27Q,#010 45Q,#040 65Q,#000 93Q,#010 116Q"><i style="--s:#010,#020 26Q,#010 43Q,#050 62Q,#000 89Q,#010 116Q"><i style="--s:#010,#010 26Q,#010 40Q,#060 59Q,#010 87Q,#020 116Q"><i style="--s:#010,#010 35Q,#070 56Q,#040 70Q,#010 86Q,#020 116Q"><i style="--s:#000,#010 30Q,#090 52Q,#060 65Q,#020 81Q,#020 116Q,#020 0"><i style="--s:#000,#020 24Q,#0c0 48Q,#0a0 59Q,#040 77Q,#030 112Q,#020 116Q"><i style="--s:#010,#040 20Q,#0f0 44Q,#0e0 53Q,#070 72Q,#040 108Q,#030 116Q"><i style="--s:#050,#070 15Q,#140 40Q,#130 49Q,#0a0 69Q,#060 103Q,#030 116Q"><i style="--s:#0c0,#0e0 13Q,#1a0 35Q,#1a0 44Q,#0e0 67Q,#080 99Q,#030 116Q"><i style="--s:#160,#190 12Q,#240 31Q,#230 40Q,#1a0 53Q,#130 65Q,#0b0 95Q,#030 116Q"><i style="--s:#250,#290 12Q,#2f0 27Q,#2e0 35Q,#260 46Q,#1b0 59Q,#150 75Q,#0d0 95Q,#040 116Q"><i style="--s:#380,#3c0 14Q,#3e0 25Q,#3b0 33Q,#2b0 48Q,#210 59Q,#140 87Q,#060 111Q,#040 116Q"><i style="--s:#4d0,#4f0 21Q,#4a0 29Q,#3d0 40Q,#2e0 52Q,#240 66Q,#180 85Q,#090 106Q,#040 116Q"><i style="--s:#630,#620 15Q,#5c0 24Q,#510 33Q,#3a0 48Q,#2f0 60Q,#1e0 81Q,#0c0 102Q,#040 116Q"><i style="--s:#770,#740 11Q,#6d0 20Q,#610 29Q,#460 45Q,#380 57Q,#240 78Q,#0f0 98Q,#060 112Q,#040 116Q"><i style="--s:#870,#840 9Q,#7c0 17Q,#6c0 27Q,#510 42Q,#420 53Q,#2a0 75Q,#130 94Q,#090 107Q,#040 116Q"><i style="--s:#920,#8f0 7Q,#880 14Q,#770 24Q,#5a0 39Q,#4a0 50Q,#300 71Q,#170 90Q,#0b0 104Q,#040 116Q"><i style="--s:#960,#930 7Q,#8a0 14Q,#6f0 28Q,#590 40Q,#310 70Q,#1a0 87Q,#0d0 100Q,#050 115Q,#040 116Q"><i style="--s:#920,#900 6Q,#870 13Q,#600 34Q,#4d0 48Q,#330 67Q,#1a0 85Q,#0e0 98Q,#050 113Q,#040 116Q"><i style="--s:#870,#840 7Q,#7b0 14Q,#5b0 33Q,#350 63Q,#1b0 82Q,#0e0 95Q,#060 111Q,#040 116Q"><i style="--s:#770,#740 7Q,#6a0 15Q,#520 32Q,#330 60Q,#180 81Q,#0d0 95Q,#050 113Q,#040 116Q"><i style="--s:#620,#5f0 8Q,#510 21Q,#420 35Q,#2f0 57Q,#150 80Q,#0b0 94Q,#040 114Q,#040 116Q"><i style="--s:#4b0,#480 9Q,#350 35Q,#280 55Q,#110 80Q,#080 96Q,#030 116Q"><i style="--s:#350,#320 12Q,#270 38Q,#210 53Q,#0d0 81Q,#060 99Q,#030 116Q"><i style="--s:#210,#1b0 48Q,#110 66Q,#080 84Q,#030 115Q,#030 116Q"><i style="--s:#120,#140 46Q,#0e0 63Q,#070 84Q,#020 116Q"><i style="--s:#070,#0a0 20Q,#0f0 42Q,#0d0 58Q,#050 85Q,#020 116Q"><i style="--s:#010,#050 16Q,#0b0 39Q,#0a0 56Q,#040 90Q,#020 116Q"><i style="--s:#000,#030 15Q,#090 37Q,#090 58Q,#030 99Q,#020 116Q"><i style="--s:#010,#060 21Q,#090 45Q,#060 69Q,#020 103Q,#020 116Q"><i style="--s:#040,#080 55Q,#020 97Q,#020 116Q"><i style="--s:#060,#070 39Q,#090 57Q,#020 89Q,#020 116Q"><i style="--s:#060,#050 31Q,#090 52Q,#050 69Q,#020 87Q,#020 116Q"><i style="--s:#040,#030 26Q,#0a0 48Q,#080 60Q,#020 78Q,#020 116Q"><i style="--s:#010,#020 22Q,#0b0 44Q,#090 55Q,#020 72Q,#030 93Q,#030 116Q"><i style="--s:#000,#020 17Q,#0b0 39Q,#0a0 48Q,#010 67Q,#010 81Q,#040 104Q,#030 116Q"><i style="--s:#020,#040 14Q,#0d0 33Q,#0b0 43Q,#010 62Q,#010 74Q,#050 97Q,#040 116Q"><i style="--s:#080,#0b0 14Q,#100 28Q,#0d0 38Q,#010 56Q,#000 65Q,#070 89Q,#060 108Q,#040 116Q"><i style="--s:#140,#160 22Q,#120 31Q,#030 49Q,#010 58Q,#0b0 83Q,#0a0 98Q,#040 116Q"><i style="--s:#250,#230 14Q,#1c0 24Q,#090 42Q,#050 49Q,#080 58Q,#110 75Q,#110 86Q,#050 116Q"><i style="--s:#3a0,#370 9Q,#300 17Q,#160 35Q,#100 43Q,#110 50Q,#1b0 68Q,#1b0 78Q,#140 92Q,#070 113Q,#050 116Q"><i style="--s:#540,#510 7Q,#490 14Q,#2e0 30Q,#260 37Q,#250 43Q,#2a0 55Q,#2d0 64Q,#2b0 72Q,#210 84Q,#0d0 104Q,#060 116Q"><i style="--s:#720,#6f0 7Q,#660 14Q,#500 28Q,#490 35Q,#490 44Q,#4a0 57Q,#460 64Q,#3a0 74Q,#190 95Q,#0d0 106Q,#060 116Q"><i style="--s:#950,#920 7Q,#850 19Q,#7d0 28Q,#790 38Q,#760 49Q,#6f0 57Q,#620 64Q,#2c0 87Q,#1a0 97Q,#0e0 106Q,#060 116Q"><i style="--s:#b80,#b50 13Q,#b10 28Q,#af0 40Q,#aa0 46Q,#9f0 52Q,#8d0 59Q,#670 70Q,#420 81Q,#2d0 89Q,#1a0 98Q,#0f0 106Q,#070 116Q"><i style="--s:#d70,#d90 14Q,#e20 31Q,#e00 38Q,#da0 43Q,#cf0 48Q,#bf0 53Q,#9e0 61Q,#600 75Q,#460 82Q,#300 89Q,#1d0 97Q,#110 105Q,#080 115Q,#070 116Q"><i style="--s:#e90,#eb0 9Q,#f60 21Q,#fe0 30Q,#ff0 35Q,#fa0 40Q,#f20 44Q,#e60 48Q,#d30 53Q,#ac0 61Q,#740 72Q,#500 80Q,#3b0 86Q,#270 93Q,#190 100Q,#0e0 108Q,#070 116Q"></i></i></i></i></i></i></i></i></i></i></i></i></i></i></i></i></i></i></i></i></i></i></i></i></i></i></i></i></i></i></i></i></i></i></i></i></i></i></i></i></i></i></i></i></i></i></i></i></i></i></i></i></i></i></i></i></i></i></i></i></i></i></i></i></i></i></i></i></i></i></i></i></i></i></i></i></i></i></i></i></i></i></i></i></i></i></i></i></i></i></i></i></i></i></i></i></i></i></i></i></i></i></i></i></i></i></i></i></i></i></div><div class="m P v" style="left:1312px;top:1603px"><i style="--s:#7b0,#610 2Q,#5d0 3Q,#5c0 5Q,#5f0 14Q,#560 32Q,#330 83Q,#230 116Q"><i style="--s:#000,#000 0,#ff0 0,#ef0 3Q,#e70 4Q,#dc0 5Q,#cb0 6Q,#a30 8Q,#970 9Q,#8f0 10Q,#820 13Q,#720 21Q,#560 44Q,#320 83Q,#1a0 116Q"><i style="--s:#000,#000 0,#ff0 0,#db0 6Q,#ae0 12Q,#990 16Q,#840 22Q,#6f0 32Q,#4f0 55Q,#270 92Q,#120 116Q"><i style="--s:#000,#000 0,#ff0 0,#b40 14Q,#970 21Q,#810 29Q,#640 44Q,#390 74Q,#130 107Q,#0a0 116Q"><i style="--s:#ff0,#c00 13Q,#9e0 22Q,#830 32Q,#600 49Q,#2f0 80Q,#050 113Q,#020 116Q"><i style="--s:#ff0,#c90 12Q,#a20 23Q,#820 35Q,#570 56Q,#210 88Q,#000 111Q,#ff0 0,#f80 116Q"><i style="--s:#ff0,#cc0 12Q,#a40 24Q,#7b0 40Q,#490 64Q,#0c0 99Q,#000 107Q,#ff0 0,#f00 116Q"><i style="--s:#ff0,#cf0 12Q,#a50 25Q,#750 44Q,#3b0 71Q,#000 103Q,#ff0 0,#f60 108Q,#e90 116Q"><i style="--s:#ff0,#cd0 13Q,#a00 28Q,#610 53Q,#1f0 84Q,#000 100Q,#ff0 0,#e10 116Q"><i style="--s:#ff0,#cf0 13Q,#a00 29Q,#510 60Q,#000 97Q,#ff0 0,#f90 100Q,#d90 116Q"><i style="--s:#ff0,#ce0 14Q,#950 34Q,#420 66Q,#000 96Q,#ff0 0,#d40 115Q,#d20 116Q"><i style="--s:#ff0,#cc0 15Q,#580 57Q,#140 85Q,#000 93Q,#ff0 0,#cb0 116Q"><i style="--s:#ff0,#ca0 16Q,#3f0 66Q,#000 91Q,#ff0 0,#c50 115Q,#c30 116Q"><i style="--s:#ff0,#c00 20Q,#390 67Q,#000 89Q,#ff0 0,#de0 102Q,#bc0 116Q"><i style="--s:#ff0,#b30 25Q,#390 66Q,#000 87Q,#ff0 0,#e50 97Q,#ba0 113Q,#b40 116Q"><i style="--s:#ff0,#760 45Q,#380 65Q,#000 85Q,#ff0 0,#e10 96Q,#b40 112Q,#ab0 116Q"><i style="--s:#000,#000 0,#ff0 0,#a10 31Q,#390 63Q,#000 83Q,#ff0 0,#d30 98Q,#a90 113Q,#a20 116Q"><i style="--s:#000,#000 0,#ff0 0,#c20 21Q,#440 58Q,#000 80Q,#ff0 0,#b10 106Q,#960 116Q"><i style="--s:#000,#000 0,#ff0 0,#d30 16Q,#a80 28Q,#6f0 43Q,#000 76Q,#ff0 0,#f30 80Q,#ac0 104Q,#890 116Q"><i style="--s:#000,#000 0,#ff0 0,#db0 14Q,#bf0 22Q,#810 35Q,#5e0 45Q,#310 59Q,#000 71Q,#ff0 0,#f50 74Q,#d80 84Q,#b40 98Q,#7a0 115Q,#770 116Q"><i style="--s:#000,#000 0,#ff0 0,#e50 12Q,#d50 17Q,#bc0 22Q,#890 29Q,#760 33Q,#5d0 41Q,#400 52Q,#280 58Q,#000 66Q,#ff0 0,#f40 68Q,#dd0 75Q,#c40 87Q,#ad0 97Q,#9b0 102Q,#710 111Q,#620 116Q"><i style="--s:#000,#000 0,#ff0 0,#e90 14Q,#e00 17Q,#d30 19Q,#c40 20Q,#aa0 21Q,#8e0 22Q,#7d0 23Q,#740 24Q,#6b0 26Q,#5d0 33Q,#440 47Q,#350 52Q,#220 56Q,#040 60Q,#000 61Q,#ff0 0,#ef0 63Q,#e10 66Q,#d20 71Q,#bc0 85Q,#ab0 95Q,#9f0 99Q,#8f0 102Q,#6b0 107Q,#580 111Q,#4e0 115Q,#4c0 116Q"><i style="--s:#ff0,#ff0 0,#000 0,#020 7Q,#080 10Q,#110 12Q,#220 14Q,#370 16Q,#4a0 19Q,#500 22Q,#510 28Q,#460 41Q,#3a0 48Q,#2f0 51Q,#230 53Q,#040 56Q,#000 0,#ff0 0,#ed0 58Q,#de0 60Q,#d20 63Q,#c60 69Q,#aa0 94Q,#9f0 98Q,#940 100Q,#8c0 101Q,#640 104Q,#590 105Q,#4b0 107Q,#3f0 111Q,#390 116Q"><i style="--s:#020,#240 2Q,#2e0 3Q,#3a0 5Q,#440 8Q,#4b0 13Q,#4d0 23Q,#450 38Q,#3a0 46Q,#310 49Q,#2b0 50Q,#230 51Q,#140 52Q,#010 53Q,#000 0,#ff0 0,#de0 55Q,#d50 56Q,#cb0 58Q,#c30 62Q,#b60 76Q,#a70 98Q,#a50 99Q,#a00 100Q,#8b0 101Q,#490 102Q,#360 103Q,#2f0 105Q,#290 116Q"><i style="--s:#7f0,#690 4Q,#5d0 8Q,#530 15Q,#3d0 45Q,#360 48Q,#2f0 49Q,#0c0 50Q,#000 0,#ff0 0,#de0 51Q,#c90 52Q,#bd0 56Q,#b30 71Q,#af0 88Q,#b30 94Q,#b70 96Q,#bc0 97Q,#c30 98Q,#cf0 99Q,#f40 101Q,#ff0 102Q,#000 0,#020 0,#0b0 103Q,#130 105Q,#1a0 111Q,#1c0 116Q"><i style="--s:#7f0,#690 6Q,#5b0 12Q,#4e0 24Q,#450 40Q,#470 44Q,#4a0 45Q,#510 46Q,#640 47Q,#8c0 48Q,#a30 49Q,#ac0 50Q,#b20 53Q,#ae0 82Q,#b20 89Q,#bd0 94Q,#c70 96Q,#de0 99Q,#f50 102Q,#ff0 104Q,#000 0,#030 105Q,#0d0 111Q,#100 116Q"><i style="--s:#7f0,#670 8Q,#580 16Q,#4c0 29Q,#4c0 37Q,#500 40Q,#590 42Q,#610 43Q,#6e0 44Q,#8f0 46Q,#9a0 47Q,#a10 48Q,#a80 50Q,#ad0 56Q,#ae0 80Q,#b30 87Q,#c20 93Q,#d40 97Q,#ec0 102Q,#f80 106Q,#ff0 111Q,#000 0,#030 114Q,#050 116Q"><i style="--s:#7f0,#670 9Q,#590 17Q,#510 28Q,#530 34Q,#5f0 38Q,#6c0 40Q,#8b0 43Q,#990 45Q,#a30 48Q,#a90 55Q,#ad0 78Q,#b50 86Q,#c60 93Q,#e40 102Q,#f10 108Q,#f90 116Q"><i style="--s:#7f0,#670 10Q,#5a0 20Q,#580 27Q,#5c0 31Q,#650 34Q,#7f0 38Q,#930 41Q,#9e0 44Q,#a50 49Q,#ad0 76Q,#b70 85Q,#cd0 95Q,#e10 104Q,#ee0 115Q,#ef0 116Q"><i style="--s:#7f0,#690 11Q,#600 20Q,#620 25Q,#680 28Q,#730 31Q,#940 37Q,#9d0 40Q,#a40 45Q,#ad0 74Q,#b70 84Q,#d90 104Q,#e40 116Q"><i style="--s:#7f0,#6e0 11Q,#6a0 17Q,#6f0 22Q,#780 25Q,#970 32Q,#a30 37Q,#a80 44Q,#ac0 69Q,#b60 82Q,#d10 103Q,#da0 116Q"><i style="--s:#7f0,#760 10Q,#790 15Q,#860 20Q,#9e0 26Q,#a70 30Q,#ac0 38Q,#ac0 65Q,#b60 80Q,#cb0 103Q,#d10 116Q"><i style="--s:#7f0,#830 7Q,#8b0 11Q,#aa0 19Q,#b10 23Q,#b40 30Q,#ae0 59Q,#b40 76Q,#c40 104Q,#c70 116Q"><i style="--s:#7f0,#ad0 7Q,#b90 10Q,#c00 14Q,#c20 22Q,#b30 52Q,#b40 71Q,#be0 106Q,#be0 116Q"><i style="--s:#ff0,#ea0 3Q,#df0 6Q,#d60 12Q,#bd0 43Q,#b60 63Q,#b50 114Q,#b50 116Q"><i style="--s:#ff0,#ee0 6Q,#df0 16Q,#c60 41Q,#ba0 63Q,#ac0 116Q"><i style="--s:#000,#000 0,#ff0 0,#fb0 7Q,#d60 34Q,#c10 57Q,#ac0 98Q,#a40 116Q"><i style="--s:#130,#290 2Q,#290 3Q,#050 15Q,#000 18Q,#ff0 0,#ea0 28Q,#d00 47Q,#b60 75Q,#9b0 116Q"><i style="--s:#7f0,#530 5Q,#380 9Q,#1f0 14Q,#060 22Q,#000 25Q,#ff0 0,#ec0 33Q,#cf0 52Q,#af0 81Q,#930 116Q"><i style="--s:#7f0,#480 9Q,#2c0 15Q,#100 23Q,#000 29Q,#ff0 0,#f50 33Q,#d60 50Q,#b10 77Q,#910 108Q,#8a0 116Q"><i style="--s:#7f0,#470 11Q,#230 20Q,#050 30Q,#000 32Q,#ff0 0,#e30 45Q,#bc0 68Q,#940 98Q,#810 116Q"><i style="--s:#7f0,#480 12Q,#220 22Q,#000 34Q,#000 0,#ff0 0,#da0 51Q,#ad0 77Q,#850 106Q,#790 116Q"><i style="--s:#7f0,#470 13Q,#1e0 25Q,#000 36Q,#ff0 0,#f40 40Q,#c90 60Q,#9a0 87Q,#700 116Q"><i style="--s:#7f0,#460 14Q,#1b0 27Q,#000 37Q,#ff0 0,#ec0 44Q,#bc0 66Q,#880 95Q,#680 116Q"><i style="--s:#7f0,#480 14Q,#170 29Q,#000 38Q,#ff0 0,#e30 48Q,#b00 71Q,#760 102Q,#600 116Q"><i style="--s:#7f0,#460 15Q,#100 32Q,#000 38Q,#ff0 0,#d20 55Q,#9a0 80Q,#5e0 112Q,#570 116Q"><i style="--s:#7f0,#440 16Q,#080 35Q,#000 38Q,#ff0 0,#c70 59Q,#8c0 85Q,#510 115Q,#4f0 116Q"><i style="--s:#7f0,#410 17Q,#000 38Q,#ff0 0,#f60 41Q,#ba0 63Q,#6f0 96Q,#470 116Q"><i style="--s:#7f0,#380 20Q,#000 38Q,#ff0 0,#e00 48Q,#aa0 68Q,#500 107Q,#3e0 116Q"><i style="--s:#7f0,#320 22Q,#000 38Q,#ff0 0,#ca0 55Q,#920 76Q,#460 108Q,#350 116Q"><i style="--s:#7f0,#240 26Q,#000 37Q,#ff0 0,#c00 57Q,#870 78Q,#3f0 107Q,#2d0 116Q"><i style="--s:#7f0,#050 35Q,#000 36Q,#ff0 0,#b50 59Q,#6e0 85Q,#360 107Q,#230 116Q"><i style="--s:#7f0,#000 36Q,#ff0 0,#c60 52Q,#8c0 71Q,#330 104Q,#190 116Q"><i style="--s:#800,#000 35Q,#ff0 0,#c00 52Q,#840 71Q,#2d0 102Q,#0e0 116Q"><i style="--s:#800,#250 24Q,#000 34Q,#ff0 0,#c80 48Q,#810 69Q,#2c0 98Q,#070 113Q,#010 116Q"><i style="--s:#800,#370 19Q,#000 32Q,#ff0 0,#db0 41Q,#750 69Q,#410 86Q,#000 110Q,#ff0 0,#fe0 0,#f10 116Q"><i style="--s:#800,#450 15Q,#000 30Q,#ff0 0,#eb0 35Q,#640 70Q,#3a0 84Q,#090 101Q,#000 104Q,#ff0 0,#e90 112Q,#e10 116Q"><i style="--s:#800,#4f0 12Q,#000 28Q,#ff0 0,#f20 31Q,#930 55Q,#640 66Q,#440 76Q,#130 94Q,#000 100Q,#ff0 0,#e20 108Q,#cf0 116Q"><i style="--s:#800,#500 11Q,#000 26Q,#ff0 0,#f90 27Q,#d00 37Q,#a20 49Q,#600 63Q,#480 70Q,#160 90Q,#000 96Q,#ff0 0,#fc0 97Q,#d80 105Q,#c70 111Q,#be0 116Q"><i style="--s:#800,#550 9Q,#2a0 16Q,#000 23Q,#000 0,#ff0 0,#e50 29Q,#aa0 45Q,#8d0 51Q,#5d0 60Q,#470 66Q,#2f0 76Q,#150 88Q,#000 94Q,#ff0 0,#ff0 0,#e80 98Q,#d00 102Q,#c00 106Q,#b20 113Q,#ae0 116Q"><i style="--s:#800,#580 7Q,#170 16Q,#000 20Q,#ff0 0,#f50 22Q,#d70 30Q,#ae0 42Q,#960 47Q,#5b0 57Q,#470 62Q,#350 69Q,#130 87Q,#030 92Q,#000 0,#ff0 0,#f60 94Q,#e50 96Q,#c90 99Q,#bc0 101Q,#b00 104Q,#a40 111Q,#a00 116Q"><i style="--s:#800,#490 6Q,#250 10Q,#110 13Q,#000 17Q,#ff0 0,#f40 19Q,#d30 29Q,#ae0 40Q,#9b0 44Q,#810 48Q,#650 52Q,#4b0 57Q,#3c0 62Q,#2a0 71Q,#110 88Q,#030 92Q,#000 0,#ff0 0,#f90 93Q,#ec0 94Q,#d80 95Q,#c30 96Q,#b40 97Q,#ab0 98Q,#a20 100Q,#9a0 104Q,#930 116Q"><i style="--s:#010,#110 2Q,#150 3Q,#140 5Q,#000 12Q,#ff0 0,#fe0 0,#b90 35Q,#9f0 41Q,#8c0 44Q,#630 49Q,#520 52Q,#3c0 58Q,#2c0 66Q,#1d0 79Q,#190 87Q,#1c0 90Q,#2a0 92Q,#460 93Q,#6b0 94Q,#7d0 95Q,#830 96Q,#870 99Q,#870 116Q"><i style="--s:#000,#000 0,#ff0 0,#fd0 6Q,#f00 13Q,#c40 30Q,#b20 35Q,#9d0 39Q,#850 42Q,#610 46Q,#4f0 49Q,#400 53Q,#2e0 61Q,#220 71Q,#1d0 80Q,#200 84Q,#280 87Q,#330 89Q,#5c0 93Q,#690 95Q,#730 98Q,#790 104Q,#7b0 116Q"><i style="--s:#000,#000 0,#ff0 0,#f20 9Q,#d20 23Q,#bd0 30Q,#ab0 34Q,#960 37Q,#780 40Q,#650 42Q,#560 44Q,#480 47Q,#390 52Q,#280 62Q,#200 72Q,#210 79Q,#280 83Q,#330 86Q,#590 93Q,#640 97Q,#6c0 104Q,#700 116Q"><i style="--s:#000,#000 0,#ff0 0,#e60 13Q,#c90 24Q,#b50 29Q,#a20 32Q,#8f0 34Q,#650 38Q,#570 40Q,#490 43Q,#390 49Q,#270 60Q,#210 69Q,#240 77Q,#2e0 82Q,#510 92Q,#5c0 98Q,#640 110Q,#650 116Q"><i style="--s:#000,#000 0,#ff0 0,#df0 14Q,#c80 21Q,#ba0 24Q,#ad0 26Q,#9b0 28Q,#7a0 31Q,#680 33Q,#520 37Q,#420 42Q,#300 51Q,#240 62Q,#220 70Q,#290 77Q,#3a0 84Q,#4c0 92Q,#550 100Q,#5b0 116Q"><i style="--s:#000,#000 0,#ff0 0,#e00 10Q,#cf0 14Q,#bd0 17Q,#9a0 21Q,#7f0 24Q,#6b0 27Q,#5a0 31Q,#430 39Q,#300 50Q,#240 61Q,#240 69Q,#2d0 77Q,#430 89Q,#4d0 100Q,#510 116Q"><i style="--s:#800,#860 5Q,#840 9Q,#760 16Q,#4a0 34Q,#310 48Q,#260 59Q,#260 67Q,#300 77Q,#3f0 89Q,#460 104Q,#470 116Q"><i style="--s:#800,#6c0 15Q,#380 43Q,#2a0 55Q,#270 64Q,#2f0 75Q,#3a0 88Q,#3d0 108Q,#3d0 116Q"><i style="--s:#800,#5a0 23Q,#380 43Q,#2b0 55Q,#2a0 64Q,#350 87Q,#330 116Q"><i style="--s:#800,#3a0 42Q,#2e0 53Q,#2c0 65Q,#300 87Q,#2a0 116Q"><i style="--s:#800,#3e0 39Q,#310 51Q,#2d0 65Q,#2b0 88Q,#200 116Q"><i style="--s:#800,#450 35Q,#350 49Q,#2e0 66Q,#220 94Q,#170 116Q"><i style="--s:#800,#480 33Q,#370 48Q,#1b0 94Q,#0e0 116Q"><i style="--s:#7f0,#4a0 32Q,#380 48Q,#160 92Q,#050 116Q"><i style="--s:#7f0,#4c0 31Q,#380 49Q,#0e0 94Q,#000 110Q,#ff0 0,#fa0 116Q"><i style="--s:#7f0,#4e0 30Q,#360 51Q,#000 102Q,#ff0 0,#f60 110Q,#f10 116Q"><i style="--s:#7f0,#4f0 30Q,#000 95Q,#ff0 0,#f20 106Q,#e80 116Q"><i style="--s:#7f0,#4d0 31Q,#090 82Q,#000 89Q,#ff0 0,#e20 113Q,#de0 116Q"><i style="--s:#7f0,#4c0 32Q,#0a0 77Q,#000 84Q,#ff0 0,#de0 108Q,#d50 116Q"><i style="--s:#7f0,#420 38Q,#000 80Q,#ff0 0,#e00 100Q,#cb0 116Q"><i style="--s:#7f0,#030 74Q,#000 76Q,#ff0 0,#d10 105Q,#c20 116Q"><i style="--s:#7f0,#1a0 58Q,#000 72Q,#ff0 0,#d40 97Q,#b80 116Q"><i style="--s:#800,#2b0 46Q,#000 69Q,#ff0 0,#d60 90Q,#b10 114Q,#ae0 116Q"><i style="--s:#800,#360 38Q,#000 65Q,#ff0 0,#dc0 82Q,#b30 105Q,#a40 116Q"><i style="--s:#800,#3d0 32Q,#000 60Q,#ff0 0,#e80 71Q,#b40 98Q,#9a0 116Q"><i style="--s:#800,#340 33Q,#000 56Q,#ff0 0,#e90 65Q,#ae0 94Q,#930 112Q,#8f0 116Q"><i style="--s:#800,#030 49Q,#000 50Q,#ff0 0,#b20 85Q,#940 102Q,#830 116Q"><i style="--s:#7f0,#440 19Q,#000 45Q,#ff0 0,#fe0 0,#af0 79Q,#8f0 96Q,#790 113Q,#760 116Q"><i style="--s:#7f0,#5f0 6Q,#470 12Q,#230 25Q,#000 39Q,#ff0 0,#b50 69Q,#8e0 88Q,#750 104Q,#690 116Q"><i style="--s:#070,#260 2Q,#2b0 3Q,#2e0 5Q,#290 11Q,#100 25Q,#000 32Q,#ff0 0,#e20 44Q,#a50 69Q,#7c0 89Q,#650 105Q,#5a0 116Q"><i style="--s:#000,#0c0 6Q,#0f0 11Q,#090 19Q,#000 24Q,#ff0 0,#f70 29Q,#a20 63Q,#6d0 89Q,#550 105Q,#4a0 116Q"><i style="--s:#000,#030 10Q,#000 14Q,#ff0 0,#fb0 19Q,#eb0 28Q,#a40 55Q,#560 93Q,#440 105Q,#3b0 116Q"><i style="--s:#000,#000 0,#ff0 0,#fa0 12Q,#ee0 21Q,#d70 30Q,#a90 46Q,#850 63Q,#590 84Q,#3d0 98Q,#2f0 110Q,#2c0 116Q"><i style="--s:#000,#000 0,#ff0 0,#f40 12Q,#e50 20Q,#cc0 28Q,#a90 39Q,#900 50Q,#620 74Q,#330 93Q,#260 102Q,#1e0 115Q,#1d0 116Q"><i style="--s:#000,#000 0,#ff0 0,#ee0 11Q,#df0 17Q,#ab0 31Q,#950 40Q,#640 68Q,#4c0 77Q,#2c0 87Q,#1c0 95Q,#130 105Q,#100 116Q"><i style="--s:#000,#000 0,#ff0 0,#ea0 8Q,#d20 14Q,#ae0 22Q,#9c0 28Q,#860 40Q,#630 63Q,#520 70Q,#360 77Q,#1e0 83Q,#120 88Q,#070 97Q,#030 112Q,#030 116Q"><i style="--s:#ef0,#c80 2Q,#c00 3Q,#b40 6Q,#a10 13Q,#8a0 27Q,#620 59Q,#550 65Q,#4a0 68Q,#390 71Q,#170 76Q,#0a0 79Q,#000 83Q,#ff0 0,#fe0 84Q,#f60 94Q,#f60 113Q,#f60 116Q"><i style="--s:#800,#880 9Q,#850 20Q,#630 56Q,#580 62Q,#500 64Q,#480 65Q,#3e0 66Q,#1c0 68Q,#0d0 69Q,#020 70Q,#000 0,#ff0 0,#f60 72Q,#eb0 77Q,#e60 87Q,#e90 111Q,#eb0 116Q"><i style="--s:#800,#800 15Q,#6b0 50Q,#6d0 56Q,#720 58Q,#760 59Q,#7f0 60Q,#8f0 61Q,#a50 62Q,#b90 63Q,#c40 64Q,#ca0 65Q,#d20 68Q,#d60 81Q,#df0 114Q,#e00 116Q"><i style="--s:#800,#7b0 21Q,#740 40Q,#770 46Q,#7f0 50Q,#8b0 53Q,#ae0 59Q,#b90 62Q,#c20 67Q,#c90 82Q,#d50 116Q"><i style="--s:#800,#7c0 32Q,#810 40Q,#8d0 46Q,#aa0 56Q,#b50 63Q,#bd0 78Q,#cb0 116Q"><i style="--s:#7f0,#810 26Q,#870 35Q,#a70 55Q,#b00 67Q,#c00 116Q"><i style="--s:#7f0,#840 23Q,#900 37Q,#a10 53Q,#aa0 76Q,#b60 116Q"><i style="--s:#7f0,#860 22Q,#9c0 52Q,#ac0 116Q"><i style="--s:#7f0,#890 25Q,#960 51Q,#a20 116Q"><i style="--s:#7f0,#900 55Q,#980 116Q"><i style="--s:#7f0,#8a0 58Q,#8e0 116Q"><i style="--s:#7f0,#840 116Q"></i></i></i></i></i></i></i></i></i></i></i></i></i></i></i></i></i></i></i></i></i></i></i></i></i></i></i></i></i></i></i></i></i></i></i></i></i></i></i></i></i></i></i></i></i></i></i></i></i></i></i></i></i></i></i></i></i></i></i></i></i></i></i></i></i></i></i></i></i></i></i></i></i></i></i></i></i></i></i></i></i></i></i></i></i></i></i></i></i></i></i></i></i></i></i></i></i></i></i></i></i></i></i></i></i></i></i></i></i></i></div><div class="m v" style="left:1616px;top:1603px"><div class="w" style="left:-5px;top:-3px"><i style="--s:#050,#080 44Q,#090 80Q,#060 123Q"><i style="--s:#050,#0a0 75Q,#060 123Q"><i style="--s:#050,#0a0 71Q,#060 123Q"><i style="--s:#060,#0a0 68Q,#060 123Q"><i style="--s:#070,#0a0 63Q,#060 123Q"><i style="--s:#070,#0a0 57Q,#060 123Q"><i style="--s:#080,#0a0 49Q,#060 123Q"><i style="--s:#090,#0a0 46Q,#060 123Q"><i style="--s:#090,#0a0 43Q,#050 123Q"><i style="--s:#0a0,#090 43Q,#050 123Q"><i style="--s:#0a0,#090 44Q,#050 123Q"><i style="--s:#0a0,#050 123Q"><i style="--s:#090,#050 123Q"><i style="--s:#090,#050 111Q,#040 123Q"><i style="--s:#080,#050 96Q,#040 123Q"><i style="--s:#070,#050 82Q,#040 123Q"><i style="--s:#060,#040 79Q,#040 123Q"><i style="--s:#060,#040 92Q,#040 123Q"><i style="--s:#050,#040 123Q"><i style="--s:#050,#040 123Q"><i style="--s:#040,#040 123Q"><i style="--s:#040,#040 103Q,#040 123Q"><i style="--s:#040,#050 75Q,#040 123Q"><i style="--s:#040,#050 67Q,#040 123Q"><i style="--s:#040,#050 63Q,#050 97Q,#050 123Q"><i style="--s:#050,#050 59Q,#050 89Q,#050 123Q"><i style="--s:#050,#050 56Q,#060 86Q,#050 123Q"><i style="--s:#040,#050 51Q,#060 82Q,#050 123Q"><i style="--s:#040,#050 48Q,#070 80Q,#050 123Q"><i style="--s:#040,#050 45Q,#070 78Q,#060 123Q"><i style="--s:#040,#060 43Q,#080 77Q,#060 123Q"><i style="--s:#040,#060 40Q,#090 76Q,#060 123Q"><i style="--s:#040,#060 38Q,#0a0 76Q,#070 121Q,#070 123Q"><i style="--s:#040,#060 35Q,#0b0 75Q,#090 111Q,#070 123Q"><i style="--s:#040,#060 33Q,#0c0 72Q,#0a0 103Q,#070 123Q"><i style="--s:#040,#060 30Q,#0e0 70Q,#0c0 97Q,#080 123Q"><i style="--s:#040,#060 28Q,#0f0 67Q,#0f0 90Q,#080 123Q"><i style="--s:#050,#070 26Q,#110 64Q,#110 85Q,#080 123Q"><i style="--s:#050,#080 24Q,#130 61Q,#130 81Q,#080 123Q"><i style="--s:#070,#0a0 22Q,#150 57Q,#150 76Q,#0d0 108Q,#090 123Q"><i style="--s:#090,#0c0 20Q,#170 53Q,#180 71Q,#100 99Q,#090 123Q"><i style="--s:#0c0,#0e0 17Q,#190 49Q,#1a0 67Q,#130 93Q,#090 123Q"><i style="--s:#0f0,#120 16Q,#1c0 45Q,#1c0 63Q,#150 87Q,#090 123Q"><i style="--s:#140,#170 15Q,#1f0 40Q,#1f0 58Q,#180 81Q,#0a0 118Q,#090 123Q"><i style="--s:#1a0,#1d0 15Q,#230 35Q,#220 53Q,#190 79Q,#0b0 113Q,#090 123Q"><i style="--s:#200,#240 17Q,#270 33Q,#240 51Q,#0c0 108Q,#090 123Q"><i style="--s:#260,#2b0 28Q,#270 44Q,#0e0 102Q,#080 123Q"><i style="--s:#2d0,#2f0 25Q,#2a0 40Q,#110 90Q,#090 116Q,#080 123Q"><i style="--s:#330,#330 23Q,#2d0 37Q,#1a0 67Q,#0d0 98Q,#080 123Q"><i style="--s:#380,#360 20Q,#300 32Q,#1d0 59Q,#0e0 90Q,#080 116Q,#080 123Q"><i style="--s:#3c0,#390 16Q,#310 29Q,#1d0 55Q,#100 81Q,#090 105Q,#070 123Q"><i style="--s:#3d0,#3b0 13Q,#310 27Q,#1d0 50Q,#120 71Q,#090 98Q,#070 123Q"><i style="--s:#3d0,#3a0 11Q,#300 25Q,#1c0 47Q,#120 66Q,#090 95Q,#060 123Q"><i style="--s:#3b0,#380 10Q,#2b0 26Q,#1a0 45Q,#100 64Q,#080 93Q,#060 123Q"><i style="--s:#370,#340 9Q,#1b0 39Q,#100 59Q,#090 85Q,#060 120Q,#060 123Q"><i style="--s:#320,#2f0 8Q,#1b0 33Q,#0e0 59Q,#080 85Q,#050 123Q"><i style="--s:#2b0,#280 8Q,#190 28Q,#0b0 63Q,#050 107Q,#050 123Q"><i style="--s:#240,#200 9Q,#150 26Q,#090 66Q,#050 118Q,#050 123Q"><i style="--s:#1c0,#190 9Q,#120 24Q,#0d0 46Q,#080 65Q,#050 119Q,#050 123Q"><i style="--s:#150,#110 12Q,#0e0 24Q,#0e0 41Q,#080 62Q,#060 92Q,#050 118Q,#050 123Q"><i style="--s:#0f0,#0c0 21Q,#0d0 38Q,#070 60Q,#070 85Q,#040 111Q,#050 123Q"><i style="--s:#0b0,#0a0 19Q,#0d0 34Q,#070 58Q,#080 80Q,#040 107Q,#050 123Q"><i style="--s:#080,#080 17Q,#0c0 32Q,#070 55Q,#090 77Q,#040 104Q,#060 123Q"><i style="--s:#060,#080 16Q,#0b0 30Q,#070 52Q,#0a0 74Q,#040 102Q,#060 123Q"><i style="--s:#050,#080 16Q,#0a0 30Q,#070 49Q,#0b0 70Q,#050 100Q,#060 123Q"><i style="--s:#060,#090 28Q,#070 46Q,#0c0 67Q,#090 82Q,#050 98Q,#070 123Q"><i style="--s:#060,#080 28Q,#070 44Q,#0e0 64Q,#0b0 77Q,#060 94Q,#070 123Q"><i style="--s:#060,#070 31Q,#090 43Q,#100 61Q,#0e0 72Q,#070 90Q,#080 123Q"><i style="--s:#060,#080 35Q,#120 58Q,#110 68Q,#090 88Q,#090 123Q"><i style="--s:#060,#090 27Q,#100 43Q,#150 55Q,#140 65Q,#0b0 85Q,#090 123Q"><i style="--s:#080,#0a0 21Q,#120 37Q,#190 50Q,#180 60Q,#0e0 83Q,#0b0 118Q,#0a0 123Q"><i style="--s:#0c0,#0e0 16Q,#170 33Q,#1e0 47Q,#1d0 57Q,#120 80Q,#0d0 115Q,#0b0 123Q"><i style="--s:#120,#150 14Q,#240 42Q,#240 51Q,#1c0 66Q,#150 80Q,#100 110Q,#0c0 123Q"><i style="--s:#1c0,#1f0 13Q,#2c0 38Q,#2c0 47Q,#240 60Q,#1b0 75Q,#130 107Q,#0c0 123Q"><i style="--s:#290,#2b0 12Q,#360 33Q,#360 43Q,#2e0 55Q,#230 70Q,#170 104Q,#0d0 123Q"><i style="--s:#380,#3b0 13Q,#420 30Q,#410 40Q,#380 51Q,#2a0 67Q,#1b0 101Q,#0e0 123Q"><i style="--s:#4a0,#4e0 16Q,#500 29Q,#4c0 39Q,#3e0 53Q,#320 66Q,#200 97Q,#0e0 123Q"><i style="--s:#5d0,#5f0 24Q,#5c0 33Q,#4f0 45Q,#3e0 60Q,#330 76Q,#250 95Q,#100 120Q,#0f0 123Q"><i style="--s:#710,#700 20Q,#6b0 29Q,#5f0 40Q,#480 57Q,#3c0 71Q,#2b0 92Q,#140 116Q,#0f0 123Q"><i style="--s:#840,#810 15Q,#7b0 25Q,#6f0 35Q,#540 53Q,#450 68Q,#320 88Q,#170 113Q,#0f0 123Q"><i style="--s:#940,#910 12Q,#890 22Q,#7c0 32Q,#5f0 50Q,#4e0 65Q,#380 85Q,#1a0 110Q,#100 123Q"><i style="--s:#a00,#9d0 10Q,#940 20Q,#830 31Q,#670 48Q,#530 65Q,#3b0 84Q,#1f0 106Q,#110 121Q,#100 123Q"><i style="--s:#a90,#a60 8Q,#9f0 16Q,#8e0 27Q,#6f0 45Q,#590 62Q,#400 81Q,#230 102Q,#140 117Q,#100 123Q"><i style="--s:#ac0,#a90 8Q,#a00 16Q,#890 30Q,#710 44Q,#490 75Q,#260 99Q,#160 114Q,#0f0 123Q"><i style="--s:#a90,#a70 7Q,#9e0 15Q,#720 42Q,#4d0 71Q,#280 96Q,#180 111Q,#0f0 123Q"><i style="--s:#a10,#9f0 7Q,#960 15Q,#700 40Q,#4f0 67Q,#280 94Q,#190 108Q,#0f0 123Q"><i style="--s:#950,#910 8Q,#880 17Q,#6a0 38Q,#4c0 65Q,#260 93Q,#180 107Q,#0e0 123Q"><i style="--s:#840,#810 8Q,#760 19Q,#600 38Q,#490 62Q,#230 92Q,#170 106Q,#0d0 123Q"><i style="--s:#710,#6e0 9Q,#600 25Q,#500 44Q,#410 61Q,#200 90Q,#140 106Q,#0d0 123Q"><i style="--s:#5c0,#5a0 10Q,#460 41Q,#3a0 59Q,#1c0 90Q,#120 107Q,#0c0 123Q"><i style="--s:#480,#450 13Q,#390 44Q,#320 59Q,#180 90Q,#0f0 108Q,#0b0 123Q"><i style="--s:#350,#2d0 51Q,#250 66Q,#150 89Q,#0d0 110Q,#0a0 123Q"><i style="--s:#240,#260 48Q,#210 63Q,#120 90Q,#0b0 117Q,#0a0 123Q"><i style="--s:#180,#1b0 23Q,#1f0 45Q,#1d0 60Q,#0f0 93Q,#090 123Q"><i style="--s:#0f0,#120 16Q,#1a0 41Q,#190 57Q,#0c0 97Q,#090 123Q"><i style="--s:#0a0,#0d0 14Q,#160 38Q,#160 56Q,#0f0 82Q,#0a0 110Q,#080 123Q"><i style="--s:#090,#0d0 15Q,#130 39Q,#140 60Q,#0a0 101Q,#080 123Q"><i style="--s:#0b0,#140 55Q,#120 70Q,#0a0 97Q,#080 123Q"><i style="--s:#0c0,#120 43Q,#140 60Q,#0d0 81Q,#090 101Q,#080 123Q"><i style="--s:#0d0,#0e0 33Q,#140 56Q,#110 69Q,#0a0 89Q,#090 123Q"><i style="--s:#0c0,#0d0 28Q,#140 52Q,#120 64Q,#0a0 85Q,#090 107Q,#090 123Q"><i style="--s:#0b0,#0c0 24Q,#150 49Q,#130 60Q,#090 81Q,#090 97Q,#0a0 122Q,#0a0 123Q"><i style="--s:#0a0,#0c0 21Q,#150 45Q,#140 55Q,#090 77Q,#080 89Q,#0b0 114Q,#0b0 123Q"><i style="--s:#0b0,#0d0 17Q,#160 40Q,#160 49Q,#090 72Q,#090 84Q,#0d0 107Q,#0b0 123Q"><i style="--s:#100,#130 17Q,#190 35Q,#160 46Q,#0a0 67Q,#090 78Q,#0f0 101Q,#0d0 119Q,#0c0 123Q"><i style="--s:#1a0,#1d0 30Q,#190 42Q,#0c0 61Q,#0b0 70Q,#130 96Q,#110 112Q,#0e0 123Q"><i style="--s:#280,#270 22Q,#220 33Q,#110 55Q,#100 64Q,#180 89Q,#170 103Q,#0f0 123Q"><i style="--s:#3a0,#380 14Q,#300 26Q,#1c0 47Q,#180 56Q,#1a0 66Q,#200 83Q,#1e0 96Q,#100 123Q"><i style="--s:#4f0,#4c0 11Q,#430 22Q,#2c0 41Q,#270 49Q,#270 59Q,#2d0 77Q,#2a0 88Q,#1e0 105Q,#110 123Q"><i style="--s:#680,#650 9Q,#5b0 19Q,#440 37Q,#3e0 45Q,#3d0 55Q,#3f0 70Q,#3b0 81Q,#2e0 95Q,#160 118Q,#120 123Q"><i style="--s:#830,#800 8Q,#770 17Q,#620 34Q,#5c0 44Q,#580 65Q,#510 75Q,#440 86Q,#200 110Q,#130 123Q"><i style="--s:#9f0,#9c0 9Q,#8f0 23Q,#850 34Q,#7f0 49Q,#790 60Q,#710 68Q,#5e0 79Q,#300 102Q,#1e0 114Q,#140 123Q"><i style="--s:#bc0,#b90 11Q,#ac0 32Q,#a60 49Q,#9c0 58Q,#900 65Q,#790 75Q,#440 95Q,#2e0 105Q,#1c0 116Q,#140 123Q"><i style="--s:#d50,#cf0 41Q,#ca0 48Q,#c00 55Q,#b10 62Q,#9a0 70Q,#580 90Q,#3d0 100Q,#270 110Q,#190 119Q,#150 123Q"><i style="--s:#e90,#eb0 21Q,#ee0 37Q,#eb0 44Q,#e30 50Q,#d40 57Q,#be0 64Q,#8d0 77Q,#640 88Q,#480 97Q,#330 105Q,#210 114Q,#150 123Q"><i style="--s:#f40,#f60 14Q,#ff0 34Q,#fd0 42Q,#f80 47Q,#ee0 52Q,#da0 59Q,#c10 66Q,#730 85Q,#530 94Q,#3b0 102Q,#270 111Q,#190 120Q,#160 123Q"></i></i></i></i></i></i></i></i></i></i></i></i></i></i></i></i></i></i></i></i></i></i></i></i></i></i></i></i></i></i></i></i></i></i></i></i></i></i></i></i></i></i></i></i></i></i></i></i></i></i></i></i></i></i></i></i></i></i></i></i></i></i></i></i></i></i></i></i></i></i></i></i></i></i></i></i></i></i></i></i></i></i></i></i></i></i></i></i></i></i></i></i></i></i></i></i></i></i></i></i></i></i></i></i></i></i></i></i></i></i></i></i></i></i></i></i></div><b style="background:linear-gradient(#0000 40%,#0001 60%)"></b></div><svg id="o" width="1850" height="1956" viewBox="0 0 1850 1956"><g fill="#222"><rect x="176" y="84" width="3.9" height="1848"/><rect x="22" y="200.6" width="1804" height="4"/><rect x="22" y="1046.1" width="1804" height="4"/><rect x="382" y="83.9" width="1232" height="3.6"/><rect x="61.4" y="136.7" width="78.4" height="2.8"/></g><path d="M514.83 506A90.83 60.56 0 1 0 333.17 506A90.83 60.56 0 1 0 514.83 506" fill="none" stroke="#fff" stroke-width="3" stroke-dasharray="10.4 2.65"/><path d="M831.83 506A90.83 60.56 0 1 0 650.17 506A90.83 60.56 0 1 0 831.83 506" fill="none" stroke="#fff" stroke-width="3" stroke-dasharray="10.4 2.65"/><g fill="none" stroke="#f00" stroke-width="3.8"><circle cx="676.1" cy="549.2" r="4.0"/><circle cx="719.4" cy="549.2" r="4.0"/><circle cx="762.6" cy="549.2" r="4.0"/><circle cx="805.9" cy="549.2" r="4.0"/><circle cx="676.1" cy="506" r="4.0"/><circle cx="719.4" cy="506" r="4.0"/><circle cx="762.6" cy="506" r="4.0"/><circle cx="805.9" cy="506" r="4.0"/><circle cx="676.1" cy="462.8" r="4.0"/><circle cx="719.4" cy="462.8" r="4.0"/><circle cx="762.6" cy="462.8" r="4.0"/><circle cx="805.9" cy="462.8" r="4.0"/><circle cx="1371.9" cy="568.3" r="4.0"/><circle cx="1371.9" cy="443.7" r="4.0"/><circle cx="1372.7" cy="524.1" r="4.0"/><circle cx="1372.7" cy="487.9" r="4.0"/><circle cx="1422" cy="561.1" r="4.0"/><circle cx="1422" cy="525.3" r="4.0"/><circle cx="1422" cy="486.7" r="4.0"/><circle cx="1422" cy="450.9" r="4.0"/><circle cx="1471.3" cy="524.1" r="4.0"/><circle cx="1471.3" cy="487.9" r="4.0"/><circle cx="1472.1" cy="568.3" r="4.0"/><circle cx="1472.1" cy="443.7" r="4.0"/></g><path d="M514.83 868A90.83 22.71 0 1 0 333.17 868A90.83 22.71 0 1 0 514.83 868" fill="none" stroke="#fff" stroke-width="3" stroke-dasharray="10.4 2.65"/><path d="M831.83 868A90.83 22.71 0 1 0 650.17 868A90.83 22.71 0 1 0 831.83 868" fill="none" stroke="#fff" stroke-width="3" stroke-dasharray="10.4 2.65"/><g fill="none" stroke="#f00" stroke-width="3.8"><circle cx="676.1" cy="884.2" r="4.0"/><circle cx="708.6" cy="884.2" r="4.0"/><circle cx="741" cy="884.2" r="4.0"/><circle cx="773.4" cy="884.2" r="4.0"/><circle cx="805.9" cy="884.2" r="4.0"/><circle cx="676.1" cy="851.8" r="4.0"/><circle cx="708.6" cy="851.8" r="4.0"/><circle cx="741" cy="851.8" r="4.0"/><circle cx="773.4" cy="851.8" r="4.0"/><circle cx="805.9" cy="851.8" r="4.0"/><circle cx="1378.4" cy="868" r="4.0"/><circle cx="1389.6" cy="868" r="4.0"/><circle cx="1400.2" cy="868" r="4.0"/><circle cx="1401.9" cy="924.5" r="4.0"/><circle cx="1401.9" cy="811.5" r="4.0"/><circle cx="1442.1" cy="924.5" r="4.0"/><circle cx="1442.1" cy="811.5" r="4.0"/><circle cx="1443.8" cy="868" r="4.0"/><circle cx="1454.4" cy="868" r="4.0"/><circle cx="1465.6" cy="868" r="4.0"/></g><path d="M514.83 1351A90.83 60.56 0 1 0 333.17 1351A90.83 60.56 0 1 0 514.83 1351" fill="none" stroke="#fff" stroke-width="3" stroke-dasharray="10.4 2.65"/><path d="M831.83 1351A90.83 60.56 0 1 0 650.17 1351A90.83 60.56 0 1 0 831.83 1351" fill="none" stroke="#fff" stroke-width="3" stroke-dasharray="10.4 2.65"/><g fill="none" stroke="#f00" stroke-width="3.8"><circle cx="676.1" cy="1394.2" r="4.0"/><circle cx="719.4" cy="1394.2" r="4.0"/><circle cx="762.6" cy="1394.2" r="4.0"/><circle cx="805.9" cy="1394.2" r="4.0"/><circle cx="676.1" cy="1365.4" r="4.0"/><circle cx="719.4" cy="1365.4" r="4.0"/><circle cx="762.6" cy="1365.4" r="4.0"/><circle cx="805.9" cy="1365.4" r="4.0"/><circle cx="676.1" cy="1336.6" r="4.0"/><circle cx="719.4" cy="1336.6" r="4.0"/><circle cx="762.6" cy="1336.6" r="4.0"/><circle cx="805.9" cy="1336.6" r="4.0"/><circle cx="676.1" cy="1307.8" r="4.0"/><circle cx="719.4" cy="1307.8" r="4.0"/><circle cx="762.6" cy="1307.8" r="4.0"/><circle cx="805.9" cy="1307.8" r="4.0"/><circle cx="1364.4" cy="1413.3" r="4.0"/><circle cx="1364.4" cy="1288.7" r="4.0"/><circle cx="1375.9" cy="1364.8" r="4.0"/><circle cx="1375.9" cy="1337.2" r="4.0"/><circle cx="1405.7" cy="1369.2" r="4.0"/><circle cx="1405.7" cy="1332.8" r="4.0"/><circle cx="1408.5" cy="1404" r="4.0"/><circle cx="1408.5" cy="1298" r="4.0"/><circle cx="1435.5" cy="1404" r="4.0"/><circle cx="1435.5" cy="1298" r="4.0"/><circle cx="1438.3" cy="1369.2" r="4.0"/><circle cx="1438.3" cy="1332.8" r="4.0"/><circle cx="1468.1" cy="1364.8" r="4.0"/><circle cx="1468.1" cy="1337.2" r="4.0"/><circle cx="1479.6" cy="1413.3" r="4.0"/><circle cx="1479.6" cy="1288.7" r="4.0"/></g><path d="M514.83 1713A90.83 22.71 0 1 0 333.17 1713A90.83 22.71 0 1 0 514.83 1713" fill="none" stroke="#fff" stroke-width="3" stroke-dasharray="10.4 2.65"/><path d="M831.83 1713A90.83 22.71 0 1 0 650.17 1713A90.83 22.71 0 1 0 831.83 1713" fill="none" stroke="#fff" stroke-width="3" stroke-dasharray="10.4 2.65"/><g fill="none" stroke="#f00" stroke-width="3.8"><circle cx="676.1" cy="1729.2" r="4.0"/><circle cx="719.4" cy="1729.2" r="4.0"/><circle cx="762.6" cy="1729.2" r="4.0"/><circle cx="805.9" cy="1729.2" r="4.0"/><circle cx="676.1" cy="1718.4" r="4.0"/><circle cx="719.4" cy="1718.4" r="4.0"/><circle cx="762.6" cy="1718.4" r="4.0"/><circle cx="805.9" cy="1718.4" r="4.0"/><circle cx="676.1" cy="1707.6" r="4.0"/><circle cx="719.4" cy="1707.6" r="4.0"/><circle cx="762.6" cy="1707.6" r="4.0"/><circle cx="805.9" cy="1707.6" r="4.0"/><circle cx="676.1" cy="1696.8" r="4.0"/><circle cx="719.4" cy="1696.8" r="4.0"/><circle cx="762.6" cy="1696.8" r="4.0"/><circle cx="805.9" cy="1696.8" r="4.0"/><circle cx="1373.2" cy="1713" r="4.0"/><circle cx="1374" cy="1799.8" r="4.0"/><circle cx="1374" cy="1626.2" r="4.0"/><circle cx="1381.5" cy="1713" r="4.0"/><circle cx="1402.4" cy="1713" r="4.0"/><circle cx="1412" cy="1775" r="4.0"/><circle cx="1412" cy="1713" r="4.0"/><circle cx="1412" cy="1651" r="4.0"/><circle cx="1432" cy="1775" r="4.0"/><circle cx="1432" cy="1713" r="4.0"/><circle cx="1432" cy="1651" r="4.0"/><circle cx="1441.6" cy="1713" r="4.0"/><circle cx="1462.5" cy="1713" r="4.0"/><circle cx="1470" cy="1799.8" r="4.0"/><circle cx="1470" cy="1626.2" r="4.0"/><circle cx="1470.8" cy="1713" r="4.0"/></g><g fill="none" stroke="#1c1c1c" stroke-width="2"><rect x="315" y="397" width="218" height="218"/><rect x="632" y="397" width="218" height="218"/><rect x="1010" y="397" width="218" height="218"/><rect x="1313" y="397" width="218" height="218"/><rect x="1617" y="397" width="218" height="218"/><rect x="315" y="759" width="218" height="218"/><rect x="632" y="759" width="218" height="218"/><rect x="1010" y="759" width="218" height="218"/><rect x="1313" y="759" width="218" height="218"/><rect x="1617" y="759" width="218" height="218"/><rect x="315" y="1242" width="218" height="218"/><rect x="632" y="1242" width="218" height="218"/><rect x="1010" y="1242" width="218" height="218"/><rect x="1313" y="1242" width="218" height="218"/><rect x="1617" y="1242" width="218" height="218"/><rect x="315" y="1604" width="218" height="218"/><rect x="632" y="1604" width="218" height="218"/><rect x="1010" y="1604" width="218" height="218"/><rect x="1313" y="1604" width="218" height="218"/><rect x="1617" y="1604" width="218" height="218"/><path d="M333.2 398v2.2M333.2 614v-2.2M316 596.8h2.2M532 596.8h-2.2M424 398v2.2M424 614v-2.2M316 506h2.2M532 506h-2.2M514.8 398v2.2M514.8 614v-2.2M316 415.2h2.2M532 415.2h-2.2M650.2 398v2.2M650.2 614v-2.2M633 596.8h2.2M849 596.8h-2.2M741 398v2.2M741 614v-2.2M633 506h2.2M849 506h-2.2M831.8 398v2.2M831.8 614v-2.2M633 415.2h2.2M849 415.2h-2.2M1046.3 398v2.2M1046.3 614v-2.2M1011 578.7h2.2M1227 578.7h-2.2M1119 398v2.2M1119 614v-2.2M1011 506h2.2M1227 506h-2.2M1191.7 398v2.2M1191.7 614v-2.2M1011 433.3h2.2M1227 433.3h-2.2M1349.3 398v2.2M1349.3 614v-2.2M1314 578.7h2.2M1530 578.7h-2.2M1422 398v2.2M1422 614v-2.2M1314 506h2.2M1530 506h-2.2M1494.7 398v2.2M1494.7 614v-2.2M1314 433.3h2.2M1530 433.3h-2.2M1653.3 398v2.2M1653.3 614v-2.2M1618 578.7h2.2M1834 578.7h-2.2M1726 398v2.2M1726 614v-2.2M1618 506h2.2M1834 506h-2.2M1798.7 398v2.2M1798.7 614v-2.2M1618 433.3h2.2M1834 433.3h-2.2M333.2 760v2.2M333.2 976v-2.2M316 958.8h2.2M532 958.8h-2.2M424 760v2.2M424 976v-2.2M316 868h2.2M532 868h-2.2M514.8 760v2.2M514.8 976v-2.2M316 777.2h2.2M532 777.2h-2.2M650.2 760v2.2M650.2 976v-2.2M633 958.8h2.2M849 958.8h-2.2M741 760v2.2M741 976v-2.2M633 868h2.2M849 868h-2.2M831.8 760v2.2M831.8 976v-2.2M633 777.2h2.2M849 777.2h-2.2M1046.3 760v2.2M1046.3 976v-2.2M1011 940.7h2.2M1227 940.7h-2.2M1119 760v2.2M1119 976v-2.2M1011 868h2.2M1227 868h-2.2M1191.7 760v2.2M1191.7 976v-2.2M1011 795.3h2.2M1227 795.3h-2.2M1349.3 760v2.2M1349.3 976v-2.2M1314 940.7h2.2M1530 940.7h-2.2M1422 760v2.2M1422 976v-2.2M1314 868h2.2M1530 868h-2.2M1494.7 760v2.2M1494.7 976v-2.2M1314 795.3h2.2M1530 795.3h-2.2M1653.3 760v2.2M1653.3 976v-2.2M1618 940.7h2.2M1834 940.7h-2.2M1726 760v2.2M1726 976v-2.2M1618 868h2.2M1834 868h-2.2M1798.7 760v2.2M1798.7 976v-2.2M1618 795.3h2.2M1834 795.3h-2.2M333.2 1243v2.2M333.2 1459v-2.2M316 1441.8h2.2M532 1441.8h-2.2M424 1243v2.2M424 1459v-2.2M316 1351h2.2M532 1351h-2.2M514.8 1243v2.2M514.8 1459v-2.2M316 1260.2h2.2M532 1260.2h-2.2M650.2 1243v2.2M650.2 1459v-2.2M633 1441.8h2.2M849 1441.8h-2.2M741 1243v2.2M741 1459v-2.2M633 1351h2.2M849 1351h-2.2M831.8 1243v2.2M831.8 1459v-2.2M633 1260.2h2.2M849 1260.2h-2.2M1046.3 1243v2.2M1046.3 1459v-2.2M1011 1423.7h2.2M1227 1423.7h-2.2M1119 1243v2.2M1119 1459v-2.2M1011 1351h2.2M1227 1351h-2.2M1191.7 1243v2.2M1191.7 1459v-2.2M1011 1278.3h2.2M1227 1278.3h-2.2M1349.3 1243v2.2M1349.3 1459v-2.2M1314 1423.7h2.2M1530 1423.7h-2.2M1422 1243v2.2M1422 1459v-2.2M1314 1351h2.2M1530 1351h-2.2M1494.7 1243v2.2M1494.7 1459v-2.2M1314 1278.3h2.2M1530 1278.3h-2.2M1653.3 1243v2.2M1653.3 1459v-2.2M1618 1423.7h2.2M1834 1423.7h-2.2M1726 1243v2.2M1726 1459v-2.2M1618 1351h2.2M1834 1351h-2.2M1798.7 1243v2.2M1798.7 1459v-2.2M1618 1278.3h2.2M1834 1278.3h-2.2M333.2 1605v2.2M333.2 1821v-2.2M316 1803.8h2.2M532 1803.8h-2.2M424 1605v2.2M424 1821v-2.2M316 1713h2.2M532 1713h-2.2M514.8 1605v2.2M514.8 1821v-2.2M316 1622.2h2.2M532 1622.2h-2.2M650.2 1605v2.2M650.2 1821v-2.2M633 1803.8h2.2M849 1803.8h-2.2M741 1605v2.2M741 1821v-2.2M633 1713h2.2M849 1713h-2.2M831.8 1605v2.2M831.8 1821v-2.2M633 1622.2h2.2M849 1622.2h-2.2M1046.3 1605v2.2M1046.3 1821v-2.2M1011 1785.7h2.2M1227 1785.7h-2.2M1119 1605v2.2M1119 1821v-2.2M1011 1713h2.2M1227 1713h-2.2M1191.7 1605v2.2M1191.7 1821v-2.2M1011 1640.3h2.2M1227 1640.3h-2.2M1349.3 1605v2.2M1349.3 1821v-2.2M1314 1785.7h2.2M1530 1785.7h-2.2M1422 1605v2.2M1422 1821v-2.2M1314 1713h2.2M1530 1713h-2.2M1494.7 1605v2.2M1494.7 1821v-2.2M1314 1640.3h2.2M1530 1640.3h-2.2M1653.3 1605v2.2M1653.3 1821v-2.2M1618 1785.7h2.2M1834 1785.7h-2.2M1726 1605v2.2M1726 1821v-2.2M1618 1713h2.2M1834 1713h-2.2M1798.7 1605v2.2M1798.7 1821v-2.2M1618 1640.3h2.2M1834 1640.3h-2.2"/></g><g style="font-family:'Liberation Serif',serif" fill="#000" font-size="100"><text transform="matrix(.6014 0 0 .6 779.2 63.7)">Beam eccentricity</text><text transform="matrix(.4751 0 0 .455 674.41 271.1)">Square</text><text transform="matrix(.474 0 0 .455 664.19 323)">unit cell</text><text transform="matrix(.4757 0 0 .455 1588.27 270.6)">Experimental</text><text transform="matrix(.4779 0 0 .455 1661.74 323)">results</text><text transform="matrix(.4749 0 0 .455 625.28 1115.6)">Rectangular</text><text transform="matrix(.4734 0 0 .455 664.09 1168.4)">unit cell</text></g><g style="font-family:'Liberation Serif',serif" fill="#262626" font-size="100"><text transform="matrix(.4895 0 0 .455 250.14 167.1)">Configuration at the plane <tspan font-style="italic">z</tspan> = 0</text><text transform="matrix(.4756 0 0 .455 1053.4 166.9)">Configuration in the Fourier domain</text><text transform="matrix(.3848 0 0 .382 75.74 517.9)">1.5</text><text transform="matrix(.384 0 0 .382 77.13 879.9)">4.0</text><text transform="matrix(.3848 0 0 .382 75.74 1362.9)">1.5</text><text transform="matrix(.384 0 0 .382 77.13 1724.9)">4.0</text></g><g style="font-family:'Liberation Serif',serif;font-style:italic;stroke:#fff;stroke-width:.008em" fill="#262626" font-size="100"><text transform="matrix(.6064 0 0 .5739 59.28 122.41)">w</text><text transform="matrix(.4386 0 0 .4156 121.24 131.01)">x</text><text transform="matrix(.6112 0 0 .5674 59.67 172.02)">w</text><text transform="matrix(.3689 0 0 .4015 123.57 179.97)">y</text><text transform="matrix(.6477 0 0 .5711 355.35 1924.49)">x</text><text transform="matrix(.5714 0 0 .8576 390.59 1937.17)">/</text><text transform="matrix(.6032 0 0 .5652 412.59 1924.22)">w</text><text transform="matrix(.4273 0 0 .4089 474.63 1932.7)">x</text><text transform="matrix(.6477 0 0 .5711 672.35 1924.49)">x</text><text transform="matrix(.5714 0 0 .8576 707.59 1937.17)">/</text><text transform="matrix(.6032 0 0 .5652 729.59 1924.22)">w</text><text transform="matrix(.4273 0 0 .4089 791.63 1932.7)">x</text><text transform="matrix(.8247 0 0 .6283 1097.46 1929.69)">u</text><text transform="matrix(.8247 0 0 .6283 1400.46 1929.69)">u</text><text transform="matrix(.8247 0 0 .6283 1704.46 1929.69)">u</text><text transform="matrix(0 -.5146 .5429 0 239.5 570.44)">y</text><text transform="matrix(0 -.574 .8424 0 252.18 540.7)">/</text><text transform="matrix(0 -.584 .563 0 240.42 518.25)">w</text><text transform="matrix(0 -.4364 .4067 0 248.5 456.56)">x</text><text transform="matrix(0 -.6643 .6413 0 932.18 521.13)">v</text><text transform="matrix(0 -.5146 .5429 0 239.5 932.44)">y</text><text transform="matrix(0 -.574 .8424 0 252.18 902.7)">/</text><text transform="matrix(0 -.584 .563 0 240.42 880.25)">w</text><text transform="matrix(0 -.4364 .4067 0 248.5 818.56)">x</text><text transform="matrix(0 -.6643 .6413 0 932.18 883.13)">v</text><text transform="matrix(0 -.5146 .5429 0 239.5 1415.44)">y</text><text transform="matrix(0 -.574 .8424 0 252.18 1385.7)">/</text><text transform="matrix(0 -.584 .563 0 240.42 1363.25)">w</text><text transform="matrix(0 -.4364 .4067 0 248.5 1301.56)">x</text><text transform="matrix(0 -.6643 .6413 0 932.18 1366.13)">v</text><text transform="matrix(0 -.5146 .5429 0 239.5 1777.44)">y</text><text transform="matrix(0 -.574 .8424 0 252.18 1747.7)">/</text><text transform="matrix(0 -.584 .563 0 240.42 1725.25)">w</text><text transform="matrix(0 -.4364 .4067 0 248.5 1663.56)">x</text><text transform="matrix(0 -.6643 .6413 0 932.18 1728.13)">v</text></g><g style="font-family:'Liberation Serif',serif;stroke:#fff;stroke-width:.006em" fill="#262626" font-size="100"><text transform="matrix(.3929 0 0 .412 99.93 130.59)">0</text><text transform="matrix(.3929 0 0 .4075 99.93 179.8)">0</text><text transform="matrix(.3952 0 0 .409 452.82 1932.8)">0</text><text transform="matrix(.3952 0 0 .409 769.82 1932.8)">0</text><text transform="matrix(0 -.4024 .412 0 248.89 478.11)">0</text><text transform="matrix(0 -.4024 .412 0 248.89 840.11)">0</text><text transform="matrix(0 -.4024 .412 0 248.89 1323.11)">0</text><text transform="matrix(0 -.4024 .412 0 248.89 1685.11)">0</text></g><g style="font-family:'Liberation Sans',sans-serif" fill="#262626" font-size="100"><text transform="matrix(.3389 0 0 .3648 316.96 657)">-1</text><text transform="matrix(.3389 0 0 .3648 270.29 609.33)">-1</text><text transform="matrix(.3389 0 0 .3648 414.59 657)">0</text><text transform="matrix(.3389 0 0 .3648 280.49 518.5)">0</text><text transform="matrix(.3389 0 0 .3648 508.31 657)">1</text><text transform="matrix(.3389 0 0 .3648 281.48 427.67)">1</text><text transform="matrix(.3389 0 0 .3648 633.96 657)">-1</text><text transform="matrix(.3389 0 0 .3648 587.29 609.33)">-1</text><text transform="matrix(.3389 0 0 .3648 731.59 657)">0</text><text transform="matrix(.3389 0 0 .3648 597.49 518.5)">0</text><text transform="matrix(.3389 0 0 .3648 825.31 657)">1</text><text transform="matrix(.3389 0 0 .3648 598.48 427.67)">1</text><text transform="matrix(.3389 0 0 .3648 1030.12 657)">-1</text><text transform="matrix(.3389 0 0 .3648 965.29 591.17)">-1</text><text transform="matrix(.3389 0 0 .3648 1109.59 657)">0</text><text transform="matrix(.3389 0 0 .3648 975.49 518.5)">0</text><text transform="matrix(.3389 0 0 .3648 1185.14 657)">1</text><text transform="matrix(.3389 0 0 .3648 976.48 445.83)">1</text><text transform="matrix(.333 0 0 .3732 1031.4 386.93)">10</text><text transform="matrix(.2787 0 0 .3014 1073.95 370)">-3</text><text transform="matrix(.3389 0 0 .3648 1333.12 657)">-1</text><text transform="matrix(.3389 0 0 .3648 1268.29 591.17)">-1</text><text transform="matrix(.3389 0 0 .3648 1412.59 657)">0</text><text transform="matrix(.3389 0 0 .3648 1278.49 518.5)">0</text><text transform="matrix(.3389 0 0 .3648 1488.14 657)">1</text><text transform="matrix(.3389 0 0 .3648 1279.48 445.83)">1</text><text transform="matrix(.333 0 0 .3732 1334.4 386.93)">10</text><text transform="matrix(.2787 0 0 .3014 1376.95 370)">-3</text><text transform="matrix(.3389 0 0 .3648 1637.12 657)">-1</text><text transform="matrix(.3389 0 0 .3648 1572.29 591.17)">-1</text><text transform="matrix(.3389 0 0 .3648 1716.59 657)">0</text><text transform="matrix(.3389 0 0 .3648 1582.49 518.5)">0</text><text transform="matrix(.3389 0 0 .3648 1792.14 657)">1</text><text transform="matrix(.3389 0 0 .3648 1583.48 445.83)">1</text><text transform="matrix(.333 0 0 .3732 1638.4 386.93)">10</text><text transform="matrix(.2787 0 0 .3014 1680.95 370)">-3</text><text transform="matrix(.3389 0 0 .3648 316.96 1019)">-1</text><text transform="matrix(.3389 0 0 .3648 270.29 971.33)">-1</text><text transform="matrix(.3389 0 0 .3648 414.59 1019)">0</text><text transform="matrix(.3389 0 0 .3648 280.49 880.5)">0</text><text transform="matrix(.3389 0 0 .3648 508.31 1019)">1</text><text transform="matrix(.3389 0 0 .3648 281.48 789.67)">1</text><text transform="matrix(.3389 0 0 .3648 633.96 1019)">-1</text><text transform="matrix(.3389 0 0 .3648 587.29 971.33)">-1</text><text transform="matrix(.3389 0 0 .3648 731.59 1019)">0</text><text transform="matrix(.3389 0 0 .3648 597.49 880.5)">0</text><text transform="matrix(.3389 0 0 .3648 825.31 1019)">1</text><text transform="matrix(.3389 0 0 .3648 598.48 789.67)">1</text><text transform="matrix(.3389 0 0 .3648 1030.12 1019)">-1</text><text transform="matrix(.3389 0 0 .3648 965.29 953.17)">-1</text><text transform="matrix(.3389 0 0 .3648 1109.59 1019)">0</text><text transform="matrix(.3389 0 0 .3648 975.49 880.5)">0</text><text transform="matrix(.3389 0 0 .3648 1185.14 1019)">1</text><text transform="matrix(.3389 0 0 .3648 976.48 807.83)">1</text><text transform="matrix(.333 0 0 .3732 1031.4 748.93)">10</text><text transform="matrix(.2787 0 0 .3014 1073.95 732)">-3</text><text transform="matrix(.3389 0 0 .3648 1333.12 1019)">-1</text><text transform="matrix(.3389 0 0 .3648 1268.29 953.17)">-1</text><text transform="matrix(.3389 0 0 .3648 1412.59 1019)">0</text><text transform="matrix(.3389 0 0 .3648 1278.49 880.5)">0</text><text transform="matrix(.3389 0 0 .3648 1488.14 1019)">1</text><text transform="matrix(.3389 0 0 .3648 1279.48 807.83)">1</text><text transform="matrix(.333 0 0 .3732 1348.1 748.93)">10</text><text transform="matrix(.2787 0 0 .3014 1390.65 732)">-3</text><text transform="matrix(.3389 0 0 .3648 1637.12 1019)">-1</text><text transform="matrix(.3389 0 0 .3648 1572.29 953.17)">-1</text><text transform="matrix(.3389 0 0 .3648 1716.59 1019)">0</text><text transform="matrix(.3389 0 0 .3648 1582.49 880.5)">0</text><text transform="matrix(.3389 0 0 .3648 1792.14 1019)">1</text><text transform="matrix(.3389 0 0 .3648 1583.48 807.83)">1</text><text transform="matrix(.333 0 0 .3732 1638.4 748.93)">10</text><text transform="matrix(.2787 0 0 .3014 1680.95 732)">-3</text><text transform="matrix(.3389 0 0 .3648 316.96 1502)">-1</text><text transform="matrix(.3389 0 0 .3648 270.29 1454.33)">-1</text><text transform="matrix(.3389 0 0 .3648 414.59 1502)">0</text><text transform="matrix(.3389 0 0 .3648 280.49 1363.5)">0</text><text transform="matrix(.3389 0 0 .3648 508.31 1502)">1</text><text transform="matrix(.3389 0 0 .3648 281.48 1272.67)">1</text><text transform="matrix(.3389 0 0 .3648 633.96 1502)">-1</text><text transform="matrix(.3389 0 0 .3648 587.29 1454.33)">-1</text><text transform="matrix(.3389 0 0 .3648 731.59 1502)">0</text><text transform="matrix(.3389 0 0 .3648 597.49 1363.5)">0</text><text transform="matrix(.3389 0 0 .3648 825.31 1502)">1</text><text transform="matrix(.3389 0 0 .3648 598.48 1272.67)">1</text><text transform="matrix(.3389 0 0 .3648 1030.12 1502)">-1</text><text transform="matrix(.3389 0 0 .3648 965.29 1436.17)">-1</text><text transform="matrix(.3389 0 0 .3648 1109.59 1502)">0</text><text transform="matrix(.3389 0 0 .3648 975.49 1363.5)">0</text><text transform="matrix(.3389 0 0 .3648 1185.14 1502)">1</text><text transform="matrix(.3389 0 0 .3648 976.48 1290.83)">1</text><text transform="matrix(.333 0 0 .3732 1031.4 1231.93)">10</text><text transform="matrix(.2787 0 0 .3014 1073.95 1215)">-3</text><text transform="matrix(.3389 0 0 .3648 1333.12 1502)">-1</text><text transform="matrix(.3389 0 0 .3648 1268.29 1436.17)">-1</text><text transform="matrix(.3389 0 0 .3648 1412.59 1502)">0</text><text transform="matrix(.3389 0 0 .3648 1278.49 1363.5)">0</text><text transform="matrix(.3389 0 0 .3648 1488.14 1502)">1</text><text transform="matrix(.3389 0 0 .3648 1279.48 1290.83)">1</text><text transform="matrix(.333 0 0 .3732 1348.1 1231.93)">10</text><text transform="matrix(.2787 0 0 .3014 1390.65 1215)">-3</text><text transform="matrix(.3389 0 0 .3648 1637.12 1502)">-1</text><text transform="matrix(.3389 0 0 .3648 1572.29 1436.17)">-1</text><text transform="matrix(.3389 0 0 .3648 1716.59 1502)">0</text><text transform="matrix(.3389 0 0 .3648 1582.49 1363.5)">0</text><text transform="matrix(.3389 0 0 .3648 1792.14 1502)">1</text><text transform="matrix(.3389 0 0 .3648 1583.48 1290.83)">1</text><text transform="matrix(.333 0 0 .3732 1638.4 1231.93)">10</text><text transform="matrix(.2787 0 0 .3014 1680.95 1215)">-3</text><text transform="matrix(.3389 0 0 .3648 316.96 1864)">-1</text><text transform="matrix(.3389 0 0 .3648 270.29 1816.33)">-1</text><text transform="matrix(.3389 0 0 .3648 414.59 1864)">0</text><text transform="matrix(.3389 0 0 .3648 280.49 1725.5)">0</text><text transform="matrix(.3389 0 0 .3648 508.31 1864)">1</text><text transform="matrix(.3389 0 0 .3648 281.48 1634.67)">1</text><text transform="matrix(.3389 0 0 .3648 633.96 1864)">-1</text><text transform="matrix(.3389 0 0 .3648 587.29 1816.33)">-1</text><text transform="matrix(.3389 0 0 .3648 731.59 1864)">0</text><text transform="matrix(.3389 0 0 .3648 597.49 1725.5)">0</text><text transform="matrix(.3389 0 0 .3648 825.31 1864)">1</text><text transform="matrix(.3389 0 0 .3648 598.48 1634.67)">1</text><text transform="matrix(.3389 0 0 .3648 1030.12 1864)">-1</text><text transform="matrix(.3389 0 0 .3648 965.29 1798.17)">-1</text><text transform="matrix(.3389 0 0 .3648 1109.59 1864)">0</text><text transform="matrix(.3389 0 0 .3648 975.49 1725.5)">0</text><text transform="matrix(.3389 0 0 .3648 1185.14 1864)">1</text><text transform="matrix(.3389 0 0 .3648 976.48 1652.83)">1</text><text transform="matrix(.333 0 0 .3732 1031.4 1593.93)">10</text><text transform="matrix(.2787 0 0 .3014 1073.95 1577)">-3</text><text transform="matrix(.3389 0 0 .3648 1333.12 1864)">-1</text><text transform="matrix(.3389 0 0 .3648 1268.29 1798.17)">-1</text><text transform="matrix(.3389 0 0 .3648 1412.59 1864)">0</text><text transform="matrix(.3389 0 0 .3648 1278.49 1725.5)">0</text><text transform="matrix(.3389 0 0 .3648 1488.14 1864)">1</text><text transform="matrix(.3389 0 0 .3648 1279.48 1652.83)">1</text><text transform="matrix(.333 0 0 .3732 1348.1 1593.93)">10</text><text transform="matrix(.2787 0 0 .3014 1390.65 1577)">-3</text><text transform="matrix(.3389 0 0 .3648 1637.12 1864)">-1</text><text transform="matrix(.3389 0 0 .3648 1572.29 1798.17)">-1</text><text transform="matrix(.3389 0 0 .3648 1716.59 1864)">0</text><text transform="matrix(.3389 0 0 .3648 1582.49 1725.5)">0</text><text transform="matrix(.3389 0 0 .3648 1792.14 1864)">1</text><text transform="matrix(.3389 0 0 .3648 1583.48 1652.83)">1</text><text transform="matrix(.333 0 0 .3732 1638.4 1593.93)">10</text><text transform="matrix(.2787 0 0 .3014 1680.95 1577)">-3</text></g><g style="font-family:'Liberation Sans',sans-serif;stroke:#fff;stroke-width:.02em" fill="#262626" font-size="100"><text transform="matrix(.4096 0 0 .4096 1005.12 391.22)">×</text><text transform="matrix(.4096 0 0 .4096 1308.12 391.22)">×</text><text transform="matrix(.4096 0 0 .4096 1612.12 391.22)">×</text><text transform="matrix(.4096 0 0 .4096 1005.12 753.22)">×</text><text transform="matrix(.4096 0 0 .4096 1321.82 753.22)">×</text><text transform="matrix(.4096 0 0 .4096 1612.12 753.22)">×</text><text transform="matrix(.4096 0 0 .4096 1005.12 1236.22)">×</text><text transform="matrix(.4096 0 0 .4096 1321.82 1236.22)">×</text><text transform="matrix(.4096 0 0 .4096 1612.12 1236.22)">×</text><text transform="matrix(.4096 0 0 .4096 1005.12 1598.22)">×</text><text transform="matrix(.4096 0 0 .4096 1321.82 1598.22)">×</text><text transform="matrix(.4096 0 0 .4096 1612.12 1598.22)">×</text></g></svg></body></html>
